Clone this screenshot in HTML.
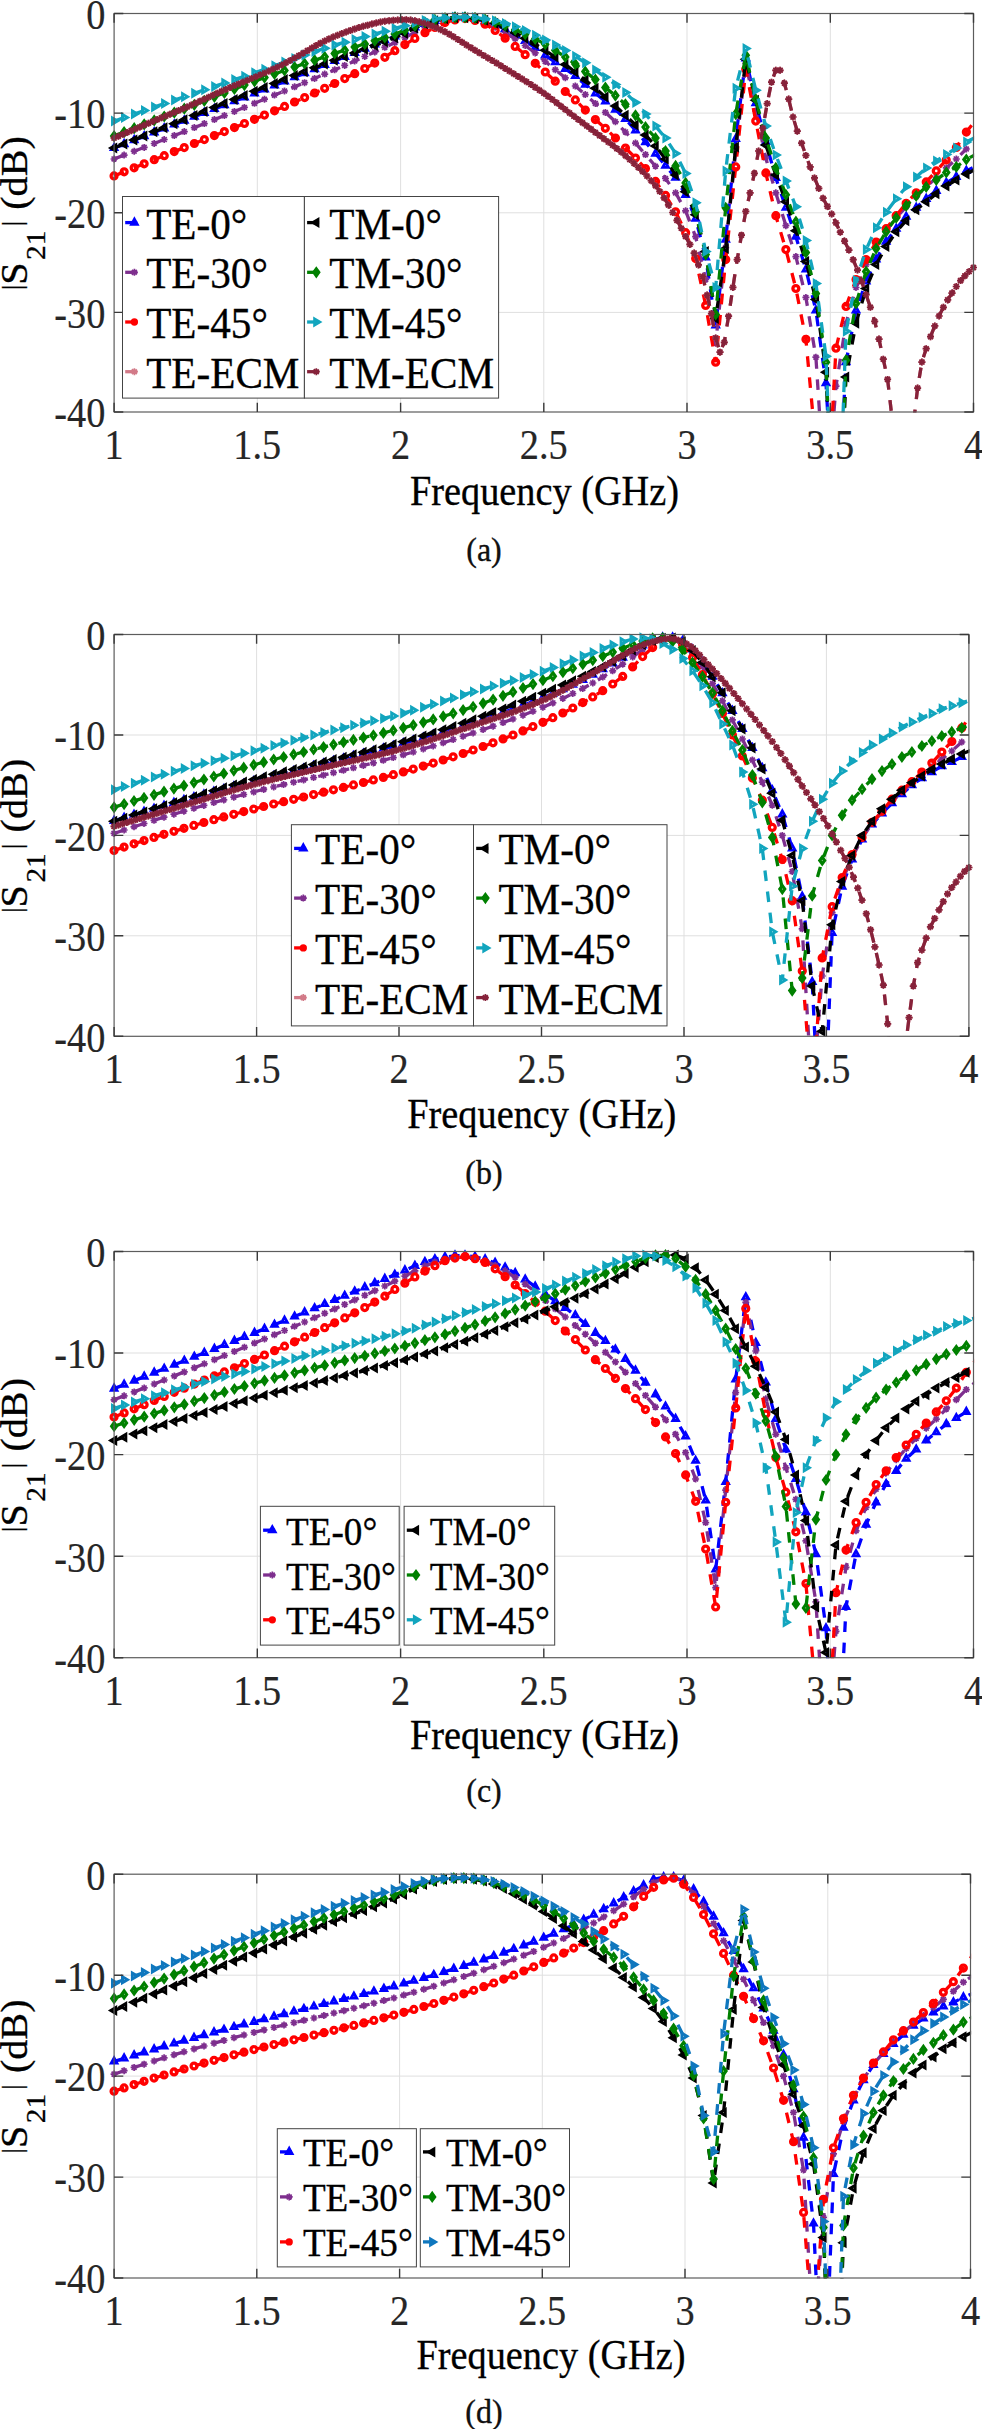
<!DOCTYPE html>
<html><head><meta charset="utf-8"><title>S21 figure</title>
<style>html,body{margin:0;padding:0;background:#fff}svg{display:block}text{font-family:'Liberation Serif',serif}</style></head>
<body>
<svg width="982" height="2429" viewBox="0 0 982 2429">
<rect width="982" height="2429" fill="#fff"/>
<clipPath id="c0"><rect x="114.1" y="13" width="860" height="399.5"/></clipPath>
<path d="M257.3,13.5V412M400.6,13.5V412M543.8,13.5V412M687,13.5V412M830.3,13.5V412M114.1,113.1H973.5M114.1,212.8H973.5M114.1,312.4H973.5" stroke="#dfdfdf" stroke-width="1" fill="none"/>
<path clip-path="url(#c0)" d="M114.1,148L124.1,144.1L134.2,140.2L144.2,136.3L154.2,132.4L164.2,128.5L174.3,124.6L184.3,120.7L194.3,116.8L204.3,112.9L214.4,109L224.4,105.1L234.4,101.2L244.4,97.3L254.5,93.3L264.5,89.4L274.5,85.4L284.5,81.3L294.6,77.3L304.6,73.2L314.6,69.1L324.7,65.1L334.7,61L344.7,56.9L354.7,52.8L364.8,48.7L374.8,44.6L384.8,40.4L394.8,36.3L404.9,32.1L414.9,27.5L424.9,23.8L434.9,21L445,19L455,17.6L465,17.5L475,18.7L485.1,21.2L495.1,24.7L505.1,29.2L515.2,34.7L525.2,41L535.2,48L545.2,55.4L555.3,62.2L565.3,68.8L575.3,76L585.3,84.6L595.4,93.4L605.4,101.3L615.4,109.6L625.4,119L635.5,130.4L645.5,142.2L655.5,153.6L665.5,165.6L675.6,177.7L685.6,194.8L695.6,218.7L705.7,257.6L715.7,325.3L725.7,239.6L735.7,139L745.8,58.3L755.8,103.2L765.8,142L775.8,177.9L785.9,207.8L795.9,236.7L805.9,269.5L815.9,310.4L826,383.1L836,561.4L846,362.2L856,310.4L866.1,281.5L876.1,259.6L886.1,241.6L896.2,228.7L906.2,216.7L916.2,207.8L926.2,198.8L936.3,190.8L946.3,182.9L956.3,176.9L966.3,170.9L976.4,165.9" fill="none" stroke="#0000ff" stroke-width="3.3" stroke-dasharray="10.6 10.6"/>
<path d="M108.9,151.1L119.3,151.1L114.1,141.7ZM113.7,148.3L114.5,148.3L114.1,147.5ZM118.9,147.2L129.3,147.2L124.1,137.8ZM123.7,144.3L124.6,144.3L124.1,143.6ZM129,143.2L139.4,143.2L134.2,133.8ZM133.7,140.4L134.6,140.4L134.2,139.6ZM139,139.3L149.4,139.3L144.2,129.9ZM143.7,136.5L144.6,136.5L144.2,135.7ZM149,135.4L159.4,135.4L154.2,126ZM153.8,132.6L154.6,132.6L154.2,131.8ZM159,131.5L169.4,131.5L164.2,122.1ZM163.8,128.7L164.7,128.7L164.2,127.9ZM169.1,127.6L179.5,127.6L174.3,118.2ZM173.8,124.8L174.7,124.8L174.3,124ZM179.1,123.7L189.5,123.7L184.3,114.3ZM183.8,120.9L184.7,120.9L184.3,120.1ZM189.1,119.8L199.5,119.8L194.3,110.4ZM193.9,117L194.8,117L194.3,116.2ZM199.1,115.9L209.5,115.9L204.3,106.5ZM203.9,113.1L204.8,113.1L204.3,112.3ZM209.2,112.1L219.6,112.1L214.4,102.7ZM213.9,109.2L214.8,109.2L214.4,108.4ZM219.2,108.2L229.6,108.2L224.4,98.8ZM223.9,105.4L224.8,105.4L224.4,104.6ZM229.2,104.3L239.6,104.3L234.4,94.9ZM234,101.5L234.9,101.5L234.4,100.7ZM239.2,100.4L249.6,100.4L244.4,91ZM244,97.5L244.9,97.5L244.4,96.7ZM249.3,96.4L259.7,96.4L254.5,87ZM254,93.6L254.9,93.6L254.5,92.8ZM259.3,92.4L269.7,92.4L264.5,83ZM264.1,89.6L264.9,89.6L264.5,88.8ZM269.3,88.4L279.7,88.4L274.5,79ZM274.1,85.6L275,85.6L274.5,84.8ZM279.3,84.4L289.7,84.4L284.5,75ZM284.1,81.6L285,81.6L284.5,80.8ZM289.4,80.3L299.8,80.3L294.6,70.9ZM294.1,77.5L295,77.5L294.6,76.7ZM299.4,76.3L309.8,76.3L304.6,66.9ZM304.2,73.5L305,73.5L304.6,72.7ZM309.4,72.2L319.8,72.2L314.6,62.8ZM314.2,69.4L315.1,69.4L314.6,68.6ZM319.5,68.1L329.9,68.1L324.7,58.7ZM324.2,65.3L325.1,65.3L324.7,64.5ZM329.5,64L339.9,64L334.7,54.6ZM334.2,61.2L335.1,61.2L334.7,60.4ZM339.5,60L349.9,60L344.7,50.6ZM344.3,57.2L345.1,57.2L344.7,56.4ZM349.5,55.9L359.9,55.9L354.7,46.5ZM354.3,53.1L355.2,53.1L354.7,52.3ZM359.6,51.8L370,51.8L364.8,42.4ZM364.3,49L365.2,49L364.8,48.2ZM369.6,47.6L380,47.6L374.8,38.2ZM374.3,44.8L375.2,44.8L374.8,44ZM379.6,43.5L390,43.5L384.8,34.1ZM384.4,40.7L385.3,40.7L384.8,39.9ZM389.6,39.4L400,39.4L394.8,30ZM394.4,36.6L395.3,36.6L394.8,35.8ZM399.7,35.1L410.1,35.1L404.9,25.7ZM404.4,32.3L405.3,32.3L404.9,31.5ZM409.7,30.6L420.1,30.6L414.9,21.2ZM414.4,27.8L415.3,27.8L414.9,27ZM419.7,26.9L430.1,26.9L424.9,17.5ZM424.5,24L425.4,24L424.9,23.2ZM429.7,24.1L440.1,24.1L434.9,14.7ZM434.5,21.3L435.4,21.3L434.9,20.5ZM439.8,22.1L450.2,22.1L445,12.7ZM444.5,19.3L445.4,19.3L445,18.5ZM449.8,20.6L460.2,20.6L455,11.2ZM454.6,17.8L455.4,17.8L455,17ZM459.8,20.6L470.2,20.6L465,11.2ZM464.6,17.8L465.5,17.8L465,17ZM469.8,21.8L480.2,21.8L475,12.4ZM474.6,19L475.5,19L475,18.2ZM479.9,24.2L490.3,24.2L485.1,14.8ZM484.6,21.4L485.5,21.4L485.1,20.6ZM489.9,27.8L500.3,27.8L495.1,18.4ZM494.7,25L495.5,25L495.1,24.2ZM499.9,32.3L510.3,32.3L505.1,22.9ZM504.7,29.5L505.6,29.5L505.1,28.7ZM510,37.8L520.4,37.8L515.2,28.4ZM514.7,35L515.6,35L515.2,34.2ZM520,44.1L530.4,44.1L525.2,34.7ZM524.7,41.3L525.6,41.3L525.2,40.5ZM530,51L540.4,51L535.2,41.6ZM534.8,48.2L535.6,48.2L535.2,47.4ZM540,58.4L550.4,58.4L545.2,49ZM544.8,55.6L545.7,55.6L545.2,54.8ZM550.1,65.2L560.5,65.2L555.3,55.8ZM554.8,62.4L555.7,62.4L555.3,61.6ZM560.1,71.9L570.5,71.9L565.3,62.5ZM564.8,69.1L565.7,69.1L565.3,68.3ZM570.1,79.1L580.5,79.1L575.3,69.7ZM574.9,76.3L575.8,76.3L575.3,75.5ZM580.1,87.7L590.5,87.7L585.3,78.3ZM584.9,84.9L585.8,84.9L585.3,84.1ZM590.2,96.5L600.6,96.5L595.4,87.1ZM594.9,93.7L595.8,93.7L595.4,92.9ZM600.2,104.4L610.6,104.4L605.4,95ZM604.9,101.6L605.8,101.6L605.4,100.8ZM610.2,112.7L620.6,112.7L615.4,103.3ZM615,109.9L615.9,109.9L615.4,109.1ZM620.2,122.1L630.6,122.1L625.4,112.7ZM625,119.2L625.9,119.2L625.4,118.5ZM630.3,133.5L640.7,133.5L635.5,124.1ZM635,130.7L635.9,130.7L635.5,129.9ZM640.3,145.2L650.7,145.2L645.5,135.8ZM645.1,142.4L645.9,142.4L645.5,141.6ZM650.3,156.7L660.7,156.7L655.5,147.3ZM655.1,153.9L656,153.9L655.5,153.1ZM660.3,168.7L670.7,168.7L665.5,159.3ZM665.1,165.8L666,165.8L665.5,165ZM670.4,180.8L680.8,180.8L675.6,171.4ZM675.1,178L676,178L675.6,177.2ZM680.4,197.9L690.8,197.9L685.6,188.5ZM685.2,195.1L686,195.1L685.6,194.3ZM690.4,221.8L700.8,221.8L695.6,212.4ZM695.2,219L696.1,219L695.6,218.2ZM700.5,260.6L710.9,260.6L705.7,251.2ZM705.2,257.8L706.1,257.8L705.7,257ZM710.5,328.4L720.9,328.4L715.7,319ZM715.2,325.6L716.1,325.6L715.7,324.8ZM720.5,242.7L730.9,242.7L725.7,233.3ZM725.3,239.9L726.1,239.9L725.7,239.1ZM730.5,142.1L740.9,142.1L735.7,132.7ZM735.3,139.3L736.2,139.3L735.7,138.5ZM740.6,61.4L751,61.4L745.8,52ZM745.3,58.6L746.2,58.6L745.8,57.8ZM750.6,106.2L761,106.2L755.8,96.8ZM755.3,103.4L756.2,103.4L755.8,102.6ZM760.6,145.1L771,145.1L765.8,135.7ZM765.4,142.3L766.3,142.3L765.8,141.5ZM770.6,180.9L781,180.9L775.8,171.5ZM775.4,178.1L776.3,178.1L775.8,177.3ZM780.7,210.8L791.1,210.8L785.9,201.4ZM785.4,208L786.3,208L785.9,207.2ZM790.7,239.7L801.1,239.7L795.9,230.3ZM795.4,236.9L796.3,236.9L795.9,236.1ZM800.7,272.6L811.1,272.6L805.9,263.2ZM805.5,269.8L806.4,269.8L805.9,269ZM810.7,313.4L821.1,313.4L815.9,304ZM815.5,310.6L816.4,310.6L815.9,309.8ZM820.8,386.2L831.2,386.2L826,376.8ZM825.5,383.4L826.4,383.4L826,382.6ZM840.8,365.3L851.2,365.3L846,355.9ZM845.6,362.4L846.5,362.4L846,361.6ZM850.8,313.4L861.2,313.4L856,304ZM855.6,310.6L856.5,310.6L856,309.8ZM860.9,284.6L871.3,284.6L866.1,275.2ZM865.6,281.8L866.5,281.8L866.1,281ZM870.9,262.6L881.3,262.6L876.1,253.2ZM875.7,259.8L876.5,259.8L876.1,259ZM880.9,244.7L891.3,244.7L886.1,235.3ZM885.7,241.9L886.6,241.9L886.1,241.1ZM891,231.8L901.4,231.8L896.2,222.4ZM895.7,229L896.6,229L896.2,228.2ZM901,219.8L911.4,219.8L906.2,210.4ZM905.7,217L906.6,217L906.2,216.2ZM911,210.8L921.4,210.8L916.2,201.4ZM915.8,208L916.6,208L916.2,207.2ZM921,201.9L931.4,201.9L926.2,192.5ZM925.8,199.1L926.7,199.1L926.2,198.3ZM931.1,193.9L941.5,193.9L936.3,184.5ZM935.8,191.1L936.7,191.1L936.3,190.3ZM941.1,185.9L951.5,185.9L946.3,176.5ZM945.8,183.1L946.7,183.1L946.3,182.3ZM951.1,180L961.5,180L956.3,170.6ZM955.9,177.1L956.8,177.1L956.3,176.3ZM961.1,174L971.5,174L966.3,164.6ZM965.9,171.2L966.8,171.2L966.3,170.4Z" fill="#0000ff" fill-rule="evenodd"/>
<path clip-path="url(#c0)" d="M114.1,159L124.1,155.1L134.2,151.2L144.2,147.4L154.2,143.5L164.2,139.5L174.3,135.6L184.3,131.6L194.3,127.6L204.3,123.6L214.4,119.6L224.4,115.6L234.4,111.5L244.4,107.4L254.5,103.3L264.5,99.2L274.5,95.1L284.5,91L294.6,86.8L304.6,82.7L314.6,78.4L324.7,74.1L334.7,69.8L344.7,65.4L354.7,61L364.8,56.5L374.8,52L384.8,47.3L394.8,42.6L404.9,37.7L414.9,32.4L424.9,27.7L434.9,23.9L445,21L455,19.1L465,18.6L475,19.8L485.1,22.5L495.1,27.2L505.1,32.5L515.2,38.8L525.2,45.5L535.2,52.9L545.2,61.5L555.3,69.7L565.3,77.8L575.3,86L585.3,94.6L595.4,103.4L605.4,112.4L615.4,121.8L625.4,132L635.5,143.1L645.5,154.6L655.5,166.2L665.5,178.5L675.6,192.8L685.6,210.8L695.6,236.7L705.7,279.5L715.7,343.3L725.7,247.6L735.7,152L745.8,63.3L755.8,111.1L765.8,158L775.8,192.8L785.9,225.7L795.9,256.6L805.9,297.4L815.9,357.2L826,511.6L836,386.1L846,323.3L856,287.5L866.1,264.6L876.1,246.6L886.1,230.7L896.2,217.7L906.2,206.8L916.2,196.8L926.2,186.8L936.3,177.9L946.3,167.9L956.3,159L966.3,149L976.4,141" fill="none" stroke="#7e2f8e" stroke-width="3.3" stroke-dasharray="10.6 10.6"/>
<path d="M110.6,159h7M114.1,155.5v7M111.6,156.5l4.9,4.9M111.6,161.4l4.9,-4.9M120.6,155.1h7M124.1,151.6v7M121.7,152.6l4.9,4.9M121.7,157.6l4.9,-4.9M130.7,151.2h7M134.2,147.7v7M131.7,148.8l4.9,4.9M131.7,153.7l4.9,-4.9M140.7,147.4h7M144.2,143.9v7M141.7,144.9l4.9,4.9M141.7,149.8l4.9,-4.9M150.7,143.5h7M154.2,140v7M151.7,141l4.9,4.9M151.7,145.9l4.9,-4.9M160.7,139.5h7M164.2,136v7M161.8,137.1l4.9,4.9M161.8,142l4.9,-4.9M170.8,135.6h7M174.3,132.1v7M171.8,133.1l4.9,4.9M171.8,138.1l4.9,-4.9M180.8,131.6h7M184.3,128.1v7M181.8,129.2l4.9,4.9M181.8,134.1l4.9,-4.9M190.8,127.6h7M194.3,124.1v7M191.8,125.2l4.9,4.9M191.8,130.1l4.9,-4.9M200.8,123.6h7M204.3,120.1v7M201.9,121.2l4.9,4.9M201.9,126.1l4.9,-4.9M210.9,119.6h7M214.4,116.1v7M211.9,117.1l4.9,4.9M211.9,122.1l4.9,-4.9M220.9,115.6h7M224.4,112.1v7M221.9,113.1l4.9,4.9M221.9,118.1l4.9,-4.9M230.9,111.5h7M234.4,108v7M231.9,109l4.9,4.9M231.9,114l4.9,-4.9M240.9,107.4h7M244.4,103.9v7M242,105l4.9,4.9M242,109.9l4.9,-4.9M251,103.3h7M254.5,99.8v7M252,100.9l4.9,4.9M252,105.8l4.9,-4.9M261,99.2h7M264.5,95.7v7M262,96.8l4.9,4.9M262,101.7l4.9,-4.9M271,95.1h7M274.5,91.6v7M272,92.6l4.9,4.9M272,97.6l4.9,-4.9M281,91h7M284.5,87.5v7M282.1,88.5l4.9,4.9M282.1,93.5l4.9,-4.9M291.1,86.8h7M294.6,83.3v7M292.1,84.4l4.9,4.9M292.1,89.3l4.9,-4.9M301.1,82.7h7M304.6,79.2v7M302.1,80.2l4.9,4.9M302.1,85.1l4.9,-4.9M311.1,78.4h7M314.6,74.9v7M312.2,76l4.9,4.9M312.2,80.9l4.9,-4.9M321.2,74.1h7M324.7,70.6v7M322.2,71.7l4.9,4.9M322.2,76.6l4.9,-4.9M331.2,69.8h7M334.7,66.3v7M332.2,67.3l4.9,4.9M332.2,72.3l4.9,-4.9M341.2,65.4h7M344.7,61.9v7M342.2,62.9l4.9,4.9M342.2,67.9l4.9,-4.9M351.2,61h7M354.7,57.5v7M352.3,58.5l4.9,4.9M352.3,63.5l4.9,-4.9M361.3,56.5h7M364.8,53v7M362.3,54l4.9,4.9M362.3,59l4.9,-4.9M371.3,52h7M374.8,48.5v7M372.3,49.5l4.9,4.9M372.3,54.4l4.9,-4.9M381.3,47.3h7M384.8,43.8v7M382.3,44.9l4.9,4.9M382.3,49.8l4.9,-4.9M391.3,42.6h7M394.8,39.1v7M392.4,40.2l4.9,4.9M392.4,45.1l4.9,-4.9M401.4,37.7h7M404.9,34.2v7M402.4,35.3l4.9,4.9M402.4,40.2l4.9,-4.9M411.4,32.4h7M414.9,28.9v7M412.4,29.9l4.9,4.9M412.4,34.9l4.9,-4.9M421.4,27.7h7M424.9,24.2v7M422.4,25.2l4.9,4.9M422.4,30.2l4.9,-4.9M431.4,23.9h7M434.9,20.4v7M432.5,21.4l4.9,4.9M432.5,26.4l4.9,-4.9M441.5,21h7M445,17.5v7M442.5,18.6l4.9,4.9M442.5,23.5l4.9,-4.9M451.5,19.1h7M455,15.6v7M452.5,16.6l4.9,4.9M452.5,21.6l4.9,-4.9M461.5,18.6h7M465,15.1v7M462.5,16.1l4.9,4.9M462.5,21l4.9,-4.9M471.5,19.8h7M475,16.3v7M472.6,17.3l4.9,4.9M472.6,22.3l4.9,-4.9M481.6,22.5h7M485.1,19v7M482.6,20l4.9,4.9M482.6,24.9l4.9,-4.9M491.6,27.2h7M495.1,23.7v7M492.6,24.7l4.9,4.9M492.6,29.6l4.9,-4.9M501.6,32.5h7M505.1,29v7M502.7,30.1l4.9,4.9M502.7,35l4.9,-4.9M511.7,38.8h7M515.2,35.3v7M512.7,36.3l4.9,4.9M512.7,41.2l4.9,-4.9M521.7,45.5h7M525.2,42v7M522.7,43l4.9,4.9M522.7,47.9l4.9,-4.9M531.7,52.9h7M535.2,49.4v7M532.7,50.4l4.9,4.9M532.7,55.4l4.9,-4.9M541.7,61.5h7M545.2,58v7M542.8,59.1l4.9,4.9M542.8,64l4.9,-4.9M551.8,69.7h7M555.3,66.2v7M552.8,67.3l4.9,4.9M552.8,72.2l4.9,-4.9M561.8,77.8h7M565.3,74.3v7M562.8,75.3l4.9,4.9M562.8,80.2l4.9,-4.9M571.8,86h7M575.3,82.5v7M572.8,83.5l4.9,4.9M572.8,88.5l4.9,-4.9M581.8,94.6h7M585.3,91.1v7M582.9,92.1l4.9,4.9M582.9,97.1l4.9,-4.9M591.9,103.4h7M595.4,99.9v7M592.9,101l4.9,4.9M592.9,105.9l4.9,-4.9M601.9,112.4h7M605.4,108.9v7M602.9,109.9l4.9,4.9M602.9,114.9l4.9,-4.9M611.9,121.8h7M615.4,118.3v7M612.9,119.3l4.9,4.9M612.9,124.2l4.9,-4.9M621.9,132h7M625.4,128.5v7M623,129.5l4.9,4.9M623,134.4l4.9,-4.9M632,143.1h7M635.5,139.6v7M633,140.6l4.9,4.9M633,145.5l4.9,-4.9M642,154.6h7M645.5,151.1v7M643,152.2l4.9,4.9M643,157.1l4.9,-4.9M652,166.2h7M655.5,162.7v7M653,163.7l4.9,4.9M653,168.7l4.9,-4.9M662,178.5h7M665.5,175v7M663.1,176l4.9,4.9M663.1,181l4.9,-4.9M672.1,192.8h7M675.6,189.3v7M673.1,190.4l4.9,4.9M673.1,195.3l4.9,-4.9M682.1,210.8h7M685.6,207.3v7M683.1,208.3l4.9,4.9M683.1,213.2l4.9,-4.9M692.1,236.7h7M695.6,233.2v7M693.2,234.2l4.9,4.9M693.2,239.1l4.9,-4.9M702.2,279.5h7M705.7,276v7M703.2,277l4.9,4.9M703.2,282l4.9,-4.9M712.2,343.3h7M715.7,339.8v7M713.2,340.8l4.9,4.9M713.2,345.7l4.9,-4.9M722.2,247.6h7M725.7,244.1v7M723.2,245.1l4.9,4.9M723.2,250.1l4.9,-4.9M732.2,152h7M735.7,148.5v7M733.3,149.5l4.9,4.9M733.3,154.5l4.9,-4.9M742.3,63.3h7M745.8,59.8v7M743.3,60.8l4.9,4.9M743.3,65.8l4.9,-4.9M752.3,111.1h7M755.8,107.6v7M753.3,108.7l4.9,4.9M753.3,113.6l4.9,-4.9M762.3,158h7M765.8,154.5v7M763.3,155.5l4.9,4.9M763.3,160.4l4.9,-4.9M772.3,192.8h7M775.8,189.3v7M773.4,190.4l4.9,4.9M773.4,195.3l4.9,-4.9M782.4,225.7h7M785.9,222.2v7M783.4,223.2l4.9,4.9M783.4,228.2l4.9,-4.9M792.4,256.6h7M795.9,253.1v7M793.4,254.1l4.9,4.9M793.4,259.1l4.9,-4.9M802.4,297.4h7M805.9,293.9v7M803.4,295l4.9,4.9M803.4,299.9l4.9,-4.9M812.4,357.2h7M815.9,353.7v7M813.5,354.7l4.9,4.9M813.5,359.7l4.9,-4.9M832.5,386.1h7M836,382.6v7M833.5,383.6l4.9,4.9M833.5,388.6l4.9,-4.9M842.5,323.3h7M846,319.8v7M843.5,320.9l4.9,4.9M843.5,325.8l4.9,-4.9M852.5,287.5h7M856,284v7M853.6,285l4.9,4.9M853.6,289.9l4.9,-4.9M862.6,264.6h7M866.1,261.1v7M863.6,262.1l4.9,4.9M863.6,267l4.9,-4.9M872.6,246.6h7M876.1,243.1v7M873.6,244.1l4.9,4.9M873.6,249.1l4.9,-4.9M882.6,230.7h7M886.1,227.2v7M883.7,228.2l4.9,4.9M883.7,233.2l4.9,-4.9M892.7,217.7h7M896.2,214.2v7M893.7,215.3l4.9,4.9M893.7,220.2l4.9,-4.9M902.7,206.8h7M906.2,203.3v7M903.7,204.3l4.9,4.9M903.7,209.2l4.9,-4.9M912.7,196.8h7M916.2,193.3v7M913.7,194.3l4.9,4.9M913.7,199.3l4.9,-4.9M922.7,186.8h7M926.2,183.3v7M923.8,184.4l4.9,4.9M923.8,189.3l4.9,-4.9M932.8,177.9h7M936.3,174.4v7M933.8,175.4l4.9,4.9M933.8,180.4l4.9,-4.9M942.8,167.9h7M946.3,164.4v7M943.8,165.4l4.9,4.9M943.8,170.4l4.9,-4.9M952.8,159h7M956.3,155.5v7M953.8,156.5l4.9,4.9M953.8,161.4l4.9,-4.9M962.8,149h7M966.3,145.5v7M963.9,146.5l4.9,4.9M963.9,151.5l4.9,-4.9" fill="none" stroke="#7e2f8e" stroke-width="1.7"/>
<path clip-path="url(#c0)" d="M114.1,175.9L124.1,171.8L134.2,167.8L144.2,163.8L154.2,159.7L164.2,155.7L174.3,151.6L184.3,147.6L194.3,143.5L204.3,139.6L214.4,135.6L224.4,131.6L234.4,127.6L244.4,123.5L254.5,119.3L264.5,115.1L274.5,110.8L284.5,106.4L294.6,102L304.6,97.6L314.6,93L324.7,88.3L334.7,83.5L344.7,78.6L354.7,73.7L364.8,68.5L374.8,63.1L384.8,57.3L394.8,50.7L404.9,44.6L414.9,38.4L424.9,32.7L434.9,27.4L445,22.6L455,20L465,18.5L475,20.5L485.1,24.2L495.1,30.4L505.1,38.2L515.2,46.4L525.2,54.7L535.2,63.3L545.2,72L555.3,81.2L565.3,91.5L575.3,99.9L585.3,110.1L595.4,119.6L605.4,128.3L615.4,138L625.4,148L635.5,158L645.5,168.6L655.5,181.4L665.5,195.4L675.6,211.8L685.6,232.7L695.6,258.6L705.7,305.4L715.7,362.2L725.7,259.6L735.7,166.9L745.8,69.3L755.8,121.1L765.8,172.9L775.8,215.7L785.9,249.6L795.9,288.5L805.9,339.3L815.9,446.9L826,531.6L836,348.2L846,306.4L856,279.5L866.1,259.6L876.1,242.1L886.1,228.7L896.2,215.7L906.2,203.3L916.2,192.8L926.2,181.9L936.3,170.9L946.3,159.9L956.3,147.5L966.3,132.1L976.4,119.1" fill="none" stroke="#ff0000" stroke-width="3.3" stroke-dasharray="10.6 10.6"/>
<path d="M111.1,175.9a2.95,2.95 0 1,0 5.9,0a2.95,2.95 0 1,0 -5.9,0M121.2,171.8a2.95,2.95 0 1,0 5.9,0a2.95,2.95 0 1,0 -5.9,0M131.2,167.8a2.95,2.95 0 1,0 5.9,0a2.95,2.95 0 1,0 -5.9,0M141.2,163.8a2.95,2.95 0 1,0 5.9,0a2.95,2.95 0 1,0 -5.9,0M151.3,159.7a2.95,2.95 0 1,0 5.9,0a2.95,2.95 0 1,0 -5.9,0M161.3,155.7a2.95,2.95 0 1,0 5.9,0a2.95,2.95 0 1,0 -5.9,0M171.3,151.6a2.95,2.95 0 1,0 5.9,0a2.95,2.95 0 1,0 -5.9,0M181.3,147.6a2.95,2.95 0 1,0 5.9,0a2.95,2.95 0 1,0 -5.9,0M191.4,143.5a2.95,2.95 0 1,0 5.9,0a2.95,2.95 0 1,0 -5.9,0M201.4,139.6a2.95,2.95 0 1,0 5.9,0a2.95,2.95 0 1,0 -5.9,0M211.4,135.6a2.95,2.95 0 1,0 5.9,0a2.95,2.95 0 1,0 -5.9,0M221.4,131.6a2.95,2.95 0 1,0 5.9,0a2.95,2.95 0 1,0 -5.9,0M231.5,127.6a2.95,2.95 0 1,0 5.9,0a2.95,2.95 0 1,0 -5.9,0M241.5,123.5a2.95,2.95 0 1,0 5.9,0a2.95,2.95 0 1,0 -5.9,0M251.5,119.3a2.95,2.95 0 1,0 5.9,0a2.95,2.95 0 1,0 -5.9,0M261.5,115.1a2.95,2.95 0 1,0 5.9,0a2.95,2.95 0 1,0 -5.9,0M271.6,110.8a2.95,2.95 0 1,0 5.9,0a2.95,2.95 0 1,0 -5.9,0M281.6,106.4a2.95,2.95 0 1,0 5.9,0a2.95,2.95 0 1,0 -5.9,0M291.6,102a2.95,2.95 0 1,0 5.9,0a2.95,2.95 0 1,0 -5.9,0M301.7,97.6a2.95,2.95 0 1,0 5.9,0a2.95,2.95 0 1,0 -5.9,0M311.7,93a2.95,2.95 0 1,0 5.9,0a2.95,2.95 0 1,0 -5.9,0M321.7,88.3a2.95,2.95 0 1,0 5.9,0a2.95,2.95 0 1,0 -5.9,0M331.7,83.5a2.95,2.95 0 1,0 5.9,0a2.95,2.95 0 1,0 -5.9,0M341.8,78.6a2.95,2.95 0 1,0 5.9,0a2.95,2.95 0 1,0 -5.9,0M351.8,73.7a2.95,2.95 0 1,0 5.9,0a2.95,2.95 0 1,0 -5.9,0M361.8,68.5a2.95,2.95 0 1,0 5.9,0a2.95,2.95 0 1,0 -5.9,0M371.8,63.1a2.95,2.95 0 1,0 5.9,0a2.95,2.95 0 1,0 -5.9,0M381.9,57.3a2.95,2.95 0 1,0 5.9,0a2.95,2.95 0 1,0 -5.9,0M391.9,50.7a2.95,2.95 0 1,0 5.9,0a2.95,2.95 0 1,0 -5.9,0M401.9,44.6a2.95,2.95 0 1,0 5.9,0a2.95,2.95 0 1,0 -5.9,0M411.9,38.4a2.95,2.95 0 1,0 5.9,0a2.95,2.95 0 1,0 -5.9,0M422,32.7a2.95,2.95 0 1,0 5.9,0a2.95,2.95 0 1,0 -5.9,0M432,27.4a2.95,2.95 0 1,0 5.9,0a2.95,2.95 0 1,0 -5.9,0M442,22.6a2.95,2.95 0 1,0 5.9,0a2.95,2.95 0 1,0 -5.9,0M452,20a2.95,2.95 0 1,0 5.9,0a2.95,2.95 0 1,0 -5.9,0M462.1,18.5a2.95,2.95 0 1,0 5.9,0a2.95,2.95 0 1,0 -5.9,0M472.1,20.5a2.95,2.95 0 1,0 5.9,0a2.95,2.95 0 1,0 -5.9,0M482.1,24.2a2.95,2.95 0 1,0 5.9,0a2.95,2.95 0 1,0 -5.9,0M492.2,30.4a2.95,2.95 0 1,0 5.9,0a2.95,2.95 0 1,0 -5.9,0M502.2,38.2a2.95,2.95 0 1,0 5.9,0a2.95,2.95 0 1,0 -5.9,0M512.2,46.4a2.95,2.95 0 1,0 5.9,0a2.95,2.95 0 1,0 -5.9,0M522.2,54.7a2.95,2.95 0 1,0 5.9,0a2.95,2.95 0 1,0 -5.9,0M532.3,63.3a2.95,2.95 0 1,0 5.9,0a2.95,2.95 0 1,0 -5.9,0M542.3,72a2.95,2.95 0 1,0 5.9,0a2.95,2.95 0 1,0 -5.9,0M552.3,81.2a2.95,2.95 0 1,0 5.9,0a2.95,2.95 0 1,0 -5.9,0M562.3,91.5a2.95,2.95 0 1,0 5.9,0a2.95,2.95 0 1,0 -5.9,0M572.4,99.9a2.95,2.95 0 1,0 5.9,0a2.95,2.95 0 1,0 -5.9,0M582.4,110.1a2.95,2.95 0 1,0 5.9,0a2.95,2.95 0 1,0 -5.9,0M592.4,119.6a2.95,2.95 0 1,0 5.9,0a2.95,2.95 0 1,0 -5.9,0M602.4,128.3a2.95,2.95 0 1,0 5.9,0a2.95,2.95 0 1,0 -5.9,0M612.5,138a2.95,2.95 0 1,0 5.9,0a2.95,2.95 0 1,0 -5.9,0M622.5,148a2.95,2.95 0 1,0 5.9,0a2.95,2.95 0 1,0 -5.9,0M632.5,158a2.95,2.95 0 1,0 5.9,0a2.95,2.95 0 1,0 -5.9,0M642.5,168.6a2.95,2.95 0 1,0 5.9,0a2.95,2.95 0 1,0 -5.9,0M652.6,181.4a2.95,2.95 0 1,0 5.9,0a2.95,2.95 0 1,0 -5.9,0M662.6,195.4a2.95,2.95 0 1,0 5.9,0a2.95,2.95 0 1,0 -5.9,0M672.6,211.8a2.95,2.95 0 1,0 5.9,0a2.95,2.95 0 1,0 -5.9,0M682.7,232.7a2.95,2.95 0 1,0 5.9,0a2.95,2.95 0 1,0 -5.9,0M692.7,258.6a2.95,2.95 0 1,0 5.9,0a2.95,2.95 0 1,0 -5.9,0M702.7,305.4a2.95,2.95 0 1,0 5.9,0a2.95,2.95 0 1,0 -5.9,0M712.7,362.2a2.95,2.95 0 1,0 5.9,0a2.95,2.95 0 1,0 -5.9,0M722.8,259.6a2.95,2.95 0 1,0 5.9,0a2.95,2.95 0 1,0 -5.9,0M732.8,166.9a2.95,2.95 0 1,0 5.9,0a2.95,2.95 0 1,0 -5.9,0M742.8,69.3a2.95,2.95 0 1,0 5.9,0a2.95,2.95 0 1,0 -5.9,0M752.8,121.1a2.95,2.95 0 1,0 5.9,0a2.95,2.95 0 1,0 -5.9,0M762.9,172.9a2.95,2.95 0 1,0 5.9,0a2.95,2.95 0 1,0 -5.9,0M772.9,215.7a2.95,2.95 0 1,0 5.9,0a2.95,2.95 0 1,0 -5.9,0M782.9,249.6a2.95,2.95 0 1,0 5.9,0a2.95,2.95 0 1,0 -5.9,0M792.9,288.5a2.95,2.95 0 1,0 5.9,0a2.95,2.95 0 1,0 -5.9,0M803,339.3a2.95,2.95 0 1,0 5.9,0a2.95,2.95 0 1,0 -5.9,0M833,348.2a2.95,2.95 0 1,0 5.9,0a2.95,2.95 0 1,0 -5.9,0M843.1,306.4a2.95,2.95 0 1,0 5.9,0a2.95,2.95 0 1,0 -5.9,0M853.1,279.5a2.95,2.95 0 1,0 5.9,0a2.95,2.95 0 1,0 -5.9,0M863.1,259.6a2.95,2.95 0 1,0 5.9,0a2.95,2.95 0 1,0 -5.9,0M873.2,242.1a2.95,2.95 0 1,0 5.9,0a2.95,2.95 0 1,0 -5.9,0M883.2,228.7a2.95,2.95 0 1,0 5.9,0a2.95,2.95 0 1,0 -5.9,0M893.2,215.7a2.95,2.95 0 1,0 5.9,0a2.95,2.95 0 1,0 -5.9,0M903.2,203.3a2.95,2.95 0 1,0 5.9,0a2.95,2.95 0 1,0 -5.9,0M913.3,192.8a2.95,2.95 0 1,0 5.9,0a2.95,2.95 0 1,0 -5.9,0M923.3,181.9a2.95,2.95 0 1,0 5.9,0a2.95,2.95 0 1,0 -5.9,0M933.3,170.9a2.95,2.95 0 1,0 5.9,0a2.95,2.95 0 1,0 -5.9,0M943.3,159.9a2.95,2.95 0 1,0 5.9,0a2.95,2.95 0 1,0 -5.9,0M953.4,147.5a2.95,2.95 0 1,0 5.9,0a2.95,2.95 0 1,0 -5.9,0M963.4,132.1a2.95,2.95 0 1,0 5.9,0a2.95,2.95 0 1,0 -5.9,0" fill="none" stroke="#ff0000" stroke-width="3.3"/>
<path clip-path="url(#c0)" d="M114.1,138L118.4,136.2L122.7,134.3L127,132.5L131.3,130.7L135.6,128.8L139.9,127L144.2,125.1L148.5,123.3L152.8,121.5L157.1,119.6L161.4,117.8L165.7,116L170,114.2L174.3,112.4L178.6,110.6L182.9,108.8L187.1,107L191.4,105.1L195.7,103.2L200,101.2L204.3,99.2L208.6,97.2L212.9,95.2L217.2,93.3L221.5,91.3L225.8,89.4L230.1,87.5L234.4,85.6L238.7,83.9L243,82.1L247.3,80.3L251.6,78.5L255.9,76.7L260.2,74.8L264.5,72.9L268.8,71L273.1,69.1L277.4,67L281.7,65L286,62.7L290.3,60.4L294.6,58.1L298.9,55.7L303.2,53.2L307.5,50.7L311.8,48.1L316.1,45.6L320.4,43.2L324.7,41L328.9,38.9L333.2,37.1L337.5,35.3L341.8,33.6L346.1,31.9L350.4,30.4L354.7,28.9L359,27.6L363.3,26.3L367.6,25.2L371.9,24L376.2,23L380.5,22L384.8,21.2L389.1,20.7L393.4,20.3L397.7,20L402,19.8L406.3,19.7L410.6,20L414.9,20.8L419.2,21.8L423.5,23L427.8,24.3L432.1,25.9L436.4,27.7L440.7,29.7L445,31.8L449.3,34.2L453.6,36.8L457.9,39.5L462.2,42.2L466.5,45L470.8,47.7L475,50.3L479.3,52.8L483.6,55.4L487.9,57.9L492.2,60.5L496.5,63.1L500.8,65.7L505.1,68.4L509.4,71L513.7,73.7L518,76.4L522.3,79L526.6,81.8L530.9,84.5L535.2,87.3L539.5,90.2L543.8,93.2L548.1,96.3L552.4,99.5L556.7,102.8L561,106.2L565.3,109.6L569.6,112.9L573.9,116.2L578.2,119.4L582.5,122.7L586.8,125.9L591.1,129.2L595.4,132.4L599.7,135.6L604,138.8L608.3,142L612.6,145.2L616.8,148.6L621.1,152.1L625.4,155.7L629.7,159.5L634,163.4L638.3,167.4L642.6,171.6L646.9,176L651.2,180.7L655.5,185.7L659.8,191.4L664.1,197.8L668.4,204.9L672.7,212.5L677,220.3L681.3,228.2L685.6,236.4L689.9,244.4L694.2,253.1L698.5,264.9L702.8,276.7L707.1,295.1L711.4,313.6L715.7,338L720,352.2L724.3,342.3L728.6,316.2L732.9,287.4L737.2,259.6L741.5,235.2L745.8,211.4L750.1,192.8L754.4,173.3L758.6,151L762.9,128.1L767.2,103.6L771.5,82.2L775.8,70.3L780.1,70.3L784.4,83.2L788.7,99.1L793,117L797.3,131.2L801.6,143.2L805.9,155.4L810.2,166.9L814.5,177.9L818.8,188.4L823.1,198.2L827.4,206.4L831.7,214.1L836,222.9L840.3,232.2L844.6,241.2L848.9,250.1L853.2,259.7L857.5,270.1L861.8,281.8L866.1,294.6L870.4,307.3L874.7,321.3L879,339.1L883.3,359.2L887.6,379.4L891.9,416.9L896.2,469.4L900.5,570.8L904.7,589.8L909,491.7L913.3,424.9L917.6,388.1L921.9,362.1L926.2,348.7L930.5,336.7L934.8,325.9L939.1,316L943.4,307.3L947.7,299.9L952,293.1L956.3,286.5L960.6,280.6L964.9,275.8L969.2,271.5L973.5,267.5" fill="none" stroke="#d27a88" stroke-width="3.3" stroke-dasharray="10.6 10.6"/>
<path d="M110.6,138h7M114.1,134.5v7M111.6,135.6l4.9,4.9M111.6,140.5l4.9,-4.9M114.9,136.2h7M118.4,132.7v7M115.9,133.7l4.9,4.9M115.9,138.7l4.9,-4.9M119.2,134.3h7M122.7,130.8v7M120.2,131.9l4.9,4.9M120.2,136.8l4.9,-4.9M123.5,132.5h7M127,129v7M124.5,130l4.9,4.9M124.5,135l4.9,-4.9M127.8,130.7h7M131.3,127.2v7M128.8,128.2l4.9,4.9M128.8,133.1l4.9,-4.9M132.1,128.8h7M135.6,125.3v7M133.1,126.3l4.9,4.9M133.1,131.3l4.9,-4.9M136.4,127h7M139.9,123.5v7M137.4,124.5l4.9,4.9M137.4,129.5l4.9,-4.9M140.7,125.1h7M144.2,121.6v7M141.7,122.7l4.9,4.9M141.7,127.6l4.9,-4.9M145,123.3h7M148.5,119.8v7M146,120.8l4.9,4.9M146,125.8l4.9,-4.9M149.3,121.5h7M152.8,118v7M150.3,119l4.9,4.9M150.3,123.9l4.9,-4.9M153.6,119.6h7M157.1,116.1v7M154.6,117.2l4.9,4.9M154.6,122.1l4.9,-4.9M157.9,117.8h7M161.4,114.3v7M158.9,115.4l4.9,4.9M158.9,120.3l4.9,-4.9M162.2,116h7M165.7,112.5v7M163.2,113.6l4.9,4.9M163.2,118.5l4.9,-4.9M166.5,114.2h7M170,110.7v7M167.5,111.8l4.9,4.9M167.5,116.7l4.9,-4.9M170.8,112.4h7M174.3,108.9v7M171.8,110l4.9,4.9M171.8,114.9l4.9,-4.9M175.1,110.6h7M178.6,107.1v7M176.1,108.1l4.9,4.9M176.1,113.1l4.9,-4.9M179.4,108.8h7M182.9,105.3v7M180.4,106.3l4.9,4.9M180.4,111.3l4.9,-4.9M183.6,107h7M187.1,103.5v7M184.7,104.5l4.9,4.9M184.7,109.4l4.9,-4.9M187.9,105.1h7M191.4,101.6v7M189,102.6l4.9,4.9M189,107.6l4.9,-4.9M192.2,103.2h7M195.7,99.7v7M193.3,100.7l4.9,4.9M193.3,105.6l4.9,-4.9M196.5,101.2h7M200,97.7v7M197.6,98.7l4.9,4.9M197.6,103.7l4.9,-4.9M200.8,99.2h7M204.3,95.7v7M201.9,96.8l4.9,4.9M201.9,101.7l4.9,-4.9M205.1,97.2h7M208.6,93.7v7M206.2,94.8l4.9,4.9M206.2,99.7l4.9,-4.9M209.4,95.2h7M212.9,91.7v7M210.5,92.8l4.9,4.9M210.5,97.7l4.9,-4.9M213.7,93.3h7M217.2,89.8v7M214.8,90.8l4.9,4.9M214.8,95.7l4.9,-4.9M218,91.3h7M221.5,87.8v7M219.1,88.8l4.9,4.9M219.1,93.8l4.9,-4.9M222.3,89.4h7M225.8,85.9v7M223.3,86.9l4.9,4.9M223.3,91.8l4.9,-4.9M226.6,87.5h7M230.1,84v7M227.6,85l4.9,4.9M227.6,89.9l4.9,-4.9M230.9,85.6h7M234.4,82.1v7M231.9,83.2l4.9,4.9M231.9,88.1l4.9,-4.9M235.2,83.9h7M238.7,80.4v7M236.2,81.4l4.9,4.9M236.2,86.3l4.9,-4.9M239.5,82.1h7M243,78.6v7M240.5,79.6l4.9,4.9M240.5,84.6l4.9,-4.9M243.8,80.3h7M247.3,76.8v7M244.8,77.8l4.9,4.9M244.8,82.8l4.9,-4.9M248.1,78.5h7M251.6,75v7M249.1,76l4.9,4.9M249.1,81l4.9,-4.9M252.4,76.7h7M255.9,73.2v7M253.4,74.2l4.9,4.9M253.4,79.2l4.9,-4.9M256.7,74.8h7M260.2,71.3v7M257.7,72.3l4.9,4.9M257.7,77.3l4.9,-4.9M261,72.9h7M264.5,69.4v7M262,70.5l4.9,4.9M262,75.4l4.9,-4.9M265.3,71h7M268.8,67.5v7M266.3,68.5l4.9,4.9M266.3,73.5l4.9,-4.9M269.6,69.1h7M273.1,65.6v7M270.6,66.6l4.9,4.9M270.6,71.5l4.9,-4.9M273.9,67h7M277.4,63.5v7M274.9,64.6l4.9,4.9M274.9,69.5l4.9,-4.9M278.2,65h7M281.7,61.5v7M279.2,62.5l4.9,4.9M279.2,67.4l4.9,-4.9M282.5,62.7h7M286,59.2v7M283.5,60.3l4.9,4.9M283.5,65.2l4.9,-4.9M286.8,60.4h7M290.3,56.9v7M287.8,58l4.9,4.9M287.8,62.9l4.9,-4.9M291.1,58.1h7M294.6,54.6v7M292.1,55.7l4.9,4.9M292.1,60.6l4.9,-4.9M295.4,55.7h7M298.9,52.2v7M296.4,53.2l4.9,4.9M296.4,58.2l4.9,-4.9M299.7,53.2h7M303.2,49.7v7M300.7,50.7l4.9,4.9M300.7,55.7l4.9,-4.9M304,50.7h7M307.5,47.2v7M305,48.2l4.9,4.9M305,53.1l4.9,-4.9M308.3,48.1h7M311.8,44.6v7M309.3,45.6l4.9,4.9M309.3,50.6l4.9,-4.9M312.6,45.6h7M316.1,42.1v7M313.6,43.1l4.9,4.9M313.6,48.1l4.9,-4.9M316.9,43.2h7M320.4,39.7v7M317.9,40.7l4.9,4.9M317.9,45.7l4.9,-4.9M321.2,41h7M324.7,37.5v7M322.2,38.5l4.9,4.9M322.2,43.4l4.9,-4.9M325.4,38.9h7M328.9,35.4v7M326.5,36.4l4.9,4.9M326.5,41.4l4.9,-4.9M329.7,37.1h7M333.2,33.6v7M330.8,34.6l4.9,4.9M330.8,39.5l4.9,-4.9M334,35.3h7M337.5,31.8v7M335.1,32.8l4.9,4.9M335.1,37.7l4.9,-4.9M338.3,33.6h7M341.8,30.1v7M339.4,31.1l4.9,4.9M339.4,36l4.9,-4.9M342.6,31.9h7M346.1,28.4v7M343.7,29.5l4.9,4.9M343.7,34.4l4.9,-4.9M346.9,30.4h7M350.4,26.9v7M348,27.9l4.9,4.9M348,32.9l4.9,-4.9M351.2,28.9h7M354.7,25.4v7M352.3,26.4l4.9,4.9M352.3,31.4l4.9,-4.9M355.5,27.6h7M359,24.1v7M356.6,25.1l4.9,4.9M356.6,30l4.9,-4.9M359.8,26.3h7M363.3,22.8v7M360.9,23.8l4.9,4.9M360.9,28.8l4.9,-4.9M364.1,25.2h7M367.6,21.7v7M365.1,22.7l4.9,4.9M365.1,27.6l4.9,-4.9M368.4,24h7M371.9,20.5v7M369.4,21.6l4.9,4.9M369.4,26.5l4.9,-4.9M372.7,23h7M376.2,19.5v7M373.7,20.5l4.9,4.9M373.7,25.4l4.9,-4.9M377,22h7M380.5,18.5v7M378,19.5l4.9,4.9M378,24.5l4.9,-4.9M381.3,21.2h7M384.8,17.7v7M382.3,18.7l4.9,4.9M382.3,23.7l4.9,-4.9M385.6,20.7h7M389.1,17.2v7M386.6,18.2l4.9,4.9M386.6,23.1l4.9,-4.9M389.9,20.3h7M393.4,16.8v7M390.9,17.8l4.9,4.9M390.9,22.8l4.9,-4.9M394.2,20h7M397.7,16.5v7M395.2,17.5l4.9,4.9M395.2,22.5l4.9,-4.9M398.5,19.8h7M402,16.3v7M399.5,17.3l4.9,4.9M399.5,22.2l4.9,-4.9M402.8,19.7h7M406.3,16.2v7M403.8,17.2l4.9,4.9M403.8,22.2l4.9,-4.9M407.1,20h7M410.6,16.5v7M408.1,17.5l4.9,4.9M408.1,22.5l4.9,-4.9M411.4,20.8h7M414.9,17.3v7M412.4,18.3l4.9,4.9M412.4,23.2l4.9,-4.9M415.7,21.8h7M419.2,18.3v7M416.7,19.4l4.9,4.9M416.7,24.3l4.9,-4.9M420,23h7M423.5,19.5v7M421,20.5l4.9,4.9M421,25.4l4.9,-4.9M424.3,24.3h7M427.8,20.8v7M425.3,21.8l4.9,4.9M425.3,26.7l4.9,-4.9M428.6,25.9h7M432.1,22.4v7M429.6,23.4l4.9,4.9M429.6,28.3l4.9,-4.9M432.9,27.7h7M436.4,24.2v7M433.9,25.2l4.9,4.9M433.9,30.2l4.9,-4.9M437.2,29.7h7M440.7,26.2v7M438.2,27.2l4.9,4.9M438.2,32.1l4.9,-4.9M441.5,31.8h7M445,28.3v7M442.5,29.3l4.9,4.9M442.5,34.3l4.9,-4.9M445.8,34.2h7M449.3,30.7v7M446.8,31.7l4.9,4.9M446.8,36.6l4.9,-4.9M450.1,36.8h7M453.6,33.3v7M451.1,34.3l4.9,4.9M451.1,39.2l4.9,-4.9M454.4,39.5h7M457.9,36v7M455.4,37l4.9,4.9M455.4,41.9l4.9,-4.9M458.7,42.2h7M462.2,38.7v7M459.7,39.8l4.9,4.9M459.7,44.7l4.9,-4.9M463,45h7M466.5,41.5v7M464,42.5l4.9,4.9M464,47.5l4.9,-4.9M467.3,47.7h7M470.8,44.2v7M468.3,45.2l4.9,4.9M468.3,50.1l4.9,-4.9M471.5,50.3h7M475,46.8v7M472.6,47.8l4.9,4.9M472.6,52.7l4.9,-4.9M475.8,52.8h7M479.3,49.3v7M476.9,50.3l4.9,4.9M476.9,55.3l4.9,-4.9M480.1,55.4h7M483.6,51.9v7M481.2,52.9l4.9,4.9M481.2,57.9l4.9,-4.9M484.4,57.9h7M487.9,54.4v7M485.5,55.5l4.9,4.9M485.5,60.4l4.9,-4.9M488.7,60.5h7M492.2,57v7M489.8,58l4.9,4.9M489.8,63l4.9,-4.9M493,63.1h7M496.5,59.6v7M494.1,60.6l4.9,4.9M494.1,65.6l4.9,-4.9M497.3,65.7h7M500.8,62.2v7M498.4,63.3l4.9,4.9M498.4,68.2l4.9,-4.9M501.6,68.4h7M505.1,64.9v7M502.7,65.9l4.9,4.9M502.7,70.9l4.9,-4.9M505.9,71h7M509.4,67.5v7M506.9,68.6l4.9,4.9M506.9,73.5l4.9,-4.9M510.2,73.7h7M513.7,70.2v7M511.2,71.2l4.9,4.9M511.2,76.2l4.9,-4.9M514.5,76.4h7M518,72.9v7M515.5,73.9l4.9,4.9M515.5,78.8l4.9,-4.9M518.8,79h7M522.3,75.5v7M519.8,76.6l4.9,4.9M519.8,81.5l4.9,-4.9M523.1,81.8h7M526.6,78.3v7M524.1,79.3l4.9,4.9M524.1,84.2l4.9,-4.9M527.4,84.5h7M530.9,81v7M528.4,82l4.9,4.9M528.4,87l4.9,-4.9M531.7,87.3h7M535.2,83.8v7M532.7,84.9l4.9,4.9M532.7,89.8l4.9,-4.9M536,90.2h7M539.5,86.7v7M537,87.8l4.9,4.9M537,92.7l4.9,-4.9M540.3,93.2h7M543.8,89.7v7M541.3,90.7l4.9,4.9M541.3,95.7l4.9,-4.9M544.6,96.3h7M548.1,92.8v7M545.6,93.8l4.9,4.9M545.6,98.8l4.9,-4.9M548.9,99.5h7M552.4,96v7M549.9,97l4.9,4.9M549.9,102l4.9,-4.9M553.2,102.8h7M556.7,99.3v7M554.2,100.4l4.9,4.9M554.2,105.3l4.9,-4.9M557.5,106.2h7M561,102.7v7M558.5,103.7l4.9,4.9M558.5,108.7l4.9,-4.9M561.8,109.6h7M565.3,106.1v7M562.8,107.1l4.9,4.9M562.8,112l4.9,-4.9M566.1,112.9h7M569.6,109.4v7M567.1,110.4l4.9,4.9M567.1,115.4l4.9,-4.9M570.4,116.2h7M573.9,112.7v7M571.4,113.7l4.9,4.9M571.4,118.7l4.9,-4.9M574.7,119.4h7M578.2,115.9v7M575.7,117l4.9,4.9M575.7,121.9l4.9,-4.9M579,122.7h7M582.5,119.2v7M580,120.2l4.9,4.9M580,125.2l4.9,-4.9M583.3,125.9h7M586.8,122.4v7M584.3,123.4l4.9,4.9M584.3,128.4l4.9,-4.9M587.6,129.2h7M591.1,125.7v7M588.6,126.7l4.9,4.9M588.6,131.6l4.9,-4.9M591.9,132.4h7M595.4,128.9v7M592.9,130l4.9,4.9M592.9,134.9l4.9,-4.9M596.2,135.6h7M599.7,132.1v7M597.2,133.2l4.9,4.9M597.2,138.1l4.9,-4.9M600.5,138.8h7M604,135.3v7M601.5,136.3l4.9,4.9M601.5,141.3l4.9,-4.9M604.8,142h7M608.3,138.5v7M605.8,139.5l4.9,4.9M605.8,144.5l4.9,-4.9M609.1,145.2h7M612.6,141.7v7M610.1,142.8l4.9,4.9M610.1,147.7l4.9,-4.9M613.3,148.6h7M616.8,145.1v7M614.4,146.1l4.9,4.9M614.4,151.1l4.9,-4.9M617.6,152.1h7M621.1,148.6v7M618.7,149.6l4.9,4.9M618.7,154.5l4.9,-4.9M621.9,155.7h7M625.4,152.2v7M623,153.2l4.9,4.9M623,158.2l4.9,-4.9M626.2,159.5h7M629.7,156v7M627.3,157l4.9,4.9M627.3,162l4.9,-4.9M630.5,163.4h7M634,159.9v7M631.6,160.9l4.9,4.9M631.6,165.8l4.9,-4.9M634.8,167.4h7M638.3,163.9v7M635.9,164.9l4.9,4.9M635.9,169.8l4.9,-4.9M639.1,171.6h7M642.6,168.1v7M640.2,169.1l4.9,4.9M640.2,174l4.9,-4.9M643.4,176h7M646.9,172.5v7M644.5,173.5l4.9,4.9M644.5,178.5l4.9,-4.9M647.7,180.7h7M651.2,177.2v7M648.8,178.2l4.9,4.9M648.8,183.2l4.9,-4.9M652,185.7h7M655.5,182.2v7M653,183.2l4.9,4.9M653,188.2l4.9,-4.9M656.3,191.4h7M659.8,187.9v7M657.3,188.9l4.9,4.9M657.3,193.9l4.9,-4.9M660.6,197.8h7M664.1,194.3v7M661.6,195.3l4.9,4.9M661.6,200.3l4.9,-4.9M664.9,204.9h7M668.4,201.4v7M665.9,202.4l4.9,4.9M665.9,207.3l4.9,-4.9M669.2,212.5h7M672.7,209v7M670.2,210l4.9,4.9M670.2,215l4.9,-4.9M673.5,220.3h7M677,216.8v7M674.5,217.8l4.9,4.9M674.5,222.8l4.9,-4.9M677.8,228.2h7M681.3,224.7v7M678.8,225.7l4.9,4.9M678.8,230.7l4.9,-4.9M682.1,236.4h7M685.6,232.9v7M683.1,233.9l4.9,4.9M683.1,238.8l4.9,-4.9M686.4,244.4h7M689.9,240.9v7M687.4,242l4.9,4.9M687.4,246.9l4.9,-4.9M690.7,253.1h7M694.2,249.6v7M691.7,250.6l4.9,4.9M691.7,255.6l4.9,-4.9M695,264.9h7M698.5,261.4v7M696,262.4l4.9,4.9M696,267.4l4.9,-4.9M699.3,276.7h7M702.8,273.2v7M700.3,274.2l4.9,4.9M700.3,279.2l4.9,-4.9M703.6,295.1h7M707.1,291.6v7M704.6,292.7l4.9,4.9M704.6,297.6l4.9,-4.9M707.9,313.6h7M711.4,310.1v7M708.9,311.1l4.9,4.9M708.9,316.1l4.9,-4.9M712.2,338h7M715.7,334.5v7M713.2,335.5l4.9,4.9M713.2,340.4l4.9,-4.9M716.5,352.2h7M720,348.7v7M717.5,349.7l4.9,4.9M717.5,354.6l4.9,-4.9M720.8,342.3h7M724.3,338.8v7M721.8,339.8l4.9,4.9M721.8,344.7l4.9,-4.9M725.1,316.2h7M728.6,312.7v7M726.1,313.8l4.9,4.9M726.1,318.7l4.9,-4.9M729.4,287.4h7M732.9,283.9v7M730.4,284.9l4.9,4.9M730.4,289.8l4.9,-4.9M733.7,259.6h7M737.2,256.1v7M734.7,257.1l4.9,4.9M734.7,262l4.9,-4.9M738,235.2h7M741.5,231.7v7M739,232.7l4.9,4.9M739,237.6l4.9,-4.9M742.3,211.4h7M745.8,207.9v7M743.3,208.9l4.9,4.9M743.3,213.8l4.9,-4.9M746.6,192.8h7M750.1,189.3v7M747.6,190.4l4.9,4.9M747.6,195.3l4.9,-4.9M750.9,173.3h7M754.4,169.8v7M751.9,170.8l4.9,4.9M751.9,175.8l4.9,-4.9M755.1,151h7M758.6,147.5v7M756.2,148.5l4.9,4.9M756.2,153.5l4.9,-4.9M759.4,128.1h7M762.9,124.6v7M760.5,125.6l4.9,4.9M760.5,130.5l4.9,-4.9M763.7,103.6h7M767.2,100.1v7M764.8,101.1l4.9,4.9M764.8,106.1l4.9,-4.9M768,82.2h7M771.5,78.7v7M769.1,79.7l4.9,4.9M769.1,84.6l4.9,-4.9M772.3,70.3h7M775.8,66.8v7M773.4,67.8l4.9,4.9M773.4,72.8l4.9,-4.9M776.6,70.3h7M780.1,66.8v7M777.7,67.8l4.9,4.9M777.7,72.8l4.9,-4.9M780.9,83.2h7M784.4,79.7v7M782,80.8l4.9,4.9M782,85.7l4.9,-4.9M785.2,99.1h7M788.7,95.6v7M786.3,96.6l4.9,4.9M786.3,101.5l4.9,-4.9M789.5,117h7M793,113.5v7M790.6,114.6l4.9,4.9M790.6,119.5l4.9,-4.9M793.8,131.2h7M797.3,127.7v7M794.8,128.7l4.9,4.9M794.8,133.7l4.9,-4.9M798.1,143.2h7M801.6,139.7v7M799.1,140.7l4.9,4.9M799.1,145.7l4.9,-4.9M802.4,155.4h7M805.9,151.9v7M803.4,152.9l4.9,4.9M803.4,157.9l4.9,-4.9M806.7,166.9h7M810.2,163.4v7M807.7,164.4l4.9,4.9M807.7,169.4l4.9,-4.9M811,177.9h7M814.5,174.4v7M812,175.4l4.9,4.9M812,180.4l4.9,-4.9M815.3,188.4h7M818.8,184.9v7M816.3,186l4.9,4.9M816.3,190.9l4.9,-4.9M819.6,198.2h7M823.1,194.7v7M820.6,195.7l4.9,4.9M820.6,200.7l4.9,-4.9M823.9,206.4h7M827.4,202.9v7M824.9,203.9l4.9,4.9M824.9,208.8l4.9,-4.9M828.2,214.1h7M831.7,210.6v7M829.2,211.6l4.9,4.9M829.2,216.5l4.9,-4.9M832.5,222.9h7M836,219.4v7M833.5,220.4l4.9,4.9M833.5,225.4l4.9,-4.9M836.8,232.2h7M840.3,228.7v7M837.8,229.8l4.9,4.9M837.8,234.7l4.9,-4.9M841.1,241.2h7M844.6,237.7v7M842.1,238.7l4.9,4.9M842.1,243.6l4.9,-4.9M845.4,250.1h7M848.9,246.6v7M846.4,247.6l4.9,4.9M846.4,252.6l4.9,-4.9M849.7,259.7h7M853.2,256.2v7M850.7,257.2l4.9,4.9M850.7,262.2l4.9,-4.9M854,270.1h7M857.5,266.6v7M855,267.6l4.9,4.9M855,272.5l4.9,-4.9M858.3,281.8h7M861.8,278.3v7M859.3,279.3l4.9,4.9M859.3,284.2l4.9,-4.9M862.6,294.6h7M866.1,291.1v7M863.6,292.1l4.9,4.9M863.6,297.1l4.9,-4.9M866.9,307.3h7M870.4,303.8v7M867.9,304.8l4.9,4.9M867.9,309.8l4.9,-4.9M871.2,321.3h7M874.7,317.8v7M872.2,318.8l4.9,4.9M872.2,323.8l4.9,-4.9M875.5,339.1h7M879,335.6v7M876.5,336.7l4.9,4.9M876.5,341.6l4.9,-4.9M879.8,359.2h7M883.3,355.7v7M880.8,356.7l4.9,4.9M880.8,361.7l4.9,-4.9M884.1,379.4h7M887.6,375.9v7M885.1,376.9l4.9,4.9M885.1,381.8l4.9,-4.9M914.1,388.1h7M917.6,384.6v7M915.2,385.6l4.9,4.9M915.2,390.5l4.9,-4.9M918.4,362.1h7M921.9,358.6v7M919.5,359.6l4.9,4.9M919.5,364.6l4.9,-4.9M922.7,348.7h7M926.2,345.2v7M923.8,346.2l4.9,4.9M923.8,351.2l4.9,-4.9M927,336.7h7M930.5,333.2v7M928.1,334.2l4.9,4.9M928.1,339.2l4.9,-4.9M931.3,325.9h7M934.8,322.4v7M932.4,323.5l4.9,4.9M932.4,328.4l4.9,-4.9M935.6,316h7M939.1,312.5v7M936.6,313.6l4.9,4.9M936.6,318.5l4.9,-4.9M939.9,307.3h7M943.4,303.8v7M940.9,304.8l4.9,4.9M940.9,309.8l4.9,-4.9M944.2,299.9h7M947.7,296.4v7M945.2,297.4l4.9,4.9M945.2,302.4l4.9,-4.9M948.5,293.1h7M952,289.6v7M949.5,290.6l4.9,4.9M949.5,295.6l4.9,-4.9M952.8,286.5h7M956.3,283v7M953.8,284l4.9,4.9M953.8,289l4.9,-4.9M957.1,280.6h7M960.6,277.1v7M958.1,278.2l4.9,4.9M958.1,283.1l4.9,-4.9M961.4,275.8h7M964.9,272.3v7M962.4,273.4l4.9,4.9M962.4,278.3l4.9,-4.9M965.7,271.5h7M969.2,268v7M966.7,269.1l4.9,4.9M966.7,274l4.9,-4.9M970,267.5h7M973.5,264v7M971,265.1l4.9,4.9M971,270l4.9,-4.9" fill="none" stroke="#d27a88" stroke-width="1.7"/>
<path clip-path="url(#c0)" d="M114.1,148L124.1,143.9L134.2,139.9L144.2,135.9L154.2,131.8L164.2,127.8L174.3,123.7L184.3,119.7L194.3,115.6L204.3,111.6L214.4,107.5L224.4,103.4L234.4,99.4L244.4,95.4L254.5,91.3L264.5,87.4L274.5,83.4L284.5,79.5L294.6,75.6L304.6,71.7L314.6,67.8L324.7,64L334.7,60.2L344.7,56.5L354.7,52.9L364.8,49.3L374.8,45.6L384.8,41.8L394.8,37.8L404.9,33.4L414.9,28.1L424.9,23.8L434.9,20.7L445,18.7L455,17.8L465,17.8L475,18.5L485.1,20.3L495.1,23.3L505.1,27.5L515.2,32.7L525.2,38.2L535.2,44L545.2,50.3L555.3,57.1L565.3,64.4L575.3,72.1L585.3,80L595.4,88.3L605.4,96.9L615.4,106L625.4,115.3L635.5,124.9L645.5,135L655.5,146L665.5,159L675.6,174.9L685.6,191.8L695.6,214.7L705.7,251.6L715.7,318.4L725.7,248.6L735.7,147L745.8,59.3L755.8,100.2L765.8,145L775.8,174.9L785.9,201.8L795.9,230.7L805.9,261.6L815.9,299.4L826,372.2L836,611.2L846,377.1L856,323.3L866.1,288.5L876.1,264.6L886.1,246.6L896.2,231.7L906.2,220.7L916.2,209.8L926.2,201.8L936.3,193.8L946.3,185.9L956.3,179.9L966.3,173.9L976.4,168.9" fill="none" stroke="#000000" stroke-width="3.3" stroke-dasharray="10.6 10.6"/>
<path d="M117.2,142.5L117.2,153.5L107.9,148ZM114.4,147.5L114.4,148.5L113.6,148ZM127.3,138.4L127.3,149.4L118,143.9ZM124.4,143.5L124.4,144.4L123.6,143.9ZM137.3,134.4L137.3,145.4L128,139.9ZM134.4,139.4L134.4,140.4L133.6,139.9ZM147.3,130.4L147.3,141.4L138,135.9ZM144.4,135.4L144.4,136.3L143.7,135.9ZM157.3,126.3L157.3,137.3L148,131.8ZM154.5,131.3L154.5,132.3L153.7,131.8ZM167.4,122.3L167.4,133.3L158.1,127.8ZM164.5,127.3L164.5,128.2L163.7,127.8ZM177.4,118.2L177.4,129.2L168.1,123.7ZM174.5,123.3L174.5,124.2L173.7,123.7ZM187.4,114.2L187.4,125.2L178.1,119.7ZM184.6,119.2L184.6,120.1L183.8,119.7ZM197.4,110.1L197.4,121.1L188.1,115.6ZM194.6,115.2L194.6,116.1L193.8,115.6ZM207.5,106.1L207.5,117.1L198.2,111.6ZM204.6,111.1L204.6,112L203.8,111.6ZM217.5,102L217.5,113L208.2,107.5ZM214.6,107L214.6,108L213.8,107.5ZM227.5,97.9L227.5,108.9L218.2,103.4ZM224.7,103L224.7,103.9L223.9,103.4ZM237.6,93.9L237.6,104.9L228.3,99.4ZM234.7,98.9L234.7,99.8L233.9,99.4ZM247.6,89.9L247.6,100.9L238.3,95.4ZM244.7,94.9L244.7,95.8L243.9,95.4ZM257.6,85.8L257.6,96.8L248.3,91.3ZM254.7,90.9L254.7,91.8L253.9,91.3ZM267.6,81.9L267.6,92.9L258.3,87.4ZM264.8,86.9L264.8,87.8L264,87.4ZM277.7,77.9L277.7,88.9L268.4,83.4ZM274.8,83L274.8,83.9L274,83.4ZM287.7,74L287.7,85L278.4,79.5ZM284.8,79L284.8,80L284,79.5ZM297.7,70.1L297.7,81.1L288.4,75.6ZM294.8,75.1L294.8,76L294.1,75.6ZM307.7,66.2L307.7,77.2L298.4,71.7ZM304.9,71.2L304.9,72.2L304.1,71.7ZM317.8,62.3L317.8,73.3L308.5,67.8ZM314.9,67.3L314.9,68.3L314.1,67.8ZM327.8,58.5L327.8,69.5L318.5,64ZM324.9,63.5L324.9,64.4L324.1,64ZM337.8,54.7L337.8,65.7L328.5,60.2ZM334.9,59.7L334.9,60.6L334.2,60.2ZM347.8,51L347.8,62L338.5,56.5ZM345,56L345,57L344.2,56.5ZM357.9,47.4L357.9,58.4L348.6,52.9ZM355,52.4L355,53.4L354.2,52.9ZM367.9,43.8L367.9,54.8L358.6,49.3ZM365,48.8L365,49.8L364.2,49.3ZM377.9,40.1L377.9,51.1L368.6,45.6ZM375.1,45.2L375.1,46.1L374.3,45.6ZM387.9,36.3L387.9,47.3L378.6,41.8ZM385.1,41.4L385.1,42.3L384.3,41.8ZM398,32.3L398,43.3L388.7,37.8ZM395.1,37.4L395.1,38.3L394.3,37.8ZM408,27.9L408,38.9L398.7,33.4ZM405.1,32.9L405.1,33.9L404.3,33.4ZM418,22.6L418,33.6L408.7,28.1ZM415.2,27.6L415.2,28.6L414.4,28.1ZM428.1,18.3L428.1,29.3L418.8,23.8ZM425.2,23.3L425.2,24.2L424.4,23.8ZM438.1,15.2L438.1,26.2L428.8,20.7ZM435.2,20.2L435.2,21.2L434.4,20.7ZM448.1,13.2L448.1,24.2L438.8,18.7ZM445.2,18.2L445.2,19.2L444.4,18.7ZM458.1,12.3L458.1,23.3L448.8,17.8ZM455.3,17.4L455.3,18.3L454.5,17.8ZM468.2,12.3L468.2,23.3L458.9,17.8ZM465.3,17.3L465.3,18.3L464.5,17.8ZM478.2,13L478.2,24L468.9,18.5ZM475.3,18L475.3,19L474.5,18.5ZM488.2,14.8L488.2,25.8L478.9,20.3ZM485.3,19.9L485.3,20.8L484.6,20.3ZM498.2,17.8L498.2,28.8L488.9,23.3ZM495.4,22.8L495.4,23.7L494.6,23.3ZM508.3,22L508.3,33L499,27.5ZM505.4,27L505.4,27.9L504.6,27.5ZM518.3,27.2L518.3,38.2L509,32.7ZM515.4,32.3L515.4,33.2L514.6,32.7ZM528.3,32.7L528.3,43.7L519,38.2ZM525.4,37.7L525.4,38.6L524.7,38.2ZM538.3,38.5L538.3,49.5L529,44ZM535.5,43.5L535.5,44.5L534.7,44ZM548.4,44.8L548.4,55.8L539.1,50.3ZM545.5,49.8L545.5,50.8L544.7,50.3ZM558.4,51.6L558.4,62.6L549.1,57.1ZM555.5,56.7L555.5,57.6L554.7,57.1ZM568.4,58.9L568.4,69.9L559.1,64.4ZM565.6,64L565.6,64.9L564.8,64.4ZM578.4,66.6L578.4,77.6L569.1,72.1ZM575.6,71.6L575.6,72.5L574.8,72.1ZM588.5,74.5L588.5,85.5L579.2,80ZM585.6,79.5L585.6,80.5L584.8,80ZM598.5,82.8L598.5,93.8L589.2,88.3ZM595.6,87.8L595.6,88.8L594.8,88.3ZM608.5,91.4L608.5,102.4L599.2,96.9ZM605.7,96.5L605.7,97.4L604.9,96.9ZM618.6,100.5L618.6,111.5L609.3,106ZM615.7,105.5L615.7,106.4L614.9,106ZM628.6,109.8L628.6,120.8L619.3,115.3ZM625.7,114.8L625.7,115.8L624.9,115.3ZM638.6,119.4L638.6,130.4L629.3,124.9ZM635.7,124.5L635.7,125.4L634.9,124.9ZM648.6,129.5L648.6,140.5L639.3,135ZM645.8,134.6L645.8,135.5L645,135ZM658.7,140.5L658.7,151.5L649.4,146ZM655.8,145.5L655.8,146.5L655,146ZM668.7,153.5L668.7,164.5L659.4,159ZM665.8,158.5L665.8,159.4L665,159ZM678.7,169.4L678.7,180.4L669.4,174.9ZM675.8,174.4L675.8,175.4L675.1,174.9ZM688.7,186.3L688.7,197.3L679.4,191.8ZM685.9,191.4L685.9,192.3L685.1,191.8ZM698.8,209.2L698.8,220.2L689.5,214.7ZM695.9,214.3L695.9,215.2L695.1,214.7ZM708.8,246.1L708.8,257.1L699.5,251.6ZM705.9,251.1L705.9,252.1L705.1,251.6ZM718.8,312.9L718.8,323.9L709.5,318.4ZM715.9,317.9L715.9,318.8L715.2,318.4ZM728.8,243.1L728.8,254.1L719.5,248.6ZM726,248.1L726,249.1L725.2,248.6ZM738.9,141.5L738.9,152.5L729.6,147ZM736,146.5L736,147.5L735.2,147ZM748.9,53.8L748.9,64.8L739.6,59.3ZM746,58.9L746,59.8L745.2,59.3ZM758.9,94.7L758.9,105.7L749.6,100.2ZM756.1,99.7L756.1,100.6L755.3,100.2ZM768.9,139.5L768.9,150.5L759.6,145ZM766.1,144.5L766.1,145.5L765.3,145ZM779,169.4L779,180.4L769.7,174.9ZM776.1,174.4L776.1,175.4L775.3,174.9ZM789,196.3L789,207.3L779.7,201.8ZM786.1,201.3L786.1,202.3L785.3,201.8ZM799,225.2L799,236.2L789.7,230.7ZM796.2,230.2L796.2,231.2L795.4,230.7ZM809.1,256.1L809.1,267.1L799.8,261.6ZM806.2,261.1L806.2,262L805.4,261.6ZM819.1,293.9L819.1,304.9L809.8,299.4ZM816.2,299L816.2,299.9L815.4,299.4ZM829.1,366.7L829.1,377.7L819.8,372.2ZM826.2,371.7L826.2,372.6L825.4,372.2ZM849.2,371.6L849.2,382.6L839.9,377.1ZM846.3,376.7L846.3,377.6L845.5,377.1ZM859.2,317.8L859.2,328.8L849.9,323.3ZM856.3,322.9L856.3,323.8L855.5,323.3ZM869.2,283L869.2,294L859.9,288.5ZM866.3,288L866.3,288.9L865.6,288.5ZM879.2,259.1L879.2,270.1L869.9,264.6ZM876.4,264.1L876.4,265L875.6,264.6ZM889.3,241.1L889.3,252.1L880,246.6ZM886.4,246.2L886.4,247.1L885.6,246.6ZM899.3,226.2L899.3,237.2L890,231.7ZM896.4,231.2L896.4,232.1L895.6,231.7ZM909.3,215.2L909.3,226.2L900,220.7ZM906.4,220.3L906.4,221.2L905.7,220.7ZM919.3,204.3L919.3,215.3L910,209.8ZM916.5,209.3L916.5,210.2L915.7,209.8ZM929.4,196.3L929.4,207.3L920.1,201.8ZM926.5,201.3L926.5,202.3L925.7,201.8ZM939.4,188.3L939.4,199.3L930.1,193.8ZM936.5,193.4L936.5,194.3L935.7,193.8ZM949.4,180.4L949.4,191.4L940.1,185.9ZM946.6,185.4L946.6,186.3L945.8,185.9ZM959.4,174.4L959.4,185.4L950.1,179.9ZM956.6,179.4L956.6,180.3L955.8,179.9ZM969.5,168.4L969.5,179.4L960.2,173.9ZM966.6,173.4L966.6,174.4L965.8,173.9Z" fill="#000000" fill-rule="evenodd"/>
<path clip-path="url(#c0)" d="M114.1,136L124.1,132.1L134.2,128.2L144.2,124.3L154.2,120.4L164.2,116.5L174.3,112.6L184.3,108.7L194.3,104.8L204.3,100.8L214.4,96.8L224.4,92.9L234.4,88.9L244.4,85.1L254.5,81.3L264.5,77.6L274.5,74L284.5,70.5L294.6,67L304.6,63.6L314.6,60.2L324.7,56.8L334.7,53.4L344.7,50.2L354.7,47L364.8,43.9L374.8,40.7L384.8,37.4L394.8,34L404.9,30.2L414.9,25.9L424.9,22.3L434.9,19.8L445,18.2L455,17.4L465,17.4L475,17.9L485.1,19.5L495.1,22.1L505.1,25.5L515.2,29.7L525.2,34.1L535.2,38.9L545.2,44.2L555.3,50.3L565.3,57L575.3,64.1L585.3,71.6L595.4,79.6L605.4,87.6L615.4,95.6L625.4,104.3L635.5,115.3L645.5,127.1L655.5,138L665.5,151L675.6,165.9L685.6,182.9L695.6,211.8L705.7,254.6L715.7,314.4L725.7,207.8L735.7,114.1L745.8,55.3L755.8,99.2L765.8,138L775.8,167.9L785.9,194.8L795.9,221.7L805.9,252.6L815.9,293.4L826,362.2L836,611.2L846,360.2L856,303.4L866.1,271.5L876.1,248.6L886.1,231.7L896.2,217.7L906.2,205.8L916.2,195.8L926.2,186.8L936.3,179.9L946.3,172.4L956.3,166.9L966.3,159.5L976.4,154" fill="none" stroke="#008000" stroke-width="3.3" stroke-dasharray="10.6 10.6"/>
<path d="M114.1,129.9L118.5,136L114.1,142.1L109.7,136ZM114.1,135.4L114.6,136L114.1,136.7L113.6,136ZM124.1,126L128.5,132.1L124.1,138.2L119.7,132.1ZM124.1,131.5L124.6,132.1L124.1,132.8L123.6,132.1ZM134.2,122.1L138.6,128.2L134.2,134.3L129.8,128.2ZM134.2,127.6L134.6,128.2L134.2,128.9L133.7,128.2ZM144.2,118.2L148.6,124.3L144.2,130.4L139.8,124.3ZM144.2,123.7L144.7,124.3L144.2,125L143.7,124.3ZM154.2,114.3L158.6,120.4L154.2,126.5L149.8,120.4ZM154.2,119.7L154.7,120.4L154.2,121.1L153.7,120.4ZM164.2,110.4L168.6,116.5L164.2,122.6L159.8,116.5ZM164.2,115.8L164.7,116.5L164.2,117.2L163.7,116.5ZM174.3,106.5L178.7,112.6L174.3,118.7L169.9,112.6ZM174.3,111.9L174.7,112.6L174.3,113.3L173.8,112.6ZM184.3,102.6L188.7,108.7L184.3,114.8L179.9,108.7ZM184.3,108L184.8,108.7L184.3,109.4L183.8,108.7ZM194.3,98.7L198.7,104.8L194.3,110.9L189.9,104.8ZM194.3,104.1L194.8,104.8L194.3,105.4L193.8,104.8ZM204.3,94.7L208.7,100.8L204.3,106.9L199.9,100.8ZM204.3,100.1L204.8,100.8L204.3,101.5L203.9,100.8ZM214.4,90.7L218.8,96.8L214.4,102.9L210,96.8ZM214.4,96.2L214.8,96.8L214.4,97.5L213.9,96.8ZM224.4,86.8L228.8,92.9L224.4,99L220,92.9ZM224.4,92.2L224.9,92.9L224.4,93.5L223.9,92.9ZM234.4,82.8L238.8,88.9L234.4,95L230,88.9ZM234.4,88.3L234.9,88.9L234.4,89.6L233.9,88.9ZM244.4,79L248.8,85.1L244.4,91.2L240,85.1ZM244.4,84.4L244.9,85.1L244.4,85.7L244,85.1ZM254.5,75.2L258.9,81.3L254.5,87.4L250.1,81.3ZM254.5,80.6L255,81.3L254.5,82L254,81.3ZM264.5,71.5L268.9,77.6L264.5,83.7L260.1,77.6ZM264.5,77L265,77.6L264.5,78.3L264,77.6ZM274.5,67.9L278.9,74L274.5,80.1L270.1,74ZM274.5,73.4L275,74L274.5,74.7L274,74ZM284.5,64.4L288.9,70.5L284.5,76.6L280.1,70.5ZM284.5,69.8L285,70.5L284.5,71.2L284.1,70.5ZM294.6,60.9L299,67L294.6,73.1L290.2,67ZM294.6,66.4L295.1,67L294.6,67.7L294.1,67ZM304.6,57.5L309,63.6L304.6,69.7L300.2,63.6ZM304.6,62.9L305.1,63.6L304.6,64.3L304.1,63.6ZM314.6,54.1L319,60.2L314.6,66.3L310.2,60.2ZM314.6,59.5L315.1,60.2L314.6,60.9L314.1,60.2ZM324.7,50.7L329.1,56.8L324.7,62.9L320.3,56.8ZM324.7,56.1L325.1,56.8L324.7,57.5L324.2,56.8ZM334.7,47.3L339.1,53.4L334.7,59.5L330.3,53.4ZM334.7,52.8L335.2,53.4L334.7,54.1L334.2,53.4ZM344.7,44.1L349.1,50.2L344.7,56.3L340.3,50.2ZM344.7,49.5L345.2,50.2L344.7,50.9L344.2,50.2ZM354.7,40.9L359.1,47L354.7,53.1L350.3,47ZM354.7,46.4L355.2,47L354.7,47.7L354.2,47ZM364.8,37.8L369.2,43.9L364.8,50L360.4,43.9ZM364.8,43.2L365.2,43.9L364.8,44.6L364.3,43.9ZM374.8,34.6L379.2,40.7L374.8,46.8L370.4,40.7ZM374.8,40L375.3,40.7L374.8,41.4L374.3,40.7ZM384.8,31.3L389.2,37.4L384.8,43.5L380.4,37.4ZM384.8,36.7L385.3,37.4L384.8,38.1L384.3,37.4ZM394.8,27.9L399.2,34L394.8,40.1L390.4,34ZM394.8,33.3L395.3,34L394.8,34.7L394.4,34ZM404.9,24.1L409.3,30.2L404.9,36.3L400.5,30.2ZM404.9,29.6L405.3,30.2L404.9,30.9L404.4,30.2ZM414.9,19.8L419.3,25.9L414.9,32L410.5,25.9ZM414.9,25.2L415.4,25.9L414.9,26.5L414.4,25.9ZM424.9,16.2L429.3,22.3L424.9,28.4L420.5,22.3ZM424.9,21.6L425.4,22.3L424.9,23L424.4,22.3ZM434.9,13.7L439.3,19.8L434.9,25.9L430.5,19.8ZM434.9,19.2L435.4,19.8L434.9,20.5L434.5,19.8ZM445,12.1L449.4,18.2L445,24.3L440.6,18.2ZM445,17.5L445.5,18.2L445,18.9L444.5,18.2ZM455,11.3L459.4,17.4L455,23.5L450.6,17.4ZM455,16.8L455.5,17.4L455,18.1L454.5,17.4ZM465,11.3L469.4,17.4L465,23.5L460.6,17.4ZM465,16.7L465.5,17.4L465,18L464.5,17.4ZM475,11.8L479.4,17.9L475,24L470.6,17.9ZM475,17.2L475.5,17.9L475,18.6L474.6,17.9ZM485.1,13.4L489.5,19.5L485.1,25.6L480.7,19.5ZM485.1,18.8L485.6,19.5L485.1,20.2L484.6,19.5ZM495.1,16L499.5,22.1L495.1,28.2L490.7,22.1ZM495.1,21.4L495.6,22.1L495.1,22.8L494.6,22.1ZM505.1,19.4L509.5,25.5L505.1,31.6L500.7,25.5ZM505.1,24.8L505.6,25.5L505.1,26.2L504.6,25.5ZM515.2,23.6L519.6,29.7L515.2,35.8L510.8,29.7ZM515.2,29L515.6,29.7L515.2,30.4L514.7,29.7ZM525.2,28L529.6,34.1L525.2,40.2L520.8,34.1ZM525.2,33.4L525.7,34.1L525.2,34.7L524.7,34.1ZM535.2,32.8L539.6,38.9L535.2,45L530.8,38.9ZM535.2,38.2L535.7,38.9L535.2,39.5L534.7,38.9ZM545.2,38.1L549.6,44.2L545.2,50.3L540.8,44.2ZM545.2,43.5L545.7,44.2L545.2,44.9L544.7,44.2ZM555.3,44.2L559.7,50.3L555.3,56.4L550.9,50.3ZM555.3,49.6L555.7,50.3L555.3,50.9L554.8,50.3ZM565.3,50.9L569.7,57L565.3,63.1L560.9,57ZM565.3,56.3L565.8,57L565.3,57.7L564.8,57ZM575.3,58L579.7,64.1L575.3,70.2L570.9,64.1ZM575.3,63.4L575.8,64.1L575.3,64.8L574.8,64.1ZM585.3,65.5L589.7,71.6L585.3,77.7L580.9,71.6ZM585.3,71L585.8,71.6L585.3,72.3L584.9,71.6ZM595.4,73.5L599.8,79.6L595.4,85.7L591,79.6ZM595.4,78.9L595.8,79.6L595.4,80.3L594.9,79.6ZM605.4,81.5L609.8,87.6L605.4,93.7L601,87.6ZM605.4,87L605.9,87.6L605.4,88.3L604.9,87.6ZM615.4,89.5L619.8,95.6L615.4,101.7L611,95.6ZM615.4,94.9L615.9,95.6L615.4,96.2L614.9,95.6ZM625.4,98.2L629.8,104.3L625.4,110.4L621,104.3ZM625.4,103.7L625.9,104.3L625.4,105L625,104.3ZM635.5,109.2L639.9,115.3L635.5,121.4L631.1,115.3ZM635.5,114.6L636,115.3L635.5,115.9L635,115.3ZM645.5,121L649.9,127.1L645.5,133.2L641.1,127.1ZM645.5,126.4L646,127.1L645.5,127.7L645,127.1ZM655.5,131.9L659.9,138L655.5,144.1L651.1,138ZM655.5,137.4L656,138L655.5,138.7L655,138ZM665.5,144.9L669.9,151L665.5,157.1L661.1,151ZM665.5,150.3L666,151L665.5,151.7L665.1,151ZM675.6,159.8L680,165.9L675.6,172L671.2,165.9ZM675.6,165.3L676.1,165.9L675.6,166.6L675.1,165.9ZM685.6,176.8L690,182.9L685.6,189L681.2,182.9ZM685.6,182.2L686.1,182.9L685.6,183.5L685.1,182.9ZM695.6,205.7L700,211.8L695.6,217.9L691.2,211.8ZM695.6,211.1L696.1,211.8L695.6,212.4L695.1,211.8ZM705.7,248.5L710.1,254.6L705.7,260.7L701.3,254.6ZM705.7,253.9L706.1,254.6L705.7,255.3L705.2,254.6ZM715.7,308.3L720.1,314.4L715.7,320.5L711.3,314.4ZM715.7,313.7L716.2,314.4L715.7,315L715.2,314.4ZM725.7,201.7L730.1,207.8L725.7,213.9L721.3,207.8ZM725.7,207.1L726.2,207.8L725.7,208.4L725.2,207.8ZM735.7,108L740.1,114.1L735.7,120.2L731.3,114.1ZM735.7,113.5L736.2,114.1L735.7,114.8L735.2,114.1ZM745.8,49.2L750.2,55.3L745.8,61.4L741.4,55.3ZM745.8,54.7L746.2,55.3L745.8,56L745.3,55.3ZM755.8,93.1L760.2,99.2L755.8,105.3L751.4,99.2ZM755.8,98.5L756.3,99.2L755.8,99.8L755.3,99.2ZM765.8,131.9L770.2,138L765.8,144.1L761.4,138ZM765.8,137.4L766.3,138L765.8,138.7L765.3,138ZM775.8,161.8L780.2,167.9L775.8,174L771.4,167.9ZM775.8,167.2L776.3,167.9L775.8,168.6L775.4,167.9ZM785.9,188.7L790.3,194.8L785.9,200.9L781.5,194.8ZM785.9,194.1L786.3,194.8L785.9,195.5L785.4,194.8ZM795.9,215.6L800.3,221.7L795.9,227.8L791.5,221.7ZM795.9,221L796.4,221.7L795.9,222.4L795.4,221.7ZM805.9,246.5L810.3,252.6L805.9,258.7L801.5,252.6ZM805.9,251.9L806.4,252.6L805.9,253.3L805.4,252.6ZM815.9,287.3L820.3,293.4L815.9,299.5L811.5,293.4ZM815.9,292.8L816.4,293.4L815.9,294.1L815.5,293.4ZM826,356.1L830.4,362.2L826,368.3L821.6,362.2ZM826,361.5L826.5,362.2L826,362.9L825.5,362.2ZM846,354.1L850.4,360.2L846,366.3L841.6,360.2ZM846,359.5L846.5,360.2L846,360.9L845.5,360.2ZM856,297.3L860.4,303.4L856,309.5L851.6,303.4ZM856,302.7L856.5,303.4L856,304.1L855.6,303.4ZM866.1,265.4L870.5,271.5L866.1,277.6L861.7,271.5ZM866.1,270.9L866.6,271.5L866.1,272.2L865.6,271.5ZM876.1,242.5L880.5,248.6L876.1,254.7L871.7,248.6ZM876.1,247.9L876.6,248.6L876.1,249.3L875.6,248.6ZM886.1,225.6L890.5,231.7L886.1,237.8L881.7,231.7ZM886.1,231L886.6,231.7L886.1,232.3L885.6,231.7ZM896.2,211.6L900.6,217.7L896.2,223.8L891.8,217.7ZM896.2,217.1L896.6,217.7L896.2,218.4L895.7,217.7ZM906.2,199.7L910.6,205.8L906.2,211.9L901.8,205.8ZM906.2,205.1L906.7,205.8L906.2,206.4L905.7,205.8ZM916.2,189.7L920.6,195.8L916.2,201.9L911.8,195.8ZM916.2,195.1L916.7,195.8L916.2,196.5L915.7,195.8ZM926.2,180.7L930.6,186.8L926.2,192.9L921.8,186.8ZM926.2,186.2L926.7,186.8L926.2,187.5L925.7,186.8ZM936.3,173.8L940.7,179.9L936.3,186L931.9,179.9ZM936.3,179.2L936.7,179.9L936.3,180.5L935.8,179.9ZM946.3,166.3L950.7,172.4L946.3,178.5L941.9,172.4ZM946.3,171.7L946.8,172.4L946.3,173.1L945.8,172.4ZM956.3,160.8L960.7,166.9L956.3,173L951.9,166.9ZM956.3,166.3L956.8,166.9L956.3,167.6L955.8,166.9ZM966.3,153.4L970.7,159.5L966.3,165.6L961.9,159.5ZM966.3,158.8L966.8,159.5L966.3,160.1L965.9,159.5Z" fill="#008000" fill-rule="evenodd"/>
<path clip-path="url(#c0)" d="M114.1,121.1L124.1,117.6L134.2,114.1L144.2,110.6L154.2,107.1L164.2,103.6L174.3,100.1L184.3,96.7L194.3,93.2L204.3,89.8L214.4,86.4L224.4,83L234.4,79.6L244.4,76.2L254.5,72.8L264.5,69.3L274.5,65.7L284.5,62.1L294.6,58.5L304.6,55L314.6,51.5L324.7,48.2L334.7,45.1L344.7,42.2L354.7,39.4L364.8,36.6L374.8,33.9L384.8,31.2L394.8,28.5L404.9,25.7L414.9,22.7L424.9,20.4L434.9,18.8L445,17.7L455,17.1L465,17.1L475,17.5L485.1,18.8L495.1,20.8L505.1,23.4L515.2,26.7L525.2,30.6L535.2,35.2L545.2,40.1L555.3,45.1L565.3,50.4L575.3,56.2L585.3,62.8L595.4,70.1L605.4,77.3L615.4,84.4L625.4,92.4L635.5,102.6L645.5,114.1L655.5,126.1L665.5,138L675.6,153.5L685.6,173.4L695.6,202.8L705.7,251.6L715.7,287.5L725.7,170.9L735.7,88.2L745.8,48.4L755.8,90.2L765.8,126.1L775.8,155L785.9,180.9L795.9,206.8L805.9,240.6L815.9,283.5L826,356.2L836,611.2L846,331.3L856,280.5L866.1,249.6L876.1,227.7L886.1,212.3L896.2,198.8L906.2,186.8L916.2,176.9L926.2,167.9L936.3,160.9L946.3,154.5L956.3,148L966.3,142L976.4,137" fill="none" stroke="#12a5be" stroke-width="3.3" stroke-dasharray="10.6 10.6"/>
<path d="M111,115.6L111,126.6L120.3,121.1ZM113.8,120.5L113.8,121.6L114.7,121.1ZM121,112.1L121,123.1L130.3,117.6ZM123.8,117L123.8,118.1L124.7,117.6ZM131,108.6L131,119.6L140.3,114.1ZM133.8,113.5L133.8,114.6L134.8,114.1ZM141,105.1L141,116.1L150.3,110.6ZM143.9,110L143.9,111.1L144.8,110.6ZM151.1,101.6L151.1,112.6L160.4,107.1ZM153.9,106.5L153.9,107.6L154.8,107.1ZM161.1,98.1L161.1,109.1L170.4,103.6ZM163.9,103.1L163.9,104.2L164.8,103.6ZM171.1,94.6L171.1,105.6L180.4,100.1ZM173.9,99.6L173.9,100.7L174.9,100.1ZM181.1,91.2L181.1,102.2L190.4,96.7ZM184,96.1L184,97.2L184.9,96.7ZM191.2,87.7L191.2,98.7L200.5,93.2ZM194,92.7L194,93.8L194.9,93.2ZM201.2,84.3L201.2,95.3L210.5,89.8ZM204,89.3L204,90.4L205,89.8ZM211.2,80.9L211.2,91.9L220.5,86.4ZM214,85.9L214,87L215,86.4ZM221.3,77.5L221.3,88.5L230.6,83ZM224.1,82.5L224.1,83.6L225,83ZM231.3,74.1L231.3,85.1L240.6,79.6ZM234.1,79.1L234.1,80.2L235,79.6ZM241.3,70.7L241.3,81.7L250.6,76.2ZM244.1,75.6L244.1,76.7L245.1,76.2ZM251.3,67.3L251.3,78.3L260.6,72.8ZM254.2,72.2L254.2,73.3L255.1,72.8ZM261.4,63.8L261.4,74.8L270.7,69.3ZM264.2,68.7L264.2,69.8L265.1,69.3ZM271.4,60.2L271.4,71.2L280.7,65.7ZM274.2,65.2L274.2,66.3L275.1,65.7ZM281.4,56.6L281.4,67.6L290.7,62.1ZM284.2,61.6L284.2,62.7L285.2,62.1ZM291.4,53L291.4,64L300.7,58.5ZM294.3,58L294.3,59.1L295.2,58.5ZM301.5,49.5L301.5,60.5L310.8,55ZM304.3,54.4L304.3,55.5L305.2,55ZM311.5,46L311.5,57L320.8,51.5ZM314.3,51L314.3,52.1L315.2,51.5ZM321.5,42.7L321.5,53.7L330.8,48.2ZM324.3,47.7L324.3,48.8L325.3,48.2ZM331.5,39.6L331.5,50.6L340.8,45.1ZM334.4,44.6L334.4,45.7L335.3,45.1ZM341.6,36.7L341.6,47.7L350.9,42.2ZM344.4,41.6L344.4,42.7L345.3,42.2ZM351.6,33.9L351.6,44.9L360.9,39.4ZM354.4,38.8L354.4,39.9L355.3,39.4ZM361.6,31.1L361.6,42.1L370.9,36.6ZM364.4,36.1L364.4,37.2L365.4,36.6ZM371.6,28.4L371.6,39.4L380.9,33.9ZM374.5,33.4L374.5,34.5L375.4,33.9ZM381.7,25.7L381.7,36.7L391,31.2ZM384.5,30.7L384.5,31.8L385.4,31.2ZM391.7,23L391.7,34L401,28.5ZM394.5,28L394.5,29.1L395.5,28.5ZM401.7,20.2L401.7,31.2L411,25.7ZM404.5,25.2L404.5,26.3L405.5,25.7ZM411.8,17.2L411.8,28.2L421.1,22.7ZM414.6,22.2L414.6,23.3L415.5,22.7ZM421.8,14.9L421.8,25.9L431.1,20.4ZM424.6,19.8L424.6,20.9L425.5,20.4ZM431.8,13.3L431.8,24.3L441.1,18.8ZM434.6,18.2L434.6,19.3L435.6,18.8ZM441.8,12.2L441.8,23.2L451.1,17.7ZM444.7,17.2L444.7,18.3L445.6,17.7ZM451.9,11.6L451.9,22.6L461.2,17.1ZM454.7,16.6L454.7,17.7L455.6,17.1ZM461.9,11.6L461.9,22.6L471.2,17.1ZM464.7,16.5L464.7,17.6L465.6,17.1ZM471.9,12L471.9,23L481.2,17.5ZM474.7,17L474.7,18.1L475.7,17.5ZM481.9,13.3L481.9,24.3L491.2,18.8ZM484.8,18.2L484.8,19.3L485.7,18.8ZM492,15.3L492,26.3L501.3,20.8ZM494.8,20.3L494.8,21.4L495.7,20.8ZM502,17.9L502,28.9L511.3,23.4ZM504.8,22.8L504.8,23.9L505.7,23.4ZM512,21.2L512,32.2L521.3,26.7ZM514.8,26.1L514.8,27.2L515.8,26.7ZM522,25.1L522,36.1L531.3,30.6ZM524.9,30.1L524.9,31.2L525.8,30.6ZM532.1,29.7L532.1,40.7L541.4,35.2ZM534.9,34.7L534.9,35.8L535.8,35.2ZM542.1,34.6L542.1,45.6L551.4,40.1ZM544.9,39.5L544.9,40.6L545.8,40.1ZM552.1,39.6L552.1,50.6L561.4,45.1ZM554.9,44.5L554.9,45.6L555.9,45.1ZM562.1,44.9L562.1,55.9L571.4,50.4ZM565,49.8L565,50.9L565.9,50.4ZM572.2,50.7L572.2,61.7L581.5,56.2ZM575,55.6L575,56.7L575.9,56.2ZM582.2,57.3L582.2,68.3L591.5,62.8ZM585,62.2L585,63.3L586,62.8ZM592.2,64.6L592.2,75.6L601.5,70.1ZM595.1,69.5L595.1,70.6L596,70.1ZM602.3,71.8L602.3,82.8L611.6,77.3ZM605.1,76.8L605.1,77.9L606,77.3ZM612.3,78.9L612.3,89.9L621.6,84.4ZM615.1,83.9L615.1,85L616,84.4ZM622.3,86.9L622.3,97.9L631.6,92.4ZM625.1,91.9L625.1,93L626.1,92.4ZM632.3,97.1L632.3,108.1L641.6,102.6ZM635.2,102L635.2,103.1L636.1,102.6ZM642.4,108.6L642.4,119.6L651.7,114.1ZM645.2,113.6L645.2,114.7L646.1,114.1ZM652.4,120.6L652.4,131.6L661.7,126.1ZM655.2,125.5L655.2,126.6L656.1,126.1ZM662.4,132.5L662.4,143.5L671.7,138ZM665.2,137.5L665.2,138.6L666.2,138ZM672.4,148L672.4,159L681.7,153.5ZM675.3,152.9L675.3,154L676.2,153.5ZM682.5,167.9L682.5,178.9L691.8,173.4ZM685.3,172.8L685.3,173.9L686.2,173.4ZM692.5,197.3L692.5,208.3L701.8,202.8ZM695.3,202.2L695.3,203.3L696.2,202.8ZM702.5,246.1L702.5,257.1L711.8,251.6ZM705.3,251.1L705.3,252.2L706.3,251.6ZM712.5,282L712.5,293L721.8,287.5ZM715.4,286.9L715.4,288L716.3,287.5ZM722.6,165.4L722.6,176.4L731.9,170.9ZM725.4,170.4L725.4,171.5L726.3,170.9ZM732.6,82.7L732.6,93.7L741.9,88.2ZM735.4,87.7L735.4,88.8L736.3,88.2ZM742.6,42.9L742.6,53.9L751.9,48.4ZM745.4,47.8L745.4,48.9L746.4,48.4ZM752.6,84.7L752.6,95.7L761.9,90.2ZM755.5,89.7L755.5,90.8L756.4,90.2ZM762.7,120.6L762.7,131.6L772,126.1ZM765.5,125.5L765.5,126.6L766.4,126.1ZM772.7,149.5L772.7,160.5L782,155ZM775.5,154.4L775.5,155.5L776.5,155ZM782.7,175.4L782.7,186.4L792,180.9ZM785.6,180.3L785.6,181.4L786.5,180.9ZM792.8,201.3L792.8,212.3L802.1,206.8ZM795.6,206.2L795.6,207.3L796.5,206.8ZM802.8,235.1L802.8,246.1L812.1,240.6ZM805.6,240.1L805.6,241.2L806.5,240.6ZM812.8,278L812.8,289L822.1,283.5ZM815.6,282.9L815.6,284L816.6,283.5ZM822.8,350.7L822.8,361.7L832.1,356.2ZM825.7,355.7L825.7,356.8L826.6,356.2ZM842.9,325.8L842.9,336.8L852.2,331.3ZM845.7,330.8L845.7,331.9L846.6,331.3ZM852.9,275L852.9,286L862.2,280.5ZM855.7,279.9L855.7,281L856.7,280.5ZM862.9,244.1L862.9,255.1L872.2,249.6ZM865.8,249.1L865.8,250.2L866.7,249.6ZM873,222.2L873,233.2L882.3,227.7ZM875.8,227.1L875.8,228.2L876.7,227.7ZM883,206.8L883,217.8L892.3,212.3ZM885.8,211.7L885.8,212.8L886.7,212.3ZM893,193.3L893,204.3L902.3,198.8ZM895.8,198.3L895.8,199.4L896.8,198.8ZM903,181.3L903,192.3L912.3,186.8ZM905.9,186.3L905.9,187.4L906.8,186.8ZM913.1,171.4L913.1,182.4L922.4,176.9ZM915.9,176.3L915.9,177.4L916.8,176.9ZM923.1,162.4L923.1,173.4L932.4,167.9ZM925.9,167.4L925.9,168.5L926.8,167.9ZM933.1,155.4L933.1,166.4L942.4,160.9ZM935.9,160.4L935.9,161.5L936.9,160.9ZM943.1,149L943.1,160L952.4,154.5ZM946,153.9L946,155L946.9,154.5ZM953.2,142.5L953.2,153.5L962.5,148ZM956,147.4L956,148.5L956.9,148ZM963.2,136.5L963.2,147.5L972.5,142ZM966,141.5L966,142.6L967,142Z" fill="#12a5be" fill-rule="evenodd"/>
<path clip-path="url(#c0)" d="M114.1,138L118.4,136.2L122.7,134.3L127,132.5L131.3,130.7L135.6,128.8L139.9,127L144.2,125.1L148.5,123.3L152.8,121.5L157.1,119.6L161.4,117.8L165.7,116L170,114.2L174.3,112.4L178.6,110.6L182.9,108.8L187.1,107L191.4,105.1L195.7,103.2L200,101.2L204.3,99.2L208.6,97.2L212.9,95.2L217.2,93.3L221.5,91.3L225.8,89.4L230.1,87.5L234.4,85.6L238.7,83.9L243,82.1L247.3,80.3L251.6,78.5L255.9,76.7L260.2,74.8L264.5,72.9L268.8,71L273.1,69.1L277.4,67L281.7,65L286,62.7L290.3,60.4L294.6,58.1L298.9,55.7L303.2,53.2L307.5,50.7L311.8,48.1L316.1,45.6L320.4,43.2L324.7,41L328.9,38.9L333.2,37.1L337.5,35.3L341.8,33.6L346.1,31.9L350.4,30.4L354.7,28.9L359,27.6L363.3,26.3L367.6,25.2L371.9,24L376.2,23L380.5,22L384.8,21.2L389.1,20.7L393.4,20.3L397.7,20L402,19.8L406.3,19.7L410.6,20L414.9,20.8L419.2,21.8L423.5,23L427.8,24.3L432.1,25.9L436.4,27.7L440.7,29.7L445,31.8L449.3,34.2L453.6,36.8L457.9,39.5L462.2,42.2L466.5,45L470.8,47.7L475,50.3L479.3,52.8L483.6,55.4L487.9,57.9L492.2,60.5L496.5,63.1L500.8,65.7L505.1,68.4L509.4,71L513.7,73.7L518,76.4L522.3,79L526.6,81.8L530.9,84.5L535.2,87.3L539.5,90.2L543.8,93.2L548.1,96.3L552.4,99.5L556.7,102.8L561,106.2L565.3,109.6L569.6,112.9L573.9,116.2L578.2,119.4L582.5,122.7L586.8,125.9L591.1,129.2L595.4,132.4L599.7,135.6L604,138.8L608.3,142L612.6,145.2L616.8,148.6L621.1,152.1L625.4,155.7L629.7,159.5L634,163.4L638.3,167.4L642.6,171.6L646.9,176L651.2,180.7L655.5,185.7L659.8,191.4L664.1,197.8L668.4,204.9L672.7,212.5L677,220.3L681.3,228.2L685.6,236.4L689.9,244.4L694.2,253.1L698.5,264.9L702.8,276.7L707.1,295.1L711.4,313.6L715.7,338L720,352.2L724.3,342.3L728.6,316.2L732.9,287.4L737.2,259.6L741.5,235.2L745.8,211.4L750.1,192.8L754.4,173.3L758.6,151L762.9,128.1L767.2,103.6L771.5,82.2L775.8,70.3L780.1,70.3L784.4,83.2L788.7,99.1L793,117L797.3,131.2L801.6,143.2L805.9,155.4L810.2,166.9L814.5,177.9L818.8,188.4L823.1,198.2L827.4,206.4L831.7,214.1L836,222.9L840.3,232.2L844.6,241.2L848.9,250.1L853.2,259.7L857.5,270.1L861.8,281.8L866.1,294.6L870.4,307.3L874.7,321.3L879,339.1L883.3,359.2L887.6,379.4L891.9,416.9L896.2,469.4L900.5,570.8L904.7,589.8L909,491.7L913.3,424.9L917.6,388.1L921.9,362.1L926.2,348.7L930.5,336.7L934.8,325.9L939.1,316L943.4,307.3L947.7,299.9L952,293.1L956.3,286.5L960.6,280.6L964.9,275.8L969.2,271.5L973.5,267.5" fill="none" stroke="#86223a" stroke-width="3.3" stroke-dasharray="10.6 10.6"/>
<path d="M110.6,138h7M114.1,134.5v7M111.6,135.6l4.9,4.9M111.6,140.5l4.9,-4.9M114.9,136.2h7M118.4,132.7v7M115.9,133.7l4.9,4.9M115.9,138.7l4.9,-4.9M119.2,134.3h7M122.7,130.8v7M120.2,131.9l4.9,4.9M120.2,136.8l4.9,-4.9M123.5,132.5h7M127,129v7M124.5,130l4.9,4.9M124.5,135l4.9,-4.9M127.8,130.7h7M131.3,127.2v7M128.8,128.2l4.9,4.9M128.8,133.1l4.9,-4.9M132.1,128.8h7M135.6,125.3v7M133.1,126.3l4.9,4.9M133.1,131.3l4.9,-4.9M136.4,127h7M139.9,123.5v7M137.4,124.5l4.9,4.9M137.4,129.5l4.9,-4.9M140.7,125.1h7M144.2,121.6v7M141.7,122.7l4.9,4.9M141.7,127.6l4.9,-4.9M145,123.3h7M148.5,119.8v7M146,120.8l4.9,4.9M146,125.8l4.9,-4.9M149.3,121.5h7M152.8,118v7M150.3,119l4.9,4.9M150.3,123.9l4.9,-4.9M153.6,119.6h7M157.1,116.1v7M154.6,117.2l4.9,4.9M154.6,122.1l4.9,-4.9M157.9,117.8h7M161.4,114.3v7M158.9,115.4l4.9,4.9M158.9,120.3l4.9,-4.9M162.2,116h7M165.7,112.5v7M163.2,113.6l4.9,4.9M163.2,118.5l4.9,-4.9M166.5,114.2h7M170,110.7v7M167.5,111.8l4.9,4.9M167.5,116.7l4.9,-4.9M170.8,112.4h7M174.3,108.9v7M171.8,110l4.9,4.9M171.8,114.9l4.9,-4.9M175.1,110.6h7M178.6,107.1v7M176.1,108.1l4.9,4.9M176.1,113.1l4.9,-4.9M179.4,108.8h7M182.9,105.3v7M180.4,106.3l4.9,4.9M180.4,111.3l4.9,-4.9M183.6,107h7M187.1,103.5v7M184.7,104.5l4.9,4.9M184.7,109.4l4.9,-4.9M187.9,105.1h7M191.4,101.6v7M189,102.6l4.9,4.9M189,107.6l4.9,-4.9M192.2,103.2h7M195.7,99.7v7M193.3,100.7l4.9,4.9M193.3,105.6l4.9,-4.9M196.5,101.2h7M200,97.7v7M197.6,98.7l4.9,4.9M197.6,103.7l4.9,-4.9M200.8,99.2h7M204.3,95.7v7M201.9,96.8l4.9,4.9M201.9,101.7l4.9,-4.9M205.1,97.2h7M208.6,93.7v7M206.2,94.8l4.9,4.9M206.2,99.7l4.9,-4.9M209.4,95.2h7M212.9,91.7v7M210.5,92.8l4.9,4.9M210.5,97.7l4.9,-4.9M213.7,93.3h7M217.2,89.8v7M214.8,90.8l4.9,4.9M214.8,95.7l4.9,-4.9M218,91.3h7M221.5,87.8v7M219.1,88.8l4.9,4.9M219.1,93.8l4.9,-4.9M222.3,89.4h7M225.8,85.9v7M223.3,86.9l4.9,4.9M223.3,91.8l4.9,-4.9M226.6,87.5h7M230.1,84v7M227.6,85l4.9,4.9M227.6,89.9l4.9,-4.9M230.9,85.6h7M234.4,82.1v7M231.9,83.2l4.9,4.9M231.9,88.1l4.9,-4.9M235.2,83.9h7M238.7,80.4v7M236.2,81.4l4.9,4.9M236.2,86.3l4.9,-4.9M239.5,82.1h7M243,78.6v7M240.5,79.6l4.9,4.9M240.5,84.6l4.9,-4.9M243.8,80.3h7M247.3,76.8v7M244.8,77.8l4.9,4.9M244.8,82.8l4.9,-4.9M248.1,78.5h7M251.6,75v7M249.1,76l4.9,4.9M249.1,81l4.9,-4.9M252.4,76.7h7M255.9,73.2v7M253.4,74.2l4.9,4.9M253.4,79.2l4.9,-4.9M256.7,74.8h7M260.2,71.3v7M257.7,72.3l4.9,4.9M257.7,77.3l4.9,-4.9M261,72.9h7M264.5,69.4v7M262,70.5l4.9,4.9M262,75.4l4.9,-4.9M265.3,71h7M268.8,67.5v7M266.3,68.5l4.9,4.9M266.3,73.5l4.9,-4.9M269.6,69.1h7M273.1,65.6v7M270.6,66.6l4.9,4.9M270.6,71.5l4.9,-4.9M273.9,67h7M277.4,63.5v7M274.9,64.6l4.9,4.9M274.9,69.5l4.9,-4.9M278.2,65h7M281.7,61.5v7M279.2,62.5l4.9,4.9M279.2,67.4l4.9,-4.9M282.5,62.7h7M286,59.2v7M283.5,60.3l4.9,4.9M283.5,65.2l4.9,-4.9M286.8,60.4h7M290.3,56.9v7M287.8,58l4.9,4.9M287.8,62.9l4.9,-4.9M291.1,58.1h7M294.6,54.6v7M292.1,55.7l4.9,4.9M292.1,60.6l4.9,-4.9M295.4,55.7h7M298.9,52.2v7M296.4,53.2l4.9,4.9M296.4,58.2l4.9,-4.9M299.7,53.2h7M303.2,49.7v7M300.7,50.7l4.9,4.9M300.7,55.7l4.9,-4.9M304,50.7h7M307.5,47.2v7M305,48.2l4.9,4.9M305,53.1l4.9,-4.9M308.3,48.1h7M311.8,44.6v7M309.3,45.6l4.9,4.9M309.3,50.6l4.9,-4.9M312.6,45.6h7M316.1,42.1v7M313.6,43.1l4.9,4.9M313.6,48.1l4.9,-4.9M316.9,43.2h7M320.4,39.7v7M317.9,40.7l4.9,4.9M317.9,45.7l4.9,-4.9M321.2,41h7M324.7,37.5v7M322.2,38.5l4.9,4.9M322.2,43.4l4.9,-4.9M325.4,38.9h7M328.9,35.4v7M326.5,36.4l4.9,4.9M326.5,41.4l4.9,-4.9M329.7,37.1h7M333.2,33.6v7M330.8,34.6l4.9,4.9M330.8,39.5l4.9,-4.9M334,35.3h7M337.5,31.8v7M335.1,32.8l4.9,4.9M335.1,37.7l4.9,-4.9M338.3,33.6h7M341.8,30.1v7M339.4,31.1l4.9,4.9M339.4,36l4.9,-4.9M342.6,31.9h7M346.1,28.4v7M343.7,29.5l4.9,4.9M343.7,34.4l4.9,-4.9M346.9,30.4h7M350.4,26.9v7M348,27.9l4.9,4.9M348,32.9l4.9,-4.9M351.2,28.9h7M354.7,25.4v7M352.3,26.4l4.9,4.9M352.3,31.4l4.9,-4.9M355.5,27.6h7M359,24.1v7M356.6,25.1l4.9,4.9M356.6,30l4.9,-4.9M359.8,26.3h7M363.3,22.8v7M360.9,23.8l4.9,4.9M360.9,28.8l4.9,-4.9M364.1,25.2h7M367.6,21.7v7M365.1,22.7l4.9,4.9M365.1,27.6l4.9,-4.9M368.4,24h7M371.9,20.5v7M369.4,21.6l4.9,4.9M369.4,26.5l4.9,-4.9M372.7,23h7M376.2,19.5v7M373.7,20.5l4.9,4.9M373.7,25.4l4.9,-4.9M377,22h7M380.5,18.5v7M378,19.5l4.9,4.9M378,24.5l4.9,-4.9M381.3,21.2h7M384.8,17.7v7M382.3,18.7l4.9,4.9M382.3,23.7l4.9,-4.9M385.6,20.7h7M389.1,17.2v7M386.6,18.2l4.9,4.9M386.6,23.1l4.9,-4.9M389.9,20.3h7M393.4,16.8v7M390.9,17.8l4.9,4.9M390.9,22.8l4.9,-4.9M394.2,20h7M397.7,16.5v7M395.2,17.5l4.9,4.9M395.2,22.5l4.9,-4.9M398.5,19.8h7M402,16.3v7M399.5,17.3l4.9,4.9M399.5,22.2l4.9,-4.9M402.8,19.7h7M406.3,16.2v7M403.8,17.2l4.9,4.9M403.8,22.2l4.9,-4.9M407.1,20h7M410.6,16.5v7M408.1,17.5l4.9,4.9M408.1,22.5l4.9,-4.9M411.4,20.8h7M414.9,17.3v7M412.4,18.3l4.9,4.9M412.4,23.2l4.9,-4.9M415.7,21.8h7M419.2,18.3v7M416.7,19.4l4.9,4.9M416.7,24.3l4.9,-4.9M420,23h7M423.5,19.5v7M421,20.5l4.9,4.9M421,25.4l4.9,-4.9M424.3,24.3h7M427.8,20.8v7M425.3,21.8l4.9,4.9M425.3,26.7l4.9,-4.9M428.6,25.9h7M432.1,22.4v7M429.6,23.4l4.9,4.9M429.6,28.3l4.9,-4.9M432.9,27.7h7M436.4,24.2v7M433.9,25.2l4.9,4.9M433.9,30.2l4.9,-4.9M437.2,29.7h7M440.7,26.2v7M438.2,27.2l4.9,4.9M438.2,32.1l4.9,-4.9M441.5,31.8h7M445,28.3v7M442.5,29.3l4.9,4.9M442.5,34.3l4.9,-4.9M445.8,34.2h7M449.3,30.7v7M446.8,31.7l4.9,4.9M446.8,36.6l4.9,-4.9M450.1,36.8h7M453.6,33.3v7M451.1,34.3l4.9,4.9M451.1,39.2l4.9,-4.9M454.4,39.5h7M457.9,36v7M455.4,37l4.9,4.9M455.4,41.9l4.9,-4.9M458.7,42.2h7M462.2,38.7v7M459.7,39.8l4.9,4.9M459.7,44.7l4.9,-4.9M463,45h7M466.5,41.5v7M464,42.5l4.9,4.9M464,47.5l4.9,-4.9M467.3,47.7h7M470.8,44.2v7M468.3,45.2l4.9,4.9M468.3,50.1l4.9,-4.9M471.5,50.3h7M475,46.8v7M472.6,47.8l4.9,4.9M472.6,52.7l4.9,-4.9M475.8,52.8h7M479.3,49.3v7M476.9,50.3l4.9,4.9M476.9,55.3l4.9,-4.9M480.1,55.4h7M483.6,51.9v7M481.2,52.9l4.9,4.9M481.2,57.9l4.9,-4.9M484.4,57.9h7M487.9,54.4v7M485.5,55.5l4.9,4.9M485.5,60.4l4.9,-4.9M488.7,60.5h7M492.2,57v7M489.8,58l4.9,4.9M489.8,63l4.9,-4.9M493,63.1h7M496.5,59.6v7M494.1,60.6l4.9,4.9M494.1,65.6l4.9,-4.9M497.3,65.7h7M500.8,62.2v7M498.4,63.3l4.9,4.9M498.4,68.2l4.9,-4.9M501.6,68.4h7M505.1,64.9v7M502.7,65.9l4.9,4.9M502.7,70.9l4.9,-4.9M505.9,71h7M509.4,67.5v7M506.9,68.6l4.9,4.9M506.9,73.5l4.9,-4.9M510.2,73.7h7M513.7,70.2v7M511.2,71.2l4.9,4.9M511.2,76.2l4.9,-4.9M514.5,76.4h7M518,72.9v7M515.5,73.9l4.9,4.9M515.5,78.8l4.9,-4.9M518.8,79h7M522.3,75.5v7M519.8,76.6l4.9,4.9M519.8,81.5l4.9,-4.9M523.1,81.8h7M526.6,78.3v7M524.1,79.3l4.9,4.9M524.1,84.2l4.9,-4.9M527.4,84.5h7M530.9,81v7M528.4,82l4.9,4.9M528.4,87l4.9,-4.9M531.7,87.3h7M535.2,83.8v7M532.7,84.9l4.9,4.9M532.7,89.8l4.9,-4.9M536,90.2h7M539.5,86.7v7M537,87.8l4.9,4.9M537,92.7l4.9,-4.9M540.3,93.2h7M543.8,89.7v7M541.3,90.7l4.9,4.9M541.3,95.7l4.9,-4.9M544.6,96.3h7M548.1,92.8v7M545.6,93.8l4.9,4.9M545.6,98.8l4.9,-4.9M548.9,99.5h7M552.4,96v7M549.9,97l4.9,4.9M549.9,102l4.9,-4.9M553.2,102.8h7M556.7,99.3v7M554.2,100.4l4.9,4.9M554.2,105.3l4.9,-4.9M557.5,106.2h7M561,102.7v7M558.5,103.7l4.9,4.9M558.5,108.7l4.9,-4.9M561.8,109.6h7M565.3,106.1v7M562.8,107.1l4.9,4.9M562.8,112l4.9,-4.9M566.1,112.9h7M569.6,109.4v7M567.1,110.4l4.9,4.9M567.1,115.4l4.9,-4.9M570.4,116.2h7M573.9,112.7v7M571.4,113.7l4.9,4.9M571.4,118.7l4.9,-4.9M574.7,119.4h7M578.2,115.9v7M575.7,117l4.9,4.9M575.7,121.9l4.9,-4.9M579,122.7h7M582.5,119.2v7M580,120.2l4.9,4.9M580,125.2l4.9,-4.9M583.3,125.9h7M586.8,122.4v7M584.3,123.4l4.9,4.9M584.3,128.4l4.9,-4.9M587.6,129.2h7M591.1,125.7v7M588.6,126.7l4.9,4.9M588.6,131.6l4.9,-4.9M591.9,132.4h7M595.4,128.9v7M592.9,130l4.9,4.9M592.9,134.9l4.9,-4.9M596.2,135.6h7M599.7,132.1v7M597.2,133.2l4.9,4.9M597.2,138.1l4.9,-4.9M600.5,138.8h7M604,135.3v7M601.5,136.3l4.9,4.9M601.5,141.3l4.9,-4.9M604.8,142h7M608.3,138.5v7M605.8,139.5l4.9,4.9M605.8,144.5l4.9,-4.9M609.1,145.2h7M612.6,141.7v7M610.1,142.8l4.9,4.9M610.1,147.7l4.9,-4.9M613.3,148.6h7M616.8,145.1v7M614.4,146.1l4.9,4.9M614.4,151.1l4.9,-4.9M617.6,152.1h7M621.1,148.6v7M618.7,149.6l4.9,4.9M618.7,154.5l4.9,-4.9M621.9,155.7h7M625.4,152.2v7M623,153.2l4.9,4.9M623,158.2l4.9,-4.9M626.2,159.5h7M629.7,156v7M627.3,157l4.9,4.9M627.3,162l4.9,-4.9M630.5,163.4h7M634,159.9v7M631.6,160.9l4.9,4.9M631.6,165.8l4.9,-4.9M634.8,167.4h7M638.3,163.9v7M635.9,164.9l4.9,4.9M635.9,169.8l4.9,-4.9M639.1,171.6h7M642.6,168.1v7M640.2,169.1l4.9,4.9M640.2,174l4.9,-4.9M643.4,176h7M646.9,172.5v7M644.5,173.5l4.9,4.9M644.5,178.5l4.9,-4.9M647.7,180.7h7M651.2,177.2v7M648.8,178.2l4.9,4.9M648.8,183.2l4.9,-4.9M652,185.7h7M655.5,182.2v7M653,183.2l4.9,4.9M653,188.2l4.9,-4.9M656.3,191.4h7M659.8,187.9v7M657.3,188.9l4.9,4.9M657.3,193.9l4.9,-4.9M660.6,197.8h7M664.1,194.3v7M661.6,195.3l4.9,4.9M661.6,200.3l4.9,-4.9M664.9,204.9h7M668.4,201.4v7M665.9,202.4l4.9,4.9M665.9,207.3l4.9,-4.9M669.2,212.5h7M672.7,209v7M670.2,210l4.9,4.9M670.2,215l4.9,-4.9M673.5,220.3h7M677,216.8v7M674.5,217.8l4.9,4.9M674.5,222.8l4.9,-4.9M677.8,228.2h7M681.3,224.7v7M678.8,225.7l4.9,4.9M678.8,230.7l4.9,-4.9M682.1,236.4h7M685.6,232.9v7M683.1,233.9l4.9,4.9M683.1,238.8l4.9,-4.9M686.4,244.4h7M689.9,240.9v7M687.4,242l4.9,4.9M687.4,246.9l4.9,-4.9M690.7,253.1h7M694.2,249.6v7M691.7,250.6l4.9,4.9M691.7,255.6l4.9,-4.9M695,264.9h7M698.5,261.4v7M696,262.4l4.9,4.9M696,267.4l4.9,-4.9M699.3,276.7h7M702.8,273.2v7M700.3,274.2l4.9,4.9M700.3,279.2l4.9,-4.9M703.6,295.1h7M707.1,291.6v7M704.6,292.7l4.9,4.9M704.6,297.6l4.9,-4.9M707.9,313.6h7M711.4,310.1v7M708.9,311.1l4.9,4.9M708.9,316.1l4.9,-4.9M712.2,338h7M715.7,334.5v7M713.2,335.5l4.9,4.9M713.2,340.4l4.9,-4.9M716.5,352.2h7M720,348.7v7M717.5,349.7l4.9,4.9M717.5,354.6l4.9,-4.9M720.8,342.3h7M724.3,338.8v7M721.8,339.8l4.9,4.9M721.8,344.7l4.9,-4.9M725.1,316.2h7M728.6,312.7v7M726.1,313.8l4.9,4.9M726.1,318.7l4.9,-4.9M729.4,287.4h7M732.9,283.9v7M730.4,284.9l4.9,4.9M730.4,289.8l4.9,-4.9M733.7,259.6h7M737.2,256.1v7M734.7,257.1l4.9,4.9M734.7,262l4.9,-4.9M738,235.2h7M741.5,231.7v7M739,232.7l4.9,4.9M739,237.6l4.9,-4.9M742.3,211.4h7M745.8,207.9v7M743.3,208.9l4.9,4.9M743.3,213.8l4.9,-4.9M746.6,192.8h7M750.1,189.3v7M747.6,190.4l4.9,4.9M747.6,195.3l4.9,-4.9M750.9,173.3h7M754.4,169.8v7M751.9,170.8l4.9,4.9M751.9,175.8l4.9,-4.9M755.1,151h7M758.6,147.5v7M756.2,148.5l4.9,4.9M756.2,153.5l4.9,-4.9M759.4,128.1h7M762.9,124.6v7M760.5,125.6l4.9,4.9M760.5,130.5l4.9,-4.9M763.7,103.6h7M767.2,100.1v7M764.8,101.1l4.9,4.9M764.8,106.1l4.9,-4.9M768,82.2h7M771.5,78.7v7M769.1,79.7l4.9,4.9M769.1,84.6l4.9,-4.9M772.3,70.3h7M775.8,66.8v7M773.4,67.8l4.9,4.9M773.4,72.8l4.9,-4.9M776.6,70.3h7M780.1,66.8v7M777.7,67.8l4.9,4.9M777.7,72.8l4.9,-4.9M780.9,83.2h7M784.4,79.7v7M782,80.8l4.9,4.9M782,85.7l4.9,-4.9M785.2,99.1h7M788.7,95.6v7M786.3,96.6l4.9,4.9M786.3,101.5l4.9,-4.9M789.5,117h7M793,113.5v7M790.6,114.6l4.9,4.9M790.6,119.5l4.9,-4.9M793.8,131.2h7M797.3,127.7v7M794.8,128.7l4.9,4.9M794.8,133.7l4.9,-4.9M798.1,143.2h7M801.6,139.7v7M799.1,140.7l4.9,4.9M799.1,145.7l4.9,-4.9M802.4,155.4h7M805.9,151.9v7M803.4,152.9l4.9,4.9M803.4,157.9l4.9,-4.9M806.7,166.9h7M810.2,163.4v7M807.7,164.4l4.9,4.9M807.7,169.4l4.9,-4.9M811,177.9h7M814.5,174.4v7M812,175.4l4.9,4.9M812,180.4l4.9,-4.9M815.3,188.4h7M818.8,184.9v7M816.3,186l4.9,4.9M816.3,190.9l4.9,-4.9M819.6,198.2h7M823.1,194.7v7M820.6,195.7l4.9,4.9M820.6,200.7l4.9,-4.9M823.9,206.4h7M827.4,202.9v7M824.9,203.9l4.9,4.9M824.9,208.8l4.9,-4.9M828.2,214.1h7M831.7,210.6v7M829.2,211.6l4.9,4.9M829.2,216.5l4.9,-4.9M832.5,222.9h7M836,219.4v7M833.5,220.4l4.9,4.9M833.5,225.4l4.9,-4.9M836.8,232.2h7M840.3,228.7v7M837.8,229.8l4.9,4.9M837.8,234.7l4.9,-4.9M841.1,241.2h7M844.6,237.7v7M842.1,238.7l4.9,4.9M842.1,243.6l4.9,-4.9M845.4,250.1h7M848.9,246.6v7M846.4,247.6l4.9,4.9M846.4,252.6l4.9,-4.9M849.7,259.7h7M853.2,256.2v7M850.7,257.2l4.9,4.9M850.7,262.2l4.9,-4.9M854,270.1h7M857.5,266.6v7M855,267.6l4.9,4.9M855,272.5l4.9,-4.9M858.3,281.8h7M861.8,278.3v7M859.3,279.3l4.9,4.9M859.3,284.2l4.9,-4.9M862.6,294.6h7M866.1,291.1v7M863.6,292.1l4.9,4.9M863.6,297.1l4.9,-4.9M866.9,307.3h7M870.4,303.8v7M867.9,304.8l4.9,4.9M867.9,309.8l4.9,-4.9M871.2,321.3h7M874.7,317.8v7M872.2,318.8l4.9,4.9M872.2,323.8l4.9,-4.9M875.5,339.1h7M879,335.6v7M876.5,336.7l4.9,4.9M876.5,341.6l4.9,-4.9M879.8,359.2h7M883.3,355.7v7M880.8,356.7l4.9,4.9M880.8,361.7l4.9,-4.9M884.1,379.4h7M887.6,375.9v7M885.1,376.9l4.9,4.9M885.1,381.8l4.9,-4.9M914.1,388.1h7M917.6,384.6v7M915.2,385.6l4.9,4.9M915.2,390.5l4.9,-4.9M918.4,362.1h7M921.9,358.6v7M919.5,359.6l4.9,4.9M919.5,364.6l4.9,-4.9M922.7,348.7h7M926.2,345.2v7M923.8,346.2l4.9,4.9M923.8,351.2l4.9,-4.9M927,336.7h7M930.5,333.2v7M928.1,334.2l4.9,4.9M928.1,339.2l4.9,-4.9M931.3,325.9h7M934.8,322.4v7M932.4,323.5l4.9,4.9M932.4,328.4l4.9,-4.9M935.6,316h7M939.1,312.5v7M936.6,313.6l4.9,4.9M936.6,318.5l4.9,-4.9M939.9,307.3h7M943.4,303.8v7M940.9,304.8l4.9,4.9M940.9,309.8l4.9,-4.9M944.2,299.9h7M947.7,296.4v7M945.2,297.4l4.9,4.9M945.2,302.4l4.9,-4.9M948.5,293.1h7M952,289.6v7M949.5,290.6l4.9,4.9M949.5,295.6l4.9,-4.9M952.8,286.5h7M956.3,283v7M953.8,284l4.9,4.9M953.8,289l4.9,-4.9M957.1,280.6h7M960.6,277.1v7M958.1,278.2l4.9,4.9M958.1,283.1l4.9,-4.9M961.4,275.8h7M964.9,272.3v7M962.4,273.4l4.9,4.9M962.4,278.3l4.9,-4.9M965.7,271.5h7M969.2,268v7M966.7,269.1l4.9,4.9M966.7,274l4.9,-4.9M970,267.5h7M973.5,264v7M971,265.1l4.9,4.9M971,270l4.9,-4.9" fill="none" stroke="#86223a" stroke-width="1.7"/>
<rect x="114.1" y="13.5" width="859.4" height="398.5" fill="none" stroke="#5c5c5c" stroke-width="1.2"/>
<path d="M114.1,412v-9.2M114.1,13.5v9.2M257.3,412v-9.2M257.3,13.5v9.2M400.6,412v-9.2M400.6,13.5v9.2M543.8,412v-9.2M543.8,13.5v9.2M687,412v-9.2M687,13.5v9.2M830.3,412v-9.2M830.3,13.5v9.2M973.5,412v-9.2M973.5,13.5v9.2M114.1,13.5h9.2M973.5,13.5h-9.2M114.1,113.1h9.2M973.5,113.1h-9.2M114.1,212.8h9.2M973.5,212.8h-9.2M114.1,312.4h9.2M973.5,312.4h-9.2M114.1,412h9.2M973.5,412h-9.2" stroke="#3a3a3a" stroke-width="1.4" fill="none"/>
<text transform="translate(114.1,458.8) scale(1,1.12)" font-size="38.3" text-anchor="middle" fill="#262626" stroke="#262626" stroke-width="0.2">1</text>
<text transform="translate(257.3,458.8) scale(1,1.12)" font-size="38.3" text-anchor="middle" fill="#262626" stroke="#262626" stroke-width="0.2">1.5</text>
<text transform="translate(400.6,458.8) scale(1,1.12)" font-size="38.3" text-anchor="middle" fill="#262626" stroke="#262626" stroke-width="0.2">2</text>
<text transform="translate(543.8,458.8) scale(1,1.12)" font-size="38.3" text-anchor="middle" fill="#262626" stroke="#262626" stroke-width="0.2">2.5</text>
<text transform="translate(687,458.8) scale(1,1.12)" font-size="38.3" text-anchor="middle" fill="#262626" stroke="#262626" stroke-width="0.2">3</text>
<text transform="translate(830.3,458.8) scale(1,1.12)" font-size="38.3" text-anchor="middle" fill="#262626" stroke="#262626" stroke-width="0.2">3.5</text>
<text transform="translate(973.5,458.8) scale(1,1.12)" font-size="38.3" text-anchor="middle" fill="#262626" stroke="#262626" stroke-width="0.2">4</text>
<text transform="translate(105.3,28.8) scale(1,1.12)" font-size="38.3" text-anchor="end" fill="#262626" stroke="#262626" stroke-width="0.2">0</text>
<text transform="translate(105.3,128.4) scale(1,1.12)" font-size="38.3" text-anchor="end" fill="#262626" stroke="#262626" stroke-width="0.2">-10</text>
<text transform="translate(105.3,228.1) scale(1,1.12)" font-size="38.3" text-anchor="end" fill="#262626" stroke="#262626" stroke-width="0.2">-20</text>
<text transform="translate(105.3,327.7) scale(1,1.12)" font-size="38.3" text-anchor="end" fill="#262626" stroke="#262626" stroke-width="0.2">-30</text>
<text transform="translate(105.3,427.3) scale(1,1.12)" font-size="38.3" text-anchor="end" fill="#262626" stroke="#262626" stroke-width="0.2">-40</text>
<text transform="translate(544.5,505.2) scale(1,1.1)" font-size="38.3" text-anchor="middle" fill="#000" stroke="#000" stroke-width="0.3">Frequency (GHz)</text>
<text transform="translate(26.7,287.5) scale(1,1.05) rotate(-90)" font-size="38.3" fill="#000" stroke="#000" stroke-width="0.3"><tspan x="-2.7" dy="-5.7" font-size="27">|</tspan><tspan x="2.6" dy="5.7">S</tspan><tspan x="26.2" dy="18.5" font-size="28">21</tspan><tspan x="58" dy="-24.2" font-size="27">|</tspan><tspan x="74" dy="5.7">(dB)</tspan></text>
<text transform="translate(484,560.6) scale(1,1.05)" font-size="32" text-anchor="middle" fill="#111" stroke="#000" stroke-width="0.3">(a)</text>
<rect x="122.5" y="196.5" width="181.9" height="201.6" fill="#fff" stroke="#444" stroke-width="1"/>
<path d="M125.2,222.6h18.4" stroke="#0000ff" stroke-width="3.3" stroke-dasharray="12 8" fill="none"/>
<path d="M129.2,225.7L139.6,225.7L134.4,216.3ZM134,222.9L134.8,222.9L134.4,222.1Z" fill="#0000ff" fill-rule="evenodd"/>
<text transform="translate(146.2,238.6) scale(1,1.085)" font-size="41.2" fill="#000" stroke="#000" stroke-width="0.3">TE-0°</text>
<path d="M125.2,272.3h18.4" stroke="#7e2f8e" stroke-width="3.3" stroke-dasharray="12 8" fill="none"/>
<path d="M130.9,272.3h7M134.4,268.8v7M131.9,269.8l4.9,4.9M131.9,274.8l4.9,-4.9" fill="none" stroke="#7e2f8e" stroke-width="1.7"/>
<text transform="translate(146.2,288.3) scale(1,1.085)" font-size="41.2" fill="#000" stroke="#000" stroke-width="0.3">TE-30°</text>
<path d="M125.2,322h18.4" stroke="#ff0000" stroke-width="3.3" stroke-dasharray="12 8" fill="none"/>
<circle cx="134.4" cy="322" r="2.3" fill="none" stroke="#ff0000" stroke-width="2.7"/>
<text transform="translate(146.2,338) scale(1,1.085)" font-size="41.2" fill="#000" stroke="#000" stroke-width="0.3">TE-45°</text>
<path d="M125.2,371.7h18.4" stroke="#d27a88" stroke-width="3.3" stroke-dasharray="12 8" fill="none"/>
<path d="M130.9,371.7h7M134.4,368.2v7M131.9,369.2l4.9,4.9M131.9,374.2l4.9,-4.9" fill="none" stroke="#d27a88" stroke-width="1.7"/>
<text transform="translate(146.2,387.7) scale(1,1.085)" font-size="41.2" fill="#000" stroke="#000" stroke-width="0.3">TE-ECM</text>
<rect x="304.4" y="196.5" width="194.2" height="201.6" fill="#fff" stroke="#444" stroke-width="1"/>
<path d="M307.1,222.6h18.4" stroke="#000000" stroke-width="3.3" stroke-dasharray="12 8" fill="none"/>
<path d="M319.4,217.1L319.4,228.1L310.1,222.6ZM316.6,222.1L316.6,223.1L315.8,222.6Z" fill="#000000" fill-rule="evenodd"/>
<text transform="translate(329.3,238.6) scale(1,1.085)" font-size="41.2" fill="#000" stroke="#000" stroke-width="0.3">TM-0°</text>
<path d="M307.1,272.3h18.4" stroke="#008000" stroke-width="3.3" stroke-dasharray="12 8" fill="none"/>
<path d="M316.3,266.2L320.7,272.3L316.3,278.4L311.9,272.3ZM316.3,271.6L316.8,272.3L316.3,273L315.8,272.3Z" fill="#008000" fill-rule="evenodd"/>
<text transform="translate(329.3,288.3) scale(1,1.085)" font-size="41.2" fill="#000" stroke="#000" stroke-width="0.3">TM-30°</text>
<path d="M307.1,322h18.4" stroke="#12a5be" stroke-width="3.3" stroke-dasharray="12 8" fill="none"/>
<path d="M313.2,316.5L313.2,327.5L322.5,322ZM316,321.4L316,322.6L316.9,322Z" fill="#12a5be" fill-rule="evenodd"/>
<text transform="translate(329.3,338) scale(1,1.085)" font-size="41.2" fill="#000" stroke="#000" stroke-width="0.3">TM-45°</text>
<path d="M307.1,371.7h18.4" stroke="#86223a" stroke-width="3.3" stroke-dasharray="12 8" fill="none"/>
<path d="M312.8,371.7h7M316.3,368.2v7M313.8,369.2l4.9,4.9M313.8,374.2l4.9,-4.9" fill="none" stroke="#86223a" stroke-width="1.7"/>
<text transform="translate(329.3,387.7) scale(1,1.085)" font-size="41.2" fill="#000" stroke="#000" stroke-width="0.3">TM-ECM</text>
<clipPath id="c1"><rect x="114.1" y="634" width="855.4" height="402.8"/></clipPath>
<path d="M256.6,634.5V1036.3M399,634.5V1036.3M541.5,634.5V1036.3M684,634.5V1036.3M826.4,634.5V1036.3M114.1,735H968.9M114.1,835.4H968.9M114.1,935.8H968.9" stroke="#dfdfdf" stroke-width="1" fill="none"/>
<path clip-path="url(#c1)" d="M114.1,820.8L124.1,817.8L134,814.7L144,811.7L154,808.8L164,805.9L173.9,803L183.9,800.1L193.9,797.4L203.9,794.6L213.8,791.9L223.8,789.3L233.8,786.6L243.7,784L253.7,781.4L263.7,778.8L273.7,776.2L283.6,773.7L293.6,771.2L303.6,768.7L313.6,766.2L323.5,763.7L333.5,761.1L343.5,758.6L353.4,756.2L363.4,753.7L373.4,751.2L383.4,748.7L393.3,746L403.3,743.3L413.3,740.5L423.3,737.7L433.2,734.8L443.2,731.8L453.2,728.8L463.1,725.7L473.1,722.5L483.1,719.2L493.1,715.9L503,712.5L513,709L523,705.4L533,701.6L542.9,697.7L552.9,693.6L562.9,689.3L572.8,684.7L582.8,679.9L592.8,674.8L602.8,669.2L612.7,663.5L622.7,657.6L632.7,651.6L642.7,645.5L652.6,639.7L662.6,637.5L672.6,637.5L682.5,641L692.5,649.6L702.5,662.1L712.5,676.7L722.4,693.3L732.4,710.8L742.4,728.9L752.4,748L762.3,768.1L772.3,790.2L782.3,814.3L792.2,848.5L802.2,896.7L812.2,982.1L822.2,1187L832.1,932.8L842.1,886.6L852.1,859.5L862.1,839.4L872,824.4L882,813.3L892,803.3L901.9,794.2L911.9,785.2L921.9,778.1L931.9,772.1L941.8,766.1L951.8,762.1L961.8,757L971.7,753" fill="none" stroke="#0000ff" stroke-width="3.3" stroke-dasharray="10.6 10.6"/>
<path d="M108.9,823.9L119.3,823.9L114.1,814.5ZM113.7,821.1L114.5,821.1L114.1,820.3ZM118.9,820.8L129.3,820.8L124.1,811.4ZM123.6,818L124.5,818L124.1,817.2ZM128.8,817.8L139.2,817.8L134,808.4ZM133.6,815L134.5,815L134,814.2ZM138.8,814.8L149.2,814.8L144,805.4ZM143.6,812L144.5,812L144,811.2ZM148.8,811.8L159.2,811.8L154,802.4ZM153.5,809L154.4,809L154,808.2ZM158.8,808.9L169.2,808.9L164,799.5ZM163.5,806.1L164.4,806.1L164,805.3ZM168.7,806L179.1,806L173.9,796.6ZM173.5,803.2L174.4,803.2L173.9,802.4ZM178.7,803.2L189.1,803.2L183.9,793.8ZM183.5,800.4L184.4,800.4L183.9,799.6ZM188.7,800.4L199.1,800.4L193.9,791ZM193.4,797.6L194.3,797.6L193.9,796.8ZM198.7,797.7L209.1,797.7L203.9,788.3ZM203.4,794.9L204.3,794.9L203.9,794.1ZM208.6,795L219,795L213.8,785.6ZM213.4,792.2L214.3,792.2L213.8,791.4ZM218.6,792.3L229,792.3L223.8,782.9ZM223.4,789.5L224.2,789.5L223.8,788.7ZM228.6,789.7L239,789.7L233.8,780.3ZM233.3,786.9L234.2,786.9L233.8,786.1ZM238.5,787.1L248.9,787.1L243.7,777.7ZM243.3,784.3L244.2,784.3L243.7,783.5ZM248.5,784.5L258.9,784.5L253.7,775.1ZM253.3,781.7L254.2,781.7L253.7,780.9ZM258.5,781.9L268.9,781.9L263.7,772.5ZM263.2,779.1L264.1,779.1L263.7,778.3ZM268.5,779.3L278.9,779.3L273.7,769.9ZM273.2,776.5L274.1,776.5L273.7,775.7ZM278.4,776.8L288.8,776.8L283.6,767.4ZM283.2,774L284.1,774L283.6,773.2ZM288.4,774.3L298.8,774.3L293.6,764.9ZM293.2,771.5L294.1,771.5L293.6,770.7ZM298.4,771.8L308.8,771.8L303.6,762.4ZM303.1,768.9L304,768.9L303.6,768.1ZM308.4,769.2L318.8,769.2L313.6,759.8ZM313.1,766.4L314,766.4L313.6,765.6ZM318.3,766.7L328.7,766.7L323.5,757.3ZM323.1,763.9L324,763.9L323.5,763.1ZM328.3,764.2L338.7,764.2L333.5,754.8ZM333.1,761.4L333.9,761.4L333.5,760.6ZM338.3,761.7L348.7,761.7L343.5,752.3ZM343,758.9L343.9,758.9L343.5,758.1ZM348.2,759.2L358.6,759.2L353.4,749.8ZM353,756.4L353.9,756.4L353.4,755.6ZM358.2,756.8L368.6,756.8L363.4,747.4ZM363,754L363.9,754L363.4,753.2ZM368.2,754.3L378.6,754.3L373.4,744.9ZM372.9,751.5L373.8,751.5L373.4,750.7ZM378.2,751.7L388.6,751.7L383.4,742.3ZM382.9,748.9L383.8,748.9L383.4,748.1ZM388.1,749.1L398.5,749.1L393.3,739.7ZM392.9,746.3L393.8,746.3L393.3,745.5ZM398.1,746.4L408.5,746.4L403.3,737ZM402.9,743.6L403.7,743.6L403.3,742.8ZM408.1,743.6L418.5,743.6L413.3,734.2ZM412.8,740.8L413.7,740.8L413.3,740ZM418.1,740.8L428.5,740.8L423.3,731.4ZM422.8,738L423.7,738L423.3,737.2ZM428,737.9L438.4,737.9L433.2,728.5ZM432.8,735.1L433.7,735.1L433.2,734.3ZM438,734.9L448.4,734.9L443.2,725.5ZM442.8,732.1L443.6,732.1L443.2,731.3ZM448,731.9L458.4,731.9L453.2,722.5ZM452.7,729L453.6,729L453.2,728.2ZM457.9,728.7L468.3,728.7L463.1,719.3ZM462.7,725.9L463.6,725.9L463.1,725.1ZM467.9,725.5L478.3,725.5L473.1,716.1ZM472.7,722.7L473.6,722.7L473.1,721.9ZM477.9,722.3L488.3,722.3L483.1,712.9ZM482.6,719.5L483.5,719.5L483.1,718.7ZM487.9,719L498.3,719L493.1,709.6ZM492.6,716.2L493.5,716.2L493.1,715.4ZM497.8,715.6L508.2,715.6L503,706.2ZM502.6,712.8L503.5,712.8L503,712ZM507.8,712.1L518.2,712.1L513,702.7ZM512.6,709.3L513.4,709.3L513,708.5ZM517.8,708.5L528.2,708.5L523,699.1ZM522.5,705.6L523.4,705.6L523,704.8ZM527.8,704.7L538.2,704.7L533,695.3ZM532.5,701.9L533.4,701.9L533,701.1ZM537.7,700.8L548.1,700.8L542.9,691.4ZM542.5,698L543.4,698L542.9,697.2ZM547.7,696.7L558.1,696.7L552.9,687.3ZM552.5,693.9L553.3,693.9L552.9,693.1ZM557.7,692.3L568.1,692.3L562.9,682.9ZM562.4,689.5L563.3,689.5L562.9,688.7ZM567.6,687.8L578,687.8L572.8,678.4ZM572.4,685L573.3,685L572.8,684.2ZM577.6,683L588,683L582.8,673.6ZM582.4,680.2L583.3,680.2L582.8,679.4ZM587.6,677.8L598,677.8L592.8,668.4ZM592.3,675L593.2,675L592.8,674.2ZM597.6,672.3L608,672.3L602.8,662.9ZM602.3,669.5L603.2,669.5L602.8,668.7ZM607.5,666.5L617.9,666.5L612.7,657.1ZM612.3,663.7L613.2,663.7L612.7,662.9ZM617.5,660.7L627.9,660.7L622.7,651.3ZM622.3,657.9L623.1,657.9L622.7,657.1ZM627.5,654.7L637.9,654.7L632.7,645.3ZM632.2,651.9L633.1,651.9L632.7,651.1ZM637.5,648.6L647.9,648.6L642.7,639.2ZM642.2,645.8L643.1,645.8L642.7,645ZM647.4,642.8L657.8,642.8L652.6,633.4ZM652.2,640L653.1,640L652.6,639.2ZM657.4,640.6L667.8,640.6L662.6,631.2ZM662.2,637.8L663,637.8L662.6,637ZM667.4,640.6L677.8,640.6L672.6,631.2ZM672.1,637.8L673,637.8L672.6,637ZM677.3,644.1L687.7,644.1L682.5,634.7ZM682.1,641.3L683,641.3L682.5,640.5ZM687.3,652.6L697.7,652.6L692.5,643.2ZM692.1,649.8L693,649.8L692.5,649ZM697.3,665.2L707.7,665.2L702.5,655.8ZM702,662.4L702.9,662.4L702.5,661.6ZM707.3,679.8L717.7,679.8L712.5,670.4ZM712,676.9L712.9,676.9L712.5,676.2ZM717.2,696.3L727.6,696.3L722.4,686.9ZM722,693.5L722.9,693.5L722.4,692.7ZM727.2,713.9L737.6,713.9L732.4,704.5ZM732,711.1L732.8,711.1L732.4,710.3ZM737.2,732L747.6,732L742.4,722.6ZM741.9,729.2L742.8,729.2L742.4,728.4ZM747.2,751.1L757.6,751.1L752.4,741.7ZM751.9,748.3L752.8,748.3L752.4,747.5ZM757.1,771.2L767.5,771.2L762.3,761.8ZM761.9,768.4L762.8,768.4L762.3,767.6ZM767.1,793.3L777.5,793.3L772.3,783.9ZM771.9,790.5L772.7,790.5L772.3,789.7ZM777.1,817.4L787.5,817.4L782.3,808ZM781.8,814.6L782.7,814.6L782.3,813.8ZM787,851.5L797.4,851.5L792.2,842.1ZM791.8,848.7L792.7,848.7L792.2,847.9ZM797,899.7L807.4,899.7L802.2,890.3ZM801.8,896.9L802.7,896.9L802.2,896.1ZM807,985.1L817.4,985.1L812.2,975.7ZM811.7,982.3L812.6,982.3L812.2,981.5ZM826.9,935.9L837.3,935.9L832.1,926.5ZM831.7,933.1L832.6,933.1L832.1,932.3ZM836.9,889.7L847.3,889.7L842.1,880.3ZM841.7,886.9L842.5,886.9L842.1,886.1ZM846.9,862.6L857.3,862.6L852.1,853.2ZM851.6,859.8L852.5,859.8L852.1,859ZM856.9,842.5L867.3,842.5L862.1,833.1ZM861.6,839.7L862.5,839.7L862.1,838.9ZM866.8,827.4L877.2,827.4L872,818ZM871.6,824.6L872.5,824.6L872,823.8ZM876.8,816.4L887.2,816.4L882,807ZM881.6,813.6L882.4,813.6L882,812.8ZM886.8,806.3L897.2,806.3L892,796.9ZM891.5,803.5L892.4,803.5L892,802.7ZM896.7,797.3L907.1,797.3L901.9,787.9ZM901.5,794.5L902.4,794.5L901.9,793.7ZM906.7,788.2L917.1,788.2L911.9,778.8ZM911.5,785.4L912.4,785.4L911.9,784.6ZM916.7,781.2L927.1,781.2L921.9,771.8ZM921.4,778.4L922.3,778.4L921.9,777.6ZM926.7,775.2L937.1,775.2L931.9,765.8ZM931.4,772.4L932.3,772.4L931.9,771.6ZM936.6,769.2L947,769.2L941.8,759.8ZM941.4,766.4L942.3,766.4L941.8,765.6ZM946.6,765.1L957,765.1L951.8,755.7ZM951.4,762.3L952.2,762.3L951.8,761.5ZM956.6,760.1L967,760.1L961.8,750.7ZM961.3,757.3L962.2,757.3L961.8,756.5Z" fill="#0000ff" fill-rule="evenodd"/>
<path clip-path="url(#c1)" d="M114.1,833.4L124.1,830L134,826.8L144,823.5L154,820.3L164,817.2L173.9,814.2L183.9,811.2L193.9,808.3L203.9,805.4L213.8,802.6L223.8,799.9L233.8,797.2L243.7,794.5L253.7,791.9L263.7,789.4L273.7,787L283.6,784.6L293.6,782.2L303.6,779.9L313.6,777.6L323.5,775.2L333.5,772.7L343.5,770.3L353.4,767.8L363.4,765.4L373.4,762.9L383.4,760.3L393.3,757.6L403.3,754.8L413.3,752L423.3,749L433.2,745.9L443.2,742.8L453.2,739.6L463.1,736.3L473.1,733L483.1,729.6L493.1,726.2L503,722.6L513,719L523,715.2L533,711.3L542.9,707.2L552.9,702.9L562.9,698.4L572.8,693.6L582.8,688.5L592.8,683L602.8,677.1L612.7,670.8L622.7,664.2L632.7,657L642.7,649.6L652.6,642.5L662.6,638.5L672.6,637.5L682.5,642L692.5,653.6L702.5,666.6L712.5,683.7L722.4,700.8L732.4,719.9L742.4,739L752.4,760.1L762.3,782.2L772.3,805.3L782.3,835.4L792.2,871.6L802.2,928.8L812.2,1096.6L822.2,976L832.1,912.7L842.1,880.6L852.1,857.5L862.1,838.4L872,823.3L882,812.3L892,801.2L901.9,792.2L911.9,783.2L921.9,775.1L931.9,767.1L941.8,759.1L951.8,751L961.8,742L971.7,735" fill="none" stroke="#7e2f8e" stroke-width="3.3" stroke-dasharray="10.6 10.6"/>
<path d="M110.6,833.4h7M114.1,829.9v7M111.6,830.9l4.9,4.9M111.6,835.9l4.9,-4.9M120.6,830h7M124.1,826.5v7M121.6,827.6l4.9,4.9M121.6,832.5l4.9,-4.9M130.5,826.8h7M134,823.3v7M131.6,824.3l4.9,4.9M131.6,829.2l4.9,-4.9M140.5,823.5h7M144,820v7M141.5,821l4.9,4.9M141.5,826l4.9,-4.9M150.5,820.3h7M154,816.8v7M151.5,817.9l4.9,4.9M151.5,822.8l4.9,-4.9M160.5,817.2h7M164,813.7v7M161.5,814.8l4.9,4.9M161.5,819.7l4.9,-4.9M170.4,814.2h7M173.9,810.7v7M171.5,811.7l4.9,4.9M171.5,816.7l4.9,-4.9M180.4,811.2h7M183.9,807.7v7M181.4,808.7l4.9,4.9M181.4,813.7l4.9,-4.9M190.4,808.3h7M193.9,804.8v7M191.4,805.8l4.9,4.9M191.4,810.8l4.9,-4.9M200.4,805.4h7M203.9,801.9v7M201.4,803l4.9,4.9M201.4,807.9l4.9,-4.9M210.3,802.6h7M213.8,799.1v7M211.4,800.1l4.9,4.9M211.4,805.1l4.9,-4.9M220.3,799.9h7M223.8,796.4v7M221.3,797.4l4.9,4.9M221.3,802.3l4.9,-4.9M230.3,797.2h7M233.8,793.7v7M231.3,794.7l4.9,4.9M231.3,799.6l4.9,-4.9M240.2,794.5h7M243.7,791v7M241.3,792.1l4.9,4.9M241.3,797l4.9,-4.9M250.2,791.9h7M253.7,788.4v7M251.2,789.5l4.9,4.9M251.2,794.4l4.9,-4.9M260.2,789.4h7M263.7,785.9v7M261.2,786.9l4.9,4.9M261.2,791.9l4.9,-4.9M270.2,787h7M273.7,783.5v7M271.2,784.5l4.9,4.9M271.2,789.4l4.9,-4.9M280.1,784.6h7M283.6,781.1v7M281.2,782.1l4.9,4.9M281.2,787.1l4.9,-4.9M290.1,782.2h7M293.6,778.7v7M291.1,779.8l4.9,4.9M291.1,784.7l4.9,-4.9M300.1,779.9h7M303.6,776.4v7M301.1,777.4l4.9,4.9M301.1,782.4l4.9,-4.9M310.1,777.6h7M313.6,774.1v7M311.1,775.1l4.9,4.9M311.1,780l4.9,-4.9M320,775.2h7M323.5,771.7v7M321.1,772.7l4.9,4.9M321.1,777.6l4.9,-4.9M330,772.7h7M333.5,769.2v7M331,770.2l4.9,4.9M331,775.2l4.9,-4.9M340,770.3h7M343.5,766.8v7M341,767.8l4.9,4.9M341,772.8l4.9,-4.9M349.9,767.8h7M353.4,764.3v7M351,765.4l4.9,4.9M351,770.3l4.9,-4.9M359.9,765.4h7M363.4,761.9v7M360.9,762.9l4.9,4.9M360.9,767.9l4.9,-4.9M369.9,762.9h7M373.4,759.4v7M370.9,760.4l4.9,4.9M370.9,765.3l4.9,-4.9M379.9,760.3h7M383.4,756.8v7M380.9,757.8l4.9,4.9M380.9,762.8l4.9,-4.9M389.8,757.6h7M393.3,754.1v7M390.9,755.1l4.9,4.9M390.9,760.1l4.9,-4.9M399.8,754.8h7M403.3,751.3v7M400.8,752.4l4.9,4.9M400.8,757.3l4.9,-4.9M409.8,752h7M413.3,748.5v7M410.8,749.5l4.9,4.9M410.8,754.4l4.9,-4.9M419.8,749h7M423.3,745.5v7M420.8,746.5l4.9,4.9M420.8,751.5l4.9,-4.9M429.7,745.9h7M433.2,742.4v7M430.8,743.5l4.9,4.9M430.8,748.4l4.9,-4.9M439.7,742.8h7M443.2,739.3v7M440.7,740.3l4.9,4.9M440.7,745.3l4.9,-4.9M449.7,739.6h7M453.2,736.1v7M450.7,737.1l4.9,4.9M450.7,742.1l4.9,-4.9M459.6,736.3h7M463.1,732.8v7M460.7,733.8l4.9,4.9M460.7,738.8l4.9,-4.9M469.6,733h7M473.1,729.5v7M470.6,730.5l4.9,4.9M470.6,735.5l4.9,-4.9M479.6,729.6h7M483.1,726.1v7M480.6,727.1l4.9,4.9M480.6,732.1l4.9,-4.9M489.6,726.2h7M493.1,722.7v7M490.6,723.7l4.9,4.9M490.6,728.6l4.9,-4.9M499.5,722.6h7M503,719.1v7M500.6,720.2l4.9,4.9M500.6,725.1l4.9,-4.9M509.5,719h7M513,715.5v7M510.5,716.5l4.9,4.9M510.5,721.5l4.9,-4.9M519.5,715.2h7M523,711.7v7M520.5,712.8l4.9,4.9M520.5,717.7l4.9,-4.9M529.5,711.3h7M533,707.8v7M530.5,708.8l4.9,4.9M530.5,713.8l4.9,-4.9M539.4,707.2h7M542.9,703.7v7M540.4,704.8l4.9,4.9M540.4,709.7l4.9,-4.9M549.4,702.9h7M552.9,699.4v7M550.4,700.5l4.9,4.9M550.4,705.4l4.9,-4.9M559.4,698.4h7M562.9,694.9v7M560.4,695.9l4.9,4.9M560.4,700.9l4.9,-4.9M569.3,693.6h7M572.8,690.1v7M570.4,691.1l4.9,4.9M570.4,696.1l4.9,-4.9M579.3,688.5h7M582.8,685v7M580.3,686l4.9,4.9M580.3,691l4.9,-4.9M589.3,683h7M592.8,679.5v7M590.3,680.5l4.9,4.9M590.3,685.5l4.9,-4.9M599.3,677.1h7M602.8,673.6v7M600.3,674.6l4.9,4.9M600.3,679.6l4.9,-4.9M609.2,670.8h7M612.7,667.3v7M610.3,668.3l4.9,4.9M610.3,673.3l4.9,-4.9M619.2,664.2h7M622.7,660.7v7M620.2,661.7l4.9,4.9M620.2,666.7l4.9,-4.9M629.2,657h7M632.7,653.5v7M630.2,654.5l4.9,4.9M630.2,659.5l4.9,-4.9M639.2,649.6h7M642.7,646.1v7M640.2,647.1l4.9,4.9M640.2,652l4.9,-4.9M649.1,642.5h7M652.6,639v7M650.1,640.1l4.9,4.9M650.1,645l4.9,-4.9M659.1,638.5h7M662.6,635v7M660.1,636l4.9,4.9M660.1,641l4.9,-4.9M669.1,637.5h7M672.6,634v7M670.1,635l4.9,4.9M670.1,640l4.9,-4.9M679,642h7M682.5,638.5v7M680.1,639.6l4.9,4.9M680.1,644.5l4.9,-4.9M689,653.6h7M692.5,650.1v7M690,651.1l4.9,4.9M690,656.1l4.9,-4.9M699,666.6h7M702.5,663.1v7M700,664.2l4.9,4.9M700,669.1l4.9,-4.9M709,683.7h7M712.5,680.2v7M710,681.2l4.9,4.9M710,686.2l4.9,-4.9M718.9,700.8h7M722.4,697.3v7M720,698.3l4.9,4.9M720,703.3l4.9,-4.9M728.9,719.9h7M732.4,716.4v7M729.9,717.4l4.9,4.9M729.9,722.4l4.9,-4.9M738.9,739h7M742.4,735.5v7M739.9,736.5l4.9,4.9M739.9,741.4l4.9,-4.9M748.9,760.1h7M752.4,756.6v7M749.9,757.6l4.9,4.9M749.9,762.5l4.9,-4.9M758.8,782.2h7M762.3,778.7v7M759.8,779.7l4.9,4.9M759.8,784.6l4.9,-4.9M768.8,805.3h7M772.3,801.8v7M769.8,802.8l4.9,4.9M769.8,807.7l4.9,-4.9M778.8,835.4h7M782.3,831.9v7M779.8,832.9l4.9,4.9M779.8,837.9l4.9,-4.9M788.7,871.6h7M792.2,868.1v7M789.8,869.1l4.9,4.9M789.8,874l4.9,-4.9M798.7,928.8h7M802.2,925.3v7M799.7,926.3l4.9,4.9M799.7,931.3l4.9,-4.9M818.7,976h7M822.2,972.5v7M819.7,973.6l4.9,4.9M819.7,978.5l4.9,-4.9M828.6,912.7h7M832.1,909.2v7M829.7,910.3l4.9,4.9M829.7,915.2l4.9,-4.9M838.6,880.6h7M842.1,877.1v7M839.6,878.1l4.9,4.9M839.6,883.1l4.9,-4.9M848.6,857.5h7M852.1,854v7M849.6,855l4.9,4.9M849.6,860l4.9,-4.9M858.6,838.4h7M862.1,834.9v7M859.6,835.9l4.9,4.9M859.6,840.9l4.9,-4.9M868.5,823.3h7M872,819.8v7M869.5,820.9l4.9,4.9M869.5,825.8l4.9,-4.9M878.5,812.3h7M882,808.8v7M879.5,809.8l4.9,4.9M879.5,814.8l4.9,-4.9M888.5,801.2h7M892,797.7v7M889.5,798.8l4.9,4.9M889.5,803.7l4.9,-4.9M898.4,792.2h7M901.9,788.7v7M899.5,789.7l4.9,4.9M899.5,794.7l4.9,-4.9M908.4,783.2h7M911.9,779.7v7M909.4,780.7l4.9,4.9M909.4,785.6l4.9,-4.9M918.4,775.1h7M921.9,771.6v7M919.4,772.7l4.9,4.9M919.4,777.6l4.9,-4.9M928.4,767.1h7M931.9,763.6v7M929.4,764.6l4.9,4.9M929.4,769.6l4.9,-4.9M938.3,759.1h7M941.8,755.6v7M939.4,756.6l4.9,4.9M939.4,761.5l4.9,-4.9M948.3,751h7M951.8,747.5v7M949.3,748.5l4.9,4.9M949.3,753.5l4.9,-4.9M958.3,742h7M961.8,738.5v7M959.3,739.5l4.9,4.9M959.3,744.5l4.9,-4.9" fill="none" stroke="#7e2f8e" stroke-width="1.7"/>
<path clip-path="url(#c1)" d="M114.1,850.5L124.1,847.1L134,843.8L144,840.6L154,837.4L164,834.3L173.9,831.3L183.9,828.3L193.9,825.4L203.9,822.5L213.8,819.7L223.8,816.9L233.8,814.3L243.7,811.6L253.7,809L263.7,806.5L273.7,804L283.6,801.7L293.6,799.3L303.6,797L313.6,794.6L323.5,792.2L333.5,789.8L343.5,787.4L353.4,784.9L363.4,782.5L373.4,779.9L383.4,777.4L393.3,774.7L403.3,771.9L413.3,769.1L423.3,766.1L433.2,763.1L443.2,760L453.2,756.8L463.1,753.5L473.1,750L483.1,746.5L493.1,742.8L503,738.9L513,735L523,730.9L533,726.6L542.9,722.3L552.9,717.7L562.9,713L572.8,708L582.8,702.6L592.8,696.9L602.8,690.7L612.7,684L622.7,676.4L632.7,666.9L642.7,656.6L652.6,647.6L662.6,640.2L672.6,638.5L682.5,644.5L692.5,657.6L702.5,674.7L712.5,693.8L722.4,713.4L732.4,735L742.4,756L752.4,778.1L762.3,800.2L772.3,827.4L782.3,859.5L792.2,900.7L802.2,971L812.2,1096.6L822.2,957.9L832.1,906.7L842.1,877.6L852.1,854.5L862.1,837.4L872,822.3L882,811.3L892,799.2L901.9,790.2L911.9,781.7L921.9,772.1L931.9,763.1L941.8,752L951.8,741.5L961.8,727.9L971.7,713.9" fill="none" stroke="#ff0000" stroke-width="3.3" stroke-dasharray="10.6 10.6"/>
<path d="M111.1,850.5a2.95,2.95 0 1,0 5.9,0a2.95,2.95 0 1,0 -5.9,0M121.1,847.1a2.95,2.95 0 1,0 5.9,0a2.95,2.95 0 1,0 -5.9,0M131.1,843.8a2.95,2.95 0 1,0 5.9,0a2.95,2.95 0 1,0 -5.9,0M141.1,840.6a2.95,2.95 0 1,0 5.9,0a2.95,2.95 0 1,0 -5.9,0M151,837.4a2.95,2.95 0 1,0 5.9,0a2.95,2.95 0 1,0 -5.9,0M161,834.3a2.95,2.95 0 1,0 5.9,0a2.95,2.95 0 1,0 -5.9,0M171,831.3a2.95,2.95 0 1,0 5.9,0a2.95,2.95 0 1,0 -5.9,0M181,828.3a2.95,2.95 0 1,0 5.9,0a2.95,2.95 0 1,0 -5.9,0M190.9,825.4a2.95,2.95 0 1,0 5.9,0a2.95,2.95 0 1,0 -5.9,0M200.9,822.5a2.95,2.95 0 1,0 5.9,0a2.95,2.95 0 1,0 -5.9,0M210.9,819.7a2.95,2.95 0 1,0 5.9,0a2.95,2.95 0 1,0 -5.9,0M220.8,816.9a2.95,2.95 0 1,0 5.9,0a2.95,2.95 0 1,0 -5.9,0M230.8,814.3a2.95,2.95 0 1,0 5.9,0a2.95,2.95 0 1,0 -5.9,0M240.8,811.6a2.95,2.95 0 1,0 5.9,0a2.95,2.95 0 1,0 -5.9,0M250.8,809a2.95,2.95 0 1,0 5.9,0a2.95,2.95 0 1,0 -5.9,0M260.7,806.5a2.95,2.95 0 1,0 5.9,0a2.95,2.95 0 1,0 -5.9,0M270.7,804a2.95,2.95 0 1,0 5.9,0a2.95,2.95 0 1,0 -5.9,0M280.7,801.7a2.95,2.95 0 1,0 5.9,0a2.95,2.95 0 1,0 -5.9,0M290.7,799.3a2.95,2.95 0 1,0 5.9,0a2.95,2.95 0 1,0 -5.9,0M300.6,797a2.95,2.95 0 1,0 5.9,0a2.95,2.95 0 1,0 -5.9,0M310.6,794.6a2.95,2.95 0 1,0 5.9,0a2.95,2.95 0 1,0 -5.9,0M320.6,792.2a2.95,2.95 0 1,0 5.9,0a2.95,2.95 0 1,0 -5.9,0M330.5,789.8a2.95,2.95 0 1,0 5.9,0a2.95,2.95 0 1,0 -5.9,0M340.5,787.4a2.95,2.95 0 1,0 5.9,0a2.95,2.95 0 1,0 -5.9,0M350.5,784.9a2.95,2.95 0 1,0 5.9,0a2.95,2.95 0 1,0 -5.9,0M360.5,782.5a2.95,2.95 0 1,0 5.9,0a2.95,2.95 0 1,0 -5.9,0M370.4,779.9a2.95,2.95 0 1,0 5.9,0a2.95,2.95 0 1,0 -5.9,0M380.4,777.4a2.95,2.95 0 1,0 5.9,0a2.95,2.95 0 1,0 -5.9,0M390.4,774.7a2.95,2.95 0 1,0 5.9,0a2.95,2.95 0 1,0 -5.9,0M400.4,771.9a2.95,2.95 0 1,0 5.9,0a2.95,2.95 0 1,0 -5.9,0M410.3,769.1a2.95,2.95 0 1,0 5.9,0a2.95,2.95 0 1,0 -5.9,0M420.3,766.1a2.95,2.95 0 1,0 5.9,0a2.95,2.95 0 1,0 -5.9,0M430.3,763.1a2.95,2.95 0 1,0 5.9,0a2.95,2.95 0 1,0 -5.9,0M440.2,760a2.95,2.95 0 1,0 5.9,0a2.95,2.95 0 1,0 -5.9,0M450.2,756.8a2.95,2.95 0 1,0 5.9,0a2.95,2.95 0 1,0 -5.9,0M460.2,753.5a2.95,2.95 0 1,0 5.9,0a2.95,2.95 0 1,0 -5.9,0M470.2,750a2.95,2.95 0 1,0 5.9,0a2.95,2.95 0 1,0 -5.9,0M480.1,746.5a2.95,2.95 0 1,0 5.9,0a2.95,2.95 0 1,0 -5.9,0M490.1,742.8a2.95,2.95 0 1,0 5.9,0a2.95,2.95 0 1,0 -5.9,0M500.1,738.9a2.95,2.95 0 1,0 5.9,0a2.95,2.95 0 1,0 -5.9,0M510.1,735a2.95,2.95 0 1,0 5.9,0a2.95,2.95 0 1,0 -5.9,0M520,730.9a2.95,2.95 0 1,0 5.9,0a2.95,2.95 0 1,0 -5.9,0M530,726.6a2.95,2.95 0 1,0 5.9,0a2.95,2.95 0 1,0 -5.9,0M540,722.3a2.95,2.95 0 1,0 5.9,0a2.95,2.95 0 1,0 -5.9,0M549.9,717.7a2.95,2.95 0 1,0 5.9,0a2.95,2.95 0 1,0 -5.9,0M559.9,713a2.95,2.95 0 1,0 5.9,0a2.95,2.95 0 1,0 -5.9,0M569.9,708a2.95,2.95 0 1,0 5.9,0a2.95,2.95 0 1,0 -5.9,0M579.9,702.6a2.95,2.95 0 1,0 5.9,0a2.95,2.95 0 1,0 -5.9,0M589.8,696.9a2.95,2.95 0 1,0 5.9,0a2.95,2.95 0 1,0 -5.9,0M599.8,690.7a2.95,2.95 0 1,0 5.9,0a2.95,2.95 0 1,0 -5.9,0M609.8,684a2.95,2.95 0 1,0 5.9,0a2.95,2.95 0 1,0 -5.9,0M619.8,676.4a2.95,2.95 0 1,0 5.9,0a2.95,2.95 0 1,0 -5.9,0M629.7,666.9a2.95,2.95 0 1,0 5.9,0a2.95,2.95 0 1,0 -5.9,0M639.7,656.6a2.95,2.95 0 1,0 5.9,0a2.95,2.95 0 1,0 -5.9,0M649.7,647.6a2.95,2.95 0 1,0 5.9,0a2.95,2.95 0 1,0 -5.9,0M659.6,640.2a2.95,2.95 0 1,0 5.9,0a2.95,2.95 0 1,0 -5.9,0M669.6,638.5a2.95,2.95 0 1,0 5.9,0a2.95,2.95 0 1,0 -5.9,0M679.6,644.5a2.95,2.95 0 1,0 5.9,0a2.95,2.95 0 1,0 -5.9,0M689.6,657.6a2.95,2.95 0 1,0 5.9,0a2.95,2.95 0 1,0 -5.9,0M699.5,674.7a2.95,2.95 0 1,0 5.9,0a2.95,2.95 0 1,0 -5.9,0M709.5,693.8a2.95,2.95 0 1,0 5.9,0a2.95,2.95 0 1,0 -5.9,0M719.5,713.4a2.95,2.95 0 1,0 5.9,0a2.95,2.95 0 1,0 -5.9,0M729.5,735a2.95,2.95 0 1,0 5.9,0a2.95,2.95 0 1,0 -5.9,0M739.4,756a2.95,2.95 0 1,0 5.9,0a2.95,2.95 0 1,0 -5.9,0M749.4,778.1a2.95,2.95 0 1,0 5.9,0a2.95,2.95 0 1,0 -5.9,0M759.4,800.2a2.95,2.95 0 1,0 5.9,0a2.95,2.95 0 1,0 -5.9,0M769.3,827.4a2.95,2.95 0 1,0 5.9,0a2.95,2.95 0 1,0 -5.9,0M779.3,859.5a2.95,2.95 0 1,0 5.9,0a2.95,2.95 0 1,0 -5.9,0M789.3,900.7a2.95,2.95 0 1,0 5.9,0a2.95,2.95 0 1,0 -5.9,0M799.3,971a2.95,2.95 0 1,0 5.9,0a2.95,2.95 0 1,0 -5.9,0M819.2,957.9a2.95,2.95 0 1,0 5.9,0a2.95,2.95 0 1,0 -5.9,0M829.2,906.7a2.95,2.95 0 1,0 5.9,0a2.95,2.95 0 1,0 -5.9,0M839.2,877.6a2.95,2.95 0 1,0 5.9,0a2.95,2.95 0 1,0 -5.9,0M849.1,854.5a2.95,2.95 0 1,0 5.9,0a2.95,2.95 0 1,0 -5.9,0M859.1,837.4a2.95,2.95 0 1,0 5.9,0a2.95,2.95 0 1,0 -5.9,0M869.1,822.3a2.95,2.95 0 1,0 5.9,0a2.95,2.95 0 1,0 -5.9,0M879,811.3a2.95,2.95 0 1,0 5.9,0a2.95,2.95 0 1,0 -5.9,0M889,799.2a2.95,2.95 0 1,0 5.9,0a2.95,2.95 0 1,0 -5.9,0M899,790.2a2.95,2.95 0 1,0 5.9,0a2.95,2.95 0 1,0 -5.9,0M909,781.7a2.95,2.95 0 1,0 5.9,0a2.95,2.95 0 1,0 -5.9,0M918.9,772.1a2.95,2.95 0 1,0 5.9,0a2.95,2.95 0 1,0 -5.9,0M928.9,763.1a2.95,2.95 0 1,0 5.9,0a2.95,2.95 0 1,0 -5.9,0M938.9,752a2.95,2.95 0 1,0 5.9,0a2.95,2.95 0 1,0 -5.9,0M948.9,741.5a2.95,2.95 0 1,0 5.9,0a2.95,2.95 0 1,0 -5.9,0M958.8,727.9a2.95,2.95 0 1,0 5.9,0a2.95,2.95 0 1,0 -5.9,0" fill="none" stroke="#ff0000" stroke-width="3.3"/>
<path clip-path="url(#c1)" d="M114.1,826.4L118.4,825L122.6,823.7L126.9,822.4L131.2,821.1L135.5,819.8L139.7,818.5L144,817.2L148.3,815.9L152.6,814.6L156.8,813.3L161.1,812L165.4,810.8L169.7,809.5L173.9,808.2L178.2,806.9L182.5,805.6L186.8,804.3L191,803L195.3,801.7L199.6,800.4L203.9,799.1L208.1,797.8L212.4,796.5L216.7,795.2L220.9,793.9L225.2,792.6L229.5,791.3L233.8,790.1L238,788.8L242.3,787.6L246.6,786.4L250.9,785.2L255.1,784L259.4,782.9L263.7,781.8L268,780.7L272.2,779.7L276.5,778.6L280.8,777.6L285.1,776.6L289.3,775.6L293.6,774.6L297.9,773.6L302.2,772.6L306.4,771.6L310.7,770.6L315,769.6L319.3,768.6L323.5,767.6L327.8,766.6L332.1,765.6L336.3,764.6L340.6,763.6L344.9,762.6L349.2,761.6L353.4,760.7L357.7,759.7L362,758.7L366.3,757.7L370.5,756.7L374.8,755.7L379.1,754.7L383.4,753.6L387.6,752.5L391.9,751.4L396.2,750.3L400.5,749.1L404.7,747.9L409,746.7L413.3,745.4L417.6,744.1L421.8,742.7L426.1,741.3L430.4,740L434.6,738.5L438.9,737.1L443.2,735.7L447.5,734.2L451.7,732.8L456,731.3L460.3,729.8L464.6,728.4L468.8,726.9L473.1,725.4L477.4,724L481.7,722.5L485.9,721.1L490.2,719.7L494.5,718.3L498.8,716.8L503,715.4L507.3,713.9L511.6,712.4L515.9,710.9L520.1,709.3L524.4,707.7L528.7,706.1L533,704.4L537.2,702.6L541.5,700.8L545.8,698.9L550,696.8L554.3,694.7L558.6,692.5L562.9,690.2L567.1,687.8L571.4,685.4L575.7,683L580,680.5L584.2,678.1L588.5,675.6L592.8,673.2L597.1,670.7L601.3,668.1L605.6,665.5L609.9,662.9L614.2,660.3L618.4,657.8L622.7,655.4L627,653.1L631.3,650.7L635.5,648.4L639.8,646.3L644.1,644.5L648.4,643.1L652.6,641.8L656.9,640.5L661.2,639.5L665.4,638.8L669.7,638.5L674,639L678.3,640.3L682.5,642L686.8,644L691.1,646.7L695.4,650.5L699.6,654.9L703.9,659.7L708.2,664.4L712.5,668.9L716.7,673.6L721,678.4L725.3,683.3L729.6,688.3L733.8,693.4L738.1,698.5L742.4,703.7L746.7,709L750.9,714.2L755.2,719.5L759.5,724.9L763.7,730.4L768,735.9L772.3,741.6L776.6,747.5L780.8,753.4L785.1,759.7L789.4,766.1L793.7,772.7L797.9,779.3L802.2,785.9L806.5,792.4L810.8,798.8L815,805.1L819.3,811.7L823.6,818.5L827.9,825.9L832.1,833.8L836.4,842.1L840.7,850.3L845,858.4L849.2,867.3L853.5,877.2L857.8,888.1L862,900.2L866.3,913.7L870.6,929.7L874.9,946.9L879.1,965L883.4,985.2L887.7,1023.9L892,1087.7L896.2,1224.3L900.5,1157.7L904.8,1051.4L909.1,1017.6L913.3,986.1L917.6,962.6L921.9,950.1L926.2,938.1L930.4,926.8L934.7,918.4L939,909.9L943.3,901.6L947.5,893.9L951.8,887.4L956.1,882L960.4,876.3L964.6,871.4L968.9,867.5" fill="none" stroke="#d27a88" stroke-width="3.3" stroke-dasharray="10.6 10.6"/>
<path d="M110.6,826.4h7M114.1,822.9v7M111.6,823.9l4.9,4.9M111.6,828.8l4.9,-4.9M114.9,825h7M118.4,821.5v7M115.9,822.6l4.9,4.9M115.9,827.5l4.9,-4.9M119.1,823.7h7M122.6,820.2v7M120.2,821.3l4.9,4.9M120.2,826.2l4.9,-4.9M123.4,822.4h7M126.9,818.9v7M124.4,820l4.9,4.9M124.4,824.9l4.9,-4.9M127.7,821.1h7M131.2,817.6v7M128.7,818.7l4.9,4.9M128.7,823.6l4.9,-4.9M132,819.8h7M135.5,816.3v7M133,817.4l4.9,4.9M133,822.3l4.9,-4.9M136.2,818.5h7M139.7,815v7M137.3,816.1l4.9,4.9M137.3,821l4.9,-4.9M140.5,817.2h7M144,813.7v7M141.5,814.8l4.9,4.9M141.5,819.7l4.9,-4.9M144.8,815.9h7M148.3,812.4v7M145.8,813.5l4.9,4.9M145.8,818.4l4.9,-4.9M149.1,814.6h7M152.6,811.1v7M150.1,812.2l4.9,4.9M150.1,817.1l4.9,-4.9M153.3,813.3h7M156.8,809.8v7M154.4,810.9l4.9,4.9M154.4,815.8l4.9,-4.9M157.6,812h7M161.1,808.5v7M158.6,809.6l4.9,4.9M158.6,814.5l4.9,-4.9M161.9,810.8h7M165.4,807.3v7M162.9,808.3l4.9,4.9M162.9,813.2l4.9,-4.9M166.2,809.5h7M169.7,806v7M167.2,807l4.9,4.9M167.2,811.9l4.9,-4.9M170.4,808.2h7M173.9,804.7v7M171.5,805.7l4.9,4.9M171.5,810.7l4.9,-4.9M174.7,806.9h7M178.2,803.4v7M175.7,804.4l4.9,4.9M175.7,809.4l4.9,-4.9M179,805.6h7M182.5,802.1v7M180,803.1l4.9,4.9M180,808.1l4.9,-4.9M183.3,804.3h7M186.8,800.8v7M184.3,801.9l4.9,4.9M184.3,806.8l4.9,-4.9M187.5,803h7M191,799.5v7M188.6,800.6l4.9,4.9M188.6,805.5l4.9,-4.9M191.8,801.7h7M195.3,798.2v7M192.8,799.3l4.9,4.9M192.8,804.2l4.9,-4.9M196.1,800.4h7M199.6,796.9v7M197.1,798l4.9,4.9M197.1,802.9l4.9,-4.9M200.4,799.1h7M203.9,795.6v7M201.4,796.7l4.9,4.9M201.4,801.6l4.9,-4.9M204.6,797.8h7M208.1,794.3v7M205.7,795.3l4.9,4.9M205.7,800.3l4.9,-4.9M208.9,796.5h7M212.4,793v7M209.9,794l4.9,4.9M209.9,799l4.9,-4.9M213.2,795.2h7M216.7,791.7v7M214.2,792.7l4.9,4.9M214.2,797.7l4.9,-4.9M217.4,793.9h7M220.9,790.4v7M218.5,791.4l4.9,4.9M218.5,796.4l4.9,-4.9M221.7,792.6h7M225.2,789.1v7M222.7,790.1l4.9,4.9M222.7,795.1l4.9,-4.9M226,791.3h7M229.5,787.8v7M227,788.9l4.9,4.9M227,793.8l4.9,-4.9M230.3,790.1h7M233.8,786.6v7M231.3,787.6l4.9,4.9M231.3,792.5l4.9,-4.9M234.5,788.8h7M238,785.3v7M235.6,786.3l4.9,4.9M235.6,791.3l4.9,-4.9M238.8,787.6h7M242.3,784.1v7M239.8,785.1l4.9,4.9M239.8,790.1l4.9,-4.9M243.1,786.4h7M246.6,782.9v7M244.1,783.9l4.9,4.9M244.1,788.9l4.9,-4.9M247.4,785.2h7M250.9,781.7v7M248.4,782.7l4.9,4.9M248.4,787.7l4.9,-4.9M251.6,784h7M255.1,780.5v7M252.7,781.6l4.9,4.9M252.7,786.5l4.9,-4.9M255.9,782.9h7M259.4,779.4v7M256.9,780.4l4.9,4.9M256.9,785.4l4.9,-4.9M260.2,781.8h7M263.7,778.3v7M261.2,779.3l4.9,4.9M261.2,784.3l4.9,-4.9M264.5,780.7h7M268,777.2v7M265.5,778.3l4.9,4.9M265.5,783.2l4.9,-4.9M268.7,779.7h7M272.2,776.2v7M269.8,777.2l4.9,4.9M269.8,782.1l4.9,-4.9M273,778.6h7M276.5,775.1v7M274,776.2l4.9,4.9M274,781.1l4.9,-4.9M277.3,777.6h7M280.8,774.1v7M278.3,775.1l4.9,4.9M278.3,780.1l4.9,-4.9M281.6,776.6h7M285.1,773.1v7M282.6,774.1l4.9,4.9M282.6,779.1l4.9,-4.9M285.8,775.6h7M289.3,772.1v7M286.9,773.1l4.9,4.9M286.9,778l4.9,-4.9M290.1,774.6h7M293.6,771.1v7M291.1,772.1l4.9,4.9M291.1,777l4.9,-4.9M294.4,773.6h7M297.9,770.1v7M295.4,771.1l4.9,4.9M295.4,776.1l4.9,-4.9M298.7,772.6h7M302.2,769.1v7M299.7,770.1l4.9,4.9M299.7,775.1l4.9,-4.9M302.9,771.6h7M306.4,768.1v7M304,769.1l4.9,4.9M304,774.1l4.9,-4.9M307.2,770.6h7M310.7,767.1v7M308.2,768.1l4.9,4.9M308.2,773.1l4.9,-4.9M311.5,769.6h7M315,766.1v7M312.5,767.1l4.9,4.9M312.5,772.1l4.9,-4.9M315.8,768.6h7M319.3,765.1v7M316.8,766.1l4.9,4.9M316.8,771.1l4.9,-4.9M320,767.6h7M323.5,764.1v7M321.1,765.1l4.9,4.9M321.1,770.1l4.9,-4.9M324.3,766.6h7M327.8,763.1v7M325.3,764.1l4.9,4.9M325.3,769.1l4.9,-4.9M328.6,765.6h7M332.1,762.1v7M329.6,763.1l4.9,4.9M329.6,768.1l4.9,-4.9M332.8,764.6h7M336.3,761.1v7M333.9,762.1l4.9,4.9M333.9,767l4.9,-4.9M337.1,763.6h7M340.6,760.1v7M338.1,761.1l4.9,4.9M338.1,766.1l4.9,-4.9M341.4,762.6h7M344.9,759.1v7M342.4,760.1l4.9,4.9M342.4,765.1l4.9,-4.9M345.7,761.6h7M349.2,758.1v7M346.7,759.2l4.9,4.9M346.7,764.1l4.9,-4.9M349.9,760.7h7M353.4,757.2v7M351,758.2l4.9,4.9M351,763.1l4.9,-4.9M354.2,759.7h7M357.7,756.2v7M355.2,757.2l4.9,4.9M355.2,762.2l4.9,-4.9M358.5,758.7h7M362,755.2v7M359.5,756.2l4.9,4.9M359.5,761.2l4.9,-4.9M362.8,757.7h7M366.3,754.2v7M363.8,755.2l4.9,4.9M363.8,760.2l4.9,-4.9M367,756.7h7M370.5,753.2v7M368.1,754.2l4.9,4.9M368.1,759.2l4.9,-4.9M371.3,755.7h7M374.8,752.2v7M372.3,753.2l4.9,4.9M372.3,758.2l4.9,-4.9M375.6,754.7h7M379.1,751.2v7M376.6,752.2l4.9,4.9M376.6,757.1l4.9,-4.9M379.9,753.6h7M383.4,750.1v7M380.9,751.1l4.9,4.9M380.9,756.1l4.9,-4.9M384.1,752.5h7M387.6,749v7M385.2,750.1l4.9,4.9M385.2,755l4.9,-4.9M388.4,751.4h7M391.9,747.9v7M389.4,749l4.9,4.9M389.4,753.9l4.9,-4.9M392.7,750.3h7M396.2,746.8v7M393.7,747.8l4.9,4.9M393.7,752.8l4.9,-4.9M397,749.1h7M400.5,745.6v7M398,746.6l4.9,4.9M398,751.6l4.9,-4.9M401.2,747.9h7M404.7,744.4v7M402.3,745.4l4.9,4.9M402.3,750.4l4.9,-4.9M405.5,746.7h7M409,743.2v7M406.5,744.2l4.9,4.9M406.5,749.1l4.9,-4.9M409.8,745.4h7M413.3,741.9v7M410.8,742.9l4.9,4.9M410.8,747.9l4.9,-4.9M414.1,744.1h7M417.6,740.6v7M415.1,741.6l4.9,4.9M415.1,746.5l4.9,-4.9M418.3,742.7h7M421.8,739.2v7M419.4,740.2l4.9,4.9M419.4,745.2l4.9,-4.9M422.6,741.3h7M426.1,737.8v7M423.6,738.9l4.9,4.9M423.6,743.8l4.9,-4.9M426.9,740h7M430.4,736.5v7M427.9,737.5l4.9,4.9M427.9,742.4l4.9,-4.9M431.1,738.5h7M434.6,735v7M432.2,736.1l4.9,4.9M432.2,741l4.9,-4.9M435.4,737.1h7M438.9,733.6v7M436.4,734.6l4.9,4.9M436.4,739.6l4.9,-4.9M439.7,735.7h7M443.2,732.2v7M440.7,733.2l4.9,4.9M440.7,738.2l4.9,-4.9M444,734.2h7M447.5,730.7v7M445,731.7l4.9,4.9M445,736.7l4.9,-4.9M448.2,732.8h7M451.7,729.3v7M449.3,730.3l4.9,4.9M449.3,735.2l4.9,-4.9M452.5,731.3h7M456,727.8v7M453.5,728.8l4.9,4.9M453.5,733.8l4.9,-4.9M456.8,729.8h7M460.3,726.3v7M457.8,727.3l4.9,4.9M457.8,732.3l4.9,-4.9M461.1,728.4h7M464.6,724.9v7M462.1,725.9l4.9,4.9M462.1,730.8l4.9,-4.9M465.3,726.9h7M468.8,723.4v7M466.4,724.4l4.9,4.9M466.4,729.4l4.9,-4.9M469.6,725.4h7M473.1,721.9v7M470.6,722.9l4.9,4.9M470.6,727.9l4.9,-4.9M473.9,724h7M477.4,720.5v7M474.9,721.5l4.9,4.9M474.9,726.5l4.9,-4.9M478.2,722.5h7M481.7,719v7M479.2,720.1l4.9,4.9M479.2,725l4.9,-4.9M482.4,721.1h7M485.9,717.6v7M483.5,718.6l4.9,4.9M483.5,723.6l4.9,-4.9M486.7,719.7h7M490.2,716.2v7M487.7,717.2l4.9,4.9M487.7,722.2l4.9,-4.9M491,718.3h7M494.5,714.8v7M492,715.8l4.9,4.9M492,720.8l4.9,-4.9M495.3,716.8h7M498.8,713.3v7M496.3,714.4l4.9,4.9M496.3,719.3l4.9,-4.9M499.5,715.4h7M503,711.9v7M500.6,712.9l4.9,4.9M500.6,717.9l4.9,-4.9M503.8,713.9h7M507.3,710.4v7M504.8,711.5l4.9,4.9M504.8,716.4l4.9,-4.9M508.1,712.4h7M511.6,708.9v7M509.1,710l4.9,4.9M509.1,714.9l4.9,-4.9M512.4,710.9h7M515.9,707.4v7M513.4,708.4l4.9,4.9M513.4,713.4l4.9,-4.9M516.6,709.3h7M520.1,705.8v7M517.7,706.9l4.9,4.9M517.7,711.8l4.9,-4.9M520.9,707.7h7M524.4,704.2v7M521.9,705.3l4.9,4.9M521.9,710.2l4.9,-4.9M525.2,706.1h7M528.7,702.6v7M526.2,703.6l4.9,4.9M526.2,708.6l4.9,-4.9M529.5,704.4h7M533,700.9v7M530.5,701.9l4.9,4.9M530.5,706.9l4.9,-4.9M533.7,702.6h7M537.2,699.1v7M534.8,700.2l4.9,4.9M534.8,705.1l4.9,-4.9M538,700.8h7M541.5,697.3v7M539,698.3l4.9,4.9M539,703.3l4.9,-4.9M542.3,698.9h7M545.8,695.4v7M543.3,696.4l4.9,4.9M543.3,701.3l4.9,-4.9M546.5,696.8h7M550,693.3v7M547.6,694.4l4.9,4.9M547.6,699.3l4.9,-4.9M550.8,694.7h7M554.3,691.2v7M551.8,692.2l4.9,4.9M551.8,697.2l4.9,-4.9M555.1,692.5h7M558.6,689v7M556.1,690l4.9,4.9M556.1,695l4.9,-4.9M559.4,690.2h7M562.9,686.7v7M560.4,687.7l4.9,4.9M560.4,692.7l4.9,-4.9M563.6,687.8h7M567.1,684.3v7M564.7,685.4l4.9,4.9M564.7,690.3l4.9,-4.9M567.9,685.4h7M571.4,681.9v7M568.9,683l4.9,4.9M568.9,687.9l4.9,-4.9M572.2,683h7M575.7,679.5v7M573.2,680.5l4.9,4.9M573.2,685.5l4.9,-4.9M576.5,680.5h7M580,677v7M577.5,678.1l4.9,4.9M577.5,683l4.9,-4.9M580.7,678.1h7M584.2,674.6v7M581.8,675.6l4.9,4.9M581.8,680.5l4.9,-4.9M585,675.6h7M588.5,672.1v7M586,673.1l4.9,4.9M586,678.1l4.9,-4.9M589.3,673.2h7M592.8,669.7v7M590.3,670.7l4.9,4.9M590.3,675.6l4.9,-4.9M593.6,670.7h7M597.1,667.2v7M594.6,668.2l4.9,4.9M594.6,673.2l4.9,-4.9M597.8,668.1h7M601.3,664.6v7M598.9,665.7l4.9,4.9M598.9,670.6l4.9,-4.9M602.1,665.5h7M605.6,662v7M603.1,663l4.9,4.9M603.1,668l4.9,-4.9M606.4,662.9h7M609.9,659.4v7M607.4,660.4l4.9,4.9M607.4,665.4l4.9,-4.9M610.7,660.3h7M614.2,656.8v7M611.7,657.8l4.9,4.9M611.7,662.8l4.9,-4.9M614.9,657.8h7M618.4,654.3v7M616,655.3l4.9,4.9M616,660.2l4.9,-4.9M619.2,655.4h7M622.7,651.9v7M620.2,652.9l4.9,4.9M620.2,657.8l4.9,-4.9M623.5,653.1h7M627,649.6v7M624.5,650.6l4.9,4.9M624.5,655.5l4.9,-4.9M627.8,650.7h7M631.3,647.2v7M628.8,648.2l4.9,4.9M628.8,653.2l4.9,-4.9M632,648.4h7M635.5,644.9v7M633.1,645.9l4.9,4.9M633.1,650.9l4.9,-4.9M636.3,646.3h7M639.8,642.8v7M637.3,643.8l4.9,4.9M637.3,648.8l4.9,-4.9M640.6,644.5h7M644.1,641v7M641.6,642l4.9,4.9M641.6,647l4.9,-4.9M644.9,643.1h7M648.4,639.6v7M645.9,640.6l4.9,4.9M645.9,645.6l4.9,-4.9M649.1,641.8h7M652.6,638.3v7M650.1,639.3l4.9,4.9M650.1,644.3l4.9,-4.9M653.4,640.5h7M656.9,637v7M654.4,638.1l4.9,4.9M654.4,643l4.9,-4.9M657.7,639.5h7M661.2,636v7M658.7,637l4.9,4.9M658.7,642l4.9,-4.9M661.9,638.8h7M665.4,635.3v7M663,636.3l4.9,4.9M663,641.3l4.9,-4.9M666.2,638.5h7M669.7,635v7M667.2,636l4.9,4.9M667.2,641l4.9,-4.9M670.5,639h7M674,635.5v7M671.5,636.5l4.9,4.9M671.5,641.5l4.9,-4.9M674.8,640.3h7M678.3,636.8v7M675.8,637.8l4.9,4.9M675.8,642.7l4.9,-4.9M679,642h7M682.5,638.5v7M680.1,639.6l4.9,4.9M680.1,644.5l4.9,-4.9M683.3,644h7M686.8,640.5v7M684.3,641.6l4.9,4.9M684.3,646.5l4.9,-4.9M687.6,646.7h7M691.1,643.2v7M688.6,644.2l4.9,4.9M688.6,649.2l4.9,-4.9M691.9,650.5h7M695.4,647v7M692.9,648l4.9,4.9M692.9,653l4.9,-4.9M696.1,654.9h7M699.6,651.4v7M697.2,652.5l4.9,4.9M697.2,657.4l4.9,-4.9M700.4,659.7h7M703.9,656.2v7M701.4,657.2l4.9,4.9M701.4,662.2l4.9,-4.9M704.7,664.4h7M708.2,660.9v7M705.7,662l4.9,4.9M705.7,666.9l4.9,-4.9M709,668.9h7M712.5,665.4v7M710,666.5l4.9,4.9M710,671.4l4.9,-4.9M713.2,673.6h7M716.7,670.1v7M714.3,671.1l4.9,4.9M714.3,676.1l4.9,-4.9M717.5,678.4h7M721,674.9v7M718.5,675.9l4.9,4.9M718.5,680.9l4.9,-4.9M721.8,683.3h7M725.3,679.8v7M722.8,680.8l4.9,4.9M722.8,685.8l4.9,-4.9M726.1,688.3h7M729.6,684.8v7M727.1,685.8l4.9,4.9M727.1,690.8l4.9,-4.9M730.3,693.4h7M733.8,689.9v7M731.4,690.9l4.9,4.9M731.4,695.9l4.9,-4.9M734.6,698.5h7M738.1,695v7M735.6,696.1l4.9,4.9M735.6,701l4.9,-4.9M738.9,703.7h7M742.4,700.2v7M739.9,701.3l4.9,4.9M739.9,706.2l4.9,-4.9M743.2,709h7M746.7,705.5v7M744.2,706.5l4.9,4.9M744.2,711.4l4.9,-4.9M747.4,714.2h7M750.9,710.7v7M748.5,711.7l4.9,4.9M748.5,716.7l4.9,-4.9M751.7,719.5h7M755.2,716v7M752.7,717l4.9,4.9M752.7,722l4.9,-4.9M756,724.9h7M759.5,721.4v7M757,722.4l4.9,4.9M757,727.4l4.9,-4.9M760.2,730.4h7M763.7,726.9v7M761.3,727.9l4.9,4.9M761.3,732.9l4.9,-4.9M764.5,735.9h7M768,732.4v7M765.5,733.5l4.9,4.9M765.5,738.4l4.9,-4.9M768.8,741.6h7M772.3,738.1v7M769.8,739.2l4.9,4.9M769.8,744.1l4.9,-4.9M773.1,747.5h7M776.6,744v7M774.1,745l4.9,4.9M774.1,749.9l4.9,-4.9M777.3,753.4h7M780.8,749.9v7M778.4,751l4.9,4.9M778.4,755.9l4.9,-4.9M781.6,759.7h7M785.1,756.2v7M782.6,757.2l4.9,4.9M782.6,762.2l4.9,-4.9M785.9,766.1h7M789.4,762.6v7M786.9,763.7l4.9,4.9M786.9,768.6l4.9,-4.9M790.2,772.7h7M793.7,769.2v7M791.2,770.2l4.9,4.9M791.2,775.2l4.9,-4.9M794.4,779.3h7M797.9,775.8v7M795.5,776.9l4.9,4.9M795.5,781.8l4.9,-4.9M798.7,785.9h7M802.2,782.4v7M799.7,783.5l4.9,4.9M799.7,788.4l4.9,-4.9M803,792.4h7M806.5,788.9v7M804,789.9l4.9,4.9M804,794.9l4.9,-4.9M807.3,798.8h7M810.8,795.3v7M808.3,796.3l4.9,4.9M808.3,801.2l4.9,-4.9M811.5,805.1h7M815,801.6v7M812.6,802.7l4.9,4.9M812.6,807.6l4.9,-4.9M815.8,811.7h7M819.3,808.2v7M816.8,809.2l4.9,4.9M816.8,814.1l4.9,-4.9M820.1,818.5h7M823.6,815v7M821.1,816l4.9,4.9M821.1,821l4.9,-4.9M824.4,825.9h7M827.9,822.4v7M825.4,823.4l4.9,4.9M825.4,828.3l4.9,-4.9M828.6,833.8h7M832.1,830.3v7M829.7,831.4l4.9,4.9M829.7,836.3l4.9,-4.9M832.9,842.1h7M836.4,838.6v7M833.9,839.7l4.9,4.9M833.9,844.6l4.9,-4.9M837.2,850.3h7M840.7,846.8v7M838.2,847.8l4.9,4.9M838.2,852.8l4.9,-4.9M841.5,858.4h7M845,854.9v7M842.5,856l4.9,4.9M842.5,860.9l4.9,-4.9M845.7,867.3h7M849.2,863.8v7M846.8,864.8l4.9,4.9M846.8,869.8l4.9,-4.9M850,877.2h7M853.5,873.7v7M851,874.7l4.9,4.9M851,879.7l4.9,-4.9M854.3,888.1h7M857.8,884.6v7M855.3,885.7l4.9,4.9M855.3,890.6l4.9,-4.9M858.5,900.2h7M862,896.7v7M859.6,897.7l4.9,4.9M859.6,902.7l4.9,-4.9M862.8,913.7h7M866.3,910.2v7M863.8,911.2l4.9,4.9M863.8,916.2l4.9,-4.9M867.1,929.7h7M870.6,926.2v7M868.1,927.2l4.9,4.9M868.1,932.2l4.9,-4.9M871.4,946.9h7M874.9,943.4v7M872.4,944.4l4.9,4.9M872.4,949.4l4.9,-4.9M875.6,965h7M879.1,961.5v7M876.7,962.6l4.9,4.9M876.7,967.5l4.9,-4.9M879.9,985.2h7M883.4,981.7v7M880.9,982.8l4.9,4.9M880.9,987.7l4.9,-4.9M884.2,1023.9h7M887.7,1020.4v7M885.2,1021.4l4.9,4.9M885.2,1026.4l4.9,-4.9M905.6,1017.6h7M909.1,1014.1v7M906.6,1015.1l4.9,4.9M906.6,1020l4.9,-4.9M909.8,986.1h7M913.3,982.6v7M910.9,983.7l4.9,4.9M910.9,988.6l4.9,-4.9M914.1,962.6h7M917.6,959.1v7M915.1,960.1l4.9,4.9M915.1,965.1l4.9,-4.9M918.4,950.1h7M921.9,946.6v7M919.4,947.6l4.9,4.9M919.4,952.6l4.9,-4.9M922.7,938.1h7M926.2,934.6v7M923.7,935.6l4.9,4.9M923.7,940.6l4.9,-4.9M926.9,926.8h7M930.4,923.3v7M928,924.3l4.9,4.9M928,929.3l4.9,-4.9M931.2,918.4h7M934.7,914.9v7M932.2,915.9l4.9,4.9M932.2,920.9l4.9,-4.9M935.5,909.9h7M939,906.4v7M936.5,907.5l4.9,4.9M936.5,912.4l4.9,-4.9M939.8,901.6h7M943.3,898.1v7M940.8,899.2l4.9,4.9M940.8,904.1l4.9,-4.9M944,893.9h7M947.5,890.4v7M945.1,891.4l4.9,4.9M945.1,896.3l4.9,-4.9M948.3,887.4h7M951.8,883.9v7M949.3,885l4.9,4.9M949.3,889.9l4.9,-4.9M952.6,882h7M956.1,878.5v7M953.6,879.5l4.9,4.9M953.6,884.4l4.9,-4.9M956.9,876.3h7M960.4,872.8v7M957.9,873.8l4.9,4.9M957.9,878.8l4.9,-4.9M961.1,871.4h7M964.6,867.9v7M962.2,868.9l4.9,4.9M962.2,873.9l4.9,-4.9M965.4,867.5h7M968.9,864v7M966.4,865.1l4.9,4.9M966.4,870l4.9,-4.9" fill="none" stroke="#d27a88" stroke-width="1.7"/>
<path clip-path="url(#c1)" d="M114.1,821.3L124.1,818.2L134,815L144,811.9L154,808.8L164,805.7L173.9,802.7L183.9,799.7L193.9,796.7L203.9,793.7L213.8,790.7L223.8,787.8L233.8,784.9L243.7,782.1L253.7,779.4L263.7,776.8L273.7,774.2L283.6,771.8L293.6,769.4L303.6,767L313.6,764.6L323.5,762.1L333.5,759.6L343.5,757.2L353.4,754.7L363.4,752.3L373.4,749.8L383.4,747.2L393.3,744.6L403.3,741.8L413.3,738.9L423.3,735.9L433.2,732.9L443.2,729.7L453.2,726.5L463.1,723.2L473.1,719.8L483.1,716.3L493.1,712.6L503,708.9L513,705.1L523,701.2L533,697.2L542.9,693.2L552.9,689.2L562.9,685L572.8,680.8L582.8,676.3L592.8,671.6L602.8,666.7L612.7,661.5L622.7,656.1L632.7,650.1L642.7,644.5L652.6,640.5L662.6,638.2L672.6,638L682.5,641.8L692.5,650.6L702.5,662.6L712.5,676.7L722.4,692.8L732.4,710.8L742.4,728.9L752.4,748L762.3,769.1L772.3,793.2L782.3,820.3L792.2,855.5L802.2,900.7L812.2,986.1L822.2,1031.3L832.1,924.8L842.1,881.6L852.1,855.5L862.1,835.4L872,821.3L882,808.8L892,799.2L901.9,790.2L911.9,782.7L921.9,776.1L931.9,769.6L941.8,764.1L951.8,759.1L961.8,754L971.7,750" fill="none" stroke="#000000" stroke-width="3.3" stroke-dasharray="10.6 10.6"/>
<path d="M117.2,815.8L117.2,826.8L107.9,821.3ZM114.4,820.9L114.4,821.8L113.6,821.3ZM127.2,812.7L127.2,823.7L117.9,818.2ZM124.3,817.7L124.3,818.6L123.5,818.2ZM137.2,809.5L137.2,820.5L127.9,815ZM134.3,814.5L134.3,815.5L133.5,815ZM147.2,806.4L147.2,817.4L137.9,811.9ZM144.3,811.4L144.3,812.3L143.5,811.9ZM157.1,803.3L157.1,814.3L147.8,808.8ZM154.3,808.3L154.3,809.2L153.5,808.8ZM167.1,800.2L167.1,811.2L157.8,805.7ZM164.2,805.2L164.2,806.2L163.4,805.7ZM177.1,797.2L177.1,808.2L167.8,802.7ZM174.2,802.2L174.2,803.1L173.4,802.7ZM187,794.2L187,805.2L177.7,799.7ZM184.2,799.2L184.2,800.1L183.4,799.7ZM197,791.2L197,802.2L187.7,796.7ZM194.1,796.2L194.1,797.1L193.4,796.7ZM207,788.2L207,799.2L197.7,793.7ZM204.1,793.2L204.1,794.2L203.3,793.7ZM217,785.2L217,796.2L207.7,790.7ZM214.1,790.3L214.1,791.2L213.3,790.7ZM226.9,782.3L226.9,793.3L217.6,787.8ZM224.1,787.3L224.1,788.3L223.3,787.8ZM236.9,779.4L236.9,790.4L227.6,784.9ZM234,784.5L234,785.4L233.2,784.9ZM246.9,776.6L246.9,787.6L237.6,782.1ZM244,781.7L244,782.6L243.2,782.1ZM256.9,773.9L256.9,784.9L247.6,779.4ZM254,778.9L254,779.9L253.2,779.4ZM266.8,771.3L266.8,782.3L257.5,776.8ZM264,776.3L264,777.2L263.2,776.8ZM276.8,768.7L276.8,779.7L267.5,774.2ZM273.9,773.8L273.9,774.7L273.1,774.2ZM286.8,766.3L286.8,777.3L277.5,771.8ZM283.9,771.3L283.9,772.3L283.1,771.8ZM296.7,763.9L296.7,774.9L287.4,769.4ZM293.9,768.9L293.9,769.8L293.1,769.4ZM306.7,761.5L306.7,772.5L297.4,767ZM303.8,766.5L303.8,767.4L303.1,767ZM316.7,759.1L316.7,770.1L307.4,764.6ZM313.8,764.1L313.8,765L313,764.6ZM326.7,756.6L326.7,767.6L317.4,762.1ZM323.8,761.7L323.8,762.6L323,762.1ZM336.6,754.1L336.6,765.1L327.3,759.6ZM333.8,759.2L333.8,760.1L333,759.6ZM346.6,751.7L346.6,762.7L337.3,757.2ZM343.7,756.7L343.7,757.7L342.9,757.2ZM356.6,749.2L356.6,760.2L347.3,754.7ZM353.7,754.3L353.7,755.2L352.9,754.7ZM366.6,746.8L366.6,757.8L357.3,752.3ZM363.7,751.8L363.7,752.8L362.9,752.3ZM376.5,744.3L376.5,755.3L367.2,749.8ZM373.7,749.3L373.7,750.3L372.9,749.8ZM386.5,741.7L386.5,752.7L377.2,747.2ZM383.6,746.8L383.6,747.7L382.8,747.2ZM396.5,739.1L396.5,750.1L387.2,744.6ZM393.6,744.1L393.6,745L392.8,744.6ZM406.4,736.3L406.4,747.3L397.1,741.8ZM403.6,741.3L403.6,742.2L402.8,741.8ZM416.4,733.4L416.4,744.4L407.1,738.9ZM413.5,738.4L413.5,739.4L412.8,738.9ZM426.4,730.4L426.4,741.4L417.1,735.9ZM423.5,735.5L423.5,736.4L422.7,735.9ZM436.4,727.4L436.4,738.4L427.1,732.9ZM433.5,732.4L433.5,733.4L432.7,732.9ZM446.3,724.2L446.3,735.2L437,729.7ZM443.5,729.3L443.5,730.2L442.7,729.7ZM456.3,721L456.3,732L447,726.5ZM453.4,726.1L453.4,727L452.6,726.5ZM466.3,717.7L466.3,728.7L457,723.2ZM463.4,722.7L463.4,723.7L462.6,723.2ZM476.3,714.3L476.3,725.3L467,719.8ZM473.4,719.3L473.4,720.3L472.6,719.8ZM486.2,710.8L486.2,721.8L476.9,716.3ZM483.4,715.8L483.4,716.8L482.6,716.3ZM496.2,707.1L496.2,718.1L486.9,712.6ZM493.3,712.2L493.3,713.1L492.5,712.6ZM506.2,703.4L506.2,714.4L496.9,708.9ZM503.3,708.4L503.3,709.4L502.5,708.9ZM516.1,699.6L516.1,710.6L506.8,705.1ZM513.3,704.6L513.3,705.5L512.5,705.1ZM526.1,695.7L526.1,706.7L516.8,701.2ZM523.2,700.7L523.2,701.6L522.5,701.2ZM536.1,691.7L536.1,702.7L526.8,697.2ZM533.2,696.7L533.2,697.7L532.4,697.2ZM546.1,687.7L546.1,698.7L536.8,693.2ZM543.2,692.7L543.2,693.7L542.4,693.2ZM556,683.7L556,694.7L546.7,689.2ZM553.2,688.7L553.2,689.6L552.4,689.2ZM566,679.5L566,690.5L556.7,685ZM563.1,684.6L563.1,685.5L562.3,685ZM576,675.3L576,686.3L566.7,680.8ZM573.1,680.3L573.1,681.3L572.3,680.8ZM586,670.8L586,681.8L576.7,676.3ZM583.1,675.9L583.1,676.8L582.3,676.3ZM595.9,666.1L595.9,677.1L586.6,671.6ZM593.1,671.2L593.1,672.1L592.3,671.6ZM605.9,661.2L605.9,672.2L596.6,666.7ZM603,666.2L603,667.1L602.2,666.7ZM615.9,656L615.9,667L606.6,661.5ZM613,661L613,662L612.2,661.5ZM625.8,650.6L625.8,661.6L616.5,656.1ZM623,655.7L623,656.6L622.2,656.1ZM635.8,644.6L635.8,655.6L626.5,650.1ZM632.9,649.6L632.9,650.6L632.2,650.1ZM645.8,639L645.8,650L636.5,644.5ZM642.9,644.1L642.9,645L642.1,644.5ZM655.8,635L655.8,646L646.5,640.5ZM652.9,640.1L652.9,641L652.1,640.5ZM665.7,632.7L665.7,643.7L656.4,638.2ZM662.9,637.7L662.9,638.7L662.1,638.2ZM675.7,632.5L675.7,643.5L666.4,638ZM672.8,637.5L672.8,638.5L672,638ZM685.7,636.3L685.7,647.3L676.4,641.8ZM682.8,641.4L682.8,642.3L682,641.8ZM695.7,645.1L695.7,656.1L686.4,650.6ZM692.8,650.1L692.8,651L692,650.6ZM705.6,657.1L705.6,668.1L696.3,662.6ZM702.8,662.2L702.8,663.1L702,662.6ZM715.6,671.2L715.6,682.2L706.3,676.7ZM712.7,676.2L712.7,677.2L711.9,676.7ZM725.6,687.3L725.6,698.3L716.3,692.8ZM722.7,692.3L722.7,693.2L721.9,692.8ZM735.5,705.3L735.5,716.3L726.2,710.8ZM732.7,710.4L732.7,711.3L731.9,710.8ZM745.5,723.4L745.5,734.4L736.2,728.9ZM742.6,728.5L742.6,729.4L741.9,728.9ZM755.5,742.5L755.5,753.5L746.2,748ZM752.6,747.5L752.6,748.5L751.8,748ZM765.5,763.6L765.5,774.6L756.2,769.1ZM762.6,768.6L762.6,769.6L761.8,769.1ZM775.4,787.7L775.4,798.7L766.1,793.2ZM772.6,792.7L772.6,793.7L771.8,793.2ZM785.4,814.8L785.4,825.8L776.1,820.3ZM782.5,819.9L782.5,820.8L781.7,820.3ZM795.4,850L795.4,861L786.1,855.5ZM792.5,855L792.5,856L791.7,855.5ZM805.4,895.2L805.4,906.2L796.1,900.7ZM802.5,900.2L802.5,901.2L801.7,900.7ZM815.3,980.6L815.3,991.6L806,986.1ZM812.5,985.6L812.5,986.5L811.7,986.1ZM825.3,1025.8L825.3,1036.8L816,1031.3ZM822.4,1030.8L822.4,1031.7L821.6,1031.3ZM835.3,919.3L835.3,930.3L826,924.8ZM832.4,924.3L832.4,925.3L831.6,924.8ZM845.2,876.1L845.2,887.1L835.9,881.6ZM842.4,881.1L842.4,882.1L841.6,881.6ZM855.2,850L855.2,861L845.9,855.5ZM852.3,855L852.3,856L851.6,855.5ZM865.2,829.9L865.2,840.9L855.9,835.4ZM862.3,834.9L862.3,835.9L861.5,835.4ZM875.2,815.8L875.2,826.8L865.9,821.3ZM872.3,820.9L872.3,821.8L871.5,821.3ZM885.1,803.3L885.1,814.3L875.8,808.8ZM882.3,808.3L882.3,809.2L881.5,808.8ZM895.1,793.7L895.1,804.7L885.8,799.2ZM892.2,798.8L892.2,799.7L891.4,799.2ZM905.1,784.7L905.1,795.7L895.8,790.2ZM902.2,789.7L902.2,790.7L901.4,790.2ZM915.1,777.2L915.1,788.2L905.8,782.7ZM912.2,782.2L912.2,783.1L911.4,782.7ZM925,770.6L925,781.6L915.7,776.1ZM922.2,775.7L922.2,776.6L921.4,776.1ZM935,764.1L935,775.1L925.7,769.6ZM932.1,769.1L932.1,770.1L931.3,769.6ZM945,758.6L945,769.6L935.7,764.1ZM942.1,763.6L942.1,764.5L941.3,764.1ZM954.9,753.6L954.9,764.6L945.6,759.1ZM952.1,758.6L952.1,759.5L951.3,759.1ZM964.9,748.5L964.9,759.5L955.6,754ZM962,753.6L962,754.5L961.3,754Z" fill="#000000" fill-rule="evenodd"/>
<path clip-path="url(#c1)" d="M114.1,807.3L124.1,804.1L134,801L144,797.9L154,794.8L164,791.7L173.9,788.6L183.9,785.6L193.9,782.6L203.9,779.5L213.8,776.5L223.8,773.5L233.8,770.6L243.7,767.7L253.7,764.9L263.7,762.2L273.7,759.5L283.6,757L293.6,754.4L303.6,752L313.6,749.5L323.5,747.1L333.5,744.6L343.5,742.2L353.4,739.9L363.4,737.6L373.4,735.3L383.4,732.9L393.3,730.4L403.3,727.8L413.3,725.1L423.3,722.3L433.2,719.4L443.2,716.4L453.2,713.3L463.1,710.1L473.1,706.8L483.1,703.3L493.1,699.6L503,695.8L513,691.9L523,688L533,684.1L542.9,680.2L552.9,676.2L562.9,672.2L572.8,668.2L582.8,664.2L592.8,660.2L602.8,656.1L612.7,652.1L622.7,648.2L632.7,644.4L642.7,641L652.6,638.3L662.6,638L672.6,641.5L682.5,649.6L692.5,662.6L702.5,676.7L712.5,692.8L722.4,710.8L732.4,730.9L742.4,750L752.4,775.1L762.3,802.3L772.3,837.4L782.3,889.1L792.2,990.6L802.2,978L812.2,895.7L822.2,860.5L832.1,835.4L842.1,815.3L852.1,800.2L862.1,789.2L872,779.1L882,771.1L892,764.1L901.9,757L911.9,752L921.9,746L931.9,741L941.8,736L951.8,731.9L961.8,727.9L971.7,724.4" fill="none" stroke="#008000" stroke-width="3.3" stroke-dasharray="10.6 10.6"/>
<path d="M114.1,801.2L118.5,807.3L114.1,813.4L109.7,807.3ZM114.1,806.6L114.6,807.3L114.1,807.9L113.6,807.3ZM124.1,798L128.5,804.1L124.1,810.2L119.7,804.1ZM124.1,803.4L124.6,804.1L124.1,804.8L123.6,804.1ZM134,794.9L138.4,801L134,807.1L129.6,801ZM134,800.3L134.5,801L134,801.7L133.6,801ZM144,791.8L148.4,797.9L144,804L139.6,797.9ZM144,797.2L144.5,797.9L144,798.5L143.5,797.9ZM154,788.7L158.4,794.8L154,800.9L149.6,794.8ZM154,794.1L154.5,794.8L154,795.4L153.5,794.8ZM164,785.6L168.4,791.7L164,797.8L159.6,791.7ZM164,791L164.4,791.7L164,792.4L163.5,791.7ZM173.9,782.5L178.3,788.6L173.9,794.7L169.5,788.6ZM173.9,788L174.4,788.6L173.9,789.3L173.5,788.6ZM183.9,779.5L188.3,785.6L183.9,791.7L179.5,785.6ZM183.9,784.9L184.4,785.6L183.9,786.3L183.4,785.6ZM193.9,776.5L198.3,782.6L193.9,788.7L189.5,782.6ZM193.9,781.9L194.4,782.6L193.9,783.2L193.4,782.6ZM203.9,773.4L208.3,779.5L203.9,785.6L199.5,779.5ZM203.9,778.9L204.3,779.5L203.9,780.2L203.4,779.5ZM213.8,770.4L218.2,776.5L213.8,782.6L209.4,776.5ZM213.8,775.8L214.3,776.5L213.8,777.2L213.3,776.5ZM223.8,767.4L228.2,773.5L223.8,779.6L219.4,773.5ZM223.8,772.8L224.3,773.5L223.8,774.2L223.3,773.5ZM233.8,764.5L238.2,770.6L233.8,776.7L229.4,770.6ZM233.8,769.9L234.3,770.6L233.8,771.2L233.3,770.6ZM243.7,761.6L248.1,767.7L243.7,773.8L239.3,767.7ZM243.7,767L244.2,767.7L243.7,768.3L243.3,767.7ZM253.7,758.8L258.1,764.9L253.7,771L249.3,764.9ZM253.7,764.2L254.2,764.9L253.7,765.5L253.2,764.9ZM263.7,756.1L268.1,762.2L263.7,768.3L259.3,762.2ZM263.7,761.5L264.2,762.2L263.7,762.8L263.2,762.2ZM273.7,753.4L278.1,759.5L273.7,765.6L269.3,759.5ZM273.7,758.9L274.1,759.5L273.7,760.2L273.2,759.5ZM283.6,750.9L288,757L283.6,763.1L279.2,757ZM283.6,756.3L284.1,757L283.6,757.6L283.2,757ZM293.6,748.3L298,754.4L293.6,760.5L289.2,754.4ZM293.6,753.8L294.1,754.4L293.6,755.1L293.1,754.4ZM303.6,745.9L308,752L303.6,758.1L299.2,752ZM303.6,751.3L304.1,752L303.6,752.6L303.1,752ZM313.6,743.4L318,749.5L313.6,755.6L309.2,749.5ZM313.6,748.8L314,749.5L313.6,750.2L313.1,749.5ZM323.5,741L327.9,747.1L323.5,753.2L319.1,747.1ZM323.5,746.4L324,747.1L323.5,747.7L323,747.1ZM333.5,738.5L337.9,744.6L333.5,750.7L329.1,744.6ZM333.5,743.9L334,744.6L333.5,745.3L333,744.6ZM343.5,736.1L347.9,742.2L343.5,748.3L339.1,742.2ZM343.5,741.6L344,742.2L343.5,742.9L343,742.2ZM353.4,733.8L357.8,739.9L353.4,746L349,739.9ZM353.4,739.3L353.9,739.9L353.4,740.6L353,739.9ZM363.4,731.5L367.8,737.6L363.4,743.7L359,737.6ZM363.4,737L363.9,737.6L363.4,738.3L362.9,737.6ZM373.4,729.2L377.8,735.3L373.4,741.4L369,735.3ZM373.4,734.6L373.9,735.3L373.4,736L372.9,735.3ZM383.4,726.8L387.8,732.9L383.4,739L379,732.9ZM383.4,732.2L383.8,732.9L383.4,733.6L382.9,732.9ZM393.3,724.3L397.7,730.4L393.3,736.5L388.9,730.4ZM393.3,729.7L393.8,730.4L393.3,731.1L392.9,730.4ZM403.3,721.7L407.7,727.8L403.3,733.9L398.9,727.8ZM403.3,727.1L403.8,727.8L403.3,728.5L402.8,727.8ZM413.3,719L417.7,725.1L413.3,731.2L408.9,725.1ZM413.3,724.4L413.8,725.1L413.3,725.7L412.8,725.1ZM423.3,716.2L427.7,722.3L423.3,728.4L418.9,722.3ZM423.3,721.6L423.7,722.3L423.3,722.9L422.8,722.3ZM433.2,713.3L437.6,719.4L433.2,725.5L428.8,719.4ZM433.2,718.7L433.7,719.4L433.2,720L432.7,719.4ZM443.2,710.3L447.6,716.4L443.2,722.5L438.8,716.4ZM443.2,715.7L443.7,716.4L443.2,717L442.7,716.4ZM453.2,707.2L457.6,713.3L453.2,719.4L448.8,713.3ZM453.2,712.6L453.7,713.3L453.2,713.9L452.7,713.3ZM463.1,704L467.5,710.1L463.1,716.2L458.7,710.1ZM463.1,709.4L463.6,710.1L463.1,710.8L462.7,710.1ZM473.1,700.7L477.5,706.8L473.1,712.9L468.7,706.8ZM473.1,706.1L473.6,706.8L473.1,707.4L472.6,706.8ZM483.1,697.2L487.5,703.3L483.1,709.4L478.7,703.3ZM483.1,702.6L483.6,703.3L483.1,704L482.6,703.3ZM493.1,693.5L497.5,699.6L493.1,705.7L488.7,699.6ZM493.1,698.9L493.5,699.6L493.1,700.3L492.6,699.6ZM503,689.7L507.4,695.8L503,701.9L498.6,695.8ZM503,695.2L503.5,695.8L503,696.5L502.6,695.8ZM513,685.8L517.4,691.9L513,698L508.6,691.9ZM513,691.3L513.5,691.9L513,692.6L512.5,691.9ZM523,681.9L527.4,688L523,694.1L518.6,688ZM523,687.3L523.5,688L523,688.7L522.5,688ZM533,678L537.4,684.1L533,690.2L528.6,684.1ZM533,683.4L533.4,684.1L533,684.7L532.5,684.1ZM542.9,674.1L547.3,680.2L542.9,686.3L538.5,680.2ZM542.9,679.5L543.4,680.2L542.9,680.8L542.4,680.2ZM552.9,670.1L557.3,676.2L552.9,682.3L548.5,676.2ZM552.9,675.5L553.4,676.2L552.9,676.9L552.4,676.2ZM562.9,666.1L567.3,672.2L562.9,678.3L558.5,672.2ZM562.9,671.6L563.4,672.2L562.9,672.9L562.4,672.2ZM572.8,662.1L577.2,668.2L572.8,674.3L568.4,668.2ZM572.8,667.5L573.3,668.2L572.8,668.9L572.4,668.2ZM582.8,658.1L587.2,664.2L582.8,670.3L578.4,664.2ZM582.8,663.5L583.3,664.2L582.8,664.9L582.3,664.2ZM592.8,654.1L597.2,660.2L592.8,666.3L588.4,660.2ZM592.8,659.5L593.3,660.2L592.8,660.8L592.3,660.2ZM602.8,650L607.2,656.1L602.8,662.2L598.4,656.1ZM602.8,655.4L603.2,656.1L602.8,656.8L602.3,656.1ZM612.7,646L617.1,652.1L612.7,658.2L608.3,652.1ZM612.7,651.4L613.2,652.1L612.7,652.8L612.2,652.1ZM622.7,642.1L627.1,648.2L622.7,654.3L618.3,648.2ZM622.7,647.6L623.2,648.2L622.7,648.9L622.2,648.2ZM632.7,638.3L637.1,644.4L632.7,650.5L628.3,644.4ZM632.7,643.8L633.2,644.4L632.7,645.1L632.2,644.4ZM642.7,634.9L647.1,641L642.7,647.1L638.3,641ZM642.7,640.4L643.1,641L642.7,641.7L642.2,641ZM652.6,632.2L657,638.3L652.6,644.4L648.2,638.3ZM652.6,637.6L653.1,638.3L652.6,639L652.1,638.3ZM662.6,631.9L667,638L662.6,644.1L658.2,638ZM662.6,637.3L663.1,638L662.6,638.7L662.1,638ZM672.6,635.4L677,641.5L672.6,647.6L668.2,641.5ZM672.6,640.9L673.1,641.5L672.6,642.2L672.1,641.5ZM682.5,643.5L686.9,649.6L682.5,655.7L678.1,649.6ZM682.5,648.9L683,649.6L682.5,650.2L682.1,649.6ZM692.5,656.5L696.9,662.6L692.5,668.7L688.1,662.6ZM692.5,662L693,662.6L692.5,663.3L692,662.6ZM702.5,670.6L706.9,676.7L702.5,682.8L698.1,676.7ZM702.5,676L703,676.7L702.5,677.4L702,676.7ZM712.5,686.7L716.9,692.8L712.5,698.9L708.1,692.8ZM712.5,692.1L712.9,692.8L712.5,693.4L712,692.8ZM722.4,704.7L726.8,710.8L722.4,716.9L718,710.8ZM722.4,710.2L722.9,710.8L722.4,711.5L721.9,710.8ZM732.4,724.8L736.8,730.9L732.4,737L728,730.9ZM732.4,730.3L732.9,730.9L732.4,731.6L731.9,730.9ZM742.4,743.9L746.8,750L742.4,756.1L738,750ZM742.4,749.3L742.9,750L742.4,750.7L741.9,750ZM752.4,769L756.8,775.1L752.4,781.2L748,775.1ZM752.4,774.5L752.8,775.1L752.4,775.8L751.9,775.1ZM762.3,796.2L766.7,802.3L762.3,808.4L757.9,802.3ZM762.3,801.6L762.8,802.3L762.3,802.9L761.8,802.3ZM772.3,831.3L776.7,837.4L772.3,843.5L767.9,837.4ZM772.3,836.7L772.8,837.4L772.3,838.1L771.8,837.4ZM782.3,883L786.7,889.1L782.3,895.2L777.9,889.1ZM782.3,888.5L782.8,889.1L782.3,889.8L781.8,889.1ZM792.2,984.5L796.6,990.6L792.2,996.7L787.8,990.6ZM792.2,989.9L792.7,990.6L792.2,991.3L791.8,990.6ZM802.2,971.9L806.6,978L802.2,984.1L797.8,978ZM802.2,977.4L802.7,978L802.2,978.7L801.7,978ZM812.2,889.6L816.6,895.7L812.2,901.8L807.8,895.7ZM812.2,895L812.7,895.7L812.2,896.3L811.7,895.7ZM822.2,854.4L826.6,860.5L822.2,866.6L817.8,860.5ZM822.2,859.8L822.6,860.5L822.2,861.2L821.7,860.5ZM832.1,829.3L836.5,835.4L832.1,841.5L827.7,835.4ZM832.1,834.7L832.6,835.4L832.1,836.1L831.6,835.4ZM842.1,809.2L846.5,815.3L842.1,821.4L837.7,815.3ZM842.1,814.6L842.6,815.3L842.1,816L841.6,815.3ZM852.1,794.1L856.5,800.2L852.1,806.3L847.7,800.2ZM852.1,799.6L852.6,800.2L852.1,800.9L851.6,800.2ZM862.1,783.1L866.5,789.2L862.1,795.3L857.7,789.2ZM862.1,788.5L862.5,789.2L862.1,789.9L861.6,789.2ZM872,773L876.4,779.1L872,785.2L867.6,779.1ZM872,778.5L872.5,779.1L872,779.8L871.5,779.1ZM882,765L886.4,771.1L882,777.2L877.6,771.1ZM882,770.4L882.5,771.1L882,771.8L881.5,771.1ZM892,758L896.4,764.1L892,770.2L887.6,764.1ZM892,763.4L892.5,764.1L892,764.8L891.5,764.1ZM901.9,750.9L906.3,757L901.9,763.1L897.5,757ZM901.9,756.4L902.4,757L901.9,757.7L901.5,757ZM911.9,745.9L916.3,752L911.9,758.1L907.5,752ZM911.9,751.4L912.4,752L911.9,752.7L911.4,752ZM921.9,739.9L926.3,746L921.9,752.1L917.5,746ZM921.9,745.3L922.4,746L921.9,746.7L921.4,746ZM931.9,734.9L936.3,741L931.9,747.1L927.5,741ZM931.9,740.3L932.3,741L931.9,741.6L931.4,741ZM941.8,729.9L946.2,736L941.8,742.1L937.4,736ZM941.8,735.3L942.3,736L941.8,736.6L941.3,736ZM951.8,725.8L956.2,731.9L951.8,738L947.4,731.9ZM951.8,731.3L952.3,731.9L951.8,732.6L951.3,731.9ZM961.8,721.8L966.2,727.9L961.8,734L957.4,727.9ZM961.8,727.2L962.3,727.9L961.8,728.6L961.3,727.9Z" fill="#008000" fill-rule="evenodd"/>
<path clip-path="url(#c1)" d="M114.1,789.7L124.1,786.5L134,783.3L144,780.2L154,777.1L164,774.2L173.9,771.3L183.9,768.5L193.9,765.8L203.9,763.2L213.8,760.7L223.8,758.2L233.8,755.7L243.7,753.3L253.7,750.7L263.7,748.2L273.7,745.6L283.6,742.9L293.6,740.3L303.6,737.7L313.6,735.1L323.5,732.5L333.5,730L343.5,727.7L353.4,725.3L363.4,723.1L373.4,720.7L383.4,718.4L393.3,715.9L403.3,713.2L413.3,710.3L423.3,707.3L433.2,704.2L443.2,701.1L453.2,697.9L463.1,694.8L473.1,691.8L483.1,688.9L493.1,686.1L503,683.3L513,680.4L523,677.5L533,674.4L542.9,671.2L552.9,667.6L562.9,663.8L572.8,659.9L582.8,656.1L592.8,652.4L602.8,648.6L612.7,645L622.7,641.8L632.7,639L642.7,637.8L652.6,639L662.6,643.5L672.6,649.6L682.5,658.6L692.5,670.7L702.5,685.7L712.5,702.8L722.4,723.9L732.4,745L742.4,772.1L752.4,804.3L762.3,848.5L772.3,931.8L782.3,980L792.2,886.1L802.2,848.5L812.2,821.3L822.2,799.2L832.1,783.2L842.1,771.1L852.1,761.1L862.1,752.5L872,745L882,739L892,732.9L901.9,726.9L911.9,721.9L921.9,717.4L931.9,713.4L941.8,708.8L951.8,705.8L961.8,702.8L971.7,699.8" fill="none" stroke="#12a5be" stroke-width="3.3" stroke-dasharray="10.6 10.6"/>
<path d="M111,784.2L111,795.2L120.3,789.7ZM113.8,789.1L113.8,790.2L114.7,789.7ZM120.9,781L120.9,792L130.2,786.5ZM123.8,785.9L123.8,787L124.7,786.5ZM130.9,777.8L130.9,788.8L140.2,783.3ZM133.7,782.7L133.7,783.8L134.7,783.3ZM140.9,774.7L140.9,785.7L150.2,780.2ZM143.7,779.6L143.7,780.7L144.6,780.2ZM150.9,771.6L150.9,782.6L160.2,777.1ZM153.7,776.6L153.7,777.7L154.6,777.1ZM160.8,768.7L160.8,779.7L170.1,774.2ZM163.6,773.6L163.6,774.7L164.6,774.2ZM170.8,765.8L170.8,776.8L180.1,771.3ZM173.6,770.8L173.6,771.9L174.6,771.3ZM180.8,763L180.8,774L190.1,768.5ZM183.6,767.9L183.6,769L184.5,768.5ZM190.7,760.3L190.7,771.3L200,765.8ZM193.6,765.2L193.6,766.3L194.5,765.8ZM200.7,757.7L200.7,768.7L210,763.2ZM203.5,762.6L203.5,763.7L204.5,763.2ZM210.7,755.2L210.7,766.2L220,760.7ZM213.5,760.1L213.5,761.2L214.4,760.7ZM220.7,752.7L220.7,763.7L230,758.2ZM223.5,757.6L223.5,758.7L224.4,758.2ZM230.6,750.2L230.6,761.2L239.9,755.7ZM233.5,755.2L233.5,756.3L234.4,755.7ZM240.6,747.8L240.6,758.8L249.9,753.3ZM243.4,752.7L243.4,753.8L244.4,753.3ZM250.6,745.2L250.6,756.2L259.9,750.7ZM253.4,750.2L253.4,751.3L254.3,750.7ZM260.6,742.7L260.6,753.7L269.9,748.2ZM263.4,747.6L263.4,748.7L264.3,748.2ZM270.5,740.1L270.5,751.1L279.8,745.6ZM273.3,745L273.3,746.1L274.3,745.6ZM280.5,737.4L280.5,748.4L289.8,742.9ZM283.3,742.4L283.3,743.5L284.3,742.9ZM290.5,734.8L290.5,745.8L299.8,740.3ZM293.3,739.7L293.3,740.8L294.2,740.3ZM300.4,732.2L300.4,743.2L309.7,737.7ZM303.3,737.1L303.3,738.2L304.2,737.7ZM310.4,729.6L310.4,740.6L319.7,735.1ZM313.2,734.5L313.2,735.6L314.2,735.1ZM320.4,727L320.4,738L329.7,732.5ZM323.2,732L323.2,733.1L324.1,732.5ZM330.4,724.5L330.4,735.5L339.7,730ZM333.2,729.5L333.2,730.6L334.1,730ZM340.3,722.2L340.3,733.2L349.6,727.7ZM343.2,727.1L343.2,728.2L344.1,727.7ZM350.3,719.8L350.3,730.8L359.6,725.3ZM353.1,724.8L353.1,725.9L354.1,725.3ZM360.3,717.6L360.3,728.6L369.6,723.1ZM363.1,722.5L363.1,723.6L364,723.1ZM370.3,715.2L370.3,726.2L379.6,720.7ZM373.1,720.2L373.1,721.3L374,720.7ZM380.2,712.9L380.2,723.9L389.5,718.4ZM383,717.8L383,718.9L384,718.4ZM390.2,710.4L390.2,721.4L399.5,715.9ZM393,715.3L393,716.4L394,715.9ZM400.2,707.7L400.2,718.7L409.5,713.2ZM403,712.6L403,713.7L403.9,713.2ZM410.1,704.8L410.1,715.8L419.4,710.3ZM413,709.8L413,710.9L413.9,710.3ZM420.1,701.8L420.1,712.8L429.4,707.3ZM422.9,706.8L422.9,707.9L423.9,707.3ZM430.1,698.7L430.1,709.7L439.4,704.2ZM432.9,703.7L432.9,704.8L433.8,704.2ZM440.1,695.6L440.1,706.6L449.4,701.1ZM442.9,700.5L442.9,701.6L443.8,701.1ZM450,692.4L450,703.4L459.3,697.9ZM452.9,697.4L452.9,698.5L453.8,697.9ZM460,689.3L460,700.3L469.3,694.8ZM462.8,694.3L462.8,695.4L463.8,694.8ZM470,686.3L470,697.3L479.3,691.8ZM472.8,691.3L472.8,692.4L473.7,691.8ZM480,683.4L480,694.4L489.3,688.9ZM482.8,688.4L482.8,689.5L483.7,688.9ZM489.9,680.6L489.9,691.6L499.2,686.1ZM492.7,685.6L492.7,686.7L493.7,686.1ZM499.9,677.8L499.9,688.8L509.2,683.3ZM502.7,682.7L502.7,683.8L503.7,683.3ZM509.9,674.9L509.9,685.9L519.2,680.4ZM512.7,679.9L512.7,681L513.6,680.4ZM519.8,672L519.8,683L529.1,677.5ZM522.7,677L522.7,678.1L523.6,677.5ZM529.8,668.9L529.8,679.9L539.1,674.4ZM532.6,673.9L532.6,675L533.6,674.4ZM539.8,665.7L539.8,676.7L549.1,671.2ZM542.6,670.6L542.6,671.7L543.5,671.2ZM549.8,662.1L549.8,673.1L559.1,667.6ZM552.6,667.1L552.6,668.2L553.5,667.6ZM559.7,658.3L559.7,669.3L569,663.8ZM562.6,663.3L562.6,664.4L563.5,663.8ZM569.7,654.4L569.7,665.4L579,659.9ZM572.5,659.4L572.5,660.5L573.5,659.9ZM579.7,650.6L579.7,661.6L589,656.1ZM582.5,655.6L582.5,656.7L583.4,656.1ZM589.7,646.9L589.7,657.9L599,652.4ZM592.5,651.8L592.5,652.9L593.4,652.4ZM599.6,643.1L599.6,654.1L608.9,648.6ZM602.4,648.1L602.4,649.2L603.4,648.6ZM609.6,639.5L609.6,650.5L618.9,645ZM612.4,644.5L612.4,645.6L613.3,645ZM619.6,636.3L619.6,647.3L628.9,641.8ZM622.4,641.2L622.4,642.3L623.3,641.8ZM629.5,633.5L629.5,644.5L638.8,639ZM632.4,638.5L632.4,639.6L633.3,639ZM639.5,632.3L639.5,643.3L648.8,637.8ZM642.3,637.3L642.3,638.4L643.3,637.8ZM649.5,633.5L649.5,644.5L658.8,639ZM652.3,638.5L652.3,639.6L653.2,639ZM659.5,638L659.5,649L668.8,643.5ZM662.3,643L662.3,644.1L663.2,643.5ZM669.4,644.1L669.4,655.1L678.7,649.6ZM672.3,649L672.3,650.1L673.2,649.6ZM679.4,653.1L679.4,664.1L688.7,658.6ZM682.2,658.1L682.2,659.2L683.2,658.6ZM689.4,665.2L689.4,676.2L698.7,670.7ZM692.2,670.1L692.2,671.2L693.1,670.7ZM699.4,680.2L699.4,691.2L708.7,685.7ZM702.2,685.2L702.2,686.3L703.1,685.7ZM709.3,697.3L709.3,708.3L718.6,702.8ZM712.1,702.3L712.1,703.4L713.1,702.8ZM719.3,718.4L719.3,729.4L728.6,723.9ZM722.1,723.4L722.1,724.5L723,723.9ZM729.3,739.5L729.3,750.5L738.6,745ZM732.1,744.4L732.1,745.5L733,745ZM739.2,766.6L739.2,777.6L748.5,772.1ZM742.1,771.6L742.1,772.7L743,772.1ZM749.2,798.8L749.2,809.8L758.5,804.3ZM752,803.7L752,804.8L753,804.3ZM759.2,843L759.2,854L768.5,848.5ZM762,847.9L762,849L762.9,848.5ZM769.2,926.3L769.2,937.3L778.5,931.8ZM772,931.3L772,932.4L772.9,931.8ZM779.1,974.5L779.1,985.5L788.4,980ZM782,979.5L782,980.6L782.9,980ZM789.1,880.6L789.1,891.6L798.4,886.1ZM791.9,885.6L791.9,886.7L792.9,886.1ZM799.1,843L799.1,854L808.4,848.5ZM801.9,847.9L801.9,849L802.8,848.5ZM809,815.8L809,826.8L818.3,821.3ZM811.9,820.8L811.9,821.9L812.8,821.3ZM819,793.7L819,804.7L828.3,799.2ZM821.8,798.7L821.8,799.8L822.8,799.2ZM829,777.7L829,788.7L838.3,783.2ZM831.8,782.6L831.8,783.7L832.7,783.2ZM839,765.6L839,776.6L848.3,771.1ZM841.8,770.6L841.8,771.7L842.7,771.1ZM848.9,755.6L848.9,766.6L858.2,761.1ZM851.8,760.5L851.8,761.6L852.7,761.1ZM858.9,747L858.9,758L868.2,752.5ZM861.7,752L861.7,753.1L862.7,752.5ZM868.9,739.5L868.9,750.5L878.2,745ZM871.7,744.4L871.7,745.5L872.6,745ZM878.9,733.5L878.9,744.5L888.2,739ZM881.7,738.4L881.7,739.5L882.6,739ZM888.8,727.4L888.8,738.4L898.1,732.9ZM891.7,732.4L891.7,733.5L892.6,732.9ZM898.8,721.4L898.8,732.4L908.1,726.9ZM901.6,726.4L901.6,727.5L902.6,726.9ZM908.8,716.4L908.8,727.4L918.1,721.9ZM911.6,721.3L911.6,722.4L912.5,721.9ZM918.7,711.9L918.7,722.9L928,717.4ZM921.6,716.8L921.6,717.9L922.5,717.4ZM928.7,707.9L928.7,718.9L938,713.4ZM931.5,712.8L931.5,713.9L932.5,713.4ZM938.7,703.3L938.7,714.3L948,708.8ZM941.5,708.3L941.5,709.4L942.4,708.8ZM948.7,700.3L948.7,711.3L958,705.8ZM951.5,705.3L951.5,706.4L952.4,705.8ZM958.6,697.3L958.6,708.3L967.9,702.8ZM961.5,702.3L961.5,703.4L962.4,702.8Z" fill="#12a5be" fill-rule="evenodd"/>
<path clip-path="url(#c1)" d="M114.1,826.4L118.4,825L122.6,823.7L126.9,822.4L131.2,821.1L135.5,819.8L139.7,818.5L144,817.2L148.3,815.9L152.6,814.6L156.8,813.3L161.1,812L165.4,810.8L169.7,809.5L173.9,808.2L178.2,806.9L182.5,805.6L186.8,804.3L191,803L195.3,801.7L199.6,800.4L203.9,799.1L208.1,797.8L212.4,796.5L216.7,795.2L220.9,793.9L225.2,792.6L229.5,791.3L233.8,790.1L238,788.8L242.3,787.6L246.6,786.4L250.9,785.2L255.1,784L259.4,782.9L263.7,781.8L268,780.7L272.2,779.7L276.5,778.6L280.8,777.6L285.1,776.6L289.3,775.6L293.6,774.6L297.9,773.6L302.2,772.6L306.4,771.6L310.7,770.6L315,769.6L319.3,768.6L323.5,767.6L327.8,766.6L332.1,765.6L336.3,764.6L340.6,763.6L344.9,762.6L349.2,761.6L353.4,760.7L357.7,759.7L362,758.7L366.3,757.7L370.5,756.7L374.8,755.7L379.1,754.7L383.4,753.6L387.6,752.5L391.9,751.4L396.2,750.3L400.5,749.1L404.7,747.9L409,746.7L413.3,745.4L417.6,744.1L421.8,742.7L426.1,741.3L430.4,740L434.6,738.5L438.9,737.1L443.2,735.7L447.5,734.2L451.7,732.8L456,731.3L460.3,729.8L464.6,728.4L468.8,726.9L473.1,725.4L477.4,724L481.7,722.5L485.9,721.1L490.2,719.7L494.5,718.3L498.8,716.8L503,715.4L507.3,713.9L511.6,712.4L515.9,710.9L520.1,709.3L524.4,707.7L528.7,706.1L533,704.4L537.2,702.6L541.5,700.8L545.8,698.9L550,696.8L554.3,694.7L558.6,692.5L562.9,690.2L567.1,687.8L571.4,685.4L575.7,683L580,680.5L584.2,678.1L588.5,675.6L592.8,673.2L597.1,670.7L601.3,668.1L605.6,665.5L609.9,662.9L614.2,660.3L618.4,657.8L622.7,655.4L627,653.1L631.3,650.7L635.5,648.4L639.8,646.3L644.1,644.5L648.4,643.1L652.6,641.8L656.9,640.5L661.2,639.5L665.4,638.8L669.7,638.5L674,639L678.3,640.3L682.5,642L686.8,644L691.1,646.7L695.4,650.5L699.6,654.9L703.9,659.7L708.2,664.4L712.5,668.9L716.7,673.6L721,678.4L725.3,683.3L729.6,688.3L733.8,693.4L738.1,698.5L742.4,703.7L746.7,709L750.9,714.2L755.2,719.5L759.5,724.9L763.7,730.4L768,735.9L772.3,741.6L776.6,747.5L780.8,753.4L785.1,759.7L789.4,766.1L793.7,772.7L797.9,779.3L802.2,785.9L806.5,792.4L810.8,798.8L815,805.1L819.3,811.7L823.6,818.5L827.9,825.9L832.1,833.8L836.4,842.1L840.7,850.3L845,858.4L849.2,867.3L853.5,877.2L857.8,888.1L862,900.2L866.3,913.7L870.6,929.7L874.9,946.9L879.1,965L883.4,985.2L887.7,1023.9L892,1087.7L896.2,1224.3L900.5,1157.7L904.8,1051.4L909.1,1017.6L913.3,986.1L917.6,962.6L921.9,950.1L926.2,938.1L930.4,926.8L934.7,918.4L939,909.9L943.3,901.6L947.5,893.9L951.8,887.4L956.1,882L960.4,876.3L964.6,871.4L968.9,867.5" fill="none" stroke="#86223a" stroke-width="3.3" stroke-dasharray="10.6 10.6"/>
<path d="M110.6,826.4h7M114.1,822.9v7M111.6,823.9l4.9,4.9M111.6,828.8l4.9,-4.9M114.9,825h7M118.4,821.5v7M115.9,822.6l4.9,4.9M115.9,827.5l4.9,-4.9M119.1,823.7h7M122.6,820.2v7M120.2,821.3l4.9,4.9M120.2,826.2l4.9,-4.9M123.4,822.4h7M126.9,818.9v7M124.4,820l4.9,4.9M124.4,824.9l4.9,-4.9M127.7,821.1h7M131.2,817.6v7M128.7,818.7l4.9,4.9M128.7,823.6l4.9,-4.9M132,819.8h7M135.5,816.3v7M133,817.4l4.9,4.9M133,822.3l4.9,-4.9M136.2,818.5h7M139.7,815v7M137.3,816.1l4.9,4.9M137.3,821l4.9,-4.9M140.5,817.2h7M144,813.7v7M141.5,814.8l4.9,4.9M141.5,819.7l4.9,-4.9M144.8,815.9h7M148.3,812.4v7M145.8,813.5l4.9,4.9M145.8,818.4l4.9,-4.9M149.1,814.6h7M152.6,811.1v7M150.1,812.2l4.9,4.9M150.1,817.1l4.9,-4.9M153.3,813.3h7M156.8,809.8v7M154.4,810.9l4.9,4.9M154.4,815.8l4.9,-4.9M157.6,812h7M161.1,808.5v7M158.6,809.6l4.9,4.9M158.6,814.5l4.9,-4.9M161.9,810.8h7M165.4,807.3v7M162.9,808.3l4.9,4.9M162.9,813.2l4.9,-4.9M166.2,809.5h7M169.7,806v7M167.2,807l4.9,4.9M167.2,811.9l4.9,-4.9M170.4,808.2h7M173.9,804.7v7M171.5,805.7l4.9,4.9M171.5,810.7l4.9,-4.9M174.7,806.9h7M178.2,803.4v7M175.7,804.4l4.9,4.9M175.7,809.4l4.9,-4.9M179,805.6h7M182.5,802.1v7M180,803.1l4.9,4.9M180,808.1l4.9,-4.9M183.3,804.3h7M186.8,800.8v7M184.3,801.9l4.9,4.9M184.3,806.8l4.9,-4.9M187.5,803h7M191,799.5v7M188.6,800.6l4.9,4.9M188.6,805.5l4.9,-4.9M191.8,801.7h7M195.3,798.2v7M192.8,799.3l4.9,4.9M192.8,804.2l4.9,-4.9M196.1,800.4h7M199.6,796.9v7M197.1,798l4.9,4.9M197.1,802.9l4.9,-4.9M200.4,799.1h7M203.9,795.6v7M201.4,796.7l4.9,4.9M201.4,801.6l4.9,-4.9M204.6,797.8h7M208.1,794.3v7M205.7,795.3l4.9,4.9M205.7,800.3l4.9,-4.9M208.9,796.5h7M212.4,793v7M209.9,794l4.9,4.9M209.9,799l4.9,-4.9M213.2,795.2h7M216.7,791.7v7M214.2,792.7l4.9,4.9M214.2,797.7l4.9,-4.9M217.4,793.9h7M220.9,790.4v7M218.5,791.4l4.9,4.9M218.5,796.4l4.9,-4.9M221.7,792.6h7M225.2,789.1v7M222.7,790.1l4.9,4.9M222.7,795.1l4.9,-4.9M226,791.3h7M229.5,787.8v7M227,788.9l4.9,4.9M227,793.8l4.9,-4.9M230.3,790.1h7M233.8,786.6v7M231.3,787.6l4.9,4.9M231.3,792.5l4.9,-4.9M234.5,788.8h7M238,785.3v7M235.6,786.3l4.9,4.9M235.6,791.3l4.9,-4.9M238.8,787.6h7M242.3,784.1v7M239.8,785.1l4.9,4.9M239.8,790.1l4.9,-4.9M243.1,786.4h7M246.6,782.9v7M244.1,783.9l4.9,4.9M244.1,788.9l4.9,-4.9M247.4,785.2h7M250.9,781.7v7M248.4,782.7l4.9,4.9M248.4,787.7l4.9,-4.9M251.6,784h7M255.1,780.5v7M252.7,781.6l4.9,4.9M252.7,786.5l4.9,-4.9M255.9,782.9h7M259.4,779.4v7M256.9,780.4l4.9,4.9M256.9,785.4l4.9,-4.9M260.2,781.8h7M263.7,778.3v7M261.2,779.3l4.9,4.9M261.2,784.3l4.9,-4.9M264.5,780.7h7M268,777.2v7M265.5,778.3l4.9,4.9M265.5,783.2l4.9,-4.9M268.7,779.7h7M272.2,776.2v7M269.8,777.2l4.9,4.9M269.8,782.1l4.9,-4.9M273,778.6h7M276.5,775.1v7M274,776.2l4.9,4.9M274,781.1l4.9,-4.9M277.3,777.6h7M280.8,774.1v7M278.3,775.1l4.9,4.9M278.3,780.1l4.9,-4.9M281.6,776.6h7M285.1,773.1v7M282.6,774.1l4.9,4.9M282.6,779.1l4.9,-4.9M285.8,775.6h7M289.3,772.1v7M286.9,773.1l4.9,4.9M286.9,778l4.9,-4.9M290.1,774.6h7M293.6,771.1v7M291.1,772.1l4.9,4.9M291.1,777l4.9,-4.9M294.4,773.6h7M297.9,770.1v7M295.4,771.1l4.9,4.9M295.4,776.1l4.9,-4.9M298.7,772.6h7M302.2,769.1v7M299.7,770.1l4.9,4.9M299.7,775.1l4.9,-4.9M302.9,771.6h7M306.4,768.1v7M304,769.1l4.9,4.9M304,774.1l4.9,-4.9M307.2,770.6h7M310.7,767.1v7M308.2,768.1l4.9,4.9M308.2,773.1l4.9,-4.9M311.5,769.6h7M315,766.1v7M312.5,767.1l4.9,4.9M312.5,772.1l4.9,-4.9M315.8,768.6h7M319.3,765.1v7M316.8,766.1l4.9,4.9M316.8,771.1l4.9,-4.9M320,767.6h7M323.5,764.1v7M321.1,765.1l4.9,4.9M321.1,770.1l4.9,-4.9M324.3,766.6h7M327.8,763.1v7M325.3,764.1l4.9,4.9M325.3,769.1l4.9,-4.9M328.6,765.6h7M332.1,762.1v7M329.6,763.1l4.9,4.9M329.6,768.1l4.9,-4.9M332.8,764.6h7M336.3,761.1v7M333.9,762.1l4.9,4.9M333.9,767l4.9,-4.9M337.1,763.6h7M340.6,760.1v7M338.1,761.1l4.9,4.9M338.1,766.1l4.9,-4.9M341.4,762.6h7M344.9,759.1v7M342.4,760.1l4.9,4.9M342.4,765.1l4.9,-4.9M345.7,761.6h7M349.2,758.1v7M346.7,759.2l4.9,4.9M346.7,764.1l4.9,-4.9M349.9,760.7h7M353.4,757.2v7M351,758.2l4.9,4.9M351,763.1l4.9,-4.9M354.2,759.7h7M357.7,756.2v7M355.2,757.2l4.9,4.9M355.2,762.2l4.9,-4.9M358.5,758.7h7M362,755.2v7M359.5,756.2l4.9,4.9M359.5,761.2l4.9,-4.9M362.8,757.7h7M366.3,754.2v7M363.8,755.2l4.9,4.9M363.8,760.2l4.9,-4.9M367,756.7h7M370.5,753.2v7M368.1,754.2l4.9,4.9M368.1,759.2l4.9,-4.9M371.3,755.7h7M374.8,752.2v7M372.3,753.2l4.9,4.9M372.3,758.2l4.9,-4.9M375.6,754.7h7M379.1,751.2v7M376.6,752.2l4.9,4.9M376.6,757.1l4.9,-4.9M379.9,753.6h7M383.4,750.1v7M380.9,751.1l4.9,4.9M380.9,756.1l4.9,-4.9M384.1,752.5h7M387.6,749v7M385.2,750.1l4.9,4.9M385.2,755l4.9,-4.9M388.4,751.4h7M391.9,747.9v7M389.4,749l4.9,4.9M389.4,753.9l4.9,-4.9M392.7,750.3h7M396.2,746.8v7M393.7,747.8l4.9,4.9M393.7,752.8l4.9,-4.9M397,749.1h7M400.5,745.6v7M398,746.6l4.9,4.9M398,751.6l4.9,-4.9M401.2,747.9h7M404.7,744.4v7M402.3,745.4l4.9,4.9M402.3,750.4l4.9,-4.9M405.5,746.7h7M409,743.2v7M406.5,744.2l4.9,4.9M406.5,749.1l4.9,-4.9M409.8,745.4h7M413.3,741.9v7M410.8,742.9l4.9,4.9M410.8,747.9l4.9,-4.9M414.1,744.1h7M417.6,740.6v7M415.1,741.6l4.9,4.9M415.1,746.5l4.9,-4.9M418.3,742.7h7M421.8,739.2v7M419.4,740.2l4.9,4.9M419.4,745.2l4.9,-4.9M422.6,741.3h7M426.1,737.8v7M423.6,738.9l4.9,4.9M423.6,743.8l4.9,-4.9M426.9,740h7M430.4,736.5v7M427.9,737.5l4.9,4.9M427.9,742.4l4.9,-4.9M431.1,738.5h7M434.6,735v7M432.2,736.1l4.9,4.9M432.2,741l4.9,-4.9M435.4,737.1h7M438.9,733.6v7M436.4,734.6l4.9,4.9M436.4,739.6l4.9,-4.9M439.7,735.7h7M443.2,732.2v7M440.7,733.2l4.9,4.9M440.7,738.2l4.9,-4.9M444,734.2h7M447.5,730.7v7M445,731.7l4.9,4.9M445,736.7l4.9,-4.9M448.2,732.8h7M451.7,729.3v7M449.3,730.3l4.9,4.9M449.3,735.2l4.9,-4.9M452.5,731.3h7M456,727.8v7M453.5,728.8l4.9,4.9M453.5,733.8l4.9,-4.9M456.8,729.8h7M460.3,726.3v7M457.8,727.3l4.9,4.9M457.8,732.3l4.9,-4.9M461.1,728.4h7M464.6,724.9v7M462.1,725.9l4.9,4.9M462.1,730.8l4.9,-4.9M465.3,726.9h7M468.8,723.4v7M466.4,724.4l4.9,4.9M466.4,729.4l4.9,-4.9M469.6,725.4h7M473.1,721.9v7M470.6,722.9l4.9,4.9M470.6,727.9l4.9,-4.9M473.9,724h7M477.4,720.5v7M474.9,721.5l4.9,4.9M474.9,726.5l4.9,-4.9M478.2,722.5h7M481.7,719v7M479.2,720.1l4.9,4.9M479.2,725l4.9,-4.9M482.4,721.1h7M485.9,717.6v7M483.5,718.6l4.9,4.9M483.5,723.6l4.9,-4.9M486.7,719.7h7M490.2,716.2v7M487.7,717.2l4.9,4.9M487.7,722.2l4.9,-4.9M491,718.3h7M494.5,714.8v7M492,715.8l4.9,4.9M492,720.8l4.9,-4.9M495.3,716.8h7M498.8,713.3v7M496.3,714.4l4.9,4.9M496.3,719.3l4.9,-4.9M499.5,715.4h7M503,711.9v7M500.6,712.9l4.9,4.9M500.6,717.9l4.9,-4.9M503.8,713.9h7M507.3,710.4v7M504.8,711.5l4.9,4.9M504.8,716.4l4.9,-4.9M508.1,712.4h7M511.6,708.9v7M509.1,710l4.9,4.9M509.1,714.9l4.9,-4.9M512.4,710.9h7M515.9,707.4v7M513.4,708.4l4.9,4.9M513.4,713.4l4.9,-4.9M516.6,709.3h7M520.1,705.8v7M517.7,706.9l4.9,4.9M517.7,711.8l4.9,-4.9M520.9,707.7h7M524.4,704.2v7M521.9,705.3l4.9,4.9M521.9,710.2l4.9,-4.9M525.2,706.1h7M528.7,702.6v7M526.2,703.6l4.9,4.9M526.2,708.6l4.9,-4.9M529.5,704.4h7M533,700.9v7M530.5,701.9l4.9,4.9M530.5,706.9l4.9,-4.9M533.7,702.6h7M537.2,699.1v7M534.8,700.2l4.9,4.9M534.8,705.1l4.9,-4.9M538,700.8h7M541.5,697.3v7M539,698.3l4.9,4.9M539,703.3l4.9,-4.9M542.3,698.9h7M545.8,695.4v7M543.3,696.4l4.9,4.9M543.3,701.3l4.9,-4.9M546.5,696.8h7M550,693.3v7M547.6,694.4l4.9,4.9M547.6,699.3l4.9,-4.9M550.8,694.7h7M554.3,691.2v7M551.8,692.2l4.9,4.9M551.8,697.2l4.9,-4.9M555.1,692.5h7M558.6,689v7M556.1,690l4.9,4.9M556.1,695l4.9,-4.9M559.4,690.2h7M562.9,686.7v7M560.4,687.7l4.9,4.9M560.4,692.7l4.9,-4.9M563.6,687.8h7M567.1,684.3v7M564.7,685.4l4.9,4.9M564.7,690.3l4.9,-4.9M567.9,685.4h7M571.4,681.9v7M568.9,683l4.9,4.9M568.9,687.9l4.9,-4.9M572.2,683h7M575.7,679.5v7M573.2,680.5l4.9,4.9M573.2,685.5l4.9,-4.9M576.5,680.5h7M580,677v7M577.5,678.1l4.9,4.9M577.5,683l4.9,-4.9M580.7,678.1h7M584.2,674.6v7M581.8,675.6l4.9,4.9M581.8,680.5l4.9,-4.9M585,675.6h7M588.5,672.1v7M586,673.1l4.9,4.9M586,678.1l4.9,-4.9M589.3,673.2h7M592.8,669.7v7M590.3,670.7l4.9,4.9M590.3,675.6l4.9,-4.9M593.6,670.7h7M597.1,667.2v7M594.6,668.2l4.9,4.9M594.6,673.2l4.9,-4.9M597.8,668.1h7M601.3,664.6v7M598.9,665.7l4.9,4.9M598.9,670.6l4.9,-4.9M602.1,665.5h7M605.6,662v7M603.1,663l4.9,4.9M603.1,668l4.9,-4.9M606.4,662.9h7M609.9,659.4v7M607.4,660.4l4.9,4.9M607.4,665.4l4.9,-4.9M610.7,660.3h7M614.2,656.8v7M611.7,657.8l4.9,4.9M611.7,662.8l4.9,-4.9M614.9,657.8h7M618.4,654.3v7M616,655.3l4.9,4.9M616,660.2l4.9,-4.9M619.2,655.4h7M622.7,651.9v7M620.2,652.9l4.9,4.9M620.2,657.8l4.9,-4.9M623.5,653.1h7M627,649.6v7M624.5,650.6l4.9,4.9M624.5,655.5l4.9,-4.9M627.8,650.7h7M631.3,647.2v7M628.8,648.2l4.9,4.9M628.8,653.2l4.9,-4.9M632,648.4h7M635.5,644.9v7M633.1,645.9l4.9,4.9M633.1,650.9l4.9,-4.9M636.3,646.3h7M639.8,642.8v7M637.3,643.8l4.9,4.9M637.3,648.8l4.9,-4.9M640.6,644.5h7M644.1,641v7M641.6,642l4.9,4.9M641.6,647l4.9,-4.9M644.9,643.1h7M648.4,639.6v7M645.9,640.6l4.9,4.9M645.9,645.6l4.9,-4.9M649.1,641.8h7M652.6,638.3v7M650.1,639.3l4.9,4.9M650.1,644.3l4.9,-4.9M653.4,640.5h7M656.9,637v7M654.4,638.1l4.9,4.9M654.4,643l4.9,-4.9M657.7,639.5h7M661.2,636v7M658.7,637l4.9,4.9M658.7,642l4.9,-4.9M661.9,638.8h7M665.4,635.3v7M663,636.3l4.9,4.9M663,641.3l4.9,-4.9M666.2,638.5h7M669.7,635v7M667.2,636l4.9,4.9M667.2,641l4.9,-4.9M670.5,639h7M674,635.5v7M671.5,636.5l4.9,4.9M671.5,641.5l4.9,-4.9M674.8,640.3h7M678.3,636.8v7M675.8,637.8l4.9,4.9M675.8,642.7l4.9,-4.9M679,642h7M682.5,638.5v7M680.1,639.6l4.9,4.9M680.1,644.5l4.9,-4.9M683.3,644h7M686.8,640.5v7M684.3,641.6l4.9,4.9M684.3,646.5l4.9,-4.9M687.6,646.7h7M691.1,643.2v7M688.6,644.2l4.9,4.9M688.6,649.2l4.9,-4.9M691.9,650.5h7M695.4,647v7M692.9,648l4.9,4.9M692.9,653l4.9,-4.9M696.1,654.9h7M699.6,651.4v7M697.2,652.5l4.9,4.9M697.2,657.4l4.9,-4.9M700.4,659.7h7M703.9,656.2v7M701.4,657.2l4.9,4.9M701.4,662.2l4.9,-4.9M704.7,664.4h7M708.2,660.9v7M705.7,662l4.9,4.9M705.7,666.9l4.9,-4.9M709,668.9h7M712.5,665.4v7M710,666.5l4.9,4.9M710,671.4l4.9,-4.9M713.2,673.6h7M716.7,670.1v7M714.3,671.1l4.9,4.9M714.3,676.1l4.9,-4.9M717.5,678.4h7M721,674.9v7M718.5,675.9l4.9,4.9M718.5,680.9l4.9,-4.9M721.8,683.3h7M725.3,679.8v7M722.8,680.8l4.9,4.9M722.8,685.8l4.9,-4.9M726.1,688.3h7M729.6,684.8v7M727.1,685.8l4.9,4.9M727.1,690.8l4.9,-4.9M730.3,693.4h7M733.8,689.9v7M731.4,690.9l4.9,4.9M731.4,695.9l4.9,-4.9M734.6,698.5h7M738.1,695v7M735.6,696.1l4.9,4.9M735.6,701l4.9,-4.9M738.9,703.7h7M742.4,700.2v7M739.9,701.3l4.9,4.9M739.9,706.2l4.9,-4.9M743.2,709h7M746.7,705.5v7M744.2,706.5l4.9,4.9M744.2,711.4l4.9,-4.9M747.4,714.2h7M750.9,710.7v7M748.5,711.7l4.9,4.9M748.5,716.7l4.9,-4.9M751.7,719.5h7M755.2,716v7M752.7,717l4.9,4.9M752.7,722l4.9,-4.9M756,724.9h7M759.5,721.4v7M757,722.4l4.9,4.9M757,727.4l4.9,-4.9M760.2,730.4h7M763.7,726.9v7M761.3,727.9l4.9,4.9M761.3,732.9l4.9,-4.9M764.5,735.9h7M768,732.4v7M765.5,733.5l4.9,4.9M765.5,738.4l4.9,-4.9M768.8,741.6h7M772.3,738.1v7M769.8,739.2l4.9,4.9M769.8,744.1l4.9,-4.9M773.1,747.5h7M776.6,744v7M774.1,745l4.9,4.9M774.1,749.9l4.9,-4.9M777.3,753.4h7M780.8,749.9v7M778.4,751l4.9,4.9M778.4,755.9l4.9,-4.9M781.6,759.7h7M785.1,756.2v7M782.6,757.2l4.9,4.9M782.6,762.2l4.9,-4.9M785.9,766.1h7M789.4,762.6v7M786.9,763.7l4.9,4.9M786.9,768.6l4.9,-4.9M790.2,772.7h7M793.7,769.2v7M791.2,770.2l4.9,4.9M791.2,775.2l4.9,-4.9M794.4,779.3h7M797.9,775.8v7M795.5,776.9l4.9,4.9M795.5,781.8l4.9,-4.9M798.7,785.9h7M802.2,782.4v7M799.7,783.5l4.9,4.9M799.7,788.4l4.9,-4.9M803,792.4h7M806.5,788.9v7M804,789.9l4.9,4.9M804,794.9l4.9,-4.9M807.3,798.8h7M810.8,795.3v7M808.3,796.3l4.9,4.9M808.3,801.2l4.9,-4.9M811.5,805.1h7M815,801.6v7M812.6,802.7l4.9,4.9M812.6,807.6l4.9,-4.9M815.8,811.7h7M819.3,808.2v7M816.8,809.2l4.9,4.9M816.8,814.1l4.9,-4.9M820.1,818.5h7M823.6,815v7M821.1,816l4.9,4.9M821.1,821l4.9,-4.9M824.4,825.9h7M827.9,822.4v7M825.4,823.4l4.9,4.9M825.4,828.3l4.9,-4.9M828.6,833.8h7M832.1,830.3v7M829.7,831.4l4.9,4.9M829.7,836.3l4.9,-4.9M832.9,842.1h7M836.4,838.6v7M833.9,839.7l4.9,4.9M833.9,844.6l4.9,-4.9M837.2,850.3h7M840.7,846.8v7M838.2,847.8l4.9,4.9M838.2,852.8l4.9,-4.9M841.5,858.4h7M845,854.9v7M842.5,856l4.9,4.9M842.5,860.9l4.9,-4.9M845.7,867.3h7M849.2,863.8v7M846.8,864.8l4.9,4.9M846.8,869.8l4.9,-4.9M850,877.2h7M853.5,873.7v7M851,874.7l4.9,4.9M851,879.7l4.9,-4.9M854.3,888.1h7M857.8,884.6v7M855.3,885.7l4.9,4.9M855.3,890.6l4.9,-4.9M858.5,900.2h7M862,896.7v7M859.6,897.7l4.9,4.9M859.6,902.7l4.9,-4.9M862.8,913.7h7M866.3,910.2v7M863.8,911.2l4.9,4.9M863.8,916.2l4.9,-4.9M867.1,929.7h7M870.6,926.2v7M868.1,927.2l4.9,4.9M868.1,932.2l4.9,-4.9M871.4,946.9h7M874.9,943.4v7M872.4,944.4l4.9,4.9M872.4,949.4l4.9,-4.9M875.6,965h7M879.1,961.5v7M876.7,962.6l4.9,4.9M876.7,967.5l4.9,-4.9M879.9,985.2h7M883.4,981.7v7M880.9,982.8l4.9,4.9M880.9,987.7l4.9,-4.9M884.2,1023.9h7M887.7,1020.4v7M885.2,1021.4l4.9,4.9M885.2,1026.4l4.9,-4.9M905.6,1017.6h7M909.1,1014.1v7M906.6,1015.1l4.9,4.9M906.6,1020l4.9,-4.9M909.8,986.1h7M913.3,982.6v7M910.9,983.7l4.9,4.9M910.9,988.6l4.9,-4.9M914.1,962.6h7M917.6,959.1v7M915.1,960.1l4.9,4.9M915.1,965.1l4.9,-4.9M918.4,950.1h7M921.9,946.6v7M919.4,947.6l4.9,4.9M919.4,952.6l4.9,-4.9M922.7,938.1h7M926.2,934.6v7M923.7,935.6l4.9,4.9M923.7,940.6l4.9,-4.9M926.9,926.8h7M930.4,923.3v7M928,924.3l4.9,4.9M928,929.3l4.9,-4.9M931.2,918.4h7M934.7,914.9v7M932.2,915.9l4.9,4.9M932.2,920.9l4.9,-4.9M935.5,909.9h7M939,906.4v7M936.5,907.5l4.9,4.9M936.5,912.4l4.9,-4.9M939.8,901.6h7M943.3,898.1v7M940.8,899.2l4.9,4.9M940.8,904.1l4.9,-4.9M944,893.9h7M947.5,890.4v7M945.1,891.4l4.9,4.9M945.1,896.3l4.9,-4.9M948.3,887.4h7M951.8,883.9v7M949.3,885l4.9,4.9M949.3,889.9l4.9,-4.9M952.6,882h7M956.1,878.5v7M953.6,879.5l4.9,4.9M953.6,884.4l4.9,-4.9M956.9,876.3h7M960.4,872.8v7M957.9,873.8l4.9,4.9M957.9,878.8l4.9,-4.9M961.1,871.4h7M964.6,867.9v7M962.2,868.9l4.9,4.9M962.2,873.9l4.9,-4.9M965.4,867.5h7M968.9,864v7M966.4,865.1l4.9,4.9M966.4,870l4.9,-4.9" fill="none" stroke="#86223a" stroke-width="1.7"/>
<rect x="114.1" y="634.5" width="854.8" height="401.8" fill="none" stroke="#5c5c5c" stroke-width="1.2"/>
<path d="M114.1,1036.3v-9.2M114.1,634.5v9.2M256.6,1036.3v-9.2M256.6,634.5v9.2M399,1036.3v-9.2M399,634.5v9.2M541.5,1036.3v-9.2M541.5,634.5v9.2M684,1036.3v-9.2M684,634.5v9.2M826.4,1036.3v-9.2M826.4,634.5v9.2M968.9,1036.3v-9.2M968.9,634.5v9.2M114.1,634.5h9.2M968.9,634.5h-9.2M114.1,735h9.2M968.9,735h-9.2M114.1,835.4h9.2M968.9,835.4h-9.2M114.1,935.8h9.2M968.9,935.8h-9.2M114.1,1036.3h9.2M968.9,1036.3h-9.2" stroke="#3a3a3a" stroke-width="1.4" fill="none"/>
<text transform="translate(114.1,1083.1) scale(1,1.12)" font-size="38.3" text-anchor="middle" fill="#262626" stroke="#262626" stroke-width="0.2">1</text>
<text transform="translate(256.6,1083.1) scale(1,1.12)" font-size="38.3" text-anchor="middle" fill="#262626" stroke="#262626" stroke-width="0.2">1.5</text>
<text transform="translate(399,1083.1) scale(1,1.12)" font-size="38.3" text-anchor="middle" fill="#262626" stroke="#262626" stroke-width="0.2">2</text>
<text transform="translate(541.5,1083.1) scale(1,1.12)" font-size="38.3" text-anchor="middle" fill="#262626" stroke="#262626" stroke-width="0.2">2.5</text>
<text transform="translate(684,1083.1) scale(1,1.12)" font-size="38.3" text-anchor="middle" fill="#262626" stroke="#262626" stroke-width="0.2">3</text>
<text transform="translate(826.4,1083.1) scale(1,1.12)" font-size="38.3" text-anchor="middle" fill="#262626" stroke="#262626" stroke-width="0.2">3.5</text>
<text transform="translate(968.9,1083.1) scale(1,1.12)" font-size="38.3" text-anchor="middle" fill="#262626" stroke="#262626" stroke-width="0.2">4</text>
<text transform="translate(105.3,649.8) scale(1,1.12)" font-size="38.3" text-anchor="end" fill="#262626" stroke="#262626" stroke-width="0.2">0</text>
<text transform="translate(105.3,750.2) scale(1,1.12)" font-size="38.3" text-anchor="end" fill="#262626" stroke="#262626" stroke-width="0.2">-10</text>
<text transform="translate(105.3,850.7) scale(1,1.12)" font-size="38.3" text-anchor="end" fill="#262626" stroke="#262626" stroke-width="0.2">-20</text>
<text transform="translate(105.3,951.1) scale(1,1.12)" font-size="38.3" text-anchor="end" fill="#262626" stroke="#262626" stroke-width="0.2">-30</text>
<text transform="translate(105.3,1051.6) scale(1,1.12)" font-size="38.3" text-anchor="end" fill="#262626" stroke="#262626" stroke-width="0.2">-40</text>
<text transform="translate(541.8,1128) scale(1,1.1)" font-size="38.3" text-anchor="middle" fill="#000" stroke="#000" stroke-width="0.3">Frequency (GHz)</text>
<text transform="translate(26.7,910.1) scale(1,1.05) rotate(-90)" font-size="38.3" fill="#000" stroke="#000" stroke-width="0.3"><tspan x="-2.7" dy="-5.7" font-size="27">|</tspan><tspan x="2.6" dy="5.7">S</tspan><tspan x="26.2" dy="18.5" font-size="28">21</tspan><tspan x="58" dy="-24.2" font-size="27">|</tspan><tspan x="74" dy="5.7">(dB)</tspan></text>
<text transform="translate(484,1183.8) scale(1,1.05)" font-size="32" text-anchor="middle" fill="#111" stroke="#000" stroke-width="0.3">(b)</text>
<rect x="291.4" y="824.7" width="182.1" height="201.2" fill="#fff" stroke="#444" stroke-width="1"/>
<path d="M294.1,848.4h18.4" stroke="#0000ff" stroke-width="3.3" stroke-dasharray="12 8" fill="none"/>
<path d="M298.1,851.5L308.5,851.5L303.3,842.1ZM302.9,848.7L303.7,848.7L303.3,847.9Z" fill="#0000ff" fill-rule="evenodd"/>
<text transform="translate(315.1,864.4) scale(1,1.085)" font-size="41.2" fill="#000" stroke="#000" stroke-width="0.3">TE-0°</text>
<path d="M294.1,898.1h18.4" stroke="#7e2f8e" stroke-width="3.3" stroke-dasharray="12 8" fill="none"/>
<path d="M299.8,898.1h7M303.3,894.6v7M300.8,895.6l4.9,4.9M300.8,900.6l4.9,-4.9" fill="none" stroke="#7e2f8e" stroke-width="1.7"/>
<text transform="translate(315.1,914.1) scale(1,1.085)" font-size="41.2" fill="#000" stroke="#000" stroke-width="0.3">TE-30°</text>
<path d="M294.1,947.9h18.4" stroke="#ff0000" stroke-width="3.3" stroke-dasharray="12 8" fill="none"/>
<circle cx="303.3" cy="947.9" r="2.3" fill="none" stroke="#ff0000" stroke-width="2.7"/>
<text transform="translate(315.1,963.9) scale(1,1.085)" font-size="41.2" fill="#000" stroke="#000" stroke-width="0.3">TE-45°</text>
<path d="M294.1,997.6h18.4" stroke="#d27a88" stroke-width="3.3" stroke-dasharray="12 8" fill="none"/>
<path d="M299.8,997.6h7M303.3,994.1v7M300.8,995.1l4.9,4.9M300.8,1000.1l4.9,-4.9" fill="none" stroke="#d27a88" stroke-width="1.7"/>
<text transform="translate(315.1,1013.6) scale(1,1.085)" font-size="41.2" fill="#000" stroke="#000" stroke-width="0.3">TE-ECM</text>
<rect x="473.5" y="824.7" width="193.5" height="201.2" fill="#fff" stroke="#444" stroke-width="1"/>
<path d="M476.2,848.4h18.4" stroke="#000000" stroke-width="3.3" stroke-dasharray="12 8" fill="none"/>
<path d="M488.5,842.9L488.5,853.9L479.2,848.4ZM485.7,847.9L485.7,848.9L484.9,848.4Z" fill="#000000" fill-rule="evenodd"/>
<text transform="translate(498.4,864.4) scale(1,1.085)" font-size="41.2" fill="#000" stroke="#000" stroke-width="0.3">TM-0°</text>
<path d="M476.2,898.1h18.4" stroke="#008000" stroke-width="3.3" stroke-dasharray="12 8" fill="none"/>
<path d="M485.4,892L489.8,898.1L485.4,904.2L481,898.1ZM485.4,897.4L485.9,898.1L485.4,898.8L484.9,898.1Z" fill="#008000" fill-rule="evenodd"/>
<text transform="translate(498.4,914.1) scale(1,1.085)" font-size="41.2" fill="#000" stroke="#000" stroke-width="0.3">TM-30°</text>
<path d="M476.2,947.9h18.4" stroke="#12a5be" stroke-width="3.3" stroke-dasharray="12 8" fill="none"/>
<path d="M482.3,942.4L482.3,953.4L491.6,947.9ZM485.1,947.4L485.1,948.4L486,947.9Z" fill="#12a5be" fill-rule="evenodd"/>
<text transform="translate(498.4,963.9) scale(1,1.085)" font-size="41.2" fill="#000" stroke="#000" stroke-width="0.3">TM-45°</text>
<path d="M476.2,997.6h18.4" stroke="#86223a" stroke-width="3.3" stroke-dasharray="12 8" fill="none"/>
<path d="M481.9,997.6h7M485.4,994.1v7M482.9,995.1l4.9,4.9M482.9,1000.1l4.9,-4.9" fill="none" stroke="#86223a" stroke-width="1.7"/>
<text transform="translate(498.4,1013.6) scale(1,1.085)" font-size="41.2" fill="#000" stroke="#000" stroke-width="0.3">TM-ECM</text>
<clipPath id="c2"><rect x="114.1" y="1251" width="860" height="407.2"/></clipPath>
<path d="M257.3,1251.5V1657.7M400.6,1251.5V1657.7M543.8,1251.5V1657.7M687,1251.5V1657.7M830.3,1251.5V1657.7M114.1,1353H973.5M114.1,1454.6H973.5M114.1,1556.2H973.5" stroke="#dfdfdf" stroke-width="1" fill="none"/>
<path clip-path="url(#c2)" d="M114.1,1388.6L124.1,1384.6L134.2,1380.6L144.2,1376.7L154.2,1372.7L164.2,1368.7L174.3,1364.7L184.3,1360.7L194.3,1356.8L204.3,1352.8L214.4,1348.8L224.4,1344.9L234.4,1340.9L244.4,1336.9L254.5,1332.9L264.5,1328.8L274.5,1324.7L284.5,1320.6L294.6,1316.5L304.6,1312.4L314.6,1308.2L324.7,1304.1L334.7,1299.9L344.7,1295.7L354.7,1291.6L364.8,1287.4L374.8,1283.2L384.8,1279L394.8,1274.7L404.9,1270.4L414.9,1265.8L424.9,1262L434.9,1259.2L445,1257.1L455,1255.7L465,1255.6L475,1256.8L485.1,1259.3L495.1,1263L505.1,1267.5L515.2,1273.2L525.2,1279.6L535.2,1286.6L545.2,1294.2L555.3,1301.1L565.3,1307.9L575.3,1315.3L585.3,1324L595.4,1332.9L605.4,1341L615.4,1349.5L625.4,1359L635.5,1370.7L645.5,1382.7L655.5,1394.4L665.5,1406.5L675.6,1418.9L685.6,1436.3L695.6,1460.7L705.7,1500.3L715.7,1569.4L725.7,1482L735.7,1379.5L745.8,1297.2L755.8,1342.9L765.8,1382.5L775.8,1419.1L785.9,1449.5L795.9,1479L805.9,1512.5L815.9,1554.1L826,1628.3L836,1810L846,1606.9L856,1554.1L866.1,1524.7L876.1,1502.3L886.1,1484L896.2,1470.8L906.2,1458.7L916.2,1449.5L926.2,1440.4L936.3,1432.3L946.3,1424.1L956.3,1418L966.3,1411.9L976.4,1406.9" fill="none" stroke="#0000ff" stroke-width="3.3" stroke-dasharray="10.6 10.6"/>
<path d="M108.9,1391.7L119.3,1391.7L114.1,1382.3ZM113.7,1388.9L114.5,1388.9L114.1,1388.1ZM118.9,1387.7L129.3,1387.7L124.1,1378.3ZM123.7,1384.9L124.6,1384.9L124.1,1384.1ZM129,1383.7L139.4,1383.7L134.2,1374.3ZM133.7,1380.9L134.6,1380.9L134.2,1380.1ZM139,1379.7L149.4,1379.7L144.2,1370.3ZM143.7,1376.9L144.6,1376.9L144.2,1376.1ZM149,1375.7L159.4,1375.7L154.2,1366.3ZM153.8,1372.9L154.6,1372.9L154.2,1372.1ZM159,1371.8L169.4,1371.8L164.2,1362.4ZM163.8,1368.9L164.7,1368.9L164.2,1368.2ZM169.1,1367.8L179.5,1367.8L174.3,1358.4ZM173.8,1365L174.7,1365L174.3,1364.2ZM179.1,1363.8L189.5,1363.8L184.3,1354.4ZM183.8,1361L184.7,1361L184.3,1360.2ZM189.1,1359.8L199.5,1359.8L194.3,1350.4ZM193.9,1357L194.8,1357L194.3,1356.2ZM199.1,1355.9L209.5,1355.9L204.3,1346.5ZM203.9,1353.1L204.8,1353.1L204.3,1352.3ZM209.2,1351.9L219.6,1351.9L214.4,1342.5ZM213.9,1349.1L214.8,1349.1L214.4,1348.3ZM219.2,1347.9L229.6,1347.9L224.4,1338.5ZM223.9,1345.1L224.8,1345.1L224.4,1344.3ZM229.2,1344L239.6,1344L234.4,1334.6ZM234,1341.2L234.9,1341.2L234.4,1340.4ZM239.2,1340L249.6,1340L244.4,1330.6ZM244,1337.2L244.9,1337.2L244.4,1336.4ZM249.3,1335.9L259.7,1335.9L254.5,1326.5ZM254,1333.1L254.9,1333.1L254.5,1332.3ZM259.3,1331.9L269.7,1331.9L264.5,1322.5ZM264.1,1329.1L264.9,1329.1L264.5,1328.3ZM269.3,1327.8L279.7,1327.8L274.5,1318.4ZM274.1,1325L275,1325L274.5,1324.2ZM279.3,1323.7L289.7,1323.7L284.5,1314.3ZM284.1,1320.9L285,1320.9L284.5,1320.1ZM289.4,1319.6L299.8,1319.6L294.6,1310.2ZM294.1,1316.8L295,1316.8L294.6,1316ZM299.4,1315.4L309.8,1315.4L304.6,1306ZM304.2,1312.6L305,1312.6L304.6,1311.8ZM309.4,1311.3L319.8,1311.3L314.6,1301.9ZM314.2,1308.5L315.1,1308.5L314.6,1307.7ZM319.5,1307.1L329.9,1307.1L324.7,1297.7ZM324.2,1304.3L325.1,1304.3L324.7,1303.5ZM329.5,1303L339.9,1303L334.7,1293.6ZM334.2,1300.2L335.1,1300.2L334.7,1299.4ZM339.5,1298.8L349.9,1298.8L344.7,1289.4ZM344.3,1296L345.1,1296L344.7,1295.2ZM349.5,1294.6L359.9,1294.6L354.7,1285.2ZM354.3,1291.8L355.2,1291.8L354.7,1291ZM359.6,1290.4L370,1290.4L364.8,1281ZM364.3,1287.6L365.2,1287.6L364.8,1286.8ZM369.6,1286.2L380,1286.2L374.8,1276.8ZM374.3,1283.4L375.2,1283.4L374.8,1282.6ZM379.6,1282L390,1282L384.8,1272.6ZM384.4,1279.2L385.3,1279.2L384.8,1278.4ZM389.6,1277.8L400,1277.8L394.8,1268.4ZM394.4,1275L395.3,1275L394.8,1274.2ZM399.7,1273.5L410.1,1273.5L404.9,1264.1ZM404.4,1270.7L405.3,1270.7L404.9,1269.9ZM409.7,1268.9L420.1,1268.9L414.9,1259.5ZM414.4,1266.1L415.3,1266.1L414.9,1265.3ZM419.7,1265.1L430.1,1265.1L424.9,1255.7ZM424.5,1262.2L425.4,1262.2L424.9,1261.4ZM429.7,1262.3L440.1,1262.3L434.9,1252.9ZM434.5,1259.4L435.4,1259.4L434.9,1258.6ZM439.8,1260.2L450.2,1260.2L445,1250.8ZM444.5,1257.4L445.4,1257.4L445,1256.6ZM449.8,1258.7L460.2,1258.7L455,1249.3ZM454.6,1255.9L455.4,1255.9L455,1255.1ZM459.8,1258.6L470.2,1258.6L465,1249.2ZM464.6,1255.8L465.5,1255.8L465,1255ZM469.8,1259.9L480.2,1259.9L475,1250.5ZM474.6,1257.1L475.5,1257.1L475,1256.3ZM479.9,1262.4L490.3,1262.4L485.1,1253ZM484.6,1259.6L485.5,1259.6L485.1,1258.8ZM489.9,1266L500.3,1266L495.1,1256.6ZM494.7,1263.2L495.5,1263.2L495.1,1262.4ZM499.9,1270.6L510.3,1270.6L505.1,1261.2ZM504.7,1267.8L505.6,1267.8L505.1,1267ZM510,1276.2L520.4,1276.2L515.2,1266.8ZM514.7,1273.4L515.6,1273.4L515.2,1272.6ZM520,1282.6L530.4,1282.6L525.2,1273.2ZM524.7,1279.8L525.6,1279.8L525.2,1279ZM530,1289.7L540.4,1289.7L535.2,1280.3ZM534.8,1286.9L535.6,1286.9L535.2,1286.1ZM540,1297.2L550.4,1297.2L545.2,1287.8ZM544.8,1294.4L545.7,1294.4L545.2,1293.6ZM550.1,1304.2L560.5,1304.2L555.3,1294.8ZM554.8,1301.4L555.7,1301.4L555.3,1300.6ZM560.1,1311L570.5,1311L565.3,1301.6ZM564.8,1308.1L565.7,1308.1L565.3,1307.3ZM570.1,1318.3L580.5,1318.3L575.3,1308.9ZM574.9,1315.5L575.8,1315.5L575.3,1314.7ZM580.1,1327.1L590.5,1327.1L585.3,1317.7ZM584.9,1324.2L585.8,1324.2L585.3,1323.4ZM590.2,1336L600.6,1336L595.4,1326.6ZM594.9,1333.2L595.8,1333.2L595.4,1332.4ZM600.2,1344.1L610.6,1344.1L605.4,1334.7ZM604.9,1341.3L605.8,1341.3L605.4,1340.5ZM610.2,1352.6L620.6,1352.6L615.4,1343.2ZM615,1349.7L615.9,1349.7L615.4,1348.9ZM620.2,1362.1L630.6,1362.1L625.4,1352.7ZM625,1359.3L625.9,1359.3L625.4,1358.5ZM630.3,1373.7L640.7,1373.7L635.5,1364.3ZM635,1370.9L635.9,1370.9L635.5,1370.1ZM640.3,1385.7L650.7,1385.7L645.5,1376.3ZM645.1,1382.9L645.9,1382.9L645.5,1382.1ZM650.3,1397.4L660.7,1397.4L655.5,1388ZM655.1,1394.6L656,1394.6L655.5,1393.8ZM660.3,1409.6L670.7,1409.6L665.5,1400.2ZM665.1,1406.8L666,1406.8L665.5,1406ZM670.4,1421.9L680.8,1421.9L675.6,1412.5ZM675.1,1419.1L676,1419.1L675.6,1418.3ZM680.4,1439.4L690.8,1439.4L685.6,1430ZM685.2,1436.6L686,1436.6L685.6,1435.8ZM690.4,1463.8L700.8,1463.8L695.6,1454.4ZM695.2,1461L696.1,1461L695.6,1460.2ZM700.5,1503.4L710.9,1503.4L705.7,1494ZM705.2,1500.6L706.1,1500.6L705.7,1499.8ZM710.5,1572.4L720.9,1572.4L715.7,1563ZM715.2,1569.6L716.1,1569.6L715.7,1568.8ZM720.5,1485.1L730.9,1485.1L725.7,1475.7ZM725.3,1482.3L726.1,1482.3L725.7,1481.5ZM730.5,1382.5L740.9,1382.5L735.7,1373.1ZM735.3,1379.7L736.2,1379.7L735.7,1378.9ZM740.6,1300.3L751,1300.3L745.8,1290.9ZM745.3,1297.5L746.2,1297.5L745.8,1296.7ZM750.6,1346L761,1346L755.8,1336.6ZM755.3,1343.2L756.2,1343.2L755.8,1342.4ZM760.6,1385.6L771,1385.6L765.8,1376.2ZM765.4,1382.8L766.3,1382.8L765.8,1382ZM770.6,1422.1L781,1422.1L775.8,1412.7ZM775.4,1419.3L776.3,1419.3L775.8,1418.5ZM780.7,1452.6L791.1,1452.6L785.9,1443.2ZM785.4,1449.8L786.3,1449.8L785.9,1449ZM790.7,1482L801.1,1482L795.9,1472.6ZM795.4,1479.2L796.3,1479.2L795.9,1478.4ZM800.7,1515.5L811.1,1515.5L805.9,1506.1ZM805.5,1512.7L806.4,1512.7L805.9,1511.9ZM810.7,1557.2L821.1,1557.2L815.9,1547.8ZM815.5,1554.4L816.4,1554.4L815.9,1553.6ZM820.8,1631.3L831.2,1631.3L826,1621.9ZM825.5,1628.5L826.4,1628.5L826,1627.7ZM840.8,1610L851.2,1610L846,1600.6ZM845.6,1607.2L846.5,1607.2L846,1606.4ZM850.8,1557.2L861.2,1557.2L856,1547.8ZM855.6,1554.4L856.5,1554.4L856,1553.6ZM860.9,1527.7L871.3,1527.7L866.1,1518.3ZM865.6,1524.9L866.5,1524.9L866.1,1524.1ZM870.9,1505.4L881.3,1505.4L876.1,1496ZM875.7,1502.6L876.5,1502.6L876.1,1501.8ZM880.9,1487.1L891.3,1487.1L886.1,1477.7ZM885.7,1484.3L886.6,1484.3L886.1,1483.5ZM891,1473.9L901.4,1473.9L896.2,1464.5ZM895.7,1471.1L896.6,1471.1L896.2,1470.3ZM901,1461.7L911.4,1461.7L906.2,1452.3ZM905.7,1458.9L906.6,1458.9L906.2,1458.1ZM911,1452.6L921.4,1452.6L916.2,1443.2ZM915.8,1449.8L916.6,1449.8L916.2,1449ZM921,1443.4L931.4,1443.4L926.2,1434ZM925.8,1440.6L926.7,1440.6L926.2,1439.8ZM931.1,1435.3L941.5,1435.3L936.3,1425.9ZM935.8,1432.5L936.7,1432.5L936.3,1431.7ZM941.1,1427.2L951.5,1427.2L946.3,1417.8ZM945.8,1424.4L946.7,1424.4L946.3,1423.6ZM951.1,1421.1L961.5,1421.1L956.3,1411.7ZM955.9,1418.3L956.8,1418.3L956.3,1417.5ZM961.1,1415L971.5,1415L966.3,1405.6ZM965.9,1412.2L966.8,1412.2L966.3,1411.4Z" fill="#0000ff" fill-rule="evenodd"/>
<path clip-path="url(#c2)" d="M114.1,1399.8L124.1,1395.8L134.2,1391.9L144.2,1387.9L154.2,1384L164.2,1380L174.3,1375.9L184.3,1371.9L194.3,1367.8L204.3,1363.8L214.4,1359.7L224.4,1355.6L234.4,1351.4L244.4,1347.3L254.5,1343.1L264.5,1338.9L274.5,1334.7L284.5,1330.5L294.6,1326.3L304.6,1322L314.6,1317.7L324.7,1313.3L334.7,1308.9L344.7,1304.4L354.7,1299.9L364.8,1295.3L374.8,1290.7L384.8,1286L394.8,1281.2L404.9,1276.2L414.9,1270.8L424.9,1266L434.9,1262.1L445,1259.2L455,1257.2L465,1256.7L475,1257.9L485.1,1260.6L495.1,1265.4L505.1,1270.9L515.2,1277.3L525.2,1284.1L535.2,1291.7L545.2,1300.5L555.3,1308.8L565.3,1317L575.3,1325.4L585.3,1334.2L595.4,1343.2L605.4,1352.3L615.4,1361.9L625.4,1372.3L635.5,1383.6L645.5,1395.4L655.5,1407.1L665.5,1419.7L675.6,1434.3L685.6,1452.6L695.6,1479L705.7,1522.6L715.7,1587.6L725.7,1490.1L735.7,1392.7L745.8,1302.3L755.8,1351L765.8,1398.7L775.8,1434.3L785.9,1467.8L795.9,1499.3L805.9,1540.9L815.9,1601.8L826,1759.2L836,1631.3L846,1567.3L856,1530.8L866.1,1507.4L876.1,1489.1L886.1,1472.9L896.2,1459.7L906.2,1448.5L916.2,1438.4L926.2,1428.2L936.3,1419.1L946.3,1408.9L956.3,1399.8L966.3,1389.6L976.4,1381.5" fill="none" stroke="#7e2f8e" stroke-width="3.3" stroke-dasharray="10.6 10.6"/>
<path d="M110.6,1399.8h7M114.1,1396.3v7M111.6,1397.3l4.9,4.9M111.6,1402.2l4.9,-4.9M120.6,1395.8h7M124.1,1392.3v7M121.7,1393.4l4.9,4.9M121.7,1398.3l4.9,-4.9M130.7,1391.9h7M134.2,1388.4v7M131.7,1389.4l4.9,4.9M131.7,1394.4l4.9,-4.9M140.7,1387.9h7M144.2,1384.4v7M141.7,1385.5l4.9,4.9M141.7,1390.4l4.9,-4.9M150.7,1384h7M154.2,1380.5v7M151.7,1381.5l4.9,4.9M151.7,1386.4l4.9,-4.9M160.7,1380h7M164.2,1376.5v7M161.8,1377.5l4.9,4.9M161.8,1382.4l4.9,-4.9M170.8,1375.9h7M174.3,1372.4v7M171.8,1373.5l4.9,4.9M171.8,1378.4l4.9,-4.9M180.8,1371.9h7M184.3,1368.4v7M181.8,1369.4l4.9,4.9M181.8,1374.4l4.9,-4.9M190.8,1367.8h7M194.3,1364.3v7M191.8,1365.4l4.9,4.9M191.8,1370.3l4.9,-4.9M200.8,1363.8h7M204.3,1360.3v7M201.9,1361.3l4.9,4.9M201.9,1366.2l4.9,-4.9M210.9,1359.7h7M214.4,1356.2v7M211.9,1357.2l4.9,4.9M211.9,1362.1l4.9,-4.9M220.9,1355.6h7M224.4,1352.1v7M221.9,1353.1l4.9,4.9M221.9,1358l4.9,-4.9M230.9,1351.4h7M234.4,1347.9v7M231.9,1348.9l4.9,4.9M231.9,1353.9l4.9,-4.9M240.9,1347.3h7M244.4,1343.8v7M242,1344.8l4.9,4.9M242,1349.7l4.9,-4.9M251,1343.1h7M254.5,1339.6v7M252,1340.6l4.9,4.9M252,1345.6l4.9,-4.9M261,1338.9h7M264.5,1335.4v7M262,1336.4l4.9,4.9M262,1341.4l4.9,-4.9M271,1334.7h7M274.5,1331.2v7M272,1332.2l4.9,4.9M272,1337.2l4.9,-4.9M281,1330.5h7M284.5,1327v7M282.1,1328l4.9,4.9M282.1,1333l4.9,-4.9M291.1,1326.3h7M294.6,1322.8v7M292.1,1323.8l4.9,4.9M292.1,1328.7l4.9,-4.9M301.1,1322h7M304.6,1318.5v7M302.1,1319.5l4.9,4.9M302.1,1324.5l4.9,-4.9M311.1,1317.7h7M314.6,1314.2v7M312.2,1315.2l4.9,4.9M312.2,1320.2l4.9,-4.9M321.2,1313.3h7M324.7,1309.8v7M322.2,1310.8l4.9,4.9M322.2,1315.8l4.9,-4.9M331.2,1308.9h7M334.7,1305.4v7M332.2,1306.4l4.9,4.9M332.2,1311.4l4.9,-4.9M341.2,1304.4h7M344.7,1300.9v7M342.2,1301.9l4.9,4.9M342.2,1306.9l4.9,-4.9M351.2,1299.9h7M354.7,1296.4v7M352.3,1297.4l4.9,4.9M352.3,1302.4l4.9,-4.9M361.3,1295.3h7M364.8,1291.8v7M362.3,1292.9l4.9,4.9M362.3,1297.8l4.9,-4.9M371.3,1290.7h7M374.8,1287.2v7M372.3,1288.2l4.9,4.9M372.3,1293.2l4.9,-4.9M381.3,1286h7M384.8,1282.5v7M382.3,1283.5l4.9,4.9M382.3,1288.5l4.9,-4.9M391.3,1281.2h7M394.8,1277.7v7M392.4,1278.7l4.9,4.9M392.4,1283.7l4.9,-4.9M401.4,1276.2h7M404.9,1272.7v7M402.4,1273.7l4.9,4.9M402.4,1278.7l4.9,-4.9M411.4,1270.8h7M414.9,1267.3v7M412.4,1268.3l4.9,4.9M412.4,1273.2l4.9,-4.9M421.4,1266h7M424.9,1262.5v7M422.4,1263.5l4.9,4.9M422.4,1268.5l4.9,-4.9M431.4,1262.1h7M434.9,1258.6v7M432.5,1259.6l4.9,4.9M432.5,1264.6l4.9,-4.9M441.5,1259.2h7M445,1255.7v7M442.5,1256.7l4.9,4.9M442.5,1261.7l4.9,-4.9M451.5,1257.2h7M455,1253.7v7M452.5,1254.7l4.9,4.9M452.5,1259.7l4.9,-4.9M461.5,1256.7h7M465,1253.2v7M462.5,1254.2l4.9,4.9M462.5,1259.1l4.9,-4.9M471.5,1257.9h7M475,1254.4v7M472.6,1255.4l4.9,4.9M472.6,1260.4l4.9,-4.9M481.6,1260.6h7M485.1,1257.1v7M482.6,1258.2l4.9,4.9M482.6,1263.1l4.9,-4.9M491.6,1265.4h7M495.1,1261.9v7M492.6,1263l4.9,4.9M492.6,1267.9l4.9,-4.9M501.6,1270.9h7M505.1,1267.4v7M502.7,1268.4l4.9,4.9M502.7,1273.4l4.9,-4.9M511.7,1277.3h7M515.2,1273.8v7M512.7,1274.8l4.9,4.9M512.7,1279.7l4.9,-4.9M521.7,1284.1h7M525.2,1280.6v7M522.7,1281.6l4.9,4.9M522.7,1286.6l4.9,-4.9M531.7,1291.7h7M535.2,1288.2v7M532.7,1289.2l4.9,4.9M532.7,1294.1l4.9,-4.9M541.7,1300.5h7M545.2,1297v7M542.8,1298l4.9,4.9M542.8,1302.9l4.9,-4.9M551.8,1308.8h7M555.3,1305.3v7M552.8,1306.3l4.9,4.9M552.8,1311.3l4.9,-4.9M561.8,1317h7M565.3,1313.5v7M562.8,1314.5l4.9,4.9M562.8,1319.5l4.9,-4.9M571.8,1325.4h7M575.3,1321.9v7M572.8,1322.9l4.9,4.9M572.8,1327.9l4.9,-4.9M581.8,1334.2h7M585.3,1330.7v7M582.9,1331.7l4.9,4.9M582.9,1336.6l4.9,-4.9M591.9,1343.2h7M595.4,1339.7v7M592.9,1340.7l4.9,4.9M592.9,1345.6l4.9,-4.9M601.9,1352.3h7M605.4,1348.8v7M602.9,1349.8l4.9,4.9M602.9,1354.8l4.9,-4.9M611.9,1361.9h7M615.4,1358.4v7M612.9,1359.4l4.9,4.9M612.9,1364.3l4.9,-4.9M621.9,1372.3h7M625.4,1368.8v7M623,1369.8l4.9,4.9M623,1374.7l4.9,-4.9M632,1383.6h7M635.5,1380.1v7M633,1381.1l4.9,4.9M633,1386l4.9,-4.9M642,1395.4h7M645.5,1391.9v7M643,1392.9l4.9,4.9M643,1397.8l4.9,-4.9M652,1407.1h7M655.5,1403.6v7M653,1404.7l4.9,4.9M653,1409.6l4.9,-4.9M662,1419.7h7M665.5,1416.2v7M663.1,1417.2l4.9,4.9M663.1,1422.2l4.9,-4.9M672.1,1434.3h7M675.6,1430.8v7M673.1,1431.8l4.9,4.9M673.1,1436.8l4.9,-4.9M682.1,1452.6h7M685.6,1449.1v7M683.1,1450.1l4.9,4.9M683.1,1455l4.9,-4.9M692.1,1479h7M695.6,1475.5v7M693.2,1476.5l4.9,4.9M693.2,1481.4l4.9,-4.9M702.2,1522.6h7M705.7,1519.1v7M703.2,1520.2l4.9,4.9M703.2,1525.1l4.9,-4.9M712.2,1587.6h7M715.7,1584.1v7M713.2,1585.2l4.9,4.9M713.2,1590.1l4.9,-4.9M722.2,1490.1h7M725.7,1486.6v7M723.2,1487.7l4.9,4.9M723.2,1492.6l4.9,-4.9M732.2,1392.7h7M735.7,1389.2v7M733.3,1390.2l4.9,4.9M733.3,1395.1l4.9,-4.9M742.3,1302.3h7M745.8,1298.8v7M743.3,1299.8l4.9,4.9M743.3,1304.7l4.9,-4.9M752.3,1351h7M755.8,1347.5v7M753.3,1348.5l4.9,4.9M753.3,1353.5l4.9,-4.9M762.3,1398.7h7M765.8,1395.2v7M763.3,1396.3l4.9,4.9M763.3,1401.2l4.9,-4.9M772.3,1434.3h7M775.8,1430.8v7M773.4,1431.8l4.9,4.9M773.4,1436.8l4.9,-4.9M782.4,1467.8h7M785.9,1464.3v7M783.4,1465.3l4.9,4.9M783.4,1470.3l4.9,-4.9M792.4,1499.3h7M795.9,1495.8v7M793.4,1496.8l4.9,4.9M793.4,1501.8l4.9,-4.9M802.4,1540.9h7M805.9,1537.4v7M803.4,1538.4l4.9,4.9M803.4,1543.4l4.9,-4.9M812.4,1601.8h7M815.9,1598.3v7M813.5,1599.4l4.9,4.9M813.5,1604.3l4.9,-4.9M832.5,1631.3h7M836,1627.8v7M833.5,1628.8l4.9,4.9M833.5,1633.8l4.9,-4.9M842.5,1567.3h7M846,1563.8v7M843.5,1564.8l4.9,4.9M843.5,1569.8l4.9,-4.9M852.5,1530.8h7M856,1527.3v7M853.6,1528.3l4.9,4.9M853.6,1533.2l4.9,-4.9M862.6,1507.4h7M866.1,1503.9v7M863.6,1504.9l4.9,4.9M863.6,1509.9l4.9,-4.9M872.6,1489.1h7M876.1,1485.6v7M873.6,1486.7l4.9,4.9M873.6,1491.6l4.9,-4.9M882.6,1472.9h7M886.1,1469.4v7M883.7,1470.4l4.9,4.9M883.7,1475.4l4.9,-4.9M892.7,1459.7h7M896.2,1456.2v7M893.7,1457.2l4.9,4.9M893.7,1462.2l4.9,-4.9M902.7,1448.5h7M906.2,1445v7M903.7,1446l4.9,4.9M903.7,1451l4.9,-4.9M912.7,1438.4h7M916.2,1434.9v7M913.7,1435.9l4.9,4.9M913.7,1440.8l4.9,-4.9M922.7,1428.2h7M926.2,1424.7v7M923.8,1425.7l4.9,4.9M923.8,1430.7l4.9,-4.9M932.8,1419.1h7M936.3,1415.6v7M933.8,1416.6l4.9,4.9M933.8,1421.5l4.9,-4.9M942.8,1408.9h7M946.3,1405.4v7M943.8,1406.4l4.9,4.9M943.8,1411.4l4.9,-4.9M952.8,1399.8h7M956.3,1396.3v7M953.8,1397.3l4.9,4.9M953.8,1402.2l4.9,-4.9M962.8,1389.6h7M966.3,1386.1v7M963.9,1387.1l4.9,4.9M963.9,1392.1l4.9,-4.9" fill="none" stroke="#7e2f8e" stroke-width="1.7"/>
<path clip-path="url(#c2)" d="M114.1,1417L124.1,1412.9L134.2,1408.8L144.2,1404.7L154.2,1400.5L164.2,1396.4L174.3,1392.3L184.3,1388.2L194.3,1384.1L204.3,1380L214.4,1375.9L224.4,1371.9L234.4,1367.8L244.4,1363.6L254.5,1359.4L264.5,1355L274.5,1350.7L284.5,1346.2L294.6,1341.8L304.6,1337.2L314.6,1332.5L324.7,1327.7L334.7,1322.8L344.7,1317.9L354.7,1312.8L364.8,1307.6L374.8,1302.1L384.8,1296.2L394.8,1289.4L404.9,1283.2L414.9,1276.9L424.9,1271.1L434.9,1265.7L445,1260.7L455,1258.1L465,1256.6L475,1258.7L485.1,1262.4L495.1,1268.8L505.1,1276.7L515.2,1285L525.2,1293.5L535.2,1302.3L545.2,1311.2L555.3,1320.6L565.3,1331L575.3,1339.6L585.3,1350L595.4,1359.7L605.4,1368.5L615.4,1378.4L625.4,1388.6L635.5,1398.7L645.5,1409.6L655.5,1422.6L665.5,1436.9L675.6,1453.6L685.6,1474.9L695.6,1501.3L705.7,1549L715.7,1606.9L725.7,1502.3L735.7,1407.9L745.8,1308.4L755.8,1361.2L765.8,1414L775.8,1457.6L785.9,1492.2L795.9,1531.8L805.9,1583.6L815.9,1693.2L826,1779.6L836,1592.7L846,1550.1L856,1522.6L866.1,1502.3L876.1,1484.6L886.1,1470.8L896.2,1457.6L906.2,1445L916.2,1434.3L926.2,1423.1L936.3,1411.9L946.3,1400.8L956.3,1388.1L966.3,1372.3L976.4,1359.1" fill="none" stroke="#ff0000" stroke-width="3.3" stroke-dasharray="10.6 10.6"/>
<path d="M111.1,1417a2.95,2.95 0 1,0 5.9,0a2.95,2.95 0 1,0 -5.9,0M121.2,1412.9a2.95,2.95 0 1,0 5.9,0a2.95,2.95 0 1,0 -5.9,0M131.2,1408.8a2.95,2.95 0 1,0 5.9,0a2.95,2.95 0 1,0 -5.9,0M141.2,1404.7a2.95,2.95 0 1,0 5.9,0a2.95,2.95 0 1,0 -5.9,0M151.3,1400.5a2.95,2.95 0 1,0 5.9,0a2.95,2.95 0 1,0 -5.9,0M161.3,1396.4a2.95,2.95 0 1,0 5.9,0a2.95,2.95 0 1,0 -5.9,0M171.3,1392.3a2.95,2.95 0 1,0 5.9,0a2.95,2.95 0 1,0 -5.9,0M181.3,1388.2a2.95,2.95 0 1,0 5.9,0a2.95,2.95 0 1,0 -5.9,0M191.4,1384.1a2.95,2.95 0 1,0 5.9,0a2.95,2.95 0 1,0 -5.9,0M201.4,1380a2.95,2.95 0 1,0 5.9,0a2.95,2.95 0 1,0 -5.9,0M211.4,1375.9a2.95,2.95 0 1,0 5.9,0a2.95,2.95 0 1,0 -5.9,0M221.4,1371.9a2.95,2.95 0 1,0 5.9,0a2.95,2.95 0 1,0 -5.9,0M231.5,1367.8a2.95,2.95 0 1,0 5.9,0a2.95,2.95 0 1,0 -5.9,0M241.5,1363.6a2.95,2.95 0 1,0 5.9,0a2.95,2.95 0 1,0 -5.9,0M251.5,1359.4a2.95,2.95 0 1,0 5.9,0a2.95,2.95 0 1,0 -5.9,0M261.5,1355a2.95,2.95 0 1,0 5.9,0a2.95,2.95 0 1,0 -5.9,0M271.6,1350.7a2.95,2.95 0 1,0 5.9,0a2.95,2.95 0 1,0 -5.9,0M281.6,1346.2a2.95,2.95 0 1,0 5.9,0a2.95,2.95 0 1,0 -5.9,0M291.6,1341.8a2.95,2.95 0 1,0 5.9,0a2.95,2.95 0 1,0 -5.9,0M301.7,1337.2a2.95,2.95 0 1,0 5.9,0a2.95,2.95 0 1,0 -5.9,0M311.7,1332.5a2.95,2.95 0 1,0 5.9,0a2.95,2.95 0 1,0 -5.9,0M321.7,1327.7a2.95,2.95 0 1,0 5.9,0a2.95,2.95 0 1,0 -5.9,0M331.7,1322.8a2.95,2.95 0 1,0 5.9,0a2.95,2.95 0 1,0 -5.9,0M341.8,1317.9a2.95,2.95 0 1,0 5.9,0a2.95,2.95 0 1,0 -5.9,0M351.8,1312.8a2.95,2.95 0 1,0 5.9,0a2.95,2.95 0 1,0 -5.9,0M361.8,1307.6a2.95,2.95 0 1,0 5.9,0a2.95,2.95 0 1,0 -5.9,0M371.8,1302.1a2.95,2.95 0 1,0 5.9,0a2.95,2.95 0 1,0 -5.9,0M381.9,1296.2a2.95,2.95 0 1,0 5.9,0a2.95,2.95 0 1,0 -5.9,0M391.9,1289.4a2.95,2.95 0 1,0 5.9,0a2.95,2.95 0 1,0 -5.9,0M401.9,1283.2a2.95,2.95 0 1,0 5.9,0a2.95,2.95 0 1,0 -5.9,0M411.9,1276.9a2.95,2.95 0 1,0 5.9,0a2.95,2.95 0 1,0 -5.9,0M422,1271.1a2.95,2.95 0 1,0 5.9,0a2.95,2.95 0 1,0 -5.9,0M432,1265.7a2.95,2.95 0 1,0 5.9,0a2.95,2.95 0 1,0 -5.9,0M442,1260.7a2.95,2.95 0 1,0 5.9,0a2.95,2.95 0 1,0 -5.9,0M452,1258.1a2.95,2.95 0 1,0 5.9,0a2.95,2.95 0 1,0 -5.9,0M462.1,1256.6a2.95,2.95 0 1,0 5.9,0a2.95,2.95 0 1,0 -5.9,0M472.1,1258.7a2.95,2.95 0 1,0 5.9,0a2.95,2.95 0 1,0 -5.9,0M482.1,1262.4a2.95,2.95 0 1,0 5.9,0a2.95,2.95 0 1,0 -5.9,0M492.2,1268.8a2.95,2.95 0 1,0 5.9,0a2.95,2.95 0 1,0 -5.9,0M502.2,1276.7a2.95,2.95 0 1,0 5.9,0a2.95,2.95 0 1,0 -5.9,0M512.2,1285a2.95,2.95 0 1,0 5.9,0a2.95,2.95 0 1,0 -5.9,0M522.2,1293.5a2.95,2.95 0 1,0 5.9,0a2.95,2.95 0 1,0 -5.9,0M532.3,1302.3a2.95,2.95 0 1,0 5.9,0a2.95,2.95 0 1,0 -5.9,0M542.3,1311.2a2.95,2.95 0 1,0 5.9,0a2.95,2.95 0 1,0 -5.9,0M552.3,1320.6a2.95,2.95 0 1,0 5.9,0a2.95,2.95 0 1,0 -5.9,0M562.3,1331a2.95,2.95 0 1,0 5.9,0a2.95,2.95 0 1,0 -5.9,0M572.4,1339.6a2.95,2.95 0 1,0 5.9,0a2.95,2.95 0 1,0 -5.9,0M582.4,1350a2.95,2.95 0 1,0 5.9,0a2.95,2.95 0 1,0 -5.9,0M592.4,1359.7a2.95,2.95 0 1,0 5.9,0a2.95,2.95 0 1,0 -5.9,0M602.4,1368.5a2.95,2.95 0 1,0 5.9,0a2.95,2.95 0 1,0 -5.9,0M612.5,1378.4a2.95,2.95 0 1,0 5.9,0a2.95,2.95 0 1,0 -5.9,0M622.5,1388.6a2.95,2.95 0 1,0 5.9,0a2.95,2.95 0 1,0 -5.9,0M632.5,1398.7a2.95,2.95 0 1,0 5.9,0a2.95,2.95 0 1,0 -5.9,0M642.5,1409.6a2.95,2.95 0 1,0 5.9,0a2.95,2.95 0 1,0 -5.9,0M652.6,1422.6a2.95,2.95 0 1,0 5.9,0a2.95,2.95 0 1,0 -5.9,0M662.6,1436.9a2.95,2.95 0 1,0 5.9,0a2.95,2.95 0 1,0 -5.9,0M672.6,1453.6a2.95,2.95 0 1,0 5.9,0a2.95,2.95 0 1,0 -5.9,0M682.7,1474.9a2.95,2.95 0 1,0 5.9,0a2.95,2.95 0 1,0 -5.9,0M692.7,1501.3a2.95,2.95 0 1,0 5.9,0a2.95,2.95 0 1,0 -5.9,0M702.7,1549a2.95,2.95 0 1,0 5.9,0a2.95,2.95 0 1,0 -5.9,0M712.7,1606.9a2.95,2.95 0 1,0 5.9,0a2.95,2.95 0 1,0 -5.9,0M722.8,1502.3a2.95,2.95 0 1,0 5.9,0a2.95,2.95 0 1,0 -5.9,0M732.8,1407.9a2.95,2.95 0 1,0 5.9,0a2.95,2.95 0 1,0 -5.9,0M742.8,1308.4a2.95,2.95 0 1,0 5.9,0a2.95,2.95 0 1,0 -5.9,0M752.8,1361.2a2.95,2.95 0 1,0 5.9,0a2.95,2.95 0 1,0 -5.9,0M762.9,1414a2.95,2.95 0 1,0 5.9,0a2.95,2.95 0 1,0 -5.9,0M772.9,1457.6a2.95,2.95 0 1,0 5.9,0a2.95,2.95 0 1,0 -5.9,0M782.9,1492.2a2.95,2.95 0 1,0 5.9,0a2.95,2.95 0 1,0 -5.9,0M792.9,1531.8a2.95,2.95 0 1,0 5.9,0a2.95,2.95 0 1,0 -5.9,0M803,1583.6a2.95,2.95 0 1,0 5.9,0a2.95,2.95 0 1,0 -5.9,0M833,1592.7a2.95,2.95 0 1,0 5.9,0a2.95,2.95 0 1,0 -5.9,0M843.1,1550.1a2.95,2.95 0 1,0 5.9,0a2.95,2.95 0 1,0 -5.9,0M853.1,1522.6a2.95,2.95 0 1,0 5.9,0a2.95,2.95 0 1,0 -5.9,0M863.1,1502.3a2.95,2.95 0 1,0 5.9,0a2.95,2.95 0 1,0 -5.9,0M873.2,1484.6a2.95,2.95 0 1,0 5.9,0a2.95,2.95 0 1,0 -5.9,0M883.2,1470.8a2.95,2.95 0 1,0 5.9,0a2.95,2.95 0 1,0 -5.9,0M893.2,1457.6a2.95,2.95 0 1,0 5.9,0a2.95,2.95 0 1,0 -5.9,0M903.2,1445a2.95,2.95 0 1,0 5.9,0a2.95,2.95 0 1,0 -5.9,0M913.3,1434.3a2.95,2.95 0 1,0 5.9,0a2.95,2.95 0 1,0 -5.9,0M923.3,1423.1a2.95,2.95 0 1,0 5.9,0a2.95,2.95 0 1,0 -5.9,0M933.3,1411.9a2.95,2.95 0 1,0 5.9,0a2.95,2.95 0 1,0 -5.9,0M943.3,1400.8a2.95,2.95 0 1,0 5.9,0a2.95,2.95 0 1,0 -5.9,0M953.4,1388.1a2.95,2.95 0 1,0 5.9,0a2.95,2.95 0 1,0 -5.9,0M963.4,1372.3a2.95,2.95 0 1,0 5.9,0a2.95,2.95 0 1,0 -5.9,0" fill="none" stroke="#ff0000" stroke-width="3.3"/>
<path clip-path="url(#c2)" d="M114.1,1440.4L124.1,1437.2L134.2,1434L144.2,1430.8L154.2,1427.7L164.2,1424.6L174.3,1421.5L184.3,1418.5L194.3,1415.5L204.3,1412.4L214.4,1409.5L224.4,1406.5L234.4,1403.6L244.4,1400.8L254.5,1398L264.5,1395.3L274.5,1392.8L284.5,1390.3L294.6,1387.8L304.6,1385.4L314.6,1383L324.7,1380.5L334.7,1378L344.7,1375.5L354.7,1373.1L364.8,1370.6L374.8,1368.1L384.8,1365.5L394.8,1362.8L404.9,1360L414.9,1357.1L424.9,1354.1L434.9,1351L445,1347.8L455,1344.5L465,1341.2L475,1337.7L485.1,1334.2L495.1,1330.5L505.1,1326.7L515.2,1322.8L525.2,1318.9L535.2,1314.9L545.2,1310.8L555.3,1306.8L565.3,1302.6L575.3,1298.3L585.3,1293.8L595.4,1289L605.4,1284L615.4,1278.8L625.4,1273.4L635.5,1267.3L645.5,1261.7L655.5,1257.6L665.5,1255.3L675.6,1255.1L685.6,1258.9L695.6,1267.7L705.7,1279.9L715.7,1294.2L725.7,1310.4L735.7,1328.7L745.8,1347L755.8,1366.3L765.8,1387.6L775.8,1411.9L785.9,1439.4L795.9,1474.9L805.9,1520.6L815.9,1606.9L826,1652.6L836,1545L846,1501.3L856,1474.9L866.1,1454.6L876.1,1440.4L886.1,1427.7L896.2,1418L906.2,1408.9L916.2,1401.3L926.2,1394.7L936.3,1388.1L946.3,1382.5L956.3,1377.4L966.3,1372.3L976.4,1368.3" fill="none" stroke="#000000" stroke-width="3.3" stroke-dasharray="10.6 10.6"/>
<path d="M117.2,1434.9L117.2,1445.9L107.9,1440.4ZM114.4,1439.9L114.4,1440.9L113.6,1440.4ZM127.3,1431.7L127.3,1442.7L118,1437.2ZM124.4,1436.7L124.4,1437.6L123.6,1437.2ZM137.3,1428.5L137.3,1439.5L128,1434ZM134.4,1433.5L134.4,1434.4L133.6,1434ZM147.3,1425.3L147.3,1436.3L138,1430.8ZM144.4,1430.3L144.4,1431.3L143.7,1430.8ZM157.3,1422.2L157.3,1433.2L148,1427.7ZM154.5,1427.2L154.5,1428.1L153.7,1427.7ZM167.4,1419.1L167.4,1430.1L158.1,1424.6ZM164.5,1424.1L164.5,1425L163.7,1424.6ZM177.4,1416L177.4,1427L168.1,1421.5ZM174.5,1421L174.5,1422L173.7,1421.5ZM187.4,1413L187.4,1424L178.1,1418.5ZM184.6,1418L184.6,1418.9L183.8,1418.5ZM197.4,1410L197.4,1421L188.1,1415.5ZM194.6,1415L194.6,1415.9L193.8,1415.5ZM207.5,1406.9L207.5,1417.9L198.2,1412.4ZM204.6,1412L204.6,1412.9L203.8,1412.4ZM217.5,1404L217.5,1415L208.2,1409.5ZM214.6,1409L214.6,1409.9L213.8,1409.5ZM227.5,1401L227.5,1412L218.2,1406.5ZM224.7,1406L224.7,1407L223.9,1406.5ZM237.6,1398.1L237.6,1409.1L228.3,1403.6ZM234.7,1403.1L234.7,1404.1L233.9,1403.6ZM247.6,1395.3L247.6,1406.3L238.3,1400.8ZM244.7,1400.3L244.7,1401.2L243.9,1400.8ZM257.6,1392.5L257.6,1403.5L248.3,1398ZM254.7,1397.5L254.7,1398.5L253.9,1398ZM267.6,1389.8L267.6,1400.8L258.3,1395.3ZM264.8,1394.9L264.8,1395.8L264,1395.3ZM277.7,1387.3L277.7,1398.3L268.4,1392.8ZM274.8,1392.3L274.8,1393.2L274,1392.8ZM287.7,1384.8L287.7,1395.8L278.4,1390.3ZM284.8,1389.8L284.8,1390.8L284,1390.3ZM297.7,1382.3L297.7,1393.3L288.4,1387.8ZM294.8,1387.4L294.8,1388.3L294.1,1387.8ZM307.7,1379.9L307.7,1390.9L298.4,1385.4ZM304.9,1385L304.9,1385.9L304.1,1385.4ZM317.8,1377.5L317.8,1388.5L308.5,1383ZM314.9,1382.5L314.9,1383.5L314.1,1383ZM327.8,1375L327.8,1386L318.5,1380.5ZM324.9,1380.1L324.9,1381L324.1,1380.5ZM337.8,1372.5L337.8,1383.5L328.5,1378ZM334.9,1377.6L334.9,1378.5L334.2,1378ZM347.8,1370L347.8,1381L338.5,1375.5ZM345,1375.1L345,1376L344.2,1375.5ZM357.9,1367.6L357.9,1378.6L348.6,1373.1ZM355,1372.6L355,1373.5L354.2,1373.1ZM367.9,1365.1L367.9,1376.1L358.6,1370.6ZM365,1370.1L365,1371L364.2,1370.6ZM377.9,1362.6L377.9,1373.6L368.6,1368.1ZM375.1,1367.6L375.1,1368.5L374.3,1368.1ZM387.9,1360L387.9,1371L378.6,1365.5ZM385.1,1365L385.1,1365.9L384.3,1365.5ZM398,1357.3L398,1368.3L388.7,1362.8ZM395.1,1362.3L395.1,1363.2L394.3,1362.8ZM408,1354.5L408,1365.5L398.7,1360ZM405.1,1359.5L405.1,1360.4L404.3,1360ZM418,1351.6L418,1362.6L408.7,1357.1ZM415.2,1356.6L415.2,1357.5L414.4,1357.1ZM428.1,1348.6L428.1,1359.6L418.8,1354.1ZM425.2,1353.6L425.2,1354.5L424.4,1354.1ZM438.1,1345.5L438.1,1356.5L428.8,1351ZM435.2,1350.5L435.2,1351.4L434.4,1351ZM448.1,1342.3L448.1,1353.3L438.8,1347.8ZM445.2,1347.3L445.2,1348.3L444.4,1347.8ZM458.1,1339L458.1,1350L448.8,1344.5ZM455.3,1344.1L455.3,1345L454.5,1344.5ZM468.2,1335.7L468.2,1346.7L458.9,1341.2ZM465.3,1340.7L465.3,1341.6L464.5,1341.2ZM478.2,1332.2L478.2,1343.2L468.9,1337.7ZM475.3,1337.3L475.3,1338.2L474.5,1337.7ZM488.2,1328.7L488.2,1339.7L478.9,1334.2ZM485.3,1333.7L485.3,1334.6L484.6,1334.2ZM498.2,1325L498.2,1336L488.9,1330.5ZM495.4,1330L495.4,1331L494.6,1330.5ZM508.3,1321.2L508.3,1332.2L499,1326.7ZM505.4,1326.2L505.4,1327.2L504.6,1326.7ZM518.3,1317.3L518.3,1328.3L509,1322.8ZM515.4,1322.4L515.4,1323.3L514.6,1322.8ZM528.3,1313.4L528.3,1324.4L519,1318.9ZM525.4,1318.4L525.4,1319.3L524.7,1318.9ZM538.3,1309.4L538.3,1320.4L529,1314.9ZM535.5,1314.4L535.5,1315.3L534.7,1314.9ZM548.4,1305.3L548.4,1316.3L539.1,1310.8ZM545.5,1310.4L545.5,1311.3L544.7,1310.8ZM558.4,1301.3L558.4,1312.3L549.1,1306.8ZM555.5,1306.3L555.5,1307.2L554.7,1306.8ZM568.4,1297.1L568.4,1308.1L559.1,1302.6ZM565.6,1302.1L565.6,1303.1L564.8,1302.6ZM578.4,1292.8L578.4,1303.8L569.1,1298.3ZM575.6,1297.8L575.6,1298.8L574.8,1298.3ZM588.5,1288.3L588.5,1299.3L579.2,1293.8ZM585.6,1293.3L585.6,1294.3L584.8,1293.8ZM598.5,1283.5L598.5,1294.5L589.2,1289ZM595.6,1288.6L595.6,1289.5L594.8,1289ZM608.5,1278.5L608.5,1289.5L599.2,1284ZM605.7,1283.6L605.7,1284.5L604.9,1284ZM618.6,1273.3L618.6,1284.3L609.3,1278.8ZM615.7,1278.3L615.7,1279.3L614.9,1278.8ZM628.6,1267.9L628.6,1278.9L619.3,1273.4ZM625.7,1272.9L625.7,1273.8L624.9,1273.4ZM638.6,1261.8L638.6,1272.8L629.3,1267.3ZM635.7,1266.8L635.7,1267.7L634.9,1267.3ZM648.6,1256.2L648.6,1267.2L639.3,1261.7ZM645.8,1261.2L645.8,1262.1L645,1261.7ZM658.7,1252.1L658.7,1263.1L649.4,1257.6ZM655.8,1257.1L655.8,1258.1L655,1257.6ZM668.7,1249.8L668.7,1260.8L659.4,1255.3ZM665.8,1254.8L665.8,1255.7L665,1255.3ZM678.7,1249.6L678.7,1260.6L669.4,1255.1ZM675.8,1254.6L675.8,1255.5L675.1,1255.1ZM688.7,1253.4L688.7,1264.4L679.4,1258.9ZM685.9,1258.4L685.9,1259.4L685.1,1258.9ZM698.8,1262.2L698.8,1273.2L689.5,1267.7ZM695.9,1267.3L695.9,1268.2L695.1,1267.7ZM708.8,1274.4L708.8,1285.4L699.5,1279.9ZM705.9,1279.5L705.9,1280.4L705.1,1279.9ZM718.8,1288.7L718.8,1299.7L709.5,1294.2ZM715.9,1293.7L715.9,1294.6L715.2,1294.2ZM728.8,1304.9L728.8,1315.9L719.5,1310.4ZM726,1309.9L726,1310.9L725.2,1310.4ZM738.9,1323.2L738.9,1334.2L729.6,1328.7ZM736,1328.2L736,1329.1L735.2,1328.7ZM748.9,1341.5L748.9,1352.5L739.6,1347ZM746,1346.5L746,1347.4L745.2,1347ZM758.9,1360.8L758.9,1371.8L749.6,1366.3ZM756.1,1365.8L756.1,1366.7L755.3,1366.3ZM768.9,1382.1L768.9,1393.1L759.6,1387.6ZM766.1,1387.1L766.1,1388L765.3,1387.6ZM779,1406.4L779,1417.4L769.7,1411.9ZM776.1,1411.5L776.1,1412.4L775.3,1411.9ZM789,1433.9L789,1444.9L779.7,1439.4ZM786.1,1438.9L786.1,1439.8L785.3,1439.4ZM799,1469.4L799,1480.4L789.7,1474.9ZM796.2,1474.4L796.2,1475.4L795.4,1474.9ZM809.1,1515.1L809.1,1526.1L799.8,1520.6ZM806.2,1520.1L806.2,1521.1L805.4,1520.6ZM819.1,1601.4L819.1,1612.4L809.8,1606.9ZM816.2,1606.5L816.2,1607.4L815.4,1606.9ZM829.1,1647.1L829.1,1658.1L819.8,1652.6ZM826.2,1652.2L826.2,1653.1L825.4,1652.6ZM839.1,1539.5L839.1,1550.5L829.8,1545ZM836.3,1544.5L836.3,1545.4L835.5,1545ZM849.2,1495.8L849.2,1506.8L839.9,1501.3ZM846.3,1500.8L846.3,1501.8L845.5,1501.3ZM859.2,1469.4L859.2,1480.4L849.9,1474.9ZM856.3,1474.4L856.3,1475.4L855.5,1474.9ZM869.2,1449.1L869.2,1460.1L859.9,1454.6ZM866.3,1454.1L866.3,1455.1L865.6,1454.6ZM879.2,1434.9L879.2,1445.9L869.9,1440.4ZM876.4,1439.9L876.4,1440.9L875.6,1440.4ZM889.3,1422.2L889.3,1433.2L880,1427.7ZM886.4,1427.2L886.4,1428.2L885.6,1427.7ZM899.3,1412.5L899.3,1423.5L890,1418ZM896.4,1417.6L896.4,1418.5L895.6,1418ZM909.3,1403.4L909.3,1414.4L900,1408.9ZM906.4,1408.4L906.4,1409.4L905.7,1408.9ZM919.3,1395.8L919.3,1406.8L910,1401.3ZM916.5,1400.8L916.5,1401.8L915.7,1401.3ZM929.4,1389.2L929.4,1400.2L920.1,1394.7ZM926.5,1394.2L926.5,1395.2L925.7,1394.7ZM939.4,1382.6L939.4,1393.6L930.1,1388.1ZM936.5,1387.6L936.5,1388.6L935.7,1388.1ZM949.4,1377L949.4,1388L940.1,1382.5ZM946.6,1382L946.6,1383L945.8,1382.5ZM959.4,1371.9L959.4,1382.9L950.1,1377.4ZM956.6,1377L956.6,1377.9L955.8,1377.4ZM969.5,1366.8L969.5,1377.8L960.2,1372.3ZM966.6,1371.9L966.6,1372.8L965.8,1372.3Z" fill="#000000" fill-rule="evenodd"/>
<path clip-path="url(#c2)" d="M114.1,1426.2L124.1,1423L134.2,1419.8L144.2,1416.7L154.2,1413.5L164.2,1410.4L174.3,1407.3L184.3,1404.3L194.3,1401.2L204.3,1398.1L214.4,1395.1L224.4,1392L234.4,1389L244.4,1386.1L254.5,1383.3L264.5,1380.6L274.5,1377.9L284.5,1375.3L294.6,1372.8L304.6,1370.3L314.6,1367.8L324.7,1365.3L334.7,1362.8L344.7,1360.4L354.7,1358.1L364.8,1355.8L374.8,1353.4L384.8,1351L394.8,1348.5L404.9,1345.8L414.9,1343.1L424.9,1340.2L434.9,1337.3L445,1334.3L455,1331.1L465,1327.9L475,1324.6L485.1,1321L495.1,1317.3L505.1,1313.5L515.2,1309.6L525.2,1305.6L535.2,1301.6L545.2,1297.7L555.3,1293.7L565.3,1289.6L575.3,1285.6L585.3,1281.5L595.4,1277.5L605.4,1273.3L615.4,1269.3L625.4,1265.4L635.5,1261.6L645.5,1258.1L655.5,1255.4L665.5,1255.1L675.6,1258.6L685.6,1266.7L695.6,1279.9L705.7,1294.2L715.7,1310.4L725.7,1328.7L735.7,1349L745.8,1368.3L755.8,1393.7L765.8,1421.1L775.8,1456.6L785.9,1506.4L795.9,1603.9L805.9,1607.9L815.9,1519.6L826,1480L836,1454.6L846,1434.3L856,1419.1L866.1,1407.9L876.1,1397.7L886.1,1389.6L896.2,1382.5L906.2,1375.4L916.2,1370.3L926.2,1364.2L936.3,1359.1L946.3,1354.1L956.3,1350L966.3,1345.9L976.4,1342.4" fill="none" stroke="#008000" stroke-width="3.3" stroke-dasharray="10.6 10.6"/>
<path d="M114.1,1420.1L118.5,1426.2L114.1,1432.3L109.7,1426.2ZM114.1,1425.5L114.6,1426.2L114.1,1426.8L113.6,1426.2ZM124.1,1416.9L128.5,1423L124.1,1429.1L119.7,1423ZM124.1,1422.3L124.6,1423L124.1,1423.6L123.6,1423ZM134.2,1413.7L138.6,1419.8L134.2,1425.9L129.8,1419.8ZM134.2,1419.1L134.6,1419.8L134.2,1420.5L133.7,1419.8ZM144.2,1410.6L148.6,1416.7L144.2,1422.8L139.8,1416.7ZM144.2,1416L144.7,1416.7L144.2,1417.3L143.7,1416.7ZM154.2,1407.4L158.6,1413.5L154.2,1419.6L149.8,1413.5ZM154.2,1412.9L154.7,1413.5L154.2,1414.2L153.7,1413.5ZM164.2,1404.3L168.6,1410.4L164.2,1416.5L159.8,1410.4ZM164.2,1409.7L164.7,1410.4L164.2,1411.1L163.7,1410.4ZM174.3,1401.2L178.7,1407.3L174.3,1413.4L169.9,1407.3ZM174.3,1406.7L174.7,1407.3L174.3,1408L173.8,1407.3ZM184.3,1398.2L188.7,1404.3L184.3,1410.4L179.9,1404.3ZM184.3,1403.6L184.8,1404.3L184.3,1404.9L183.8,1404.3ZM194.3,1395.1L198.7,1401.2L194.3,1407.3L189.9,1401.2ZM194.3,1400.5L194.8,1401.2L194.3,1401.9L193.8,1401.2ZM204.3,1392L208.7,1398.1L204.3,1404.2L199.9,1398.1ZM204.3,1397.5L204.8,1398.1L204.3,1398.8L203.9,1398.1ZM214.4,1389L218.8,1395.1L214.4,1401.2L210,1395.1ZM214.4,1394.4L214.8,1395.1L214.4,1395.7L213.9,1395.1ZM224.4,1385.9L228.8,1392L224.4,1398.1L220,1392ZM224.4,1391.4L224.9,1392L224.4,1392.7L223.9,1392ZM234.4,1382.9L238.8,1389L234.4,1395.1L230,1389ZM234.4,1388.4L234.9,1389L234.4,1389.7L233.9,1389ZM244.4,1380L248.8,1386.1L244.4,1392.2L240,1386.1ZM244.4,1385.5L244.9,1386.1L244.4,1386.8L244,1386.1ZM254.5,1377.2L258.9,1383.3L254.5,1389.4L250.1,1383.3ZM254.5,1382.6L255,1383.3L254.5,1384L254,1383.3ZM264.5,1374.5L268.9,1380.6L264.5,1386.7L260.1,1380.6ZM264.5,1379.9L265,1380.6L264.5,1381.2L264,1380.6ZM274.5,1371.8L278.9,1377.9L274.5,1384L270.1,1377.9ZM274.5,1377.2L275,1377.9L274.5,1378.6L274,1377.9ZM284.5,1369.2L288.9,1375.3L284.5,1381.4L280.1,1375.3ZM284.5,1374.6L285,1375.3L284.5,1376L284.1,1375.3ZM294.6,1366.7L299,1372.8L294.6,1378.9L290.2,1372.8ZM294.6,1372.1L295.1,1372.8L294.6,1373.4L294.1,1372.8ZM304.6,1364.2L309,1370.3L304.6,1376.4L300.2,1370.3ZM304.6,1369.6L305.1,1370.3L304.6,1370.9L304.1,1370.3ZM314.6,1361.7L319,1367.8L314.6,1373.9L310.2,1367.8ZM314.6,1367.1L315.1,1367.8L314.6,1368.4L314.1,1367.8ZM324.7,1359.2L329.1,1365.3L324.7,1371.4L320.3,1365.3ZM324.7,1364.6L325.1,1365.3L324.7,1366L324.2,1365.3ZM334.7,1356.7L339.1,1362.8L334.7,1368.9L330.3,1362.8ZM334.7,1362.1L335.2,1362.8L334.7,1363.5L334.2,1362.8ZM344.7,1354.3L349.1,1360.4L344.7,1366.5L340.3,1360.4ZM344.7,1359.8L345.2,1360.4L344.7,1361.1L344.2,1360.4ZM354.7,1352L359.1,1358.1L354.7,1364.2L350.3,1358.1ZM354.7,1357.4L355.2,1358.1L354.7,1358.8L354.2,1358.1ZM364.8,1349.7L369.2,1355.8L364.8,1361.9L360.4,1355.8ZM364.8,1355.1L365.2,1355.8L364.8,1356.4L364.3,1355.8ZM374.8,1347.3L379.2,1353.4L374.8,1359.5L370.4,1353.4ZM374.8,1352.7L375.3,1353.4L374.8,1354.1L374.3,1353.4ZM384.8,1344.9L389.2,1351L384.8,1357.1L380.4,1351ZM384.8,1350.3L385.3,1351L384.8,1351.7L384.3,1351ZM394.8,1342.4L399.2,1348.5L394.8,1354.6L390.4,1348.5ZM394.8,1347.8L395.3,1348.5L394.8,1349.1L394.4,1348.5ZM404.9,1339.7L409.3,1345.8L404.9,1351.9L400.5,1345.8ZM404.9,1345.1L405.3,1345.8L404.9,1346.5L404.4,1345.8ZM414.9,1337L419.3,1343.1L414.9,1349.2L410.5,1343.1ZM414.9,1342.4L415.4,1343.1L414.9,1343.7L414.4,1343.1ZM424.9,1334.1L429.3,1340.2L424.9,1346.3L420.5,1340.2ZM424.9,1339.5L425.4,1340.2L424.9,1340.9L424.4,1340.2ZM434.9,1331.2L439.3,1337.3L434.9,1343.4L430.5,1337.3ZM434.9,1336.6L435.4,1337.3L434.9,1338L434.5,1337.3ZM445,1328.2L449.4,1334.3L445,1340.4L440.6,1334.3ZM445,1333.6L445.5,1334.3L445,1334.9L444.5,1334.3ZM455,1325L459.4,1331.1L455,1337.2L450.6,1331.1ZM455,1330.5L455.5,1331.1L455,1331.8L454.5,1331.1ZM465,1321.8L469.4,1327.9L465,1334L460.6,1327.9ZM465,1327.2L465.5,1327.9L465,1328.6L464.5,1327.9ZM475,1318.5L479.4,1324.6L475,1330.7L470.6,1324.6ZM475,1323.9L475.5,1324.6L475,1325.2L474.6,1324.6ZM485.1,1314.9L489.5,1321L485.1,1327.1L480.7,1321ZM485.1,1320.4L485.6,1321L485.1,1321.7L484.6,1321ZM495.1,1311.2L499.5,1317.3L495.1,1323.4L490.7,1317.3ZM495.1,1316.7L495.6,1317.3L495.1,1318L494.6,1317.3ZM505.1,1307.4L509.5,1313.5L505.1,1319.6L500.7,1313.5ZM505.1,1312.8L505.6,1313.5L505.1,1314.2L504.6,1313.5ZM515.2,1303.5L519.6,1309.6L515.2,1315.7L510.8,1309.6ZM515.2,1308.9L515.6,1309.6L515.2,1310.2L514.7,1309.6ZM525.2,1299.5L529.6,1305.6L525.2,1311.7L520.8,1305.6ZM525.2,1304.9L525.7,1305.6L525.2,1306.3L524.7,1305.6ZM535.2,1295.5L539.6,1301.6L535.2,1307.7L530.8,1301.6ZM535.2,1300.9L535.7,1301.6L535.2,1302.3L534.7,1301.6ZM545.2,1291.6L549.6,1297.7L545.2,1303.8L540.8,1297.7ZM545.2,1297L545.7,1297.7L545.2,1298.3L544.7,1297.7ZM555.3,1287.6L559.7,1293.7L555.3,1299.8L550.9,1293.7ZM555.3,1293L555.7,1293.7L555.3,1294.3L554.8,1293.7ZM565.3,1283.5L569.7,1289.6L565.3,1295.7L560.9,1289.6ZM565.3,1289L565.8,1289.6L565.3,1290.3L564.8,1289.6ZM575.3,1279.5L579.7,1285.6L575.3,1291.7L570.9,1285.6ZM575.3,1284.9L575.8,1285.6L575.3,1286.2L574.8,1285.6ZM585.3,1275.4L589.7,1281.5L585.3,1287.6L580.9,1281.5ZM585.3,1280.9L585.8,1281.5L585.3,1282.2L584.9,1281.5ZM595.4,1271.4L599.8,1277.5L595.4,1283.6L591,1277.5ZM595.4,1276.8L595.8,1277.5L595.4,1278.1L594.9,1277.5ZM605.4,1267.2L609.8,1273.3L605.4,1279.4L601,1273.3ZM605.4,1272.7L605.9,1273.3L605.4,1274L604.9,1273.3ZM615.4,1263.2L619.8,1269.3L615.4,1275.4L611,1269.3ZM615.4,1268.6L615.9,1269.3L615.4,1270L614.9,1269.3ZM625.4,1259.3L629.8,1265.4L625.4,1271.5L621,1265.4ZM625.4,1264.7L625.9,1265.4L625.4,1266.1L625,1265.4ZM635.5,1255.5L639.9,1261.6L635.5,1267.7L631.1,1261.6ZM635.5,1260.9L636,1261.6L635.5,1262.2L635,1261.6ZM645.5,1252L649.9,1258.1L645.5,1264.2L641.1,1258.1ZM645.5,1257.4L646,1258.1L645.5,1258.8L645,1258.1ZM655.5,1249.3L659.9,1255.4L655.5,1261.5L651.1,1255.4ZM655.5,1254.7L656,1255.4L655.5,1256L655,1255.4ZM665.5,1249L669.9,1255.1L665.5,1261.2L661.1,1255.1ZM665.5,1254.4L666,1255.1L665.5,1255.7L665.1,1255.1ZM675.6,1252.5L680,1258.6L675.6,1264.7L671.2,1258.6ZM675.6,1257.9L676.1,1258.6L675.6,1259.3L675.1,1258.6ZM685.6,1260.6L690,1266.7L685.6,1272.8L681.2,1266.7ZM685.6,1266.1L686.1,1266.7L685.6,1267.4L685.1,1266.7ZM695.6,1273.8L700,1279.9L695.6,1286L691.2,1279.9ZM695.6,1279.3L696.1,1279.9L695.6,1280.6L695.1,1279.9ZM705.7,1288.1L710.1,1294.2L705.7,1300.3L701.3,1294.2ZM705.7,1293.5L706.1,1294.2L705.7,1294.8L705.2,1294.2ZM715.7,1304.3L720.1,1310.4L715.7,1316.5L711.3,1310.4ZM715.7,1309.7L716.2,1310.4L715.7,1311.1L715.2,1310.4ZM725.7,1322.6L730.1,1328.7L725.7,1334.8L721.3,1328.7ZM725.7,1328L726.2,1328.7L725.7,1329.3L725.2,1328.7ZM735.7,1342.9L740.1,1349L735.7,1355.1L731.3,1349ZM735.7,1348.3L736.2,1349L735.7,1349.7L735.2,1349ZM745.8,1362.2L750.2,1368.3L745.8,1374.4L741.4,1368.3ZM745.8,1367.6L746.2,1368.3L745.8,1369L745.3,1368.3ZM755.8,1387.6L760.2,1393.7L755.8,1399.8L751.4,1393.7ZM755.8,1393L756.3,1393.7L755.8,1394.3L755.3,1393.7ZM765.8,1415L770.2,1421.1L765.8,1427.2L761.4,1421.1ZM765.8,1420.4L766.3,1421.1L765.8,1421.8L765.3,1421.1ZM775.8,1450.5L780.2,1456.6L775.8,1462.7L771.4,1456.6ZM775.8,1456L776.3,1456.6L775.8,1457.3L775.4,1456.6ZM785.9,1500.3L790.3,1506.4L785.9,1512.5L781.5,1506.4ZM785.9,1505.7L786.3,1506.4L785.9,1507.1L785.4,1506.4ZM795.9,1597.8L800.3,1603.9L795.9,1610L791.5,1603.9ZM795.9,1603.2L796.4,1603.9L795.9,1604.5L795.4,1603.9ZM805.9,1601.8L810.3,1607.9L805.9,1614L801.5,1607.9ZM805.9,1607.3L806.4,1607.9L805.9,1608.6L805.4,1607.9ZM815.9,1513.5L820.3,1519.6L815.9,1525.7L811.5,1519.6ZM815.9,1518.9L816.4,1519.6L815.9,1520.3L815.5,1519.6ZM826,1473.9L830.4,1480L826,1486.1L821.6,1480ZM826,1479.3L826.5,1480L826,1480.7L825.5,1480ZM836,1448.5L840.4,1454.6L836,1460.7L831.6,1454.6ZM836,1453.9L836.5,1454.6L836,1455.3L835.5,1454.6ZM846,1428.2L850.4,1434.3L846,1440.4L841.6,1434.3ZM846,1433.6L846.5,1434.3L846,1435L845.5,1434.3ZM856,1413L860.4,1419.1L856,1425.2L851.6,1419.1ZM856,1418.4L856.5,1419.1L856,1419.7L855.6,1419.1ZM866.1,1401.8L870.5,1407.9L866.1,1414L861.7,1407.9ZM866.1,1407.2L866.6,1407.9L866.1,1408.6L865.6,1407.9ZM876.1,1391.6L880.5,1397.7L876.1,1403.8L871.7,1397.7ZM876.1,1397.1L876.6,1397.7L876.1,1398.4L875.6,1397.7ZM886.1,1383.5L890.5,1389.6L886.1,1395.7L881.7,1389.6ZM886.1,1388.9L886.6,1389.6L886.1,1390.3L885.6,1389.6ZM896.2,1376.4L900.6,1382.5L896.2,1388.6L891.8,1382.5ZM896.2,1381.8L896.6,1382.5L896.2,1383.2L895.7,1382.5ZM906.2,1369.3L910.6,1375.4L906.2,1381.5L901.8,1375.4ZM906.2,1374.7L906.7,1375.4L906.2,1376.1L905.7,1375.4ZM916.2,1364.2L920.6,1370.3L916.2,1376.4L911.8,1370.3ZM916.2,1369.6L916.7,1370.3L916.2,1371L915.7,1370.3ZM926.2,1358.1L930.6,1364.2L926.2,1370.3L921.8,1364.2ZM926.2,1363.5L926.7,1364.2L926.2,1364.9L925.7,1364.2ZM936.3,1353L940.7,1359.1L936.3,1365.2L931.9,1359.1ZM936.3,1358.5L936.7,1359.1L936.3,1359.8L935.8,1359.1ZM946.3,1348L950.7,1354.1L946.3,1360.2L941.9,1354.1ZM946.3,1353.4L946.8,1354.1L946.3,1354.7L945.8,1354.1ZM956.3,1343.9L960.7,1350L956.3,1356.1L951.9,1350ZM956.3,1349.3L956.8,1350L956.3,1350.7L955.8,1350ZM966.3,1339.8L970.7,1345.9L966.3,1352L961.9,1345.9ZM966.3,1345.3L966.8,1345.9L966.3,1346.6L965.9,1345.9Z" fill="#008000" fill-rule="evenodd"/>
<path clip-path="url(#c2)" d="M114.1,1408.4L124.1,1405.1L134.2,1401.9L144.2,1398.8L154.2,1395.7L164.2,1392.7L174.3,1389.8L184.3,1387L194.3,1384.2L204.3,1381.6L214.4,1379L224.4,1376.5L234.4,1374.1L244.4,1371.6L254.5,1369L264.5,1366.4L274.5,1363.8L284.5,1361.1L294.6,1358.4L304.6,1355.8L314.6,1353.2L324.7,1350.6L334.7,1348.1L344.7,1345.7L354.7,1343.3L364.8,1341L374.8,1338.7L384.8,1336.3L394.8,1333.7L404.9,1331.1L414.9,1328.2L424.9,1325.1L434.9,1322L445,1318.8L455,1315.6L465,1312.5L475,1309.5L485.1,1306.5L495.1,1303.7L505.1,1300.8L515.2,1297.9L525.2,1295L535.2,1291.9L545.2,1288.6L555.3,1285L565.3,1281.1L575.3,1277.2L585.3,1273.4L595.4,1269.6L605.4,1265.8L615.4,1262.1L625.4,1258.8L635.5,1256.1L645.5,1254.9L655.5,1256.1L665.5,1260.6L675.6,1266.7L685.6,1275.9L695.6,1288.1L705.7,1303.3L715.7,1320.6L725.7,1341.9L735.7,1363.2L745.8,1390.6L755.8,1423.1L765.8,1467.8L775.8,1541.9L785.9,1622.2L795.9,1512.5L805.9,1467.8L815.9,1440.4L826,1418L836,1401.8L846,1389.6L856,1379.5L866.1,1370.8L876.1,1363.2L886.1,1357.1L896.2,1351L906.2,1344.9L916.2,1339.8L926.2,1335.3L936.3,1331.2L946.3,1326.6L956.3,1323.6L966.3,1320.6L976.4,1317.5" fill="none" stroke="#12a5be" stroke-width="3.3" stroke-dasharray="10.6 10.6"/>
<path d="M111,1402.9L111,1413.9L120.3,1408.4ZM113.8,1407.8L113.8,1408.9L114.7,1408.4ZM121,1399.6L121,1410.6L130.3,1405.1ZM123.8,1404.6L123.8,1405.7L124.7,1405.1ZM131,1396.4L131,1407.4L140.3,1401.9ZM133.8,1401.4L133.8,1402.5L134.8,1401.9ZM141,1393.3L141,1404.3L150.3,1398.8ZM143.9,1398.2L143.9,1399.3L144.8,1398.8ZM151.1,1390.2L151.1,1401.2L160.4,1395.7ZM153.9,1395.2L153.9,1396.3L154.8,1395.7ZM161.1,1387.2L161.1,1398.2L170.4,1392.7ZM163.9,1392.2L163.9,1393.3L164.8,1392.7ZM171.1,1384.3L171.1,1395.3L180.4,1389.8ZM173.9,1389.2L173.9,1390.3L174.9,1389.8ZM181.1,1381.5L181.1,1392.5L190.4,1387ZM184,1386.4L184,1387.5L184.9,1387ZM191.2,1378.7L191.2,1389.7L200.5,1384.2ZM194,1383.7L194,1384.8L194.9,1384.2ZM201.2,1376.1L201.2,1387.1L210.5,1381.6ZM204,1381L204,1382.1L205,1381.6ZM211.2,1373.5L211.2,1384.5L220.5,1379ZM214,1378.5L214,1379.6L215,1379ZM221.3,1371L221.3,1382L230.6,1376.5ZM224.1,1376L224.1,1377.1L225,1376.5ZM231.3,1368.6L231.3,1379.6L240.6,1374.1ZM234.1,1373.5L234.1,1374.6L235,1374.1ZM241.3,1366.1L241.3,1377.1L250.6,1371.6ZM244.1,1371L244.1,1372.1L245.1,1371.6ZM251.3,1363.5L251.3,1374.5L260.6,1369ZM254.2,1368.5L254.2,1369.6L255.1,1369ZM261.4,1360.9L261.4,1371.9L270.7,1366.4ZM264.2,1365.9L264.2,1367L265.1,1366.4ZM271.4,1358.3L271.4,1369.3L280.7,1363.8ZM274.2,1363.2L274.2,1364.3L275.1,1363.8ZM281.4,1355.6L281.4,1366.6L290.7,1361.1ZM284.2,1360.6L284.2,1361.7L285.2,1361.1ZM291.4,1352.9L291.4,1363.9L300.7,1358.4ZM294.3,1357.9L294.3,1359L295.2,1358.4ZM301.5,1350.3L301.5,1361.3L310.8,1355.8ZM304.3,1355.2L304.3,1356.3L305.2,1355.8ZM311.5,1347.7L311.5,1358.7L320.8,1353.2ZM314.3,1352.6L314.3,1353.7L315.2,1353.2ZM321.5,1345.1L321.5,1356.1L330.8,1350.6ZM324.3,1350L324.3,1351.1L325.3,1350.6ZM331.5,1342.6L331.5,1353.6L340.8,1348.1ZM334.4,1347.5L334.4,1348.6L335.3,1348.1ZM341.6,1340.2L341.6,1351.2L350.9,1345.7ZM344.4,1345.1L344.4,1346.2L345.3,1345.7ZM351.6,1337.8L351.6,1348.8L360.9,1343.3ZM354.4,1342.8L354.4,1343.9L355.3,1343.3ZM361.6,1335.5L361.6,1346.5L370.9,1341ZM364.4,1340.5L364.4,1341.6L365.4,1341ZM371.6,1333.2L371.6,1344.2L380.9,1338.7ZM374.5,1338.1L374.5,1339.2L375.4,1338.7ZM381.7,1330.8L381.7,1341.8L391,1336.3ZM384.5,1335.7L384.5,1336.8L385.4,1336.3ZM391.7,1328.2L391.7,1339.2L401,1333.7ZM394.5,1333.2L394.5,1334.3L395.5,1333.7ZM401.7,1325.6L401.7,1336.6L411,1331.1ZM404.5,1330.5L404.5,1331.6L405.5,1331.1ZM411.8,1322.7L411.8,1333.7L421.1,1328.2ZM414.6,1327.6L414.6,1328.7L415.5,1328.2ZM421.8,1319.6L421.8,1330.6L431.1,1325.1ZM424.6,1324.6L424.6,1325.7L425.5,1325.1ZM431.8,1316.5L431.8,1327.5L441.1,1322ZM434.6,1321.5L434.6,1322.6L435.6,1322ZM441.8,1313.3L441.8,1324.3L451.1,1318.8ZM444.7,1318.3L444.7,1319.4L445.6,1318.8ZM451.9,1310.1L451.9,1321.1L461.2,1315.6ZM454.7,1315.1L454.7,1316.2L455.6,1315.6ZM461.9,1307L461.9,1318L471.2,1312.5ZM464.7,1311.9L464.7,1313L465.6,1312.5ZM471.9,1304L471.9,1315L481.2,1309.5ZM474.7,1308.9L474.7,1310L475.7,1309.5ZM481.9,1301L481.9,1312L491.2,1306.5ZM484.8,1306L484.8,1307.1L485.7,1306.5ZM492,1298.2L492,1309.2L501.3,1303.7ZM494.8,1303.1L494.8,1304.2L495.7,1303.7ZM502,1295.3L502,1306.3L511.3,1300.8ZM504.8,1300.3L504.8,1301.4L505.7,1300.8ZM512,1292.4L512,1303.4L521.3,1297.9ZM514.8,1297.4L514.8,1298.5L515.8,1297.9ZM522,1289.5L522,1300.5L531.3,1295ZM524.9,1294.4L524.9,1295.5L525.8,1295ZM532.1,1286.4L532.1,1297.4L541.4,1291.9ZM534.9,1291.3L534.9,1292.4L535.8,1291.9ZM542.1,1283.1L542.1,1294.1L551.4,1288.6ZM544.9,1288L544.9,1289.1L545.8,1288.6ZM552.1,1279.5L552.1,1290.5L561.4,1285ZM554.9,1284.4L554.9,1285.5L555.9,1285ZM562.1,1275.6L562.1,1286.6L571.4,1281.1ZM565,1280.6L565,1281.7L565.9,1281.1ZM572.2,1271.7L572.2,1282.7L581.5,1277.2ZM575,1276.7L575,1277.8L575.9,1277.2ZM582.2,1267.9L582.2,1278.9L591.5,1273.4ZM585,1272.8L585,1273.9L586,1273.4ZM592.2,1264.1L592.2,1275.1L601.5,1269.6ZM595.1,1269L595.1,1270.1L596,1269.6ZM602.3,1260.3L602.3,1271.3L611.6,1265.8ZM605.1,1265.2L605.1,1266.3L606,1265.8ZM612.3,1256.6L612.3,1267.6L621.6,1262.1ZM615.1,1261.6L615.1,1262.7L616,1262.1ZM622.3,1253.3L622.3,1264.3L631.6,1258.8ZM625.1,1258.3L625.1,1259.4L626.1,1258.8ZM632.3,1250.6L632.3,1261.6L641.6,1256.1ZM635.2,1255.5L635.2,1256.6L636.1,1256.1ZM642.4,1249.4L642.4,1260.4L651.7,1254.9ZM645.2,1254.3L645.2,1255.4L646.1,1254.9ZM652.4,1250.6L652.4,1261.6L661.7,1256.1ZM655.2,1255.5L655.2,1256.6L656.1,1256.1ZM662.4,1255.1L662.4,1266.1L671.7,1260.6ZM665.2,1260.1L665.2,1261.2L666.2,1260.6ZM672.4,1261.2L672.4,1272.2L681.7,1266.7ZM675.3,1266.2L675.3,1267.3L676.2,1266.7ZM682.5,1270.4L682.5,1281.4L691.8,1275.9ZM685.3,1275.3L685.3,1276.4L686.2,1275.9ZM692.5,1282.6L692.5,1293.6L701.8,1288.1ZM695.3,1287.5L695.3,1288.6L696.2,1288.1ZM702.5,1297.8L702.5,1308.8L711.8,1303.3ZM705.3,1302.7L705.3,1303.8L706.3,1303.3ZM712.5,1315.1L712.5,1326.1L721.8,1320.6ZM715.4,1320L715.4,1321.1L716.3,1320.6ZM722.6,1336.4L722.6,1347.4L731.9,1341.9ZM725.4,1341.3L725.4,1342.4L726.3,1341.9ZM732.6,1357.7L732.6,1368.7L741.9,1363.2ZM735.4,1362.7L735.4,1363.8L736.3,1363.2ZM742.6,1385.1L742.6,1396.1L751.9,1390.6ZM745.4,1390.1L745.4,1391.2L746.4,1390.6ZM752.6,1417.6L752.6,1428.6L761.9,1423.1ZM755.5,1422.6L755.5,1423.7L756.4,1423.1ZM762.7,1462.3L762.7,1473.3L772,1467.8ZM765.5,1467.3L765.5,1468.4L766.4,1467.8ZM772.7,1536.4L772.7,1547.4L782,1541.9ZM775.5,1541.4L775.5,1542.5L776.5,1541.9ZM782.7,1616.7L782.7,1627.7L792,1622.2ZM785.6,1621.6L785.6,1622.7L786.5,1622.2ZM792.8,1507L792.8,1518L802.1,1512.5ZM795.6,1511.9L795.6,1513L796.5,1512.5ZM802.8,1462.3L802.8,1473.3L812.1,1467.8ZM805.6,1467.3L805.6,1468.4L806.5,1467.8ZM812.8,1434.9L812.8,1445.9L822.1,1440.4ZM815.6,1439.8L815.6,1440.9L816.6,1440.4ZM822.8,1412.5L822.8,1423.5L832.1,1418ZM825.7,1417.5L825.7,1418.6L826.6,1418ZM832.9,1396.3L832.9,1407.3L842.2,1401.8ZM835.7,1401.2L835.7,1402.3L836.6,1401.8ZM842.9,1384.1L842.9,1395.1L852.2,1389.6ZM845.7,1389.1L845.7,1390.2L846.6,1389.6ZM852.9,1374L852.9,1385L862.2,1379.5ZM855.7,1378.9L855.7,1380L856.7,1379.5ZM862.9,1365.3L862.9,1376.3L872.2,1370.8ZM865.8,1370.3L865.8,1371.4L866.7,1370.8ZM873,1357.7L873,1368.7L882.3,1363.2ZM875.8,1362.7L875.8,1363.8L876.7,1363.2ZM883,1351.6L883,1362.6L892.3,1357.1ZM885.8,1356.6L885.8,1357.7L886.7,1357.1ZM893,1345.5L893,1356.5L902.3,1351ZM895.8,1350.5L895.8,1351.6L896.8,1351ZM903,1339.4L903,1350.4L912.3,1344.9ZM905.9,1344.4L905.9,1345.5L906.8,1344.9ZM913.1,1334.3L913.1,1345.3L922.4,1339.8ZM915.9,1339.3L915.9,1340.4L916.8,1339.8ZM923.1,1329.8L923.1,1340.8L932.4,1335.3ZM925.9,1334.7L925.9,1335.8L926.8,1335.3ZM933.1,1325.7L933.1,1336.7L942.4,1331.2ZM935.9,1330.7L935.9,1331.8L936.9,1331.2ZM943.1,1321.1L943.1,1332.1L952.4,1326.6ZM946,1326.1L946,1327.2L946.9,1326.6ZM953.2,1318.1L953.2,1329.1L962.5,1323.6ZM956,1323.1L956,1324.2L956.9,1323.6ZM963.2,1315.1L963.2,1326.1L972.5,1320.6ZM966,1320L966,1321.1L967,1320.6Z" fill="#12a5be" fill-rule="evenodd"/>
<rect x="114.1" y="1251.5" width="859.4" height="406.2" fill="none" stroke="#5c5c5c" stroke-width="1.2"/>
<path d="M114.1,1657.7v-9.2M114.1,1251.5v9.2M257.3,1657.7v-9.2M257.3,1251.5v9.2M400.6,1657.7v-9.2M400.6,1251.5v9.2M543.8,1657.7v-9.2M543.8,1251.5v9.2M687,1657.7v-9.2M687,1251.5v9.2M830.3,1657.7v-9.2M830.3,1251.5v9.2M973.5,1657.7v-9.2M973.5,1251.5v9.2M114.1,1251.5h9.2M973.5,1251.5h-9.2M114.1,1353h9.2M973.5,1353h-9.2M114.1,1454.6h9.2M973.5,1454.6h-9.2M114.1,1556.2h9.2M973.5,1556.2h-9.2M114.1,1657.7h9.2M973.5,1657.7h-9.2" stroke="#3a3a3a" stroke-width="1.4" fill="none"/>
<text transform="translate(114.1,1704.5) scale(1,1.12)" font-size="38.3" text-anchor="middle" fill="#262626" stroke="#262626" stroke-width="0.2">1</text>
<text transform="translate(257.3,1704.5) scale(1,1.12)" font-size="38.3" text-anchor="middle" fill="#262626" stroke="#262626" stroke-width="0.2">1.5</text>
<text transform="translate(400.6,1704.5) scale(1,1.12)" font-size="38.3" text-anchor="middle" fill="#262626" stroke="#262626" stroke-width="0.2">2</text>
<text transform="translate(543.8,1704.5) scale(1,1.12)" font-size="38.3" text-anchor="middle" fill="#262626" stroke="#262626" stroke-width="0.2">2.5</text>
<text transform="translate(687,1704.5) scale(1,1.12)" font-size="38.3" text-anchor="middle" fill="#262626" stroke="#262626" stroke-width="0.2">3</text>
<text transform="translate(830.3,1704.5) scale(1,1.12)" font-size="38.3" text-anchor="middle" fill="#262626" stroke="#262626" stroke-width="0.2">3.5</text>
<text transform="translate(973.5,1704.5) scale(1,1.12)" font-size="38.3" text-anchor="middle" fill="#262626" stroke="#262626" stroke-width="0.2">4</text>
<text transform="translate(105.3,1266.8) scale(1,1.12)" font-size="38.3" text-anchor="end" fill="#262626" stroke="#262626" stroke-width="0.2">0</text>
<text transform="translate(105.3,1368.3) scale(1,1.12)" font-size="38.3" text-anchor="end" fill="#262626" stroke="#262626" stroke-width="0.2">-10</text>
<text transform="translate(105.3,1469.9) scale(1,1.12)" font-size="38.3" text-anchor="end" fill="#262626" stroke="#262626" stroke-width="0.2">-20</text>
<text transform="translate(105.3,1571.5) scale(1,1.12)" font-size="38.3" text-anchor="end" fill="#262626" stroke="#262626" stroke-width="0.2">-30</text>
<text transform="translate(105.3,1673) scale(1,1.12)" font-size="38.3" text-anchor="end" fill="#262626" stroke="#262626" stroke-width="0.2">-40</text>
<text transform="translate(544.5,1748.8) scale(1,1.1)" font-size="38.3" text-anchor="middle" fill="#000" stroke="#000" stroke-width="0.3">Frequency (GHz)</text>
<text transform="translate(26.7,1529.3) scale(1,1.05) rotate(-90)" font-size="38.3" fill="#000" stroke="#000" stroke-width="0.3"><tspan x="-2.7" dy="-5.7" font-size="27">|</tspan><tspan x="2.6" dy="5.7">S</tspan><tspan x="26.2" dy="18.5" font-size="28">21</tspan><tspan x="58" dy="-24.2" font-size="27">|</tspan><tspan x="74" dy="5.7">(dB)</tspan></text>
<text transform="translate(484,1801.6) scale(1,1.05)" font-size="32" text-anchor="middle" fill="#111" stroke="#000" stroke-width="0.3">(c)</text>
<rect x="260.4" y="1506.3" width="138.8" height="138.8" fill="#fff" stroke="#444" stroke-width="1"/>
<path d="M263.1,1530.2h18.4" stroke="#0000ff" stroke-width="3.3" stroke-dasharray="12 8" fill="none"/>
<path d="M267.1,1533.3L277.5,1533.3L272.3,1523.9ZM271.9,1530.5L272.7,1530.5L272.3,1529.7Z" fill="#0000ff" fill-rule="evenodd"/>
<text transform="translate(286,1544.7) scale(1,1.085)" font-size="37.2" fill="#000" stroke="#000" stroke-width="0.3">TE-0°</text>
<path d="M263.1,1575h18.4" stroke="#7e2f8e" stroke-width="3.3" stroke-dasharray="12 8" fill="none"/>
<path d="M268.8,1575h7M272.3,1571.5v7M269.8,1572.5l4.9,4.9M269.8,1577.5l4.9,-4.9" fill="none" stroke="#7e2f8e" stroke-width="1.7"/>
<text transform="translate(286,1589.5) scale(1,1.085)" font-size="37.2" fill="#000" stroke="#000" stroke-width="0.3">TE-30°</text>
<path d="M263.1,1619.8h18.4" stroke="#ff0000" stroke-width="3.3" stroke-dasharray="12 8" fill="none"/>
<circle cx="272.3" cy="1619.8" r="2.3" fill="none" stroke="#ff0000" stroke-width="2.7"/>
<text transform="translate(286,1634.3) scale(1,1.085)" font-size="37.2" fill="#000" stroke="#000" stroke-width="0.3">TE-45°</text>
<rect x="404.1" y="1506.3" width="150.6" height="138.8" fill="#fff" stroke="#444" stroke-width="1"/>
<path d="M406.8,1530.2h18.4" stroke="#000000" stroke-width="3.3" stroke-dasharray="12 8" fill="none"/>
<path d="M419.1,1524.7L419.1,1535.7L409.8,1530.2ZM416.3,1529.7L416.3,1530.7L415.5,1530.2Z" fill="#000000" fill-rule="evenodd"/>
<text transform="translate(429.7,1544.7) scale(1,1.085)" font-size="37.2" fill="#000" stroke="#000" stroke-width="0.3">TM-0°</text>
<path d="M406.8,1575h18.4" stroke="#008000" stroke-width="3.3" stroke-dasharray="12 8" fill="none"/>
<path d="M416,1568.9L420.4,1575L416,1581.1L411.6,1575ZM416,1574.3L416.5,1575L416,1575.7L415.5,1575Z" fill="#008000" fill-rule="evenodd"/>
<text transform="translate(429.7,1589.5) scale(1,1.085)" font-size="37.2" fill="#000" stroke="#000" stroke-width="0.3">TM-30°</text>
<path d="M406.8,1619.8h18.4" stroke="#12a5be" stroke-width="3.3" stroke-dasharray="12 8" fill="none"/>
<path d="M412.9,1614.3L412.9,1625.3L422.2,1619.8ZM415.7,1619.2L415.7,1620.3L416.6,1619.8Z" fill="#12a5be" fill-rule="evenodd"/>
<text transform="translate(429.7,1634.3) scale(1,1.085)" font-size="37.2" fill="#000" stroke="#000" stroke-width="0.3">TM-45°</text>
<clipPath id="c3"><rect x="114.1" y="1873.7" width="857" height="404.8"/></clipPath>
<path d="M256.8,1874.2V2278M399.6,1874.2V2278M542.3,1874.2V2278M685,1874.2V2278M827.8,1874.2V2278M114.1,1975.2H970.5M114.1,2076.1H970.5M114.1,2177.1H970.5" stroke="#dfdfdf" stroke-width="1" fill="none"/>
<path clip-path="url(#c3)" d="M114.1,2061.5L124.1,2058.4L134.1,2055.3L144.1,2052.3L154.1,2049.3L164.1,2046.4L174,2043.5L184,2040.7L194,2037.9L204,2035.1L214,2032.4L224,2029.7L234,2027.1L244,2024.4L254,2021.8L264,2019.2L274,2016.7L284,2014.1L293.9,2011.6L303.9,2009.1L313.9,2006.5L323.9,2004L333.9,2001.5L343.9,1999L353.9,1996.5L363.9,1994L373.9,1991.5L383.9,1988.9L393.9,1986.3L403.8,1983.6L413.8,1980.8L423.8,1977.9L433.8,1975L443.8,1972L453.8,1969L463.8,1965.8L473.8,1962.6L483.8,1959.3L493.8,1956L503.8,1952.6L513.8,1949.1L523.7,1945.4L533.7,1941.7L543.7,1937.7L553.7,1933.6L563.7,1929.3L573.7,1924.7L583.7,1919.8L593.7,1914.7L603.7,1909.1L613.7,1903.3L623.7,1897.4L633.6,1891.4L643.6,1885.3L653.6,1879.4L663.6,1877.2L673.6,1877.2L683.6,1880.8L693.6,1889.3L703.6,1902L713.6,1916.6L723.6,1933.3L733.6,1950.9L743.6,1969.1L753.5,1988.3L763.5,2008.5L773.5,2030.7L783.5,2054.9L793.5,2089.2L803.5,2137.7L813.5,2223.5L823.5,2429.4L833.5,2174L843.5,2127.6L853.5,2100.3L863.5,2080.1L873.4,2065L883.4,2053.9L893.4,2043.8L903.4,2034.7L913.4,2025.6L923.4,2018.6L933.4,2012.5L943.4,2006.4L953.4,2002.4L963.4,1997.4L973.4,1993.3" fill="none" stroke="#0000ff" stroke-width="3.3" stroke-dasharray="10.6 10.6"/>
<path d="M108.9,2064.5L119.3,2064.5L114.1,2055.1ZM113.7,2061.7L114.5,2061.7L114.1,2060.9ZM118.9,2061.4L129.3,2061.4L124.1,2052ZM123.6,2058.6L124.5,2058.6L124.1,2057.8ZM128.9,2058.4L139.3,2058.4L134.1,2049ZM133.6,2055.6L134.5,2055.6L134.1,2054.8ZM138.9,2055.4L149.3,2055.4L144.1,2046ZM143.6,2052.6L144.5,2052.6L144.1,2051.8ZM148.9,2052.4L159.3,2052.4L154.1,2043ZM153.6,2049.6L154.5,2049.6L154.1,2048.8ZM158.9,2049.5L169.3,2049.5L164.1,2040.1ZM163.6,2046.7L164.5,2046.7L164.1,2045.9ZM168.8,2046.6L179.2,2046.6L174,2037.2ZM173.6,2043.8L174.5,2043.8L174,2043ZM178.8,2043.7L189.2,2043.7L184,2034.3ZM183.6,2040.9L184.5,2040.9L184,2040.1ZM188.8,2040.9L199.2,2040.9L194,2031.5ZM193.6,2038.1L194.5,2038.1L194,2037.3ZM198.8,2038.2L209.2,2038.2L204,2028.8ZM203.6,2035.4L204.5,2035.4L204,2034.6ZM208.8,2035.5L219.2,2035.5L214,2026.1ZM213.6,2032.7L214.5,2032.7L214,2031.9ZM218.8,2032.8L229.2,2032.8L224,2023.4ZM223.6,2030L224.4,2030L224,2029.2ZM228.8,2030.1L239.2,2030.1L234,2020.7ZM233.6,2027.3L234.4,2027.3L234,2026.5ZM238.8,2027.5L249.2,2027.5L244,2018.1ZM243.5,2024.7L244.4,2024.7L244,2023.9ZM248.8,2024.9L259.2,2024.9L254,2015.5ZM253.5,2022.1L254.4,2022.1L254,2021.3ZM258.8,2022.3L269.2,2022.3L264,2012.9ZM263.5,2019.5L264.4,2019.5L264,2018.7ZM268.8,2019.7L279.2,2019.7L274,2010.3ZM273.5,2016.9L274.4,2016.9L274,2016.1ZM278.8,2017.2L289.2,2017.2L284,2007.8ZM283.5,2014.4L284.4,2014.4L284,2013.6ZM288.7,2014.6L299.1,2014.6L293.9,2005.2ZM293.5,2011.8L294.4,2011.8L293.9,2011ZM298.7,2012.1L309.1,2012.1L303.9,2002.7ZM303.5,2009.3L304.4,2009.3L303.9,2008.5ZM308.7,2009.6L319.1,2009.6L313.9,2000.2ZM313.5,2006.8L314.4,2006.8L313.9,2006ZM318.7,2007.1L329.1,2007.1L323.9,1997.7ZM323.5,2004.3L324.4,2004.3L323.9,2003.5ZM328.7,2004.5L339.1,2004.5L333.9,1995.1ZM333.5,2001.7L334.4,2001.7L333.9,2000.9ZM338.7,2002L349.1,2002L343.9,1992.6ZM343.5,1999.2L344.3,1999.2L343.9,1998.4ZM348.7,1999.6L359.1,1999.6L353.9,1990.2ZM353.5,1996.7L354.3,1996.7L353.9,1995.9ZM358.7,1997.1L369.1,1997.1L363.9,1987.7ZM363.4,1994.3L364.3,1994.3L363.9,1993.5ZM368.7,1994.6L379.1,1994.6L373.9,1985.2ZM373.4,1991.7L374.3,1991.7L373.9,1990.9ZM378.7,1992L389.1,1992L383.9,1982.6ZM383.4,1989.2L384.3,1989.2L383.9,1988.4ZM388.7,1989.4L399.1,1989.4L393.9,1980ZM393.4,1986.5L394.3,1986.5L393.9,1985.8ZM398.6,1986.6L409,1986.6L403.8,1977.2ZM403.4,1983.8L404.3,1983.8L403.8,1983ZM408.6,1983.8L419,1983.8L413.8,1974.4ZM413.4,1981L414.3,1981L413.8,1980.2ZM418.6,1981L429,1981L423.8,1971.6ZM423.4,1978.2L424.3,1978.2L423.8,1977.4ZM428.6,1978.1L439,1978.1L433.8,1968.7ZM433.4,1975.3L434.3,1975.3L433.8,1974.5ZM438.6,1975.1L449,1975.1L443.8,1965.7ZM443.4,1972.3L444.3,1972.3L443.8,1971.5ZM448.6,1972L459,1972L453.8,1962.6ZM453.4,1969.2L454.2,1969.2L453.8,1968.4ZM458.6,1968.9L469,1968.9L463.8,1959.5ZM463.4,1966.1L464.2,1966.1L463.8,1965.3ZM468.6,1965.7L479,1965.7L473.8,1956.3ZM473.3,1962.9L474.2,1962.9L473.8,1962.1ZM478.6,1962.4L489,1962.4L483.8,1953ZM483.3,1959.6L484.2,1959.6L483.8,1958.8ZM488.6,1959.1L499,1959.1L493.8,1949.7ZM493.3,1956.3L494.2,1956.3L493.8,1955.5ZM498.6,1955.7L509,1955.7L503.8,1946.3ZM503.3,1952.9L504.2,1952.9L503.8,1952.1ZM508.6,1952.1L519,1952.1L513.8,1942.7ZM513.3,1949.3L514.2,1949.3L513.8,1948.5ZM518.5,1948.5L528.9,1948.5L523.7,1939.1ZM523.3,1945.7L524.2,1945.7L523.7,1944.9ZM528.5,1944.7L538.9,1944.7L533.7,1935.3ZM533.3,1941.9L534.2,1941.9L533.7,1941.1ZM538.5,1940.8L548.9,1940.8L543.7,1931.4ZM543.3,1938L544.2,1938L543.7,1937.2ZM548.5,1936.7L558.9,1936.7L553.7,1927.3ZM553.3,1933.9L554.2,1933.9L553.7,1933.1ZM558.5,1932.3L568.9,1932.3L563.7,1922.9ZM563.3,1929.5L564.2,1929.5L563.7,1928.7ZM568.5,1927.7L578.9,1927.7L573.7,1918.3ZM573.3,1924.9L574.1,1924.9L573.7,1924.1ZM578.5,1922.9L588.9,1922.9L583.7,1913.5ZM583.3,1920.1L584.1,1920.1L583.7,1919.3ZM588.5,1917.7L598.9,1917.7L593.7,1908.3ZM593.2,1914.9L594.1,1914.9L593.7,1914.1ZM598.5,1912.2L608.9,1912.2L603.7,1902.8ZM603.2,1909.4L604.1,1909.4L603.7,1908.6ZM608.5,1906.4L618.9,1906.4L613.7,1897ZM613.2,1903.6L614.1,1903.6L613.7,1902.8ZM618.5,1900.5L628.9,1900.5L623.7,1891.1ZM623.2,1897.7L624.1,1897.7L623.7,1896.9ZM628.4,1894.5L638.8,1894.5L633.6,1885.1ZM633.2,1891.7L634.1,1891.7L633.6,1890.9ZM638.4,1888.4L648.8,1888.4L643.6,1879ZM643.2,1885.6L644.1,1885.6L643.6,1884.8ZM648.4,1882.5L658.8,1882.5L653.6,1873.1ZM653.2,1879.7L654.1,1879.7L653.6,1878.9ZM658.4,1880.3L668.8,1880.3L663.6,1870.9ZM663.2,1877.5L664.1,1877.5L663.6,1876.7ZM668.4,1880.3L678.8,1880.3L673.6,1870.9ZM673.2,1877.5L674.1,1877.5L673.6,1876.7ZM678.4,1883.8L688.8,1883.8L683.6,1874.4ZM683.2,1881L684,1881L683.6,1880.2ZM688.4,1892.4L698.8,1892.4L693.6,1883ZM693.2,1889.6L694,1889.6L693.6,1888.8ZM698.4,1905L708.8,1905L703.6,1895.6ZM703.1,1902.2L704,1902.2L703.6,1901.4ZM708.4,1919.7L718.8,1919.7L713.6,1910.3ZM713.1,1916.9L714,1916.9L713.6,1916.1ZM718.4,1936.3L728.8,1936.3L723.6,1926.9ZM723.1,1933.5L724,1933.5L723.6,1932.7ZM728.4,1954L738.8,1954L733.6,1944.6ZM733.1,1951.2L734,1951.2L733.6,1950.4ZM738.4,1972.2L748.8,1972.2L743.6,1962.8ZM743.1,1969.4L744,1969.4L743.6,1968.6ZM748.3,1991.3L758.7,1991.3L753.5,1981.9ZM753.1,1988.5L754,1988.5L753.5,1987.7ZM758.3,2011.5L768.7,2011.5L763.5,2002.1ZM763.1,2008.7L764,2008.7L763.5,2007.9ZM768.3,2033.7L778.7,2033.7L773.5,2024.3ZM773.1,2030.9L774,2030.9L773.5,2030.1ZM778.3,2058L788.7,2058L783.5,2048.6ZM783.1,2055.2L784,2055.2L783.5,2054.4ZM788.3,2092.3L798.7,2092.3L793.5,2082.9ZM793.1,2089.5L794,2089.5L793.5,2088.7ZM798.3,2140.7L808.7,2140.7L803.5,2131.3ZM803.1,2137.9L803.9,2137.9L803.5,2137.1ZM808.3,2226.6L818.7,2226.6L813.5,2217.2ZM813.1,2223.7L813.9,2223.7L813.5,2222.9ZM828.3,2177.1L838.7,2177.1L833.5,2167.7ZM833,2174.3L833.9,2174.3L833.5,2173.5ZM838.3,2130.7L848.7,2130.7L843.5,2121.3ZM843,2127.8L843.9,2127.8L843.5,2127ZM848.3,2103.4L858.7,2103.4L853.5,2094ZM853,2100.6L853.9,2100.6L853.5,2099.8ZM858.2,2083.2L868.7,2083.2L863.5,2073.8ZM863,2080.4L863.9,2080.4L863.5,2079.6ZM868.2,2068.1L878.6,2068.1L873.4,2058.7ZM873,2065.3L873.9,2065.3L873.4,2064.5ZM878.2,2057L888.6,2057L883.4,2047.6ZM883,2054.2L883.9,2054.2L883.4,2053.4ZM888.2,2046.9L898.6,2046.9L893.4,2037.5ZM893,2044.1L893.9,2044.1L893.4,2043.3ZM898.2,2037.8L908.6,2037.8L903.4,2028.4ZM903,2035L903.9,2035L903.4,2034.2ZM908.2,2028.7L918.6,2028.7L913.4,2019.3ZM913,2025.9L913.8,2025.9L913.4,2025.1ZM918.2,2021.6L928.6,2021.6L923.4,2012.2ZM923,2018.8L923.8,2018.8L923.4,2018ZM928.2,2015.6L938.6,2015.6L933.4,2006.2ZM932.9,2012.8L933.8,2012.8L933.4,2012ZM938.2,2009.5L948.6,2009.5L943.4,2000.1ZM942.9,2006.7L943.8,2006.7L943.4,2005.9ZM948.2,2005.5L958.6,2005.5L953.4,1996.1ZM952.9,2002.7L953.8,2002.7L953.4,2001.9ZM958.2,2000.4L968.6,2000.4L963.4,1991ZM962.9,1997.6L963.8,1997.6L963.4,1996.8Z" fill="#0000ff" fill-rule="evenodd"/>
<path clip-path="url(#c3)" d="M114.1,2074.1L124.1,2070.7L134.1,2067.4L144.1,2064.2L154.1,2061L164.1,2057.8L174,2054.8L184,2051.8L194,2048.9L204,2046L214,2043.2L224,2040.4L234,2037.7L244,2035L254,2032.4L264,2029.9L274,2027.4L284,2025L293.9,2022.7L303.9,2020.3L313.9,2018L323.9,2015.6L333.9,2013.1L343.9,2010.7L353.9,2008.2L363.9,2005.7L373.9,2003.2L383.9,2000.6L393.9,1997.9L403.8,1995.1L413.8,1992.3L423.8,1989.3L433.8,1986.2L443.8,1983L453.8,1979.8L463.8,1976.5L473.8,1973.2L483.8,1969.8L493.8,1966.3L503.8,1962.8L513.8,1959.1L523.7,1955.3L533.7,1951.4L543.7,1947.3L553.7,1943L563.7,1938.4L573.7,1933.6L583.7,1928.5L593.7,1922.9L603.7,1917L613.7,1910.7L623.7,1904.1L633.6,1896.8L643.6,1889.3L653.6,1882.3L663.6,1878.2L673.6,1877.2L683.6,1881.8L693.6,1893.4L703.6,1906.5L713.6,1923.7L723.6,1940.8L733.6,1960L743.6,1979.2L753.5,2000.4L763.5,2022.6L773.5,2045.8L783.5,2076.1L793.5,2112.4L803.5,2170L813.5,2338.6L823.5,2217.4L833.5,2153.8L843.5,2121.5L853.5,2098.3L863.5,2079.1L873.4,2064L883.4,2052.9L893.4,2041.8L903.4,2032.7L913.4,2023.6L923.4,2015.5L933.4,2007.5L943.4,1999.4L953.4,1991.3L963.4,1982.2L973.4,1975.2" fill="none" stroke="#7e2f8e" stroke-width="3.3" stroke-dasharray="10.6 10.6"/>
<path d="M110.6,2074.1h7M114.1,2070.6v7M111.6,2071.6l4.9,4.9M111.6,2076.6l4.9,-4.9M120.6,2070.7h7M124.1,2067.2v7M121.6,2068.2l4.9,4.9M121.6,2073.2l4.9,-4.9M130.6,2067.4h7M134.1,2063.9v7M131.6,2064.9l4.9,4.9M131.6,2069.9l4.9,-4.9M140.6,2064.2h7M144.1,2060.7v7M141.6,2061.7l4.9,4.9M141.6,2066.6l4.9,-4.9M150.6,2061h7M154.1,2057.5v7M151.6,2058.5l4.9,4.9M151.6,2063.4l4.9,-4.9M160.6,2057.8h7M164.1,2054.3v7M161.6,2055.4l4.9,4.9M161.6,2060.3l4.9,-4.9M170.5,2054.8h7M174,2051.3v7M171.6,2052.3l4.9,4.9M171.6,2057.3l4.9,-4.9M180.5,2051.8h7M184,2048.3v7M181.6,2049.3l4.9,4.9M181.6,2054.3l4.9,-4.9M190.5,2048.9h7M194,2045.4v7M191.6,2046.4l4.9,4.9M191.6,2051.3l4.9,-4.9M200.5,2046h7M204,2042.5v7M201.5,2043.5l4.9,4.9M201.5,2048.5l4.9,-4.9M210.5,2043.2h7M214,2039.7v7M211.5,2040.7l4.9,4.9M211.5,2045.6l4.9,-4.9M220.5,2040.4h7M224,2036.9v7M221.5,2037.9l4.9,4.9M221.5,2042.9l4.9,-4.9M230.5,2037.7h7M234,2034.2v7M231.5,2035.2l4.9,4.9M231.5,2040.2l4.9,-4.9M240.5,2035h7M244,2031.5v7M241.5,2032.5l4.9,4.9M241.5,2037.5l4.9,-4.9M250.5,2032.4h7M254,2028.9v7M251.5,2029.9l4.9,4.9M251.5,2034.9l4.9,-4.9M260.5,2029.9h7M264,2026.4v7M261.5,2027.4l4.9,4.9M261.5,2032.3l4.9,-4.9M270.5,2027.4h7M274,2023.9v7M271.5,2024.9l4.9,4.9M271.5,2029.9l4.9,-4.9M280.5,2025h7M284,2021.5v7M281.5,2022.6l4.9,4.9M281.5,2027.5l4.9,-4.9M290.4,2022.7h7M293.9,2019.2v7M291.5,2020.2l4.9,4.9M291.5,2025.2l4.9,-4.9M300.4,2020.3h7M303.9,2016.8v7M301.5,2017.9l4.9,4.9M301.5,2022.8l4.9,-4.9M310.4,2018h7M313.9,2014.5v7M311.5,2015.5l4.9,4.9M311.5,2020.5l4.9,-4.9M320.4,2015.6h7M323.9,2012.1v7M321.4,2013.1l4.9,4.9M321.4,2018l4.9,-4.9M330.4,2013.1h7M333.9,2009.6v7M331.4,2010.6l4.9,4.9M331.4,2015.6l4.9,-4.9M340.4,2010.7h7M343.9,2007.2v7M341.4,2008.2l4.9,4.9M341.4,2013.1l4.9,-4.9M350.4,2008.2h7M353.9,2004.7v7M351.4,2005.7l4.9,4.9M351.4,2010.7l4.9,-4.9M360.4,2005.7h7M363.9,2002.2v7M361.4,2003.3l4.9,4.9M361.4,2008.2l4.9,-4.9M370.4,2003.2h7M373.9,1999.7v7M371.4,2000.7l4.9,4.9M371.4,2005.7l4.9,-4.9M380.4,2000.6h7M383.9,1997.1v7M381.4,1998.1l4.9,4.9M381.4,2003.1l4.9,-4.9M390.4,1997.9h7M393.9,1994.4v7M391.4,1995.5l4.9,4.9M391.4,2000.4l4.9,-4.9M400.3,1995.1h7M403.8,1991.6v7M401.4,1992.7l4.9,4.9M401.4,1997.6l4.9,-4.9M410.3,1992.3h7M413.8,1988.8v7M411.4,1989.8l4.9,4.9M411.4,1994.7l4.9,-4.9M420.3,1989.3h7M423.8,1985.8v7M421.4,1986.8l4.9,4.9M421.4,1991.7l4.9,-4.9M430.3,1986.2h7M433.8,1982.7v7M431.3,1983.7l4.9,4.9M431.3,1988.7l4.9,-4.9M440.3,1983h7M443.8,1979.5v7M441.3,1980.6l4.9,4.9M441.3,1985.5l4.9,-4.9M450.3,1979.8h7M453.8,1976.3v7M451.3,1977.3l4.9,4.9M451.3,1982.3l4.9,-4.9M460.3,1976.5h7M463.8,1973v7M461.3,1974.1l4.9,4.9M461.3,1979l4.9,-4.9M470.3,1973.2h7M473.8,1969.7v7M471.3,1970.7l4.9,4.9M471.3,1975.7l4.9,-4.9M480.3,1969.8h7M483.8,1966.3v7M481.3,1967.3l4.9,4.9M481.3,1972.2l4.9,-4.9M490.3,1966.3h7M493.8,1962.8v7M491.3,1963.8l4.9,4.9M491.3,1968.8l4.9,-4.9M500.3,1962.8h7M503.8,1959.3v7M501.3,1960.3l4.9,4.9M501.3,1965.2l4.9,-4.9M510.3,1959.1h7M513.8,1955.6v7M511.3,1956.6l4.9,4.9M511.3,1961.6l4.9,-4.9M520.2,1955.3h7M523.7,1951.8v7M521.3,1952.9l4.9,4.9M521.3,1957.8l4.9,-4.9M530.2,1951.4h7M533.7,1947.9v7M531.3,1948.9l4.9,4.9M531.3,1953.9l4.9,-4.9M540.2,1947.3h7M543.7,1943.8v7M541.3,1944.8l4.9,4.9M541.3,1949.8l4.9,-4.9M550.2,1943h7M553.7,1939.5v7M551.2,1940.5l4.9,4.9M551.2,1945.5l4.9,-4.9M560.2,1938.4h7M563.7,1934.9v7M561.2,1936l4.9,4.9M561.2,1940.9l4.9,-4.9M570.2,1933.6h7M573.7,1930.1v7M571.2,1931.1l4.9,4.9M571.2,1936.1l4.9,-4.9M580.2,1928.5h7M583.7,1925v7M581.2,1926l4.9,4.9M581.2,1930.9l4.9,-4.9M590.2,1922.9h7M593.7,1919.4v7M591.2,1920.5l4.9,4.9M591.2,1925.4l4.9,-4.9M600.2,1917h7M603.7,1913.5v7M601.2,1914.5l4.9,4.9M601.2,1919.5l4.9,-4.9M610.2,1910.7h7M613.7,1907.2v7M611.2,1908.2l4.9,4.9M611.2,1913.2l4.9,-4.9M620.2,1904.1h7M623.7,1900.6v7M621.2,1901.6l4.9,4.9M621.2,1906.5l4.9,-4.9M630.1,1896.8h7M633.6,1893.3v7M631.2,1894.4l4.9,4.9M631.2,1899.3l4.9,-4.9M640.1,1889.3h7M643.6,1885.8v7M641.2,1886.9l4.9,4.9M641.2,1891.8l4.9,-4.9M650.1,1882.3h7M653.6,1878.8v7M651.2,1879.8l4.9,4.9M651.2,1884.8l4.9,-4.9M660.1,1878.2h7M663.6,1874.7v7M661.1,1875.8l4.9,4.9M661.1,1880.7l4.9,-4.9M670.1,1877.2h7M673.6,1873.7v7M671.1,1874.8l4.9,4.9M671.1,1879.7l4.9,-4.9M680.1,1881.8h7M683.6,1878.3v7M681.1,1879.3l4.9,4.9M681.1,1884.2l4.9,-4.9M690.1,1893.4h7M693.6,1889.9v7M691.1,1890.9l4.9,4.9M691.1,1895.9l4.9,-4.9M700.1,1906.5h7M703.6,1903v7M701.1,1904l4.9,4.9M701.1,1909l4.9,-4.9M710.1,1923.7h7M713.6,1920.2v7M711.1,1921.2l4.9,4.9M711.1,1926.1l4.9,-4.9M720.1,1940.8h7M723.6,1937.3v7M721.1,1938.4l4.9,4.9M721.1,1943.3l4.9,-4.9M730.1,1960h7M733.6,1956.5v7M731.1,1957.5l4.9,4.9M731.1,1962.5l4.9,-4.9M740.1,1979.2h7M743.6,1975.7v7M741.1,1976.7l4.9,4.9M741.1,1981.7l4.9,-4.9M750,2000.4h7M753.5,1996.9v7M751.1,1997.9l4.9,4.9M751.1,2002.9l4.9,-4.9M760,2022.6h7M763.5,2019.1v7M761.1,2020.1l4.9,4.9M761.1,2025.1l4.9,-4.9M770,2045.8h7M773.5,2042.3v7M771.1,2043.3l4.9,4.9M771.1,2048.3l4.9,-4.9M780,2076.1h7M783.5,2072.6v7M781,2073.6l4.9,4.9M781,2078.6l4.9,-4.9M790,2112.4h7M793.5,2108.9v7M791,2110l4.9,4.9M791,2114.9l4.9,-4.9M800,2170h7M803.5,2166.5v7M801,2167.5l4.9,4.9M801,2172.5l4.9,-4.9M820,2217.4h7M823.5,2213.9v7M821,2215l4.9,4.9M821,2219.9l4.9,-4.9M830,2153.8h7M833.5,2150.3v7M831,2151.4l4.9,4.9M831,2156.3l4.9,-4.9M840,2121.5h7M843.5,2118v7M841,2119.1l4.9,4.9M841,2124l4.9,-4.9M850,2098.3h7M853.5,2094.8v7M851,2095.8l4.9,4.9M851,2100.8l4.9,-4.9M860,2079.1h7M863.5,2075.6v7M861,2076.7l4.9,4.9M861,2081.6l4.9,-4.9M869.9,2064h7M873.4,2060.5v7M871,2061.5l4.9,4.9M871,2066.5l4.9,-4.9M879.9,2052.9h7M883.4,2049.4v7M881,2050.4l4.9,4.9M881,2055.4l4.9,-4.9M889.9,2041.8h7M893.4,2038.3v7M890.9,2039.3l4.9,4.9M890.9,2044.3l4.9,-4.9M899.9,2032.7h7M903.4,2029.2v7M900.9,2030.2l4.9,4.9M900.9,2035.2l4.9,-4.9M909.9,2023.6h7M913.4,2020.1v7M910.9,2021.1l4.9,4.9M910.9,2026.1l4.9,-4.9M919.9,2015.5h7M923.4,2012v7M920.9,2013.1l4.9,4.9M920.9,2018l4.9,-4.9M929.9,2007.5h7M933.4,2004v7M930.9,2005l4.9,4.9M930.9,2009.9l4.9,-4.9M939.9,1999.4h7M943.4,1995.9v7M940.9,1996.9l4.9,4.9M940.9,2001.9l4.9,-4.9M949.9,1991.3h7M953.4,1987.8v7M950.9,1988.8l4.9,4.9M950.9,1993.8l4.9,-4.9M959.9,1982.2h7M963.4,1978.7v7M960.9,1979.7l4.9,4.9M960.9,1984.7l4.9,-4.9" fill="none" stroke="#7e2f8e" stroke-width="1.7"/>
<path clip-path="url(#c3)" d="M114.1,2091.2L124.1,2087.9L134.1,2084.6L144.1,2081.3L154.1,2078.1L164.1,2075L174,2071.9L184,2069L194,2066L204,2063.1L214,2060.3L224,2057.6L234,2054.8L244,2052.2L254,2049.6L264,2047L274,2044.6L284,2042.2L293.9,2039.8L303.9,2037.5L313.9,2035.1L323.9,2032.7L333.9,2030.3L343.9,2027.8L353.9,2025.4L363.9,2022.9L373.9,2020.4L383.9,2017.8L393.9,2015.1L403.8,2012.3L413.8,2009.4L423.8,2006.5L433.8,2003.5L443.8,2000.3L453.8,1997.1L463.8,1993.8L473.8,1990.3L483.8,1986.7L493.8,1983L503.8,1979.1L513.8,1975.2L523.7,1971L533.7,1966.8L543.7,1962.4L553.7,1957.9L563.7,1953.1L573.7,1948.1L583.7,1942.6L593.7,1936.9L603.7,1930.7L613.7,1923.9L623.7,1916.3L633.6,1906.8L643.6,1896.4L653.6,1887.3L663.6,1880L673.6,1878.2L683.6,1884.3L693.6,1897.4L703.6,1914.6L713.6,1933.8L723.6,1953.4L733.6,1975.2L743.6,1996.3L753.5,2018.6L763.5,2040.8L773.5,2068L783.5,2100.3L793.5,2141.7L803.5,2212.4L813.5,2338.6L823.5,2199.3L833.5,2147.8L843.5,2118.5L853.5,2095.3L863.5,2078.1L873.4,2063L883.4,2051.9L893.4,2039.8L903.4,2030.7L913.4,2022.1L923.4,2012.5L933.4,2003.4L943.4,1992.3L953.4,1981.7L963.4,1968.1L973.4,1954" fill="none" stroke="#ff0000" stroke-width="3.3" stroke-dasharray="10.6 10.6"/>
<path d="M111.1,2091.2a2.95,2.95 0 1,0 5.9,0a2.95,2.95 0 1,0 -5.9,0M121.1,2087.9a2.95,2.95 0 1,0 5.9,0a2.95,2.95 0 1,0 -5.9,0M131.1,2084.6a2.95,2.95 0 1,0 5.9,0a2.95,2.95 0 1,0 -5.9,0M141.1,2081.3a2.95,2.95 0 1,0 5.9,0a2.95,2.95 0 1,0 -5.9,0M151.1,2078.1a2.95,2.95 0 1,0 5.9,0a2.95,2.95 0 1,0 -5.9,0M161.1,2075a2.95,2.95 0 1,0 5.9,0a2.95,2.95 0 1,0 -5.9,0M171.1,2071.9a2.95,2.95 0 1,0 5.9,0a2.95,2.95 0 1,0 -5.9,0M181.1,2069a2.95,2.95 0 1,0 5.9,0a2.95,2.95 0 1,0 -5.9,0M191.1,2066a2.95,2.95 0 1,0 5.9,0a2.95,2.95 0 1,0 -5.9,0M201.1,2063.1a2.95,2.95 0 1,0 5.9,0a2.95,2.95 0 1,0 -5.9,0M211.1,2060.3a2.95,2.95 0 1,0 5.9,0a2.95,2.95 0 1,0 -5.9,0M221.1,2057.6a2.95,2.95 0 1,0 5.9,0a2.95,2.95 0 1,0 -5.9,0M231,2054.8a2.95,2.95 0 1,0 5.9,0a2.95,2.95 0 1,0 -5.9,0M241,2052.2a2.95,2.95 0 1,0 5.9,0a2.95,2.95 0 1,0 -5.9,0M251,2049.6a2.95,2.95 0 1,0 5.9,0a2.95,2.95 0 1,0 -5.9,0M261,2047a2.95,2.95 0 1,0 5.9,0a2.95,2.95 0 1,0 -5.9,0M271,2044.6a2.95,2.95 0 1,0 5.9,0a2.95,2.95 0 1,0 -5.9,0M281,2042.2a2.95,2.95 0 1,0 5.9,0a2.95,2.95 0 1,0 -5.9,0M291,2039.8a2.95,2.95 0 1,0 5.9,0a2.95,2.95 0 1,0 -5.9,0M301,2037.5a2.95,2.95 0 1,0 5.9,0a2.95,2.95 0 1,0 -5.9,0M311,2035.1a2.95,2.95 0 1,0 5.9,0a2.95,2.95 0 1,0 -5.9,0M321,2032.7a2.95,2.95 0 1,0 5.9,0a2.95,2.95 0 1,0 -5.9,0M331,2030.3a2.95,2.95 0 1,0 5.9,0a2.95,2.95 0 1,0 -5.9,0M341,2027.8a2.95,2.95 0 1,0 5.9,0a2.95,2.95 0 1,0 -5.9,0M350.9,2025.4a2.95,2.95 0 1,0 5.9,0a2.95,2.95 0 1,0 -5.9,0M360.9,2022.9a2.95,2.95 0 1,0 5.9,0a2.95,2.95 0 1,0 -5.9,0M370.9,2020.4a2.95,2.95 0 1,0 5.9,0a2.95,2.95 0 1,0 -5.9,0M380.9,2017.8a2.95,2.95 0 1,0 5.9,0a2.95,2.95 0 1,0 -5.9,0M390.9,2015.1a2.95,2.95 0 1,0 5.9,0a2.95,2.95 0 1,0 -5.9,0M400.9,2012.3a2.95,2.95 0 1,0 5.9,0a2.95,2.95 0 1,0 -5.9,0M410.9,2009.4a2.95,2.95 0 1,0 5.9,0a2.95,2.95 0 1,0 -5.9,0M420.9,2006.5a2.95,2.95 0 1,0 5.9,0a2.95,2.95 0 1,0 -5.9,0M430.9,2003.5a2.95,2.95 0 1,0 5.9,0a2.95,2.95 0 1,0 -5.9,0M440.9,2000.3a2.95,2.95 0 1,0 5.9,0a2.95,2.95 0 1,0 -5.9,0M450.9,1997.1a2.95,2.95 0 1,0 5.9,0a2.95,2.95 0 1,0 -5.9,0M460.8,1993.8a2.95,2.95 0 1,0 5.9,0a2.95,2.95 0 1,0 -5.9,0M470.8,1990.3a2.95,2.95 0 1,0 5.9,0a2.95,2.95 0 1,0 -5.9,0M480.8,1986.7a2.95,2.95 0 1,0 5.9,0a2.95,2.95 0 1,0 -5.9,0M490.8,1983a2.95,2.95 0 1,0 5.9,0a2.95,2.95 0 1,0 -5.9,0M500.8,1979.1a2.95,2.95 0 1,0 5.9,0a2.95,2.95 0 1,0 -5.9,0M510.8,1975.2a2.95,2.95 0 1,0 5.9,0a2.95,2.95 0 1,0 -5.9,0M520.8,1971a2.95,2.95 0 1,0 5.9,0a2.95,2.95 0 1,0 -5.9,0M530.8,1966.8a2.95,2.95 0 1,0 5.9,0a2.95,2.95 0 1,0 -5.9,0M540.8,1962.4a2.95,2.95 0 1,0 5.9,0a2.95,2.95 0 1,0 -5.9,0M550.8,1957.9a2.95,2.95 0 1,0 5.9,0a2.95,2.95 0 1,0 -5.9,0M560.8,1953.1a2.95,2.95 0 1,0 5.9,0a2.95,2.95 0 1,0 -5.9,0M570.8,1948.1a2.95,2.95 0 1,0 5.9,0a2.95,2.95 0 1,0 -5.9,0M580.7,1942.6a2.95,2.95 0 1,0 5.9,0a2.95,2.95 0 1,0 -5.9,0M590.7,1936.9a2.95,2.95 0 1,0 5.9,0a2.95,2.95 0 1,0 -5.9,0M600.7,1930.7a2.95,2.95 0 1,0 5.9,0a2.95,2.95 0 1,0 -5.9,0M610.7,1923.9a2.95,2.95 0 1,0 5.9,0a2.95,2.95 0 1,0 -5.9,0M620.7,1916.3a2.95,2.95 0 1,0 5.9,0a2.95,2.95 0 1,0 -5.9,0M630.7,1906.8a2.95,2.95 0 1,0 5.9,0a2.95,2.95 0 1,0 -5.9,0M640.7,1896.4a2.95,2.95 0 1,0 5.9,0a2.95,2.95 0 1,0 -5.9,0M650.7,1887.3a2.95,2.95 0 1,0 5.9,0a2.95,2.95 0 1,0 -5.9,0M660.7,1880a2.95,2.95 0 1,0 5.9,0a2.95,2.95 0 1,0 -5.9,0M670.7,1878.2a2.95,2.95 0 1,0 5.9,0a2.95,2.95 0 1,0 -5.9,0M680.7,1884.3a2.95,2.95 0 1,0 5.9,0a2.95,2.95 0 1,0 -5.9,0M690.6,1897.4a2.95,2.95 0 1,0 5.9,0a2.95,2.95 0 1,0 -5.9,0M700.6,1914.6a2.95,2.95 0 1,0 5.9,0a2.95,2.95 0 1,0 -5.9,0M710.6,1933.8a2.95,2.95 0 1,0 5.9,0a2.95,2.95 0 1,0 -5.9,0M720.6,1953.4a2.95,2.95 0 1,0 5.9,0a2.95,2.95 0 1,0 -5.9,0M730.6,1975.2a2.95,2.95 0 1,0 5.9,0a2.95,2.95 0 1,0 -5.9,0M740.6,1996.3a2.95,2.95 0 1,0 5.9,0a2.95,2.95 0 1,0 -5.9,0M750.6,2018.6a2.95,2.95 0 1,0 5.9,0a2.95,2.95 0 1,0 -5.9,0M760.6,2040.8a2.95,2.95 0 1,0 5.9,0a2.95,2.95 0 1,0 -5.9,0M770.6,2068a2.95,2.95 0 1,0 5.9,0a2.95,2.95 0 1,0 -5.9,0M780.6,2100.3a2.95,2.95 0 1,0 5.9,0a2.95,2.95 0 1,0 -5.9,0M790.6,2141.7a2.95,2.95 0 1,0 5.9,0a2.95,2.95 0 1,0 -5.9,0M800.6,2212.4a2.95,2.95 0 1,0 5.9,0a2.95,2.95 0 1,0 -5.9,0M820.5,2199.3a2.95,2.95 0 1,0 5.9,0a2.95,2.95 0 1,0 -5.9,0M830.5,2147.8a2.95,2.95 0 1,0 5.9,0a2.95,2.95 0 1,0 -5.9,0M840.5,2118.5a2.95,2.95 0 1,0 5.9,0a2.95,2.95 0 1,0 -5.9,0M850.5,2095.3a2.95,2.95 0 1,0 5.9,0a2.95,2.95 0 1,0 -5.9,0M860.5,2078.1a2.95,2.95 0 1,0 5.9,0a2.95,2.95 0 1,0 -5.9,0M870.5,2063a2.95,2.95 0 1,0 5.9,0a2.95,2.95 0 1,0 -5.9,0M880.5,2051.9a2.95,2.95 0 1,0 5.9,0a2.95,2.95 0 1,0 -5.9,0M890.5,2039.8a2.95,2.95 0 1,0 5.9,0a2.95,2.95 0 1,0 -5.9,0M900.5,2030.7a2.95,2.95 0 1,0 5.9,0a2.95,2.95 0 1,0 -5.9,0M910.5,2022.1a2.95,2.95 0 1,0 5.9,0a2.95,2.95 0 1,0 -5.9,0M920.4,2012.5a2.95,2.95 0 1,0 5.9,0a2.95,2.95 0 1,0 -5.9,0M930.4,2003.4a2.95,2.95 0 1,0 5.9,0a2.95,2.95 0 1,0 -5.9,0M940.4,1992.3a2.95,2.95 0 1,0 5.9,0a2.95,2.95 0 1,0 -5.9,0M950.4,1981.7a2.95,2.95 0 1,0 5.9,0a2.95,2.95 0 1,0 -5.9,0M960.4,1968.1a2.95,2.95 0 1,0 5.9,0a2.95,2.95 0 1,0 -5.9,0" fill="none" stroke="#ff0000" stroke-width="3.3"/>
<path clip-path="url(#c3)" d="M114.1,2010.5L124.1,2006.4L134.1,2002.3L144.1,1998.2L154.1,1994.1L164.1,1990L174,1985.9L184,1981.8L194,1977.7L204,1973.6L214,1969.4L224,1965.3L234,1961.2L244,1957.1L254,1953.1L264,1949.1L274,1945.1L284,1941.1L293.9,1937.1L303.9,1933.2L313.9,1929.2L323.9,1925.3L333.9,1921.5L343.9,1917.8L353.9,1914.1L363.9,1910.5L373.9,1906.8L383.9,1902.9L393.9,1898.9L403.8,1894.4L413.8,1889L423.8,1884.6L433.8,1881.5L443.8,1879.5L453.8,1878.6L463.8,1878.6L473.8,1879.3L483.8,1881.1L493.8,1884.1L503.8,1888.4L513.8,1893.7L523.7,1899.2L533.7,1905.1L543.7,1911.5L553.7,1918.4L563.7,1925.8L573.7,1933.5L583.7,1941.6L593.7,1950L603.7,1958.8L613.7,1967.9L623.7,1977.4L633.6,1987.1L643.6,1997.4L653.6,2008.5L663.6,2021.6L673.6,2037.7L683.6,2054.9L693.6,2078.1L703.6,2115.5L713.6,2183.1L723.6,2112.4L733.6,2009.5L743.6,1920.6L753.5,1962L763.5,2007.5L773.5,2037.7L783.5,2065L793.5,2094.3L803.5,2125.6L813.5,2163.9L823.5,2237.6L833.5,2479.9L843.5,2242.7L853.5,2188.2L863.5,2152.8L873.4,2128.6L883.4,2110.4L893.4,2095.3L903.4,2084.2L913.4,2073.1L923.4,2065L933.4,2056.9L943.4,2048.8L953.4,2042.8L963.4,2036.7L973.4,2031.7" fill="none" stroke="#000000" stroke-width="3.3" stroke-dasharray="10.6 10.6"/>
<path d="M117.2,2005L117.2,2016L107.9,2010.5ZM114.4,2010L114.4,2011L113.6,2010.5ZM127.2,2000.9L127.2,2011.9L117.9,2006.4ZM124.4,2005.9L124.4,2006.9L123.6,2006.4ZM137.2,1996.8L137.2,2007.8L127.9,2002.3ZM134.3,2001.8L134.3,2002.8L133.6,2002.3ZM147.2,1992.7L147.2,2003.7L137.9,1998.2ZM144.3,1997.7L144.3,1998.7L143.6,1998.2ZM157.2,1988.6L157.2,1999.6L147.9,1994.1ZM154.3,1993.6L154.3,1994.6L153.5,1994.1ZM167.2,1984.5L167.2,1995.5L157.9,1990ZM164.3,1989.5L164.3,1990.5L163.5,1990ZM177.2,1980.4L177.2,1991.4L167.9,1985.9ZM174.3,1985.4L174.3,1986.4L173.5,1985.9ZM187.2,1976.3L187.2,1987.3L177.9,1981.8ZM184.3,1981.3L184.3,1982.3L183.5,1981.8ZM197.2,1972.2L197.2,1983.2L187.9,1977.7ZM194.3,1977.2L194.3,1978.2L193.5,1977.7ZM207.2,1968.1L207.2,1979.1L197.9,1973.6ZM204.3,1973.1L204.3,1974L203.5,1973.6ZM217.2,1963.9L217.2,1974.9L207.9,1969.4ZM214.3,1969L214.3,1969.9L213.5,1969.4ZM227.1,1959.8L227.1,1970.8L217.8,1965.3ZM224.3,1964.9L224.3,1965.8L223.5,1965.3ZM237.1,1955.7L237.1,1966.7L227.8,1961.2ZM234.3,1960.8L234.3,1961.7L233.5,1961.2ZM247.1,1951.6L247.1,1962.6L237.8,1957.1ZM244.3,1956.7L244.3,1957.6L243.5,1957.1ZM257.1,1947.6L257.1,1958.6L247.8,1953.1ZM254.2,1952.6L254.2,1953.6L253.5,1953.1ZM267.1,1943.6L267.1,1954.6L257.8,1949.1ZM264.2,1948.6L264.2,1949.5L263.4,1949.1ZM277.1,1939.6L277.1,1950.6L267.8,1945.1ZM274.2,1944.6L274.2,1945.5L273.4,1945.1ZM287.1,1935.6L287.1,1946.6L277.8,1941.1ZM284.2,1940.6L284.2,1941.5L283.4,1941.1ZM297.1,1931.6L297.1,1942.6L287.8,1937.1ZM294.2,1936.6L294.2,1937.6L293.4,1937.1ZM307.1,1927.7L307.1,1938.7L297.8,1933.2ZM304.2,1932.7L304.2,1933.6L303.4,1933.2ZM317.1,1923.7L317.1,1934.7L307.8,1929.2ZM314.2,1928.8L314.2,1929.7L313.4,1929.2ZM327.1,1919.8L327.1,1930.8L317.8,1925.3ZM324.2,1924.9L324.2,1925.8L323.4,1925.3ZM337,1916L337,1927L327.7,1921.5ZM334.2,1921L334.2,1921.9L333.4,1921.5ZM347,1912.3L347,1923.3L337.7,1917.8ZM344.2,1917.3L344.2,1918.2L343.4,1917.8ZM357,1908.6L357,1919.6L347.7,1914.1ZM354.2,1913.6L354.2,1914.6L353.4,1914.1ZM367,1905L367,1916L357.7,1910.5ZM364.1,1910L364.1,1910.9L363.4,1910.5ZM377,1901.3L377,1912.3L367.7,1906.8ZM374.1,1906.3L374.1,1907.2L373.4,1906.8ZM387,1897.4L387,1908.4L377.7,1902.9ZM384.1,1902.5L384.1,1903.4L383.3,1902.9ZM397,1893.4L397,1904.4L387.7,1898.9ZM394.1,1898.4L394.1,1899.3L393.3,1898.9ZM407,1888.9L407,1899.9L397.7,1894.4ZM404.1,1893.9L404.1,1894.8L403.3,1894.4ZM417,1883.5L417,1894.5L407.7,1889ZM414.1,1888.5L414.1,1889.5L413.3,1889ZM427,1879.1L427,1890.1L417.7,1884.6ZM424.1,1884.1L424.1,1885.1L423.3,1884.6ZM437,1876L437,1887L427.7,1881.5ZM434.1,1881L434.1,1882L433.3,1881.5ZM447,1874L447,1885L437.7,1879.5ZM444.1,1879L444.1,1879.9L443.3,1879.5ZM456.9,1873.1L456.9,1884.1L447.6,1878.6ZM454.1,1878.1L454.1,1879.1L453.3,1878.6ZM466.9,1873.1L466.9,1884.1L457.6,1878.6ZM464.1,1878.1L464.1,1879L463.3,1878.6ZM476.9,1873.8L476.9,1884.8L467.6,1879.3ZM474.1,1878.8L474.1,1879.7L473.3,1879.3ZM486.9,1875.6L486.9,1886.6L477.6,1881.1ZM484,1880.6L484,1881.6L483.3,1881.1ZM496.9,1878.6L496.9,1889.6L487.6,1884.1ZM494,1883.6L494,1884.6L493.2,1884.1ZM506.9,1882.9L506.9,1893.9L497.6,1888.4ZM504,1887.9L504,1888.8L503.2,1888.4ZM516.9,1888.2L516.9,1899.2L507.6,1893.7ZM514,1893.2L514,1894.1L513.2,1893.7ZM526.9,1893.7L526.9,1904.7L517.6,1899.2ZM524,1898.7L524,1899.7L523.2,1899.2ZM536.9,1899.6L536.9,1910.6L527.6,1905.1ZM534,1904.6L534,1905.6L533.2,1905.1ZM546.9,1906L546.9,1917L537.6,1911.5ZM544,1911L544,1911.9L543.2,1911.5ZM556.9,1912.9L556.9,1923.9L547.6,1918.4ZM554,1917.9L554,1918.9L553.2,1918.4ZM566.8,1920.3L566.8,1931.3L557.5,1925.8ZM564,1925.3L564,1926.3L563.2,1925.8ZM576.8,1928L576.8,1939L567.5,1933.5ZM574,1933.1L574,1934L573.2,1933.5ZM586.8,1936.1L586.8,1947.1L577.5,1941.6ZM584,1941.1L584,1942L583.2,1941.6ZM596.8,1944.5L596.8,1955.5L587.5,1950ZM594,1949.5L594,1950.5L593.2,1950ZM606.8,1953.3L606.8,1964.3L597.5,1958.8ZM603.9,1958.3L603.9,1959.2L603.2,1958.8ZM616.8,1962.4L616.8,1973.4L607.5,1967.9ZM613.9,1967.4L613.9,1968.4L613.1,1967.9ZM626.8,1971.9L626.8,1982.9L617.5,1977.4ZM623.9,1976.9L623.9,1977.8L623.1,1977.4ZM636.8,1981.6L636.8,1992.6L627.5,1987.1ZM633.9,1986.6L633.9,1987.6L633.1,1987.1ZM646.8,1991.9L646.8,2002.9L637.5,1997.4ZM643.9,1996.9L643.9,1997.8L643.1,1997.4ZM656.8,2003L656.8,2014L647.5,2008.5ZM653.9,2008L653.9,2008.9L653.1,2008.5ZM666.8,2016.1L666.8,2027.1L657.5,2021.6ZM663.9,2021.1L663.9,2022.1L663.1,2021.6ZM676.8,2032.2L676.8,2043.2L667.5,2037.7ZM673.9,2037.3L673.9,2038.2L673.1,2037.7ZM686.7,2049.4L686.7,2060.4L677.4,2054.9ZM683.9,2054.4L683.9,2055.4L683.1,2054.9ZM696.7,2072.6L696.7,2083.6L687.4,2078.1ZM693.9,2077.7L693.9,2078.6L693.1,2078.1ZM706.7,2110L706.7,2121L697.4,2115.5ZM703.9,2115L703.9,2115.9L703.1,2115.5ZM716.7,2177.6L716.7,2188.6L707.4,2183.1ZM713.8,2182.6L713.8,2183.6L713.1,2183.1ZM726.7,2106.9L726.7,2117.9L717.4,2112.4ZM723.8,2112L723.8,2112.9L723,2112.4ZM736.7,2004L736.7,2015L727.4,2009.5ZM733.8,2009L733.8,2009.9L733,2009.5ZM746.7,1915.1L746.7,1926.1L737.4,1920.6ZM743.8,1920.2L743.8,1921.1L743,1920.6ZM756.7,1956.5L756.7,1967.5L747.4,1962ZM753.8,1961.6L753.8,1962.5L753,1962ZM766.7,2002L766.7,2013L757.4,2007.5ZM763.8,2007L763.8,2007.9L763,2007.5ZM776.7,2032.2L776.7,2043.2L767.4,2037.7ZM773.8,2037.3L773.8,2038.2L773,2037.7ZM786.7,2059.5L786.7,2070.5L777.4,2065ZM783.8,2064.5L783.8,2065.5L783,2065ZM796.6,2088.8L796.6,2099.8L787.3,2094.3ZM793.8,2093.8L793.8,2094.7L793,2094.3ZM806.6,2120.1L806.6,2131.1L797.3,2125.6ZM803.8,2125.1L803.8,2126L803,2125.6ZM816.6,2158.4L816.6,2169.4L807.3,2163.9ZM813.8,2163.5L813.8,2164.4L813,2163.9ZM826.6,2232.1L826.6,2243.1L817.3,2237.6ZM823.8,2237.2L823.8,2238.1L823,2237.6ZM846.6,2237.2L846.6,2248.2L837.3,2242.7ZM843.7,2242.2L843.7,2243.1L842.9,2242.7ZM856.6,2182.7L856.6,2193.7L847.3,2188.2ZM853.7,2187.7L853.7,2188.6L852.9,2188.2ZM866.6,2147.3L866.6,2158.3L857.3,2152.8ZM863.7,2152.4L863.7,2153.3L862.9,2152.8ZM876.6,2123.1L876.6,2134.1L867.3,2128.6ZM873.7,2128.1L873.7,2129.1L872.9,2128.6ZM886.6,2104.9L886.6,2115.9L877.3,2110.4ZM883.7,2110L883.7,2110.9L882.9,2110.4ZM896.6,2089.8L896.6,2100.8L887.3,2095.3ZM893.7,2094.8L893.7,2095.7L892.9,2095.3ZM906.6,2078.7L906.6,2089.7L897.3,2084.2ZM903.7,2083.7L903.7,2084.6L902.9,2084.2ZM916.5,2067.6L916.5,2078.6L907.2,2073.1ZM913.7,2072.6L913.7,2073.5L912.9,2073.1ZM926.5,2059.5L926.5,2070.5L917.2,2065ZM923.7,2064.5L923.7,2065.5L922.9,2065ZM936.5,2051.4L936.5,2062.4L927.2,2056.9ZM933.7,2056.5L933.7,2057.4L932.9,2056.9ZM946.5,2043.3L946.5,2054.3L937.2,2048.8ZM943.6,2048.4L943.6,2049.3L942.9,2048.8ZM956.5,2037.3L956.5,2048.3L947.2,2042.8ZM953.6,2042.3L953.6,2043.3L952.8,2042.8ZM966.5,2031.2L966.5,2042.2L957.2,2036.7ZM963.6,2036.3L963.6,2037.2L962.8,2036.7Z" fill="#000000" fill-rule="evenodd"/>
<path clip-path="url(#c3)" d="M114.1,1998.4L124.1,1994.4L134.1,1990.5L144.1,1986.5L154.1,1982.5L164.1,1978.6L174,1974.6L184,1970.7L194,1966.7L204,1962.7L214,1958.6L224,1954.6L234,1950.6L244,1946.7L254,1942.9L264,1939.2L274,1935.5L284,1932L293.9,1928.4L303.9,1925L313.9,1921.5L323.9,1918.1L333.9,1914.7L343.9,1911.4L353.9,1908.2L363.9,1905L373.9,1901.8L383.9,1898.4L393.9,1895L403.8,1891.2L413.8,1886.7L423.8,1883.1L433.8,1880.6L443.8,1879L453.8,1878.2L463.8,1878.1L473.8,1878.7L483.8,1880.3L493.8,1882.9L503.8,1886.4L513.8,1890.6L523.7,1895L533.7,1899.9L543.7,1905.3L553.7,1911.5L563.7,1918.3L573.7,1925.5L583.7,1933.1L593.7,1941.2L603.7,1949.3L613.7,1957.4L623.7,1966.2L633.6,1977.3L643.6,1989.3L653.6,2000.4L663.6,2013.5L673.6,2028.7L683.6,2045.8L693.6,2075.1L703.6,2118.5L713.6,2179.1L723.6,2071.1L733.6,1976.2L743.6,1916.6L753.5,1961L763.5,2000.4L773.5,2030.7L783.5,2057.9L793.5,2085.2L803.5,2116.5L813.5,2157.9L823.5,2227.5L833.5,2479.9L843.5,2225.5L853.5,2168L863.5,2135.7L873.4,2112.4L883.4,2095.3L893.4,2081.1L903.4,2069L913.4,2058.9L923.4,2049.9L933.4,2042.8L943.4,2035.2L953.4,2029.7L963.4,2022.1L973.4,2016.5" fill="none" stroke="#008000" stroke-width="3.3" stroke-dasharray="10.6 10.6"/>
<path d="M114.1,1992.3L118.5,1998.4L114.1,2004.5L109.7,1998.4ZM114.1,1997.7L114.6,1998.4L114.1,1999L113.6,1998.4ZM124.1,1988.3L128.5,1994.4L124.1,2000.5L119.7,1994.4ZM124.1,1993.7L124.6,1994.4L124.1,1995.1L123.6,1994.4ZM134.1,1984.4L138.5,1990.5L134.1,1996.6L129.7,1990.5ZM134.1,1989.8L134.6,1990.5L134.1,1991.1L133.6,1990.5ZM144.1,1980.4L148.5,1986.5L144.1,1992.6L139.7,1986.5ZM144.1,1985.8L144.6,1986.5L144.1,1987.2L143.6,1986.5ZM154.1,1976.4L158.5,1982.5L154.1,1988.6L149.7,1982.5ZM154.1,1981.9L154.5,1982.5L154.1,1983.2L153.6,1982.5ZM164.1,1972.5L168.5,1978.6L164.1,1984.7L159.7,1978.6ZM164.1,1977.9L164.5,1978.6L164.1,1979.3L163.6,1978.6ZM174,1968.5L178.4,1974.6L174,1980.7L169.6,1974.6ZM174,1974L174.5,1974.6L174,1975.3L173.6,1974.6ZM184,1964.6L188.4,1970.7L184,1976.8L179.6,1970.7ZM184,1970L184.5,1970.7L184,1971.3L183.6,1970.7ZM194,1960.6L198.4,1966.7L194,1972.8L189.6,1966.7ZM194,1966L194.5,1966.7L194,1967.4L193.5,1966.7ZM204,1956.6L208.4,1962.7L204,1968.8L199.6,1962.7ZM204,1962L204.5,1962.7L204,1963.3L203.5,1962.7ZM214,1952.5L218.4,1958.6L214,1964.7L209.6,1958.6ZM214,1958L214.5,1958.6L214,1959.3L213.5,1958.6ZM224,1948.5L228.4,1954.6L224,1960.7L219.6,1954.6ZM224,1954L224.5,1954.6L224,1955.3L223.5,1954.6ZM234,1944.5L238.4,1950.6L234,1956.7L229.6,1950.6ZM234,1950L234.5,1950.6L234,1951.3L233.5,1950.6ZM244,1940.6L248.4,1946.7L244,1952.8L239.6,1946.7ZM244,1946.1L244.5,1946.7L244,1947.4L243.5,1946.7ZM254,1936.8L258.4,1942.9L254,1949L249.6,1942.9ZM254,1942.2L254.5,1942.9L254,1943.6L253.5,1942.9ZM264,1933.1L268.4,1939.2L264,1945.3L259.6,1939.2ZM264,1938.5L264.5,1939.2L264,1939.9L263.5,1939.2ZM274,1929.4L278.4,1935.5L274,1941.6L269.6,1935.5ZM274,1934.9L274.4,1935.5L274,1936.2L273.5,1935.5ZM284,1925.9L288.4,1932L284,1938.1L279.6,1932ZM284,1931.3L284.4,1932L284,1932.6L283.5,1932ZM293.9,1922.3L298.3,1928.4L293.9,1934.5L289.5,1928.4ZM293.9,1927.8L294.4,1928.4L293.9,1929.1L293.5,1928.4ZM303.9,1918.9L308.3,1925L303.9,1931.1L299.5,1925ZM303.9,1924.3L304.4,1925L303.9,1925.6L303.5,1925ZM313.9,1915.4L318.3,1921.5L313.9,1927.6L309.5,1921.5ZM313.9,1920.8L314.4,1921.5L313.9,1922.2L313.4,1921.5ZM323.9,1912L328.3,1918.1L323.9,1924.2L319.5,1918.1ZM323.9,1917.4L324.4,1918.1L323.9,1918.7L323.4,1918.1ZM333.9,1908.6L338.3,1914.7L333.9,1920.8L329.5,1914.7ZM333.9,1914L334.4,1914.7L333.9,1915.3L333.4,1914.7ZM343.9,1905.3L348.3,1911.4L343.9,1917.5L339.5,1911.4ZM343.9,1910.7L344.4,1911.4L343.9,1912.1L343.4,1911.4ZM353.9,1902.1L358.3,1908.2L353.9,1914.3L349.5,1908.2ZM353.9,1907.5L354.4,1908.2L353.9,1908.9L353.4,1908.2ZM363.9,1898.9L368.3,1905L363.9,1911.1L359.5,1905ZM363.9,1904.3L364.4,1905L363.9,1905.7L363.4,1905ZM373.9,1895.7L378.3,1901.8L373.9,1907.9L369.5,1901.8ZM373.9,1901.1L374.4,1901.8L373.9,1902.4L373.4,1901.8ZM383.9,1892.3L388.3,1898.4L383.9,1904.5L379.5,1898.4ZM383.9,1897.8L384.3,1898.4L383.9,1899.1L383.4,1898.4ZM393.9,1888.9L398.3,1895L393.9,1901.1L389.5,1895ZM393.9,1894.3L394.3,1895L393.9,1895.6L393.4,1895ZM403.8,1885.1L408.2,1891.2L403.8,1897.3L399.4,1891.2ZM403.8,1890.5L404.3,1891.2L403.8,1891.8L403.4,1891.2ZM413.8,1880.6L418.2,1886.7L413.8,1892.8L409.4,1886.7ZM413.8,1886.1L414.3,1886.7L413.8,1887.4L413.4,1886.7ZM423.8,1877L428.2,1883.1L423.8,1889.2L419.4,1883.1ZM423.8,1882.5L424.3,1883.1L423.8,1883.8L423.3,1883.1ZM433.8,1874.5L438.2,1880.6L433.8,1886.7L429.4,1880.6ZM433.8,1879.9L434.3,1880.6L433.8,1881.3L433.3,1880.6ZM443.8,1872.9L448.2,1879L443.8,1885.1L439.4,1879ZM443.8,1878.3L444.3,1879L443.8,1879.6L443.3,1879ZM453.8,1872.1L458.2,1878.2L453.8,1884.3L449.4,1878.2ZM453.8,1877.5L454.3,1878.2L453.8,1878.9L453.3,1878.2ZM463.8,1872L468.2,1878.1L463.8,1884.2L459.4,1878.1ZM463.8,1877.4L464.3,1878.1L463.8,1878.8L463.3,1878.1ZM473.8,1872.6L478.2,1878.7L473.8,1884.8L469.4,1878.7ZM473.8,1878L474.3,1878.7L473.8,1879.3L473.3,1878.7ZM483.8,1874.2L488.2,1880.3L483.8,1886.4L479.4,1880.3ZM483.8,1879.6L484.3,1880.3L483.8,1881L483.3,1880.3ZM493.8,1876.8L498.2,1882.9L493.8,1889L489.4,1882.9ZM493.8,1882.3L494.3,1882.9L493.8,1883.6L493.3,1882.9ZM503.8,1880.3L508.2,1886.4L503.8,1892.5L499.4,1886.4ZM503.8,1885.7L504.2,1886.4L503.8,1887L503.3,1886.4ZM513.8,1884.5L518.2,1890.6L513.8,1896.7L509.4,1890.6ZM513.8,1889.9L514.2,1890.6L513.8,1891.3L513.3,1890.6ZM523.7,1888.9L528.1,1895L523.7,1901.1L519.3,1895ZM523.7,1894.4L524.2,1895L523.7,1895.7L523.3,1895ZM533.7,1893.8L538.1,1899.9L533.7,1906L529.3,1899.9ZM533.7,1899.2L534.2,1899.9L533.7,1900.6L533.3,1899.9ZM543.7,1899.2L548.1,1905.3L543.7,1911.4L539.3,1905.3ZM543.7,1904.6L544.2,1905.3L543.7,1906L543.2,1905.3ZM553.7,1905.4L558.1,1911.5L553.7,1917.6L549.3,1911.5ZM553.7,1910.8L554.2,1911.5L553.7,1912.1L553.2,1911.5ZM563.7,1912.2L568.1,1918.3L563.7,1924.4L559.3,1918.3ZM563.7,1917.6L564.2,1918.3L563.7,1919L563.2,1918.3ZM573.7,1919.4L578.1,1925.5L573.7,1931.6L569.3,1925.5ZM573.7,1924.8L574.2,1925.5L573.7,1926.1L573.2,1925.5ZM583.7,1927L588.1,1933.1L583.7,1939.2L579.3,1933.1ZM583.7,1932.4L584.2,1933.1L583.7,1933.8L583.2,1933.1ZM593.7,1935.1L598.1,1941.2L593.7,1947.3L589.3,1941.2ZM593.7,1940.5L594.2,1941.2L593.7,1941.9L593.2,1941.2ZM603.7,1943.2L608.1,1949.3L603.7,1955.4L599.3,1949.3ZM603.7,1948.7L604.2,1949.3L603.7,1950L603.2,1949.3ZM613.7,1951.3L618.1,1957.4L613.7,1963.5L609.3,1957.4ZM613.7,1956.7L614.2,1957.4L613.7,1958L613.2,1957.4ZM623.7,1960.1L628.1,1966.2L623.7,1972.3L619.3,1966.2ZM623.7,1965.6L624.1,1966.2L623.7,1966.9L623.2,1966.2ZM633.6,1971.2L638,1977.3L633.6,1983.4L629.2,1977.3ZM633.6,1976.6L634.1,1977.3L633.6,1978L633.2,1977.3ZM643.6,1983.2L648,1989.3L643.6,1995.4L639.2,1989.3ZM643.6,1988.6L644.1,1989.3L643.6,1990L643.2,1989.3ZM653.6,1994.3L658,2000.4L653.6,2006.5L649.2,2000.4ZM653.6,1999.7L654.1,2000.4L653.6,2001.1L653.1,2000.4ZM663.6,2007.4L668,2013.5L663.6,2019.6L659.2,2013.5ZM663.6,2012.8L664.1,2013.5L663.6,2014.2L663.1,2013.5ZM673.6,2022.6L678,2028.7L673.6,2034.8L669.2,2028.7ZM673.6,2028L674.1,2028.7L673.6,2029.3L673.1,2028.7ZM683.6,2039.7L688,2045.8L683.6,2051.9L679.2,2045.8ZM683.6,2045.1L684.1,2045.8L683.6,2046.5L683.1,2045.8ZM693.6,2069L698,2075.1L693.6,2081.2L689.2,2075.1ZM693.6,2074.4L694.1,2075.1L693.6,2075.8L693.1,2075.1ZM703.6,2112.4L708,2118.5L703.6,2124.6L699.2,2118.5ZM703.6,2117.8L704.1,2118.5L703.6,2119.2L703.1,2118.5ZM713.6,2173L718,2179.1L713.6,2185.2L709.2,2179.1ZM713.6,2178.4L714.1,2179.1L713.6,2179.7L713.1,2179.1ZM723.6,2065L728,2071.1L723.6,2077.2L719.2,2071.1ZM723.6,2070.4L724.1,2071.1L723.6,2071.7L723.1,2071.1ZM733.6,1970.1L738,1976.2L733.6,1982.3L729.2,1976.2ZM733.6,1975.5L734,1976.2L733.6,1976.8L733.1,1976.2ZM743.6,1910.5L748,1916.6L743.6,1922.7L739.2,1916.6ZM743.6,1915.9L744,1916.6L743.6,1917.3L743.1,1916.6ZM753.5,1954.9L757.9,1961L753.5,1967.1L749.1,1961ZM753.5,1960.3L754,1961L753.5,1961.7L753.1,1961ZM763.5,1994.3L767.9,2000.4L763.5,2006.5L759.1,2000.4ZM763.5,1999.7L764,2000.4L763.5,2001.1L763.1,2000.4ZM773.5,2024.6L777.9,2030.7L773.5,2036.8L769.1,2030.7ZM773.5,2030L774,2030.7L773.5,2031.3L773,2030.7ZM783.5,2051.8L787.9,2057.9L783.5,2064L779.1,2057.9ZM783.5,2057.3L784,2057.9L783.5,2058.6L783,2057.9ZM793.5,2079.1L797.9,2085.2L793.5,2091.3L789.1,2085.2ZM793.5,2084.5L794,2085.2L793.5,2085.9L793,2085.2ZM803.5,2110.4L807.9,2116.5L803.5,2122.6L799.1,2116.5ZM803.5,2115.8L804,2116.5L803.5,2117.2L803,2116.5ZM813.5,2151.8L817.9,2157.9L813.5,2164L809.1,2157.9ZM813.5,2157.2L814,2157.9L813.5,2158.5L813,2157.9ZM823.5,2221.4L827.9,2227.5L823.5,2233.6L819.1,2227.5ZM823.5,2226.9L824,2227.5L823.5,2228.2L823,2227.5ZM843.5,2219.4L847.9,2225.5L843.5,2231.6L839.1,2225.5ZM843.5,2224.8L844,2225.5L843.5,2226.2L843,2225.5ZM853.5,2161.9L857.9,2168L853.5,2174.1L849.1,2168ZM853.5,2167.3L853.9,2168L853.5,2168.6L853,2168ZM863.5,2129.6L867.9,2135.7L863.5,2141.8L859.1,2135.7ZM863.5,2135L863.9,2135.7L863.5,2136.3L863,2135.7ZM873.4,2106.3L877.8,2112.4L873.4,2118.5L869,2112.4ZM873.4,2111.8L873.9,2112.4L873.4,2113.1L873,2112.4ZM883.4,2089.2L887.8,2095.3L883.4,2101.4L879,2095.3ZM883.4,2094.6L883.9,2095.3L883.4,2096L882.9,2095.3ZM893.4,2075L897.8,2081.1L893.4,2087.2L889,2081.1ZM893.4,2080.5L893.9,2081.1L893.4,2081.8L892.9,2081.1ZM903.4,2062.9L907.8,2069L903.4,2075.1L899,2069ZM903.4,2068.4L903.9,2069L903.4,2069.7L902.9,2069ZM913.4,2052.8L917.8,2058.9L913.4,2065L909,2058.9ZM913.4,2058.3L913.9,2058.9L913.4,2059.6L912.9,2058.9ZM923.4,2043.8L927.8,2049.9L923.4,2056L919,2049.9ZM923.4,2049.2L923.9,2049.9L923.4,2050.5L922.9,2049.9ZM933.4,2036.7L937.8,2042.8L933.4,2048.9L929,2042.8ZM933.4,2042.1L933.9,2042.8L933.4,2043.5L932.9,2042.8ZM943.4,2029.1L947.8,2035.2L943.4,2041.3L939,2035.2ZM943.4,2034.5L943.9,2035.2L943.4,2035.9L942.9,2035.2ZM953.4,2023.6L957.8,2029.7L953.4,2035.8L949,2029.7ZM953.4,2029L953.9,2029.7L953.4,2030.3L952.9,2029.7ZM963.4,2016L967.8,2022.1L963.4,2028.2L959,2022.1ZM963.4,2021.4L963.8,2022.1L963.4,2022.8L962.9,2022.1Z" fill="#008000" fill-rule="evenodd"/>
<path clip-path="url(#c3)" d="M114.1,1983.2L124.1,1979.7L134.1,1976.1L144.1,1972.6L154.1,1969L164.1,1965.5L174,1962L184,1958.5L194,1955L204,1951.5L214,1948.1L224,1944.6L234,1941.2L244,1937.7L254,1934.3L264,1930.7L274,1927.1L284,1923.5L293.9,1919.8L303.9,1916.2L313.9,1912.7L323.9,1909.4L333.9,1906.2L343.9,1903.3L353.9,1900.4L363.9,1897.6L373.9,1894.9L383.9,1892.2L393.9,1889.4L403.8,1886.6L413.8,1883.5L423.8,1881.2L433.8,1879.5L443.8,1878.5L453.8,1877.8L463.8,1877.8L473.8,1878.3L483.8,1879.6L493.8,1881.6L503.8,1884.2L513.8,1887.5L523.7,1891.6L533.7,1896.2L543.7,1901.1L553.7,1906.2L563.7,1911.6L573.7,1917.4L583.7,1924.1L593.7,1931.5L603.7,1938.9L613.7,1946.1L623.7,1954.2L633.6,1964.5L643.6,1976.2L653.6,1988.3L663.6,2000.4L673.6,2016L683.6,2036.2L693.6,2066L703.6,2115.5L713.6,2151.8L723.6,2033.7L733.6,1949.9L743.6,1909.5L753.5,1951.9L763.5,1988.3L773.5,2017.5L783.5,2043.8L793.5,2070L803.5,2104.4L813.5,2147.8L823.5,2221.5L833.5,2479.9L843.5,2196.2L853.5,2144.7L863.5,2113.5L873.4,2091.2L883.4,2075.6L893.4,2062L903.4,2049.9L913.4,2039.8L923.4,2030.7L933.4,2023.6L943.4,2017L953.4,2010.5L963.4,2004.4L973.4,1999.4" fill="none" stroke="#0f77be" stroke-width="3.3" stroke-dasharray="10.6 10.6"/>
<path d="M111,1977.7L111,1988.7L120.3,1983.2ZM113.8,1982.7L113.8,1983.8L114.7,1983.2ZM121,1974.2L121,1985.2L130.3,1979.7ZM123.8,1979.1L123.8,1980.2L124.7,1979.7ZM130.9,1970.6L130.9,1981.6L140.2,1976.1ZM133.8,1975.6L133.8,1976.7L134.7,1976.1ZM140.9,1967.1L140.9,1978.1L150.2,1972.6ZM143.8,1972L143.8,1973.1L144.7,1972.6ZM150.9,1963.5L150.9,1974.5L160.2,1969ZM153.8,1968.5L153.8,1969.6L154.7,1969ZM160.9,1960L160.9,1971L170.2,1965.5ZM163.7,1965L163.7,1966.1L164.7,1965.5ZM170.9,1956.5L170.9,1967.5L180.2,1962ZM173.7,1961.4L173.7,1962.5L174.7,1962ZM180.9,1953L180.9,1964L190.2,1958.5ZM183.7,1957.9L183.7,1959L184.7,1958.5ZM190.9,1949.5L190.9,1960.5L200.2,1955ZM193.7,1954.5L193.7,1955.6L194.6,1955ZM200.9,1946L200.9,1957L210.2,1951.5ZM203.7,1951L203.7,1952.1L204.6,1951.5ZM210.9,1942.6L210.9,1953.6L220.2,1948.1ZM213.7,1947.5L213.7,1948.6L214.6,1948.1ZM220.9,1939.1L220.9,1950.1L230.2,1944.6ZM223.7,1944.1L223.7,1945.2L224.6,1944.6ZM230.9,1935.7L230.9,1946.7L240.2,1941.2ZM233.7,1940.6L233.7,1941.7L234.6,1941.2ZM240.9,1932.2L240.9,1943.2L250.2,1937.7ZM243.7,1937.2L243.7,1938.3L244.6,1937.7ZM250.8,1928.8L250.8,1939.8L260.1,1934.3ZM253.7,1933.7L253.7,1934.8L254.6,1934.3ZM260.8,1925.2L260.8,1936.2L270.1,1930.7ZM263.7,1930.2L263.7,1931.3L264.6,1930.7ZM270.8,1921.6L270.8,1932.6L280.1,1927.1ZM273.6,1926.6L273.6,1927.7L274.6,1927.1ZM280.8,1918L280.8,1929L290.1,1923.5ZM283.6,1922.9L283.6,1924L284.6,1923.5ZM290.8,1914.3L290.8,1925.3L300.1,1919.8ZM293.6,1919.2L293.6,1920.3L294.6,1919.8ZM300.8,1910.7L300.8,1921.7L310.1,1916.2ZM303.6,1915.7L303.6,1916.8L304.6,1916.2ZM310.8,1907.2L310.8,1918.2L320.1,1912.7ZM313.6,1912.2L313.6,1913.3L314.5,1912.7ZM320.8,1903.9L320.8,1914.9L330.1,1909.4ZM323.6,1908.8L323.6,1909.9L324.5,1909.4ZM330.8,1900.7L330.8,1911.7L340.1,1906.2ZM333.6,1905.7L333.6,1906.8L334.5,1906.2ZM340.8,1897.8L340.8,1908.8L350.1,1903.3ZM343.6,1902.7L343.6,1903.8L344.5,1903.3ZM350.8,1894.9L350.8,1905.9L360.1,1900.4ZM353.6,1899.8L353.6,1900.9L354.5,1900.4ZM360.7,1892.1L360.7,1903.1L370,1897.6ZM363.6,1897.1L363.6,1898.2L364.5,1897.6ZM370.7,1889.4L370.7,1900.4L380,1894.9ZM373.6,1894.3L373.6,1895.4L374.5,1894.9ZM380.7,1886.7L380.7,1897.7L390,1892.2ZM383.6,1891.6L383.6,1892.7L384.5,1892.2ZM390.7,1883.9L390.7,1894.9L400,1889.4ZM393.5,1888.9L393.5,1890L394.5,1889.4ZM400.7,1881.1L400.7,1892.1L410,1886.6ZM403.5,1886L403.5,1887.1L404.5,1886.6ZM410.7,1878L410.7,1889L420,1883.5ZM413.5,1883L413.5,1884.1L414.5,1883.5ZM420.7,1875.7L420.7,1886.7L430,1881.2ZM423.5,1880.6L423.5,1881.7L424.4,1881.2ZM430.7,1874L430.7,1885L440,1879.5ZM433.5,1879L433.5,1880.1L434.4,1879.5ZM440.7,1873L440.7,1884L450,1878.5ZM443.5,1877.9L443.5,1879L444.4,1878.5ZM450.7,1872.3L450.7,1883.3L460,1877.8ZM453.5,1877.3L453.5,1878.4L454.4,1877.8ZM460.7,1872.3L460.7,1883.3L470,1877.8ZM463.5,1877.3L463.5,1878.4L464.4,1877.8ZM470.7,1872.8L470.7,1883.8L480,1878.3ZM473.5,1877.7L473.5,1878.8L474.4,1878.3ZM480.6,1874.1L480.6,1885.1L489.9,1879.6ZM483.5,1879L483.5,1880.1L484.4,1879.6ZM490.6,1876.1L490.6,1887.1L499.9,1881.6ZM493.5,1881.1L493.5,1882.2L494.4,1881.6ZM500.6,1878.7L500.6,1889.7L509.9,1884.2ZM503.4,1883.7L503.4,1884.8L504.4,1884.2ZM510.6,1882L510.6,1893L519.9,1887.5ZM513.4,1887L513.4,1888.1L514.4,1887.5ZM520.6,1886.1L520.6,1897.1L529.9,1891.6ZM523.4,1891L523.4,1892.1L524.4,1891.6ZM530.6,1890.7L530.6,1901.7L539.9,1896.2ZM533.4,1895.7L533.4,1896.8L534.4,1896.2ZM540.6,1895.6L540.6,1906.6L549.9,1901.1ZM543.4,1900.6L543.4,1901.7L544.3,1901.1ZM550.6,1900.7L550.6,1911.7L559.9,1906.2ZM553.4,1905.6L553.4,1906.7L554.3,1906.2ZM560.6,1906.1L560.6,1917.1L569.9,1911.6ZM563.4,1911L563.4,1912.1L564.3,1911.6ZM570.6,1911.9L570.6,1922.9L579.9,1917.4ZM573.4,1916.9L573.4,1918L574.3,1917.4ZM580.6,1918.6L580.6,1929.6L589.9,1924.1ZM583.4,1923.6L583.4,1924.7L584.3,1924.1ZM590.5,1926L590.5,1937L599.8,1931.5ZM593.4,1931L593.4,1932.1L594.3,1931.5ZM600.5,1933.4L600.5,1944.4L609.8,1938.9ZM603.4,1938.3L603.4,1939.4L604.3,1938.9ZM610.5,1940.6L610.5,1951.6L619.8,1946.1ZM613.4,1945.5L613.4,1946.6L614.3,1946.1ZM620.5,1948.7L620.5,1959.7L629.8,1954.2ZM623.3,1953.6L623.3,1954.7L624.3,1954.2ZM630.5,1959L630.5,1970L639.8,1964.5ZM633.3,1963.9L633.3,1965L634.3,1964.5ZM640.5,1970.7L640.5,1981.7L649.8,1976.2ZM643.3,1975.6L643.3,1976.7L644.3,1976.2ZM650.5,1982.8L650.5,1993.8L659.8,1988.3ZM653.3,1987.7L653.3,1988.8L654.2,1988.3ZM660.5,1994.9L660.5,2005.9L669.8,2000.4ZM663.3,1999.8L663.3,2000.9L664.2,2000.4ZM670.5,2010.5L670.5,2021.5L679.8,2016ZM673.3,2015.5L673.3,2016.6L674.2,2016ZM680.5,2030.7L680.5,2041.7L689.8,2036.2ZM683.3,2035.7L683.3,2036.8L684.2,2036.2ZM690.5,2060.5L690.5,2071.5L699.8,2066ZM693.3,2065.5L693.3,2066.6L694.2,2066ZM700.5,2110L700.5,2121L709.8,2115.5ZM703.3,2114.9L703.3,2116L704.2,2115.5ZM710.4,2146.3L710.4,2157.3L719.7,2151.8ZM713.3,2151.3L713.3,2152.4L714.2,2151.8ZM720.4,2028.2L720.4,2039.2L729.7,2033.7ZM723.3,2033.2L723.3,2034.3L724.2,2033.7ZM730.4,1944.4L730.4,1955.4L739.7,1949.9ZM733.2,1949.4L733.2,1950.5L734.2,1949.9ZM740.4,1904L740.4,1915L749.7,1909.5ZM743.2,1909L743.2,1910.1L744.2,1909.5ZM750.4,1946.4L750.4,1957.4L759.7,1951.9ZM753.2,1951.4L753.2,1952.5L754.2,1951.9ZM760.4,1982.8L760.4,1993.8L769.7,1988.3ZM763.2,1987.7L763.2,1988.8L764.2,1988.3ZM770.4,2012L770.4,2023L779.7,2017.5ZM773.2,2017L773.2,2018.1L774.1,2017.5ZM780.4,2038.3L780.4,2049.3L789.7,2043.8ZM783.2,2043.2L783.2,2044.3L784.1,2043.8ZM790.4,2064.5L790.4,2075.5L799.7,2070ZM793.2,2069.5L793.2,2070.6L794.1,2070ZM800.4,2098.9L800.4,2109.9L809.7,2104.4ZM803.2,2103.8L803.2,2104.9L804.1,2104.4ZM810.4,2142.3L810.4,2153.3L819.7,2147.8ZM813.2,2147.2L813.2,2148.3L814.1,2147.8ZM820.3,2216L820.3,2227L829.6,2221.5ZM823.2,2220.9L823.2,2222L824.1,2221.5ZM840.3,2190.7L840.3,2201.7L849.6,2196.2ZM843.2,2195.7L843.2,2196.8L844.1,2196.2ZM850.3,2139.2L850.3,2150.2L859.6,2144.7ZM853.1,2144.2L853.1,2145.3L854.1,2144.7ZM860.3,2108L860.3,2119L869.6,2113.5ZM863.1,2112.9L863.1,2114L864.1,2113.5ZM870.3,2085.7L870.3,2096.7L879.6,2091.2ZM873.1,2090.7L873.1,2091.8L874.1,2091.2ZM880.3,2070.1L880.3,2081.1L889.6,2075.6ZM883.1,2075L883.1,2076.1L884,2075.6ZM890.3,2056.5L890.3,2067.5L899.6,2062ZM893.1,2061.4L893.1,2062.5L894,2062ZM900.3,2044.4L900.3,2055.4L909.6,2049.9ZM903.1,2049.3L903.1,2050.4L904,2049.9ZM910.3,2034.3L910.3,2045.3L919.6,2039.8ZM913.1,2039.2L913.1,2040.3L914,2039.8ZM920.3,2025.2L920.3,2036.2L929.6,2030.7ZM923.1,2030.1L923.1,2031.2L924,2030.7ZM930.3,2018.1L930.3,2029.1L939.6,2023.6ZM933.1,2023.1L933.1,2024.2L934,2023.6ZM940.2,2011.5L940.2,2022.5L949.5,2017ZM943.1,2016.5L943.1,2017.6L944,2017ZM950.2,2005L950.2,2016L959.5,2010.5ZM953.1,2009.9L953.1,2011L954,2010.5ZM960.2,1998.9L960.2,2009.9L969.5,2004.4ZM963,2003.9L963,2005L964,2004.4Z" fill="#0f77be" fill-rule="evenodd"/>
<rect x="114.1" y="1874.2" width="856.4" height="403.8" fill="none" stroke="#5c5c5c" stroke-width="1.2"/>
<path d="M114.1,2278v-9.2M114.1,1874.2v9.2M256.8,2278v-9.2M256.8,1874.2v9.2M399.6,2278v-9.2M399.6,1874.2v9.2M542.3,2278v-9.2M542.3,1874.2v9.2M685,2278v-9.2M685,1874.2v9.2M827.8,2278v-9.2M827.8,1874.2v9.2M970.5,2278v-9.2M970.5,1874.2v9.2M114.1,1874.2h9.2M970.5,1874.2h-9.2M114.1,1975.2h9.2M970.5,1975.2h-9.2M114.1,2076.1h9.2M970.5,2076.1h-9.2M114.1,2177.1h9.2M970.5,2177.1h-9.2M114.1,2278h9.2M970.5,2278h-9.2" stroke="#3a3a3a" stroke-width="1.4" fill="none"/>
<text transform="translate(114.1,2324.8) scale(1,1.12)" font-size="38.3" text-anchor="middle" fill="#262626" stroke="#262626" stroke-width="0.2">1</text>
<text transform="translate(256.8,2324.8) scale(1,1.12)" font-size="38.3" text-anchor="middle" fill="#262626" stroke="#262626" stroke-width="0.2">1.5</text>
<text transform="translate(399.6,2324.8) scale(1,1.12)" font-size="38.3" text-anchor="middle" fill="#262626" stroke="#262626" stroke-width="0.2">2</text>
<text transform="translate(542.3,2324.8) scale(1,1.12)" font-size="38.3" text-anchor="middle" fill="#262626" stroke="#262626" stroke-width="0.2">2.5</text>
<text transform="translate(685,2324.8) scale(1,1.12)" font-size="38.3" text-anchor="middle" fill="#262626" stroke="#262626" stroke-width="0.2">3</text>
<text transform="translate(827.8,2324.8) scale(1,1.12)" font-size="38.3" text-anchor="middle" fill="#262626" stroke="#262626" stroke-width="0.2">3.5</text>
<text transform="translate(970.5,2324.8) scale(1,1.12)" font-size="38.3" text-anchor="middle" fill="#262626" stroke="#262626" stroke-width="0.2">4</text>
<text transform="translate(105.3,1889.5) scale(1,1.12)" font-size="38.3" text-anchor="end" fill="#262626" stroke="#262626" stroke-width="0.2">0</text>
<text transform="translate(105.3,1990.5) scale(1,1.12)" font-size="38.3" text-anchor="end" fill="#262626" stroke="#262626" stroke-width="0.2">-10</text>
<text transform="translate(105.3,2091.4) scale(1,1.12)" font-size="38.3" text-anchor="end" fill="#262626" stroke="#262626" stroke-width="0.2">-20</text>
<text transform="translate(105.3,2192.4) scale(1,1.12)" font-size="38.3" text-anchor="end" fill="#262626" stroke="#262626" stroke-width="0.2">-30</text>
<text transform="translate(105.3,2293.3) scale(1,1.12)" font-size="38.3" text-anchor="end" fill="#262626" stroke="#262626" stroke-width="0.2">-40</text>
<text transform="translate(551,2369) scale(1,1.1)" font-size="38.3" text-anchor="middle" fill="#000" stroke="#000" stroke-width="0.3">Frequency (GHz)</text>
<text transform="translate(26.7,2150.8) scale(1,1.05) rotate(-90)" font-size="38.3" fill="#000" stroke="#000" stroke-width="0.3"><tspan x="-2.7" dy="-5.7" font-size="27">|</tspan><tspan x="2.6" dy="5.7">S</tspan><tspan x="26.2" dy="18.5" font-size="28">21</tspan><tspan x="58" dy="-24.2" font-size="27">|</tspan><tspan x="74" dy="5.7">(dB)</tspan></text>
<text transform="translate(484,2423) scale(1,1.05)" font-size="32" text-anchor="middle" fill="#111" stroke="#000" stroke-width="0.3">(d)</text>
<rect x="277.3" y="2128.7" width="139.1" height="138.2" fill="#fff" stroke="#444" stroke-width="1"/>
<path d="M280,2151.9h18.4" stroke="#0000ff" stroke-width="3.3" stroke-dasharray="12 8" fill="none"/>
<path d="M284,2155L294.4,2155L289.2,2145.6ZM288.8,2152.2L289.6,2152.2L289.2,2151.4Z" fill="#0000ff" fill-rule="evenodd"/>
<text transform="translate(302.9,2166.4) scale(1,1.085)" font-size="37.2" fill="#000" stroke="#000" stroke-width="0.3">TE-0°</text>
<path d="M280,2196.9h18.4" stroke="#7e2f8e" stroke-width="3.3" stroke-dasharray="12 8" fill="none"/>
<path d="M285.7,2196.9h7M289.2,2193.4v7M286.7,2194.4l4.9,4.9M286.7,2199.4l4.9,-4.9" fill="none" stroke="#7e2f8e" stroke-width="1.7"/>
<text transform="translate(302.9,2211.4) scale(1,1.085)" font-size="37.2" fill="#000" stroke="#000" stroke-width="0.3">TE-30°</text>
<path d="M280,2241.9h18.4" stroke="#ff0000" stroke-width="3.3" stroke-dasharray="12 8" fill="none"/>
<circle cx="289.2" cy="2241.9" r="2.3" fill="none" stroke="#ff0000" stroke-width="2.7"/>
<text transform="translate(302.9,2256.4) scale(1,1.085)" font-size="37.2" fill="#000" stroke="#000" stroke-width="0.3">TE-45°</text>
<rect x="420.3" y="2128.7" width="149.2" height="138.2" fill="#fff" stroke="#444" stroke-width="1"/>
<path d="M423,2151.9h18.4" stroke="#000000" stroke-width="3.3" stroke-dasharray="12 8" fill="none"/>
<path d="M435.3,2146.4L435.3,2157.4L426,2151.9ZM432.5,2151.4L432.5,2152.4L431.7,2151.9Z" fill="#000000" fill-rule="evenodd"/>
<text transform="translate(445.9,2166.4) scale(1,1.085)" font-size="37.2" fill="#000" stroke="#000" stroke-width="0.3">TM-0°</text>
<path d="M423,2196.9h18.4" stroke="#008000" stroke-width="3.3" stroke-dasharray="12 8" fill="none"/>
<path d="M432.2,2190.8L436.6,2196.9L432.2,2203L427.8,2196.9ZM432.2,2196.2L432.7,2196.9L432.2,2197.6L431.7,2196.9Z" fill="#008000" fill-rule="evenodd"/>
<text transform="translate(445.9,2211.4) scale(1,1.085)" font-size="37.2" fill="#000" stroke="#000" stroke-width="0.3">TM-30°</text>
<path d="M423,2241.9h18.4" stroke="#0f77be" stroke-width="3.3" stroke-dasharray="12 8" fill="none"/>
<path d="M429.1,2236.4L429.1,2247.4L438.4,2241.9ZM431.9,2241.3L431.9,2242.5L432.8,2241.9Z" fill="#0f77be" fill-rule="evenodd"/>
<text transform="translate(445.9,2256.4) scale(1,1.085)" font-size="37.2" fill="#000" stroke="#000" stroke-width="0.3">TM-45°</text>
</svg>
</body></html>
